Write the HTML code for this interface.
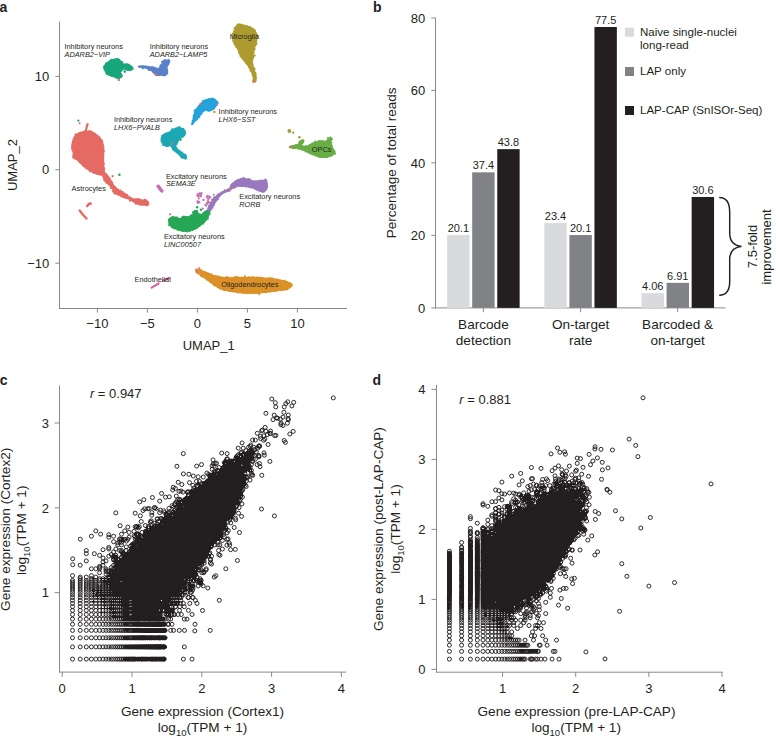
<!DOCTYPE html>
<html><head><meta charset="utf-8"><style>
html,body{margin:0;padding:0;background:#fff;}
svg{display:block;}
text{font-family:"Liberation Sans",sans-serif;fill:#231f20;}
.it{font-style:italic;}
</style></head><body>
<svg width="776" height="737" viewBox="0 0 776 737">
<text x="-0.6" y="11.5" font-size="14" font-weight="bold">a</text>
<text x="373" y="11.5" font-size="14" font-weight="bold">b</text>
<text x="-0.3" y="385.3" font-size="14" font-weight="bold">c</text>
<text x="372.6" y="385.2" font-size="14" font-weight="bold">d</text>
<line x1="59.5" y1="21.5" x2="59.5" y2="309.0" stroke="#8a8a8a" stroke-width="1"/>
<line x1="59.0" y1="308.5" x2="347" y2="308.5" stroke="#8a8a8a" stroke-width="1"/>
<line x1="55.3" y1="76.4" x2="59.5" y2="76.4" stroke="#8a8a8a" stroke-width="1"/>
<text x="49.30" y="81.05" font-size="13" text-anchor="end">10</text>
<line x1="55.3" y1="169.7" x2="59.5" y2="169.7" stroke="#8a8a8a" stroke-width="1"/>
<text x="49.30" y="174.35" font-size="13" text-anchor="end">0</text>
<line x1="55.3" y1="263.2" x2="59.5" y2="263.2" stroke="#8a8a8a" stroke-width="1"/>
<text x="49.30" y="267.85" font-size="13" text-anchor="end">−10</text>
<line x1="97.4" y1="308.5" x2="97.4" y2="312.6" stroke="#8a8a8a" stroke-width="1"/>
<text x="97.40" y="328.30" font-size="13" text-anchor="middle">−10</text>
<line x1="147.4" y1="308.5" x2="147.4" y2="312.6" stroke="#8a8a8a" stroke-width="1"/>
<text x="147.40" y="328.30" font-size="13" text-anchor="middle">−5</text>
<line x1="197.4" y1="308.5" x2="197.4" y2="312.6" stroke="#8a8a8a" stroke-width="1"/>
<text x="197.40" y="328.30" font-size="13" text-anchor="middle">0</text>
<line x1="247.4" y1="308.5" x2="247.4" y2="312.6" stroke="#8a8a8a" stroke-width="1"/>
<text x="247.40" y="328.30" font-size="13" text-anchor="middle">5</text>
<line x1="297.4" y1="308.5" x2="297.4" y2="312.6" stroke="#8a8a8a" stroke-width="1"/>
<text x="297.40" y="328.30" font-size="13" text-anchor="middle">10</text>
<text x="208.70" y="349.90" font-size="13" text-anchor="middle">UMAP_1</text>
<text transform="translate(17.4,165) rotate(-90)" font-size="13" text-anchor="middle">UMAP_2</text>
<line x1="435.5" y1="17.9" x2="435.5" y2="308.4" stroke="#8a8a8a" stroke-width="1"/>
<line x1="435.0" y1="307.9" x2="725.6" y2="307.9" stroke="#8a8a8a" stroke-width="1"/>
<line x1="431.3" y1="307.9" x2="435.5" y2="307.9" stroke="#8a8a8a" stroke-width="1"/>
<text x="425.20" y="312.55" font-size="13" text-anchor="end">0</text>
<line x1="431.3" y1="235.40999999999997" x2="435.5" y2="235.40999999999997" stroke="#8a8a8a" stroke-width="1"/>
<text x="425.20" y="240.06" font-size="13" text-anchor="end">20</text>
<line x1="431.3" y1="162.92" x2="435.5" y2="162.92" stroke="#8a8a8a" stroke-width="1"/>
<text x="425.20" y="167.57" font-size="13" text-anchor="end">40</text>
<line x1="431.3" y1="90.42999999999998" x2="435.5" y2="90.42999999999998" stroke="#8a8a8a" stroke-width="1"/>
<text x="425.20" y="95.08" font-size="13" text-anchor="end">60</text>
<line x1="431.3" y1="17.939999999999998" x2="435.5" y2="17.939999999999998" stroke="#8a8a8a" stroke-width="1"/>
<text x="425.20" y="22.59" font-size="13" text-anchor="end">80</text>
<line x1="483.4" y1="307.9" x2="483.4" y2="312.2" stroke="#8a8a8a" stroke-width="1"/>
<line x1="580.6" y1="307.9" x2="580.6" y2="312.2" stroke="#8a8a8a" stroke-width="1"/>
<line x1="677.6" y1="307.9" x2="677.6" y2="312.2" stroke="#8a8a8a" stroke-width="1"/>
<path d="M104.1,66.5 C104.4,65.0 105.7,63.6 107.2,62.4 C108.8,61.2 111.3,59.5 113.4,59.1 C115.5,58.7 118.0,59.1 119.6,59.8 C121.1,60.5 121.2,62.6 122.7,63.4 C124.2,64.2 127.2,63.5 128.9,64.4 C130.6,65.3 132.7,67.6 133.0,68.6 C133.3,69.6 131.6,70.1 130.5,70.4 C129.4,70.7 127.5,70.7 126.5,70.2 C125.5,69.7 125.2,67.7 124.6,67.6 C124.0,67.5 123.5,68.7 122.8,69.5 C122.1,70.3 120.7,71.5 120.6,72.6 C120.5,73.6 122.4,74.8 122.2,75.8 C122.0,76.8 120.7,78.2 119.6,78.4 C118.5,78.7 117.4,77.9 115.5,77.3 C113.6,76.7 109.9,75.7 108.2,74.7 C106.5,73.8 105.9,73.0 105.2,71.6 C104.5,70.2 103.8,68.0 104.1,66.5Z" fill="#18a67b" stroke="#18a67b" stroke-width="0.6"/>
<path d="M106.7 65.9a1.05 1.05 0 1 0-2.1 0a1.05 1.05 0 1 0 2.1 0M106.7 64.5a1.05 1.05 0 1 0-2.1 0a1.05 1.05 0 1 0 2.1 0M107.3 63.3a1.05 1.05 0 1 0-2.1 0a1.05 1.05 0 1 0 2.1 0M108.8 63.1a1.05 1.05 0 1 0-2.1 0a1.05 1.05 0 1 0 2.1 0M110.0 62.7a1.05 1.05 0 1 0-2.1 0a1.05 1.05 0 1 0 2.1 0M110.7 61.5a1.05 1.05 0 1 0-2.1 0a1.05 1.05 0 1 0 2.1 0M111.6 60.6a1.05 1.05 0 1 0-2.1 0a1.05 1.05 0 1 0 2.1 0M112.7 59.8a1.05 1.05 0 1 0-2.1 0a1.05 1.05 0 1 0 2.1 0M114.2 60.4a1.05 1.05 0 1 0-2.1 0a1.05 1.05 0 1 0 2.1 0M115.3 60.2a1.05 1.05 0 1 0-2.1 0a1.05 1.05 0 1 0 2.1 0M116.4 59.2a1.05 1.05 0 1 0-2.1 0a1.05 1.05 0 1 0 2.1 0M117.7 59.4a1.05 1.05 0 1 0-2.1 0a1.05 1.05 0 1 0 2.1 0M119.0 59.1a1.05 1.05 0 1 0-2.1 0a1.05 1.05 0 1 0 2.1 0M120.2 59.7a1.05 1.05 0 1 0-2.1 0a1.05 1.05 0 1 0 2.1 0M120.9 60.7a1.05 1.05 0 1 0-2.1 0a1.05 1.05 0 1 0 2.1 0M121.4 61.7a1.05 1.05 0 1 0-2.1 0a1.05 1.05 0 1 0 2.1 0M123.3 62.1a1.05 1.05 0 1 0-2.1 0a1.05 1.05 0 1 0 2.1 0M123.3 64.0a1.05 1.05 0 1 0-2.1 0a1.05 1.05 0 1 0 2.1 0M124.8 64.7a1.05 1.05 0 1 0-2.1 0a1.05 1.05 0 1 0 2.1 0M126.1 65.0a1.05 1.05 0 1 0-2.1 0a1.05 1.05 0 1 0 2.1 0M127.5 64.4a1.05 1.05 0 1 0-2.1 0a1.05 1.05 0 1 0 2.1 0M128.7 64.6a1.05 1.05 0 1 0-2.1 0a1.05 1.05 0 1 0 2.1 0M129.7 65.1a1.05 1.05 0 1 0-2.1 0a1.05 1.05 0 1 0 2.1 0M130.7 65.7a1.05 1.05 0 1 0-2.1 0a1.05 1.05 0 1 0 2.1 0M131.8 66.3a1.05 1.05 0 1 0-2.1 0a1.05 1.05 0 1 0 2.1 0M132.8 67.1a1.05 1.05 0 1 0-2.1 0a1.05 1.05 0 1 0 2.1 0M133.7 68.0a1.05 1.05 0 1 0-2.1 0a1.05 1.05 0 1 0 2.1 0M133.5 69.0a1.05 1.05 0 1 0-2.1 0a1.05 1.05 0 1 0 2.1 0M132.3 68.6a1.05 1.05 0 1 0-2.1 0a1.05 1.05 0 1 0 2.1 0M131.6 70.1a1.05 1.05 0 1 0-2.1 0a1.05 1.05 0 1 0 2.1 0M130.3 69.3a1.05 1.05 0 1 0-2.1 0a1.05 1.05 0 1 0 2.1 0M129.2 69.9a1.05 1.05 0 1 0-2.1 0a1.05 1.05 0 1 0 2.1 0M128.2 69.0a1.05 1.05 0 1 0-2.1 0a1.05 1.05 0 1 0 2.1 0M127.4 69.2a1.05 1.05 0 1 0-2.1 0a1.05 1.05 0 1 0 2.1 0M127.1 67.9a1.05 1.05 0 1 0-2.1 0a1.05 1.05 0 1 0 2.1 0M125.1 67.2a1.05 1.05 0 1 0-2.1 0a1.05 1.05 0 1 0 2.1 0M125.4 69.2a1.05 1.05 0 1 0-2.1 0a1.05 1.05 0 1 0 2.1 0M123.2 69.2a1.05 1.05 0 1 0-2.1 0a1.05 1.05 0 1 0 2.1 0M122.7 70.5a1.05 1.05 0 1 0-2.1 0a1.05 1.05 0 1 0 2.1 0M121.0 71.0a1.05 1.05 0 1 0-2.1 0a1.05 1.05 0 1 0 2.1 0M120.9 72.9a1.05 1.05 0 1 0-2.1 0a1.05 1.05 0 1 0 2.1 0M122.1 74.1a1.05 1.05 0 1 0-2.1 0a1.05 1.05 0 1 0 2.1 0M122.5 75.4a1.05 1.05 0 1 0-2.1 0a1.05 1.05 0 1 0 2.1 0M122.7 76.1a1.05 1.05 0 1 0-2.1 0a1.05 1.05 0 1 0 2.1 0M122.0 76.9a1.05 1.05 0 1 0-2.1 0a1.05 1.05 0 1 0 2.1 0M120.8 77.2a1.05 1.05 0 1 0-2.1 0a1.05 1.05 0 1 0 2.1 0M120.1 78.1a1.05 1.05 0 1 0-2.1 0a1.05 1.05 0 1 0 2.1 0M119.2 77.2a1.05 1.05 0 1 0-2.1 0a1.05 1.05 0 1 0 2.1 0M117.5 78.0a1.05 1.05 0 1 0-2.1 0a1.05 1.05 0 1 0 2.1 0M116.7 76.4a1.05 1.05 0 1 0-2.1 0a1.05 1.05 0 1 0 2.1 0M115.2 76.6a1.05 1.05 0 1 0-2.1 0a1.05 1.05 0 1 0 2.1 0M114.1 75.9a1.05 1.05 0 1 0-2.1 0a1.05 1.05 0 1 0 2.1 0M112.7 76.0a1.05 1.05 0 1 0-2.1 0a1.05 1.05 0 1 0 2.1 0M111.8 74.8a1.05 1.05 0 1 0-2.1 0a1.05 1.05 0 1 0 2.1 0M110.3 75.1a1.05 1.05 0 1 0-2.1 0a1.05 1.05 0 1 0 2.1 0M109.4 74.0a1.05 1.05 0 1 0-2.1 0a1.05 1.05 0 1 0 2.1 0M108.0 73.9a1.05 1.05 0 1 0-2.1 0a1.05 1.05 0 1 0 2.1 0M107.3 72.8a1.05 1.05 0 1 0-2.1 0a1.05 1.05 0 1 0 2.1 0M106.9 71.6a1.05 1.05 0 1 0-2.1 0a1.05 1.05 0 1 0 2.1 0M106.8 70.3a1.05 1.05 0 1 0-2.1 0a1.05 1.05 0 1 0 2.1 0M105.6 69.4a1.05 1.05 0 1 0-2.1 0a1.05 1.05 0 1 0 2.1 0M105.5 68.2a1.05 1.05 0 1 0-2.1 0a1.05 1.05 0 1 0 2.1 0M104.9 66.9a1.05 1.05 0 1 0-2.1 0a1.05 1.05 0 1 0 2.1 0" fill="#18a67b"/>
<path d="M139.2,66.0 C140.8,65.9 146.4,66.1 149.5,66.5 C152.6,66.9 155.8,68.8 157.7,68.6 C159.6,68.4 159.9,66.7 160.8,65.5 C161.7,64.3 162.0,62.2 162.9,61.3 C163.8,60.4 164.9,60.0 166.0,60.0 C167.1,60.0 168.9,60.6 169.3,61.3 C169.7,62.0 169.0,63.4 168.6,64.4 C168.2,65.4 167.2,66.1 167.0,67.5 C166.8,68.9 167.8,71.4 167.5,72.7 C167.2,74.0 166.6,74.9 165.0,75.3 C163.4,75.7 159.4,75.6 157.7,75.3 C156.0,75.0 156.1,74.7 154.6,73.7 C153.1,72.7 150.9,70.2 148.5,69.1 C146.1,68.0 141.8,67.5 140.2,67.0 C138.6,66.5 137.6,66.1 139.2,66.0Z" fill="#5a80c8" stroke="#5a80c8" stroke-width="0.6"/>
<path d="M141.5 66.8a1.05 1.05 0 1 0-2.1 0a1.05 1.05 0 1 0 2.1 0M142.8 66.3a1.05 1.05 0 1 0-2.1 0a1.05 1.05 0 1 0 2.1 0M144.1 66.4a1.05 1.05 0 1 0-2.1 0a1.05 1.05 0 1 0 2.1 0M145.4 66.5a1.05 1.05 0 1 0-2.1 0a1.05 1.05 0 1 0 2.1 0M146.7 66.6a1.05 1.05 0 1 0-2.1 0a1.05 1.05 0 1 0 2.1 0M148.0 66.7a1.05 1.05 0 1 0-2.1 0a1.05 1.05 0 1 0 2.1 0M149.2 67.3a1.05 1.05 0 1 0-2.1 0a1.05 1.05 0 1 0 2.1 0M150.4 67.6a1.05 1.05 0 1 0-2.1 0a1.05 1.05 0 1 0 2.1 0M151.7 67.5a1.05 1.05 0 1 0-2.1 0a1.05 1.05 0 1 0 2.1 0M153.1 67.4a1.05 1.05 0 1 0-2.1 0a1.05 1.05 0 1 0 2.1 0M154.4 67.4a1.05 1.05 0 1 0-2.1 0a1.05 1.05 0 1 0 2.1 0M155.6 68.1a1.05 1.05 0 1 0-2.1 0a1.05 1.05 0 1 0 2.1 0M156.8 68.4a1.05 1.05 0 1 0-2.1 0a1.05 1.05 0 1 0 2.1 0M158.1 68.8a1.05 1.05 0 1 0-2.1 0a1.05 1.05 0 1 0 2.1 0M159.5 68.7a1.05 1.05 0 1 0-2.1 0a1.05 1.05 0 1 0 2.1 0M160.9 68.0a1.05 1.05 0 1 0-2.1 0a1.05 1.05 0 1 0 2.1 0M161.4 66.7a1.05 1.05 0 1 0-2.1 0a1.05 1.05 0 1 0 2.1 0M161.6 65.4a1.05 1.05 0 1 0-2.1 0a1.05 1.05 0 1 0 2.1 0M163.2 64.7a1.05 1.05 0 1 0-2.1 0a1.05 1.05 0 1 0 2.1 0M163.8 63.5a1.05 1.05 0 1 0-2.1 0a1.05 1.05 0 1 0 2.1 0M163.1 61.8a1.05 1.05 0 1 0-2.1 0a1.05 1.05 0 1 0 2.1 0M164.6 61.3a1.05 1.05 0 1 0-2.1 0a1.05 1.05 0 1 0 2.1 0M165.4 60.4a1.05 1.05 0 1 0-2.1 0a1.05 1.05 0 1 0 2.1 0M166.7 60.2a1.05 1.05 0 1 0-2.1 0a1.05 1.05 0 1 0 2.1 0M167.7 61.2a1.05 1.05 0 1 0-2.1 0a1.05 1.05 0 1 0 2.1 0M169.4 59.9a1.05 1.05 0 1 0-2.1 0a1.05 1.05 0 1 0 2.1 0M170.5 61.0a1.05 1.05 0 1 0-2.1 0a1.05 1.05 0 1 0 2.1 0M169.9 62.3a1.05 1.05 0 1 0-2.1 0a1.05 1.05 0 1 0 2.1 0M169.7 63.6a1.05 1.05 0 1 0-2.1 0a1.05 1.05 0 1 0 2.1 0M169.0 64.6a1.05 1.05 0 1 0-2.1 0a1.05 1.05 0 1 0 2.1 0M167.8 65.3a1.05 1.05 0 1 0-2.1 0a1.05 1.05 0 1 0 2.1 0M167.5 66.9a1.05 1.05 0 1 0-2.1 0a1.05 1.05 0 1 0 2.1 0M167.6 68.4a1.05 1.05 0 1 0-2.1 0a1.05 1.05 0 1 0 2.1 0M168.2 69.7a1.05 1.05 0 1 0-2.1 0a1.05 1.05 0 1 0 2.1 0M168.3 71.0a1.05 1.05 0 1 0-2.1 0a1.05 1.05 0 1 0 2.1 0M168.0 72.2a1.05 1.05 0 1 0-2.1 0a1.05 1.05 0 1 0 2.1 0M168.4 73.5a1.05 1.05 0 1 0-2.1 0a1.05 1.05 0 1 0 2.1 0M167.0 73.8a1.05 1.05 0 1 0-2.1 0a1.05 1.05 0 1 0 2.1 0M166.4 75.0a1.05 1.05 0 1 0-2.1 0a1.05 1.05 0 1 0 2.1 0M165.2 75.4a1.05 1.05 0 1 0-2.1 0a1.05 1.05 0 1 0 2.1 0M163.8 74.8a1.05 1.05 0 1 0-2.1 0a1.05 1.05 0 1 0 2.1 0M162.6 74.1a1.05 1.05 0 1 0-2.1 0a1.05 1.05 0 1 0 2.1 0M161.3 74.5a1.05 1.05 0 1 0-2.1 0a1.05 1.05 0 1 0 2.1 0M160.0 75.0a1.05 1.05 0 1 0-2.1 0a1.05 1.05 0 1 0 2.1 0M158.7 75.0a1.05 1.05 0 1 0-2.1 0a1.05 1.05 0 1 0 2.1 0M157.4 75.1a1.05 1.05 0 1 0-2.1 0a1.05 1.05 0 1 0 2.1 0M157.0 73.3a1.05 1.05 0 1 0-2.1 0a1.05 1.05 0 1 0 2.1 0M155.7 73.0a1.05 1.05 0 1 0-2.1 0a1.05 1.05 0 1 0 2.1 0M154.5 72.4a1.05 1.05 0 1 0-2.1 0a1.05 1.05 0 1 0 2.1 0M153.8 71.3a1.05 1.05 0 1 0-2.1 0a1.05 1.05 0 1 0 2.1 0M153.5 69.5a1.05 1.05 0 1 0-2.1 0a1.05 1.05 0 1 0 2.1 0M151.4 70.0a1.05 1.05 0 1 0-2.1 0a1.05 1.05 0 1 0 2.1 0M149.9 69.9a1.05 1.05 0 1 0-2.1 0a1.05 1.05 0 1 0 2.1 0M149.1 68.8a1.05 1.05 0 1 0-2.1 0a1.05 1.05 0 1 0 2.1 0M148.1 67.5a1.05 1.05 0 1 0-2.1 0a1.05 1.05 0 1 0 2.1 0M146.7 67.4a1.05 1.05 0 1 0-2.1 0a1.05 1.05 0 1 0 2.1 0M145.4 67.4a1.05 1.05 0 1 0-2.1 0a1.05 1.05 0 1 0 2.1 0M143.9 68.2a1.05 1.05 0 1 0-2.1 0a1.05 1.05 0 1 0 2.1 0M142.8 67.1a1.05 1.05 0 1 0-2.1 0a1.05 1.05 0 1 0 2.1 0M141.6 66.5a1.05 1.05 0 1 0-2.1 0a1.05 1.05 0 1 0 2.1 0M140.2 66.8a1.05 1.05 0 1 0-2.1 0a1.05 1.05 0 1 0 2.1 0M139.9 66.7a1.05 1.05 0 1 0-2.1 0a1.05 1.05 0 1 0 2.1 0" fill="#5a80c8"/>
<path d="M234.3,29.3 C234.9,27.7 235.3,26.6 236.3,25.7 C237.3,24.8 238.7,24.2 240.4,24.2 C242.1,24.2 244.5,25.0 246.5,25.7 C248.5,26.4 251.0,27.1 252.6,28.2 C254.2,29.3 255.4,30.8 256.2,32.3 C257.0,33.8 257.2,35.5 257.2,37.4 C257.2,39.3 256.6,41.6 256.2,43.5 C255.8,45.4 255.0,46.6 254.6,48.6 C254.2,50.6 253.9,53.3 253.6,55.7 C253.3,58.1 252.4,60.5 252.6,62.9 C252.8,65.3 254.0,67.8 254.6,70.0 C255.2,72.2 255.9,74.3 256.2,76.1 C256.5,77.9 256.6,79.8 256.2,80.7 C255.8,81.6 254.7,82.0 254.1,81.2 C253.5,80.4 253.4,78.3 252.6,76.1 C251.8,73.9 250.9,70.4 249.5,68.0 C248.1,65.6 245.9,63.8 244.4,61.8 C242.9,59.8 241.6,57.9 240.4,55.7 C239.2,53.5 238.5,51.0 237.3,48.6 C236.1,46.2 234.0,43.7 233.2,41.5 C232.4,39.3 232.5,37.4 232.7,35.4 C232.9,33.4 233.7,30.9 234.3,29.3Z" fill="#ae9b30" stroke="#ae9b30" stroke-width="0.6"/>
<path d="M235.5 28.0a1.05 1.05 0 1 0-2.1 0a1.05 1.05 0 1 0 2.1 0M237.2 27.4a1.05 1.05 0 1 0-2.1 0a1.05 1.05 0 1 0 2.1 0M237.7 26.5a1.05 1.05 0 1 0-2.1 0a1.05 1.05 0 1 0 2.1 0M238.3 25.3a1.05 1.05 0 1 0-2.1 0a1.05 1.05 0 1 0 2.1 0M239.3 24.4a1.05 1.05 0 1 0-2.1 0a1.05 1.05 0 1 0 2.1 0M240.7 24.5a1.05 1.05 0 1 0-2.1 0a1.05 1.05 0 1 0 2.1 0M241.9 24.7a1.05 1.05 0 1 0-2.1 0a1.05 1.05 0 1 0 2.1 0M242.9 25.9a1.05 1.05 0 1 0-2.1 0a1.05 1.05 0 1 0 2.1 0M244.2 25.6a1.05 1.05 0 1 0-2.1 0a1.05 1.05 0 1 0 2.1 0M245.4 26.0a1.05 1.05 0 1 0-2.1 0a1.05 1.05 0 1 0 2.1 0M246.7 26.3a1.05 1.05 0 1 0-2.1 0a1.05 1.05 0 1 0 2.1 0M248.1 26.2a1.05 1.05 0 1 0-2.1 0a1.05 1.05 0 1 0 2.1 0M249.2 27.0a1.05 1.05 0 1 0-2.1 0a1.05 1.05 0 1 0 2.1 0M250.6 26.9a1.05 1.05 0 1 0-2.1 0a1.05 1.05 0 1 0 2.1 0M251.6 27.7a1.05 1.05 0 1 0-2.1 0a1.05 1.05 0 1 0 2.1 0M252.6 28.5a1.05 1.05 0 1 0-2.1 0a1.05 1.05 0 1 0 2.1 0M253.8 29.0a1.05 1.05 0 1 0-2.1 0a1.05 1.05 0 1 0 2.1 0M254.8 29.7a1.05 1.05 0 1 0-2.1 0a1.05 1.05 0 1 0 2.1 0M255.8 30.4a1.05 1.05 0 1 0-2.1 0a1.05 1.05 0 1 0 2.1 0M256.0 31.8a1.05 1.05 0 1 0-2.1 0a1.05 1.05 0 1 0 2.1 0M256.7 32.8a1.05 1.05 0 1 0-2.1 0a1.05 1.05 0 1 0 2.1 0M256.6 34.1a1.05 1.05 0 1 0-2.1 0a1.05 1.05 0 1 0 2.1 0M258.3 35.0a1.05 1.05 0 1 0-2.1 0a1.05 1.05 0 1 0 2.1 0M258.3 36.3a1.05 1.05 0 1 0-2.1 0a1.05 1.05 0 1 0 2.1 0M257.6 37.6a1.05 1.05 0 1 0-2.1 0a1.05 1.05 0 1 0 2.1 0M257.3 38.8a1.05 1.05 0 1 0-2.1 0a1.05 1.05 0 1 0 2.1 0M256.8 40.0a1.05 1.05 0 1 0-2.1 0a1.05 1.05 0 1 0 2.1 0M257.2 41.3a1.05 1.05 0 1 0-2.1 0a1.05 1.05 0 1 0 2.1 0M256.9 42.6a1.05 1.05 0 1 0-2.1 0a1.05 1.05 0 1 0 2.1 0M257.6 44.1a1.05 1.05 0 1 0-2.1 0a1.05 1.05 0 1 0 2.1 0M256.3 45.1a1.05 1.05 0 1 0-2.1 0a1.05 1.05 0 1 0 2.1 0M255.4 46.1a1.05 1.05 0 1 0-2.1 0a1.05 1.05 0 1 0 2.1 0M254.1 47.2a1.05 1.05 0 1 0-2.1 0a1.05 1.05 0 1 0 2.1 0M255.7 49.0a1.05 1.05 0 1 0-2.1 0a1.05 1.05 0 1 0 2.1 0M254.9 50.1a1.05 1.05 0 1 0-2.1 0a1.05 1.05 0 1 0 2.1 0M253.8 51.3a1.05 1.05 0 1 0-2.1 0a1.05 1.05 0 1 0 2.1 0M254.5 52.7a1.05 1.05 0 1 0-2.1 0a1.05 1.05 0 1 0 2.1 0M253.5 53.9a1.05 1.05 0 1 0-2.1 0a1.05 1.05 0 1 0 2.1 0M255.8 55.5a1.05 1.05 0 1 0-2.1 0a1.05 1.05 0 1 0 2.1 0M254.5 56.7a1.05 1.05 0 1 0-2.1 0a1.05 1.05 0 1 0 2.1 0M253.9 57.9a1.05 1.05 0 1 0-2.1 0a1.05 1.05 0 1 0 2.1 0M253.3 59.1a1.05 1.05 0 1 0-2.1 0a1.05 1.05 0 1 0 2.1 0M252.1 60.2a1.05 1.05 0 1 0-2.1 0a1.05 1.05 0 1 0 2.1 0M253.0 61.8a1.05 1.05 0 1 0-2.1 0a1.05 1.05 0 1 0 2.1 0M252.3 63.2a1.05 1.05 0 1 0-2.1 0a1.05 1.05 0 1 0 2.1 0M253.6 64.4a1.05 1.05 0 1 0-2.1 0a1.05 1.05 0 1 0 2.1 0M252.6 66.1a1.05 1.05 0 1 0-2.1 0a1.05 1.05 0 1 0 2.1 0M253.6 67.2a1.05 1.05 0 1 0-2.1 0a1.05 1.05 0 1 0 2.1 0M255.0 68.1a1.05 1.05 0 1 0-2.1 0a1.05 1.05 0 1 0 2.1 0M255.7 69.3a1.05 1.05 0 1 0-2.1 0a1.05 1.05 0 1 0 2.1 0M254.7 70.9a1.05 1.05 0 1 0-2.1 0a1.05 1.05 0 1 0 2.1 0M254.9 72.2a1.05 1.05 0 1 0-2.1 0a1.05 1.05 0 1 0 2.1 0M256.4 73.1a1.05 1.05 0 1 0-2.1 0a1.05 1.05 0 1 0 2.1 0M256.7 74.4a1.05 1.05 0 1 0-2.1 0a1.05 1.05 0 1 0 2.1 0M256.1 75.8a1.05 1.05 0 1 0-2.1 0a1.05 1.05 0 1 0 2.1 0M256.4 77.0a1.05 1.05 0 1 0-2.1 0a1.05 1.05 0 1 0 2.1 0M256.5 78.2a1.05 1.05 0 1 0-2.1 0a1.05 1.05 0 1 0 2.1 0M256.3 79.4a1.05 1.05 0 1 0-2.1 0a1.05 1.05 0 1 0 2.1 0M256.4 80.3a1.05 1.05 0 1 0-2.1 0a1.05 1.05 0 1 0 2.1 0M256.3 81.6a1.05 1.05 0 1 0-2.1 0a1.05 1.05 0 1 0 2.1 0M255.3 81.0a1.05 1.05 0 1 0-2.1 0a1.05 1.05 0 1 0 2.1 0M254.2 80.1a1.05 1.05 0 1 0-2.1 0a1.05 1.05 0 1 0 2.1 0M255.0 78.5a1.05 1.05 0 1 0-2.1 0a1.05 1.05 0 1 0 2.1 0M254.7 77.3a1.05 1.05 0 1 0-2.1 0a1.05 1.05 0 1 0 2.1 0M254.7 75.8a1.05 1.05 0 1 0-2.1 0a1.05 1.05 0 1 0 2.1 0M253.9 74.7a1.05 1.05 0 1 0-2.1 0a1.05 1.05 0 1 0 2.1 0M254.1 73.3a1.05 1.05 0 1 0-2.1 0a1.05 1.05 0 1 0 2.1 0M253.9 72.0a1.05 1.05 0 1 0-2.1 0a1.05 1.05 0 1 0 2.1 0M252.2 71.2a1.05 1.05 0 1 0-2.1 0a1.05 1.05 0 1 0 2.1 0M251.4 70.1a1.05 1.05 0 1 0-2.1 0a1.05 1.05 0 1 0 2.1 0M251.2 68.8a1.05 1.05 0 1 0-2.1 0a1.05 1.05 0 1 0 2.1 0M250.3 67.8a1.05 1.05 0 1 0-2.1 0a1.05 1.05 0 1 0 2.1 0M250.0 66.4a1.05 1.05 0 1 0-2.1 0a1.05 1.05 0 1 0 2.1 0M249.5 65.0a1.05 1.05 0 1 0-2.1 0a1.05 1.05 0 1 0 2.1 0M248.4 64.3a1.05 1.05 0 1 0-2.1 0a1.05 1.05 0 1 0 2.1 0M247.7 63.2a1.05 1.05 0 1 0-2.1 0a1.05 1.05 0 1 0 2.1 0M247.1 62.0a1.05 1.05 0 1 0-2.1 0a1.05 1.05 0 1 0 2.1 0M246.6 60.9a1.05 1.05 0 1 0-2.1 0a1.05 1.05 0 1 0 2.1 0M245.7 59.9a1.05 1.05 0 1 0-2.1 0a1.05 1.05 0 1 0 2.1 0M244.4 59.3a1.05 1.05 0 1 0-2.1 0a1.05 1.05 0 1 0 2.1 0M243.6 58.3a1.05 1.05 0 1 0-2.1 0a1.05 1.05 0 1 0 2.1 0M243.2 57.0a1.05 1.05 0 1 0-2.1 0a1.05 1.05 0 1 0 2.1 0M241.7 56.4a1.05 1.05 0 1 0-2.1 0a1.05 1.05 0 1 0 2.1 0M241.6 54.9a1.05 1.05 0 1 0-2.1 0a1.05 1.05 0 1 0 2.1 0M240.9 53.9a1.05 1.05 0 1 0-2.1 0a1.05 1.05 0 1 0 2.1 0M240.1 52.8a1.05 1.05 0 1 0-2.1 0a1.05 1.05 0 1 0 2.1 0M240.6 51.2a1.05 1.05 0 1 0-2.1 0a1.05 1.05 0 1 0 2.1 0M240.6 49.8a1.05 1.05 0 1 0-2.1 0a1.05 1.05 0 1 0 2.1 0M238.8 49.1a1.05 1.05 0 1 0-2.1 0a1.05 1.05 0 1 0 2.1 0M238.9 47.6a1.05 1.05 0 1 0-2.1 0a1.05 1.05 0 1 0 2.1 0M237.3 47.0a1.05 1.05 0 1 0-2.1 0a1.05 1.05 0 1 0 2.1 0M237.0 45.6a1.05 1.05 0 1 0-2.1 0a1.05 1.05 0 1 0 2.1 0M236.1 44.7a1.05 1.05 0 1 0-2.1 0a1.05 1.05 0 1 0 2.1 0M235.5 43.5a1.05 1.05 0 1 0-2.1 0a1.05 1.05 0 1 0 2.1 0M236.2 41.8a1.05 1.05 0 1 0-2.1 0a1.05 1.05 0 1 0 2.1 0M234.4 41.2a1.05 1.05 0 1 0-2.1 0a1.05 1.05 0 1 0 2.1 0M234.8 39.8a1.05 1.05 0 1 0-2.1 0a1.05 1.05 0 1 0 2.1 0M234.6 38.7a1.05 1.05 0 1 0-2.1 0a1.05 1.05 0 1 0 2.1 0M234.4 37.4a1.05 1.05 0 1 0-2.1 0a1.05 1.05 0 1 0 2.1 0M233.9 36.2a1.05 1.05 0 1 0-2.1 0a1.05 1.05 0 1 0 2.1 0M234.0 34.9a1.05 1.05 0 1 0-2.1 0a1.05 1.05 0 1 0 2.1 0M234.1 33.6a1.05 1.05 0 1 0-2.1 0a1.05 1.05 0 1 0 2.1 0M235.7 32.7a1.05 1.05 0 1 0-2.1 0a1.05 1.05 0 1 0 2.1 0M235.6 31.3a1.05 1.05 0 1 0-2.1 0a1.05 1.05 0 1 0 2.1 0M236.8 30.4a1.05 1.05 0 1 0-2.1 0a1.05 1.05 0 1 0 2.1 0" fill="#ae9b30"/>
<path d="M191.8,123.5 C191.8,122.5 192.9,119.7 193.3,117.8 C193.7,115.9 193.6,113.9 194.3,112.2 C195.0,110.5 196.2,109.1 197.4,107.5 C198.6,105.9 200.1,103.7 201.5,102.4 C202.9,101.1 204.0,100.5 205.7,99.8 C207.4,99.1 210.2,98.2 211.9,98.2 C213.6,98.2 215.0,98.9 216.0,99.8 C217.0,100.7 218.0,102.3 218.0,103.4 C218.0,104.5 216.8,105.5 216.0,106.5 C215.2,107.5 213.9,108.8 212.9,109.6 C211.9,110.4 211.0,110.9 209.8,111.1 C208.6,111.3 207.1,110.2 205.7,110.6 C204.3,111.0 202.7,112.5 201.5,113.7 C200.3,114.9 199.9,116.2 198.5,117.8 C197.1,119.4 194.4,122.5 193.3,123.5 C192.2,124.5 191.8,124.5 191.8,123.5Z" fill="#24a2da" stroke="#24a2da" stroke-width="0.6"/>
<path d="M193.7 122.4a1.05 1.05 0 1 0-2.1 0a1.05 1.05 0 1 0 2.1 0M193.7 121.1a1.05 1.05 0 1 0-2.1 0a1.05 1.05 0 1 0 2.1 0M194.8 120.0a1.05 1.05 0 1 0-2.1 0a1.05 1.05 0 1 0 2.1 0M194.6 118.6a1.05 1.05 0 1 0-2.1 0a1.05 1.05 0 1 0 2.1 0M194.9 117.3a1.05 1.05 0 1 0-2.1 0a1.05 1.05 0 1 0 2.1 0M194.7 115.9a1.05 1.05 0 1 0-2.1 0a1.05 1.05 0 1 0 2.1 0M195.8 114.8a1.05 1.05 0 1 0-2.1 0a1.05 1.05 0 1 0 2.1 0M196.0 113.6a1.05 1.05 0 1 0-2.1 0a1.05 1.05 0 1 0 2.1 0M196.3 112.5a1.05 1.05 0 1 0-2.1 0a1.05 1.05 0 1 0 2.1 0M195.7 110.8a1.05 1.05 0 1 0-2.1 0a1.05 1.05 0 1 0 2.1 0M196.7 109.9a1.05 1.05 0 1 0-2.1 0a1.05 1.05 0 1 0 2.1 0M198.0 109.2a1.05 1.05 0 1 0-2.1 0a1.05 1.05 0 1 0 2.1 0M198.6 108.1a1.05 1.05 0 1 0-2.1 0a1.05 1.05 0 1 0 2.1 0M199.4 107.1a1.05 1.05 0 1 0-2.1 0a1.05 1.05 0 1 0 2.1 0M200.2 106.0a1.05 1.05 0 1 0-2.1 0a1.05 1.05 0 1 0 2.1 0M201.1 105.1a1.05 1.05 0 1 0-2.1 0a1.05 1.05 0 1 0 2.1 0M202.0 104.1a1.05 1.05 0 1 0-2.1 0a1.05 1.05 0 1 0 2.1 0M203.1 103.6a1.05 1.05 0 1 0-2.1 0a1.05 1.05 0 1 0 2.1 0M203.8 102.5a1.05 1.05 0 1 0-2.1 0a1.05 1.05 0 1 0 2.1 0M204.1 100.8a1.05 1.05 0 1 0-2.1 0a1.05 1.05 0 1 0 2.1 0M205.5 100.7a1.05 1.05 0 1 0-2.1 0a1.05 1.05 0 1 0 2.1 0M206.8 100.4a1.05 1.05 0 1 0-2.1 0a1.05 1.05 0 1 0 2.1 0M208.0 100.1a1.05 1.05 0 1 0-2.1 0a1.05 1.05 0 1 0 2.1 0M209.2 99.5a1.05 1.05 0 1 0-2.1 0a1.05 1.05 0 1 0 2.1 0M210.4 99.0a1.05 1.05 0 1 0-2.1 0a1.05 1.05 0 1 0 2.1 0M211.7 99.3a1.05 1.05 0 1 0-2.1 0a1.05 1.05 0 1 0 2.1 0M212.9 98.7a1.05 1.05 0 1 0-2.1 0a1.05 1.05 0 1 0 2.1 0M214.0 98.8a1.05 1.05 0 1 0-2.1 0a1.05 1.05 0 1 0 2.1 0M215.0 99.6a1.05 1.05 0 1 0-2.1 0a1.05 1.05 0 1 0 2.1 0M215.9 100.2a1.05 1.05 0 1 0-2.1 0a1.05 1.05 0 1 0 2.1 0M216.7 101.0a1.05 1.05 0 1 0-2.1 0a1.05 1.05 0 1 0 2.1 0M217.3 101.8a1.05 1.05 0 1 0-2.1 0a1.05 1.05 0 1 0 2.1 0M218.7 102.5a1.05 1.05 0 1 0-2.1 0a1.05 1.05 0 1 0 2.1 0M217.3 103.5a1.05 1.05 0 1 0-2.1 0a1.05 1.05 0 1 0 2.1 0M217.9 104.4a1.05 1.05 0 1 0-2.1 0a1.05 1.05 0 1 0 2.1 0M217.0 105.2a1.05 1.05 0 1 0-2.1 0a1.05 1.05 0 1 0 2.1 0M216.1 106.2a1.05 1.05 0 1 0-2.1 0a1.05 1.05 0 1 0 2.1 0M215.5 107.4a1.05 1.05 0 1 0-2.1 0a1.05 1.05 0 1 0 2.1 0M215.0 108.7a1.05 1.05 0 1 0-2.1 0a1.05 1.05 0 1 0 2.1 0M213.7 109.1a1.05 1.05 0 1 0-2.1 0a1.05 1.05 0 1 0 2.1 0M212.6 109.7a1.05 1.05 0 1 0-2.1 0a1.05 1.05 0 1 0 2.1 0M211.5 110.0a1.05 1.05 0 1 0-2.1 0a1.05 1.05 0 1 0 2.1 0M210.6 110.5a1.05 1.05 0 1 0-2.1 0a1.05 1.05 0 1 0 2.1 0M209.3 110.7a1.05 1.05 0 1 0-2.1 0a1.05 1.05 0 1 0 2.1 0M208.1 109.8a1.05 1.05 0 1 0-2.1 0a1.05 1.05 0 1 0 2.1 0M206.3 109.5a1.05 1.05 0 1 0-2.1 0a1.05 1.05 0 1 0 2.1 0M204.9 110.1a1.05 1.05 0 1 0-2.1 0a1.05 1.05 0 1 0 2.1 0M203.8 111.0a1.05 1.05 0 1 0-2.1 0a1.05 1.05 0 1 0 2.1 0M202.6 111.8a1.05 1.05 0 1 0-2.1 0a1.05 1.05 0 1 0 2.1 0M202.5 113.7a1.05 1.05 0 1 0-2.1 0a1.05 1.05 0 1 0 2.1 0M201.4 114.4a1.05 1.05 0 1 0-2.1 0a1.05 1.05 0 1 0 2.1 0M200.4 115.4a1.05 1.05 0 1 0-2.1 0a1.05 1.05 0 1 0 2.1 0M200.4 116.9a1.05 1.05 0 1 0-2.1 0a1.05 1.05 0 1 0 2.1 0M198.8 117.3a1.05 1.05 0 1 0-2.1 0a1.05 1.05 0 1 0 2.1 0M198.5 118.7a1.05 1.05 0 1 0-2.1 0a1.05 1.05 0 1 0 2.1 0M197.6 119.7a1.05 1.05 0 1 0-2.1 0a1.05 1.05 0 1 0 2.1 0M195.9 119.9a1.05 1.05 0 1 0-2.1 0a1.05 1.05 0 1 0 2.1 0M195.0 120.9a1.05 1.05 0 1 0-2.1 0a1.05 1.05 0 1 0 2.1 0M194.4 122.0a1.05 1.05 0 1 0-2.1 0a1.05 1.05 0 1 0 2.1 0M194.1 123.5a1.05 1.05 0 1 0-2.1 0a1.05 1.05 0 1 0 2.1 0M193.1 124.2a1.05 1.05 0 1 0-2.1 0a1.05 1.05 0 1 0 2.1 0" fill="#24a2da"/>
<path d="M161.3,138.5 C161.5,136.9 161.9,135.5 163.4,134.3 C164.9,133.1 168.4,132.3 170.6,131.2 C172.8,130.1 174.7,128.0 176.8,127.6 C178.9,127.2 181.5,127.9 183.0,128.7 C184.5,129.5 185.4,131.0 185.6,132.3 C185.8,133.6 185.0,135.4 184.0,136.4 C183.0,137.4 180.4,137.5 179.4,138.5 C178.4,139.5 178.4,141.2 177.8,142.6 C177.2,144.0 175.3,145.1 175.8,146.7 C176.3,148.2 179.2,150.5 180.9,151.9 C182.6,153.3 185.2,153.9 186.1,155.0 C187.0,156.1 186.6,158.1 186.1,158.6 C185.6,159.1 184.4,158.8 183.0,158.0 C181.6,157.2 179.5,155.3 177.8,153.9 C176.1,152.5 173.9,150.7 172.7,149.3 C171.5,147.9 171.6,146.1 170.6,145.7 C169.6,145.3 167.9,147.0 166.5,146.7 C165.1,146.3 163.3,145.0 162.4,143.6 C161.5,142.2 161.1,140.1 161.3,138.5Z" fill="#1aa9b4" stroke="#1aa9b4" stroke-width="0.6"/>
<path d="M163.7 137.5a1.05 1.05 0 1 0-2.1 0a1.05 1.05 0 1 0 2.1 0M163.1 136.0a1.05 1.05 0 1 0-2.1 0a1.05 1.05 0 1 0 2.1 0M164.4 135.5a1.05 1.05 0 1 0-2.1 0a1.05 1.05 0 1 0 2.1 0M165.2 134.8a1.05 1.05 0 1 0-2.1 0a1.05 1.05 0 1 0 2.1 0M166.3 134.3a1.05 1.05 0 1 0-2.1 0a1.05 1.05 0 1 0 2.1 0M167.4 133.7a1.05 1.05 0 1 0-2.1 0a1.05 1.05 0 1 0 2.1 0M168.8 133.9a1.05 1.05 0 1 0-2.1 0a1.05 1.05 0 1 0 2.1 0M169.9 133.1a1.05 1.05 0 1 0-2.1 0a1.05 1.05 0 1 0 2.1 0M171.2 132.7a1.05 1.05 0 1 0-2.1 0a1.05 1.05 0 1 0 2.1 0M172.1 131.4a1.05 1.05 0 1 0-2.1 0a1.05 1.05 0 1 0 2.1 0M172.8 130.0a1.05 1.05 0 1 0-2.1 0a1.05 1.05 0 1 0 2.1 0M173.6 129.0a1.05 1.05 0 1 0-2.1 0a1.05 1.05 0 1 0 2.1 0M175.6 129.5a1.05 1.05 0 1 0-2.1 0a1.05 1.05 0 1 0 2.1 0M177.0 129.5a1.05 1.05 0 1 0-2.1 0a1.05 1.05 0 1 0 2.1 0M177.7 128.5a1.05 1.05 0 1 0-2.1 0a1.05 1.05 0 1 0 2.1 0M178.8 128.6a1.05 1.05 0 1 0-2.1 0a1.05 1.05 0 1 0 2.1 0M180.1 127.1a1.05 1.05 0 1 0-2.1 0a1.05 1.05 0 1 0 2.1 0M181.2 128.0a1.05 1.05 0 1 0-2.1 0a1.05 1.05 0 1 0 2.1 0M182.3 129.0a1.05 1.05 0 1 0-2.1 0a1.05 1.05 0 1 0 2.1 0M183.7 128.7a1.05 1.05 0 1 0-2.1 0a1.05 1.05 0 1 0 2.1 0M184.7 129.5a1.05 1.05 0 1 0-2.1 0a1.05 1.05 0 1 0 2.1 0M184.6 131.0a1.05 1.05 0 1 0-2.1 0a1.05 1.05 0 1 0 2.1 0M185.6 131.6a1.05 1.05 0 1 0-2.1 0a1.05 1.05 0 1 0 2.1 0M186.0 132.6a1.05 1.05 0 1 0-2.1 0a1.05 1.05 0 1 0 2.1 0M185.9 133.7a1.05 1.05 0 1 0-2.1 0a1.05 1.05 0 1 0 2.1 0M185.5 134.8a1.05 1.05 0 1 0-2.1 0a1.05 1.05 0 1 0 2.1 0M184.7 135.6a1.05 1.05 0 1 0-2.1 0a1.05 1.05 0 1 0 2.1 0M184.0 136.5a1.05 1.05 0 1 0-2.1 0a1.05 1.05 0 1 0 2.1 0M182.8 136.5a1.05 1.05 0 1 0-2.1 0a1.05 1.05 0 1 0 2.1 0M181.4 136.8a1.05 1.05 0 1 0-2.1 0a1.05 1.05 0 1 0 2.1 0M180.7 138.5a1.05 1.05 0 1 0-2.1 0a1.05 1.05 0 1 0 2.1 0M179.5 139.2a1.05 1.05 0 1 0-2.1 0a1.05 1.05 0 1 0 2.1 0M179.1 140.5a1.05 1.05 0 1 0-2.1 0a1.05 1.05 0 1 0 2.1 0M177.8 141.5a1.05 1.05 0 1 0-2.1 0a1.05 1.05 0 1 0 2.1 0M178.0 142.7a1.05 1.05 0 1 0-2.1 0a1.05 1.05 0 1 0 2.1 0M177.7 144.0a1.05 1.05 0 1 0-2.1 0a1.05 1.05 0 1 0 2.1 0M176.0 144.5a1.05 1.05 0 1 0-2.1 0a1.05 1.05 0 1 0 2.1 0M176.7 146.4a1.05 1.05 0 1 0-2.1 0a1.05 1.05 0 1 0 2.1 0M176.7 148.0a1.05 1.05 0 1 0-2.1 0a1.05 1.05 0 1 0 2.1 0M177.9 148.8a1.05 1.05 0 1 0-2.1 0a1.05 1.05 0 1 0 2.1 0M178.6 150.0a1.05 1.05 0 1 0-2.1 0a1.05 1.05 0 1 0 2.1 0M179.7 150.7a1.05 1.05 0 1 0-2.1 0a1.05 1.05 0 1 0 2.1 0M181.0 151.2a1.05 1.05 0 1 0-2.1 0a1.05 1.05 0 1 0 2.1 0M181.6 152.6a1.05 1.05 0 1 0-2.1 0a1.05 1.05 0 1 0 2.1 0M183.2 152.5a1.05 1.05 0 1 0-2.1 0a1.05 1.05 0 1 0 2.1 0M183.9 154.2a1.05 1.05 0 1 0-2.1 0a1.05 1.05 0 1 0 2.1 0M185.0 154.8a1.05 1.05 0 1 0-2.1 0a1.05 1.05 0 1 0 2.1 0M186.4 154.7a1.05 1.05 0 1 0-2.1 0a1.05 1.05 0 1 0 2.1 0M186.4 155.9a1.05 1.05 0 1 0-2.1 0a1.05 1.05 0 1 0 2.1 0M186.9 156.7a1.05 1.05 0 1 0-2.1 0a1.05 1.05 0 1 0 2.1 0M187.3 158.0a1.05 1.05 0 1 0-2.1 0a1.05 1.05 0 1 0 2.1 0M186.6 158.8a1.05 1.05 0 1 0-2.1 0a1.05 1.05 0 1 0 2.1 0M185.9 157.2a1.05 1.05 0 1 0-2.1 0a1.05 1.05 0 1 0 2.1 0M184.3 157.7a1.05 1.05 0 1 0-2.1 0a1.05 1.05 0 1 0 2.1 0M182.8 157.6a1.05 1.05 0 1 0-2.1 0a1.05 1.05 0 1 0 2.1 0M182.0 156.6a1.05 1.05 0 1 0-2.1 0a1.05 1.05 0 1 0 2.1 0M181.5 155.2a1.05 1.05 0 1 0-2.1 0a1.05 1.05 0 1 0 2.1 0M180.6 154.2a1.05 1.05 0 1 0-2.1 0a1.05 1.05 0 1 0 2.1 0M179.5 153.5a1.05 1.05 0 1 0-2.1 0a1.05 1.05 0 1 0 2.1 0M178.8 152.3a1.05 1.05 0 1 0-2.1 0a1.05 1.05 0 1 0 2.1 0M177.5 151.8a1.05 1.05 0 1 0-2.1 0a1.05 1.05 0 1 0 2.1 0M176.5 151.0a1.05 1.05 0 1 0-2.1 0a1.05 1.05 0 1 0 2.1 0M175.5 150.2a1.05 1.05 0 1 0-2.1 0a1.05 1.05 0 1 0 2.1 0M174.2 149.7a1.05 1.05 0 1 0-2.1 0a1.05 1.05 0 1 0 2.1 0M173.9 148.4a1.05 1.05 0 1 0-2.1 0a1.05 1.05 0 1 0 2.1 0M174.0 147.1a1.05 1.05 0 1 0-2.1 0a1.05 1.05 0 1 0 2.1 0M172.4 146.3a1.05 1.05 0 1 0-2.1 0a1.05 1.05 0 1 0 2.1 0M171.3 144.5a1.05 1.05 0 1 0-2.1 0a1.05 1.05 0 1 0 2.1 0M169.7 145.3a1.05 1.05 0 1 0-2.1 0a1.05 1.05 0 1 0 2.1 0M168.7 145.9a1.05 1.05 0 1 0-2.1 0a1.05 1.05 0 1 0 2.1 0M167.7 145.9a1.05 1.05 0 1 0-2.1 0a1.05 1.05 0 1 0 2.1 0M166.9 145.3a1.05 1.05 0 1 0-2.1 0a1.05 1.05 0 1 0 2.1 0M165.7 144.9a1.05 1.05 0 1 0-2.1 0a1.05 1.05 0 1 0 2.1 0M164.0 145.0a1.05 1.05 0 1 0-2.1 0a1.05 1.05 0 1 0 2.1 0M164.2 143.2a1.05 1.05 0 1 0-2.1 0a1.05 1.05 0 1 0 2.1 0M163.5 142.3a1.05 1.05 0 1 0-2.1 0a1.05 1.05 0 1 0 2.1 0M162.6 141.3a1.05 1.05 0 1 0-2.1 0a1.05 1.05 0 1 0 2.1 0M162.6 140.0a1.05 1.05 0 1 0-2.1 0a1.05 1.05 0 1 0 2.1 0M162.6 138.7a1.05 1.05 0 1 0-2.1 0a1.05 1.05 0 1 0 2.1 0" fill="#1aa9b4"/>
<path d="M78.2,133.0 C76.5,134.0 74.8,135.9 73.8,137.4 C72.8,138.9 72.9,140.2 72.5,141.8 C72.1,143.4 71.5,145.3 71.6,147.1 C71.7,148.9 72.7,150.6 72.9,152.4 C73.1,154.2 72.3,156.5 72.9,157.7 C73.5,158.9 75.2,158.4 76.5,159.4 C77.8,160.4 79.3,162.4 80.9,163.9 C82.5,165.4 84.4,167.0 86.2,168.3 C88.0,169.6 89.8,170.8 91.5,171.8 C93.2,172.8 95.0,173.8 96.7,174.4 C98.5,175.0 100.7,174.5 102.0,175.5 C103.3,176.5 103.1,178.9 104.3,180.5 C105.5,182.1 107.5,183.6 108.9,185.1 C110.3,186.6 112.0,188.4 112.8,189.7 C113.6,191.0 112.9,191.8 113.9,192.8 C114.9,193.8 117.0,194.6 119.0,195.5 C121.0,196.4 123.9,197.5 125.9,198.3 C128.0,199.2 129.5,199.6 131.3,200.6 C133.1,201.6 134.5,203.3 136.8,204.1 C139.1,204.9 143.2,205.2 145.3,205.2 C147.4,205.2 149.0,205.1 149.1,204.1 C149.2,203.1 146.8,200.1 145.7,199.4 C144.5,198.8 143.6,200.3 142.2,200.2 C140.8,200.1 138.9,199.2 137.5,199.0 C136.1,198.8 135.2,199.5 133.7,199.0 C132.2,198.5 130.1,197.1 128.3,195.9 C126.5,194.8 124.6,193.2 122.8,192.1 C121.0,190.9 119.1,190.4 117.4,189.0 C115.7,187.6 114.1,185.4 112.8,183.6 C111.5,181.8 111.0,179.9 109.7,178.1 C108.4,176.3 106.1,174.8 105.1,172.7 C104.1,170.6 104.0,167.8 103.8,165.6 C103.6,163.4 103.8,161.4 103.8,159.4 C103.8,157.4 103.8,155.4 103.8,153.3 C103.8,151.2 104.1,149.2 103.8,147.1 C103.5,145.0 102.7,142.7 102.0,140.9 C101.3,139.1 100.6,137.8 99.4,136.5 C98.2,135.2 96.5,134.3 95.0,133.4 C93.5,132.5 91.9,131.6 90.6,131.2 C89.3,130.8 88.1,131.1 87.0,131.2 C85.9,131.2 85.5,131.2 84.0,131.5 C82.5,131.8 79.9,132.0 78.2,133.0Z" fill="#e66a64" stroke="#e66a64" stroke-width="0.6"/>
<path d="M78.8 134.5a1.05 1.05 0 1 0-2.1 0a1.05 1.05 0 1 0 2.1 0M76.9 134.3a1.05 1.05 0 1 0-2.1 0a1.05 1.05 0 1 0 2.1 0M76.4 135.6a1.05 1.05 0 1 0-2.1 0a1.05 1.05 0 1 0 2.1 0M76.0 136.9a1.05 1.05 0 1 0-2.1 0a1.05 1.05 0 1 0 2.1 0M75.5 138.0a1.05 1.05 0 1 0-2.1 0a1.05 1.05 0 1 0 2.1 0M75.4 139.2a1.05 1.05 0 1 0-2.1 0a1.05 1.05 0 1 0 2.1 0M74.7 140.2a1.05 1.05 0 1 0-2.1 0a1.05 1.05 0 1 0 2.1 0M74.1 141.4a1.05 1.05 0 1 0-2.1 0a1.05 1.05 0 1 0 2.1 0M74.0 142.7a1.05 1.05 0 1 0-2.1 0a1.05 1.05 0 1 0 2.1 0M73.5 144.0a1.05 1.05 0 1 0-2.1 0a1.05 1.05 0 1 0 2.1 0M73.5 145.2a1.05 1.05 0 1 0-2.1 0a1.05 1.05 0 1 0 2.1 0M73.6 146.5a1.05 1.05 0 1 0-2.1 0a1.05 1.05 0 1 0 2.1 0M73.1 147.6a1.05 1.05 0 1 0-2.1 0a1.05 1.05 0 1 0 2.1 0M73.2 148.9a1.05 1.05 0 1 0-2.1 0a1.05 1.05 0 1 0 2.1 0M73.6 150.2a1.05 1.05 0 1 0-2.1 0a1.05 1.05 0 1 0 2.1 0M74.9 151.2a1.05 1.05 0 1 0-2.1 0a1.05 1.05 0 1 0 2.1 0M75.2 152.6a1.05 1.05 0 1 0-2.1 0a1.05 1.05 0 1 0 2.1 0M75.0 154.1a1.05 1.05 0 1 0-2.1 0a1.05 1.05 0 1 0 2.1 0M74.8 155.4a1.05 1.05 0 1 0-2.1 0a1.05 1.05 0 1 0 2.1 0M74.7 156.6a1.05 1.05 0 1 0-2.1 0a1.05 1.05 0 1 0 2.1 0M74.6 157.5a1.05 1.05 0 1 0-2.1 0a1.05 1.05 0 1 0 2.1 0M75.4 157.6a1.05 1.05 0 1 0-2.1 0a1.05 1.05 0 1 0 2.1 0M76.4 158.8a1.05 1.05 0 1 0-2.1 0a1.05 1.05 0 1 0 2.1 0M77.9 159.0a1.05 1.05 0 1 0-2.1 0a1.05 1.05 0 1 0 2.1 0M78.7 160.1a1.05 1.05 0 1 0-2.1 0a1.05 1.05 0 1 0 2.1 0M80.1 160.6a1.05 1.05 0 1 0-2.1 0a1.05 1.05 0 1 0 2.1 0M80.5 162.0a1.05 1.05 0 1 0-2.1 0a1.05 1.05 0 1 0 2.1 0M81.6 162.8a1.05 1.05 0 1 0-2.1 0a1.05 1.05 0 1 0 2.1 0M82.7 163.5a1.05 1.05 0 1 0-2.1 0a1.05 1.05 0 1 0 2.1 0M83.9 164.0a1.05 1.05 0 1 0-2.1 0a1.05 1.05 0 1 0 2.1 0M84.2 165.6a1.05 1.05 0 1 0-2.1 0a1.05 1.05 0 1 0 2.1 0M85.1 166.5a1.05 1.05 0 1 0-2.1 0a1.05 1.05 0 1 0 2.1 0M86.7 166.6a1.05 1.05 0 1 0-2.1 0a1.05 1.05 0 1 0 2.1 0M87.1 168.2a1.05 1.05 0 1 0-2.1 0a1.05 1.05 0 1 0 2.1 0M88.6 168.3a1.05 1.05 0 1 0-2.1 0a1.05 1.05 0 1 0 2.1 0M89.4 169.4a1.05 1.05 0 1 0-2.1 0a1.05 1.05 0 1 0 2.1 0M90.6 170.0a1.05 1.05 0 1 0-2.1 0a1.05 1.05 0 1 0 2.1 0M91.2 171.4a1.05 1.05 0 1 0-2.1 0a1.05 1.05 0 1 0 2.1 0M93.0 171.0a1.05 1.05 0 1 0-2.1 0a1.05 1.05 0 1 0 2.1 0M93.8 172.1a1.05 1.05 0 1 0-2.1 0a1.05 1.05 0 1 0 2.1 0M94.9 172.9a1.05 1.05 0 1 0-2.1 0a1.05 1.05 0 1 0 2.1 0M96.7 172.2a1.05 1.05 0 1 0-2.1 0a1.05 1.05 0 1 0 2.1 0M97.5 173.3a1.05 1.05 0 1 0-2.1 0a1.05 1.05 0 1 0 2.1 0M98.8 172.3a1.05 1.05 0 1 0-2.1 0a1.05 1.05 0 1 0 2.1 0M99.7 173.9a1.05 1.05 0 1 0-2.1 0a1.05 1.05 0 1 0 2.1 0M101.0 174.4a1.05 1.05 0 1 0-2.1 0a1.05 1.05 0 1 0 2.1 0M102.4 174.5a1.05 1.05 0 1 0-2.1 0a1.05 1.05 0 1 0 2.1 0M104.3 174.8a1.05 1.05 0 1 0-2.1 0a1.05 1.05 0 1 0 2.1 0M104.5 176.7a1.05 1.05 0 1 0-2.1 0a1.05 1.05 0 1 0 2.1 0M105.1 177.9a1.05 1.05 0 1 0-2.1 0a1.05 1.05 0 1 0 2.1 0M105.6 179.0a1.05 1.05 0 1 0-2.1 0a1.05 1.05 0 1 0 2.1 0M105.5 180.4a1.05 1.05 0 1 0-2.1 0a1.05 1.05 0 1 0 2.1 0M106.7 181.1a1.05 1.05 0 1 0-2.1 0a1.05 1.05 0 1 0 2.1 0M107.4 182.2a1.05 1.05 0 1 0-2.1 0a1.05 1.05 0 1 0 2.1 0M108.1 183.3a1.05 1.05 0 1 0-2.1 0a1.05 1.05 0 1 0 2.1 0M109.7 183.4a1.05 1.05 0 1 0-2.1 0a1.05 1.05 0 1 0 2.1 0M110.6 184.5a1.05 1.05 0 1 0-2.1 0a1.05 1.05 0 1 0 2.1 0M111.3 185.6a1.05 1.05 0 1 0-2.1 0a1.05 1.05 0 1 0 2.1 0M111.8 186.9a1.05 1.05 0 1 0-2.1 0a1.05 1.05 0 1 0 2.1 0M112.2 188.3a1.05 1.05 0 1 0-2.1 0a1.05 1.05 0 1 0 2.1 0M114.0 188.5a1.05 1.05 0 1 0-2.1 0a1.05 1.05 0 1 0 2.1 0M114.6 189.9a1.05 1.05 0 1 0-2.1 0a1.05 1.05 0 1 0 2.1 0M114.1 191.4a1.05 1.05 0 1 0-2.1 0a1.05 1.05 0 1 0 2.1 0M115.2 192.2a1.05 1.05 0 1 0-2.1 0a1.05 1.05 0 1 0 2.1 0M115.7 193.5a1.05 1.05 0 1 0-2.1 0a1.05 1.05 0 1 0 2.1 0M117.1 193.5a1.05 1.05 0 1 0-2.1 0a1.05 1.05 0 1 0 2.1 0M118.3 194.0a1.05 1.05 0 1 0-2.1 0a1.05 1.05 0 1 0 2.1 0M119.6 194.4a1.05 1.05 0 1 0-2.1 0a1.05 1.05 0 1 0 2.1 0M120.7 195.0a1.05 1.05 0 1 0-2.1 0a1.05 1.05 0 1 0 2.1 0M121.9 195.5a1.05 1.05 0 1 0-2.1 0a1.05 1.05 0 1 0 2.1 0M122.8 196.6a1.05 1.05 0 1 0-2.1 0a1.05 1.05 0 1 0 2.1 0M124.2 196.8a1.05 1.05 0 1 0-2.1 0a1.05 1.05 0 1 0 2.1 0M125.4 197.3a1.05 1.05 0 1 0-2.1 0a1.05 1.05 0 1 0 2.1 0M126.6 197.7a1.05 1.05 0 1 0-2.1 0a1.05 1.05 0 1 0 2.1 0M127.9 197.9a1.05 1.05 0 1 0-2.1 0a1.05 1.05 0 1 0 2.1 0M129.2 198.2a1.05 1.05 0 1 0-2.1 0a1.05 1.05 0 1 0 2.1 0M130.6 198.2a1.05 1.05 0 1 0-2.1 0a1.05 1.05 0 1 0 2.1 0M131.0 200.7a1.05 1.05 0 1 0-2.1 0a1.05 1.05 0 1 0 2.1 0M132.8 200.0a1.05 1.05 0 1 0-2.1 0a1.05 1.05 0 1 0 2.1 0M133.8 200.9a1.05 1.05 0 1 0-2.1 0a1.05 1.05 0 1 0 2.1 0M135.6 200.8a1.05 1.05 0 1 0-2.1 0a1.05 1.05 0 1 0 2.1 0M136.2 202.1a1.05 1.05 0 1 0-2.1 0a1.05 1.05 0 1 0 2.1 0M136.6 203.8a1.05 1.05 0 1 0-2.1 0a1.05 1.05 0 1 0 2.1 0M138.1 203.3a1.05 1.05 0 1 0-2.1 0a1.05 1.05 0 1 0 2.1 0M139.2 204.1a1.05 1.05 0 1 0-2.1 0a1.05 1.05 0 1 0 2.1 0M140.6 203.6a1.05 1.05 0 1 0-2.1 0a1.05 1.05 0 1 0 2.1 0M141.7 204.8a1.05 1.05 0 1 0-2.1 0a1.05 1.05 0 1 0 2.1 0M143.0 204.5a1.05 1.05 0 1 0-2.1 0a1.05 1.05 0 1 0 2.1 0M144.3 204.6a1.05 1.05 0 1 0-2.1 0a1.05 1.05 0 1 0 2.1 0M145.6 204.6a1.05 1.05 0 1 0-2.1 0a1.05 1.05 0 1 0 2.1 0M146.9 204.9a1.05 1.05 0 1 0-2.1 0a1.05 1.05 0 1 0 2.1 0M148.2 205.5a1.05 1.05 0 1 0-2.1 0a1.05 1.05 0 1 0 2.1 0M149.2 204.1a1.05 1.05 0 1 0-2.1 0a1.05 1.05 0 1 0 2.1 0M149.0 204.0a1.05 1.05 0 1 0-2.1 0a1.05 1.05 0 1 0 2.1 0M149.1 203.0a1.05 1.05 0 1 0-2.1 0a1.05 1.05 0 1 0 2.1 0M148.8 201.7a1.05 1.05 0 1 0-2.1 0a1.05 1.05 0 1 0 2.1 0M147.6 201.1a1.05 1.05 0 1 0-2.1 0a1.05 1.05 0 1 0 2.1 0M146.6 200.4a1.05 1.05 0 1 0-2.1 0a1.05 1.05 0 1 0 2.1 0M146.0 199.8a1.05 1.05 0 1 0-2.1 0a1.05 1.05 0 1 0 2.1 0M145.1 200.3a1.05 1.05 0 1 0-2.1 0a1.05 1.05 0 1 0 2.1 0M143.6 201.5a1.05 1.05 0 1 0-2.1 0a1.05 1.05 0 1 0 2.1 0M142.3 200.1a1.05 1.05 0 1 0-2.1 0a1.05 1.05 0 1 0 2.1 0M140.9 200.0a1.05 1.05 0 1 0-2.1 0a1.05 1.05 0 1 0 2.1 0M139.9 199.0a1.05 1.05 0 1 0-2.1 0a1.05 1.05 0 1 0 2.1 0M138.5 199.2a1.05 1.05 0 1 0-2.1 0a1.05 1.05 0 1 0 2.1 0M137.3 199.3a1.05 1.05 0 1 0-2.1 0a1.05 1.05 0 1 0 2.1 0M136.0 199.3a1.05 1.05 0 1 0-2.1 0a1.05 1.05 0 1 0 2.1 0M134.6 199.2a1.05 1.05 0 1 0-2.1 0a1.05 1.05 0 1 0 2.1 0M132.8 199.8a1.05 1.05 0 1 0-2.1 0a1.05 1.05 0 1 0 2.1 0M132.1 198.2a1.05 1.05 0 1 0-2.1 0a1.05 1.05 0 1 0 2.1 0M131.0 197.6a1.05 1.05 0 1 0-2.1 0a1.05 1.05 0 1 0 2.1 0M129.2 197.8a1.05 1.05 0 1 0-2.1 0a1.05 1.05 0 1 0 2.1 0M128.8 196.2a1.05 1.05 0 1 0-2.1 0a1.05 1.05 0 1 0 2.1 0M128.1 194.8a1.05 1.05 0 1 0-2.1 0a1.05 1.05 0 1 0 2.1 0M126.5 194.9a1.05 1.05 0 1 0-2.1 0a1.05 1.05 0 1 0 2.1 0M125.8 193.6a1.05 1.05 0 1 0-2.1 0a1.05 1.05 0 1 0 2.1 0M124.0 193.9a1.05 1.05 0 1 0-2.1 0a1.05 1.05 0 1 0 2.1 0M123.7 192.0a1.05 1.05 0 1 0-2.1 0a1.05 1.05 0 1 0 2.1 0M122.4 191.7a1.05 1.05 0 1 0-2.1 0a1.05 1.05 0 1 0 2.1 0M121.5 190.6a1.05 1.05 0 1 0-2.1 0a1.05 1.05 0 1 0 2.1 0M120.0 190.8a1.05 1.05 0 1 0-2.1 0a1.05 1.05 0 1 0 2.1 0M119.1 189.6a1.05 1.05 0 1 0-2.1 0a1.05 1.05 0 1 0 2.1 0M117.8 189.2a1.05 1.05 0 1 0-2.1 0a1.05 1.05 0 1 0 2.1 0M116.9 188.1a1.05 1.05 0 1 0-2.1 0a1.05 1.05 0 1 0 2.1 0M116.1 187.0a1.05 1.05 0 1 0-2.1 0a1.05 1.05 0 1 0 2.1 0M114.7 186.5a1.05 1.05 0 1 0-2.1 0a1.05 1.05 0 1 0 2.1 0M113.9 185.5a1.05 1.05 0 1 0-2.1 0a1.05 1.05 0 1 0 2.1 0M113.5 184.1a1.05 1.05 0 1 0-2.1 0a1.05 1.05 0 1 0 2.1 0M113.1 182.7a1.05 1.05 0 1 0-2.1 0a1.05 1.05 0 1 0 2.1 0M112.6 181.6a1.05 1.05 0 1 0-2.1 0a1.05 1.05 0 1 0 2.1 0M111.4 180.7a1.05 1.05 0 1 0-2.1 0a1.05 1.05 0 1 0 2.1 0M109.9 180.1a1.05 1.05 0 1 0-2.1 0a1.05 1.05 0 1 0 2.1 0M110.5 178.3a1.05 1.05 0 1 0-2.1 0a1.05 1.05 0 1 0 2.1 0M109.8 177.3a1.05 1.05 0 1 0-2.1 0a1.05 1.05 0 1 0 2.1 0M108.9 176.4a1.05 1.05 0 1 0-2.1 0a1.05 1.05 0 1 0 2.1 0M108.1 175.3a1.05 1.05 0 1 0-2.1 0a1.05 1.05 0 1 0 2.1 0M107.1 174.4a1.05 1.05 0 1 0-2.1 0a1.05 1.05 0 1 0 2.1 0M106.0 173.5a1.05 1.05 0 1 0-2.1 0a1.05 1.05 0 1 0 2.1 0M104.7 172.5a1.05 1.05 0 1 0-2.1 0a1.05 1.05 0 1 0 2.1 0M104.9 171.0a1.05 1.05 0 1 0-2.1 0a1.05 1.05 0 1 0 2.1 0M104.9 169.6a1.05 1.05 0 1 0-2.1 0a1.05 1.05 0 1 0 2.1 0M105.3 168.3a1.05 1.05 0 1 0-2.1 0a1.05 1.05 0 1 0 2.1 0M104.3 167.1a1.05 1.05 0 1 0-2.1 0a1.05 1.05 0 1 0 2.1 0M104.3 165.8a1.05 1.05 0 1 0-2.1 0a1.05 1.05 0 1 0 2.1 0M104.8 164.4a1.05 1.05 0 1 0-2.1 0a1.05 1.05 0 1 0 2.1 0M104.7 163.1a1.05 1.05 0 1 0-2.1 0a1.05 1.05 0 1 0 2.1 0M104.2 161.8a1.05 1.05 0 1 0-2.1 0a1.05 1.05 0 1 0 2.1 0M103.7 160.5a1.05 1.05 0 1 0-2.1 0a1.05 1.05 0 1 0 2.1 0M103.9 159.2a1.05 1.05 0 1 0-2.1 0a1.05 1.05 0 1 0 2.1 0M104.1 157.9a1.05 1.05 0 1 0-2.1 0a1.05 1.05 0 1 0 2.1 0M104.4 156.6a1.05 1.05 0 1 0-2.1 0a1.05 1.05 0 1 0 2.1 0M104.1 155.3a1.05 1.05 0 1 0-2.1 0a1.05 1.05 0 1 0 2.1 0M104.3 154.0a1.05 1.05 0 1 0-2.1 0a1.05 1.05 0 1 0 2.1 0M103.2 152.7a1.05 1.05 0 1 0-2.1 0a1.05 1.05 0 1 0 2.1 0M104.9 151.4a1.05 1.05 0 1 0-2.1 0a1.05 1.05 0 1 0 2.1 0M104.5 150.1a1.05 1.05 0 1 0-2.1 0a1.05 1.05 0 1 0 2.1 0M103.7 148.8a1.05 1.05 0 1 0-2.1 0a1.05 1.05 0 1 0 2.1 0M104.4 147.6a1.05 1.05 0 1 0-2.1 0a1.05 1.05 0 1 0 2.1 0M103.4 146.5a1.05 1.05 0 1 0-2.1 0a1.05 1.05 0 1 0 2.1 0M103.9 145.1a1.05 1.05 0 1 0-2.1 0a1.05 1.05 0 1 0 2.1 0M103.4 143.9a1.05 1.05 0 1 0-2.1 0a1.05 1.05 0 1 0 2.1 0M103.3 142.6a1.05 1.05 0 1 0-2.1 0a1.05 1.05 0 1 0 2.1 0M103.3 141.2a1.05 1.05 0 1 0-2.1 0a1.05 1.05 0 1 0 2.1 0M102.6 140.1a1.05 1.05 0 1 0-2.1 0a1.05 1.05 0 1 0 2.1 0M100.6 139.7a1.05 1.05 0 1 0-2.1 0a1.05 1.05 0 1 0 2.1 0M100.7 138.3a1.05 1.05 0 1 0-2.1 0a1.05 1.05 0 1 0 2.1 0M100.0 137.3a1.05 1.05 0 1 0-2.1 0a1.05 1.05 0 1 0 2.1 0M99.1 136.7a1.05 1.05 0 1 0-2.1 0a1.05 1.05 0 1 0 2.1 0M98.2 135.8a1.05 1.05 0 1 0-2.1 0a1.05 1.05 0 1 0 2.1 0M97.0 135.3a1.05 1.05 0 1 0-2.1 0a1.05 1.05 0 1 0 2.1 0M96.3 134.1a1.05 1.05 0 1 0-2.1 0a1.05 1.05 0 1 0 2.1 0M95.1 133.4a1.05 1.05 0 1 0-2.1 0a1.05 1.05 0 1 0 2.1 0M93.7 133.3a1.05 1.05 0 1 0-2.1 0a1.05 1.05 0 1 0 2.1 0M92.9 132.1a1.05 1.05 0 1 0-2.1 0a1.05 1.05 0 1 0 2.1 0M91.9 131.2a1.05 1.05 0 1 0-2.1 0a1.05 1.05 0 1 0 2.1 0M90.6 131.5a1.05 1.05 0 1 0-2.1 0a1.05 1.05 0 1 0 2.1 0M89.4 131.4a1.05 1.05 0 1 0-2.1 0a1.05 1.05 0 1 0 2.1 0M88.1 132.1a1.05 1.05 0 1 0-2.1 0a1.05 1.05 0 1 0 2.1 0M86.7 131.5a1.05 1.05 0 1 0-2.1 0a1.05 1.05 0 1 0 2.1 0M85.5 131.5a1.05 1.05 0 1 0-2.1 0a1.05 1.05 0 1 0 2.1 0M84.2 132.1a1.05 1.05 0 1 0-2.1 0a1.05 1.05 0 1 0 2.1 0M83.1 133.2a1.05 1.05 0 1 0-2.1 0a1.05 1.05 0 1 0 2.1 0M81.7 132.7a1.05 1.05 0 1 0-2.1 0a1.05 1.05 0 1 0 2.1 0M80.6 133.1a1.05 1.05 0 1 0-2.1 0a1.05 1.05 0 1 0 2.1 0" fill="#e66a64"/>
<path d="M207.0,210.2 C207.8,209.0 208.9,205.9 210.0,204.0 C211.1,202.1 212.0,200.4 213.7,198.5 C215.4,196.6 217.9,194.3 220.4,192.6 C222.9,190.9 226.8,190.0 228.7,188.5 C230.6,187.0 230.4,185.0 232.1,183.4 C233.8,181.8 236.6,180.0 238.8,179.2 C241.0,178.4 243.0,178.1 245.5,178.4 C248.0,178.7 251.4,180.6 253.9,180.9 C256.4,181.2 258.5,180.1 260.6,180.1 C262.7,180.1 265.3,179.8 266.4,180.9 C267.5,182.0 267.4,185.1 267.3,186.8 C267.2,188.5 266.7,190.2 265.6,191.0 C264.5,191.8 262.6,192.2 260.6,191.8 C258.7,191.4 256.4,189.3 253.9,188.5 C251.4,187.7 248.3,187.1 245.5,186.8 C242.7,186.5 239.6,186.2 237.1,186.8 C234.6,187.4 232.9,188.8 230.4,190.1 C227.9,191.3 224.2,192.6 222.0,194.3 C219.8,196.0 218.7,197.8 217.0,200.2 C215.3,202.6 213.4,206.5 212.0,208.6 C210.6,210.7 209.7,212.3 208.6,212.7 C207.5,213.1 205.6,211.5 205.3,211.1 C205.0,210.7 206.2,211.4 207.0,210.2Z" fill="#9a78bd" stroke="#9a78bd" stroke-width="0.6"/>
<path d="M209.2 209.3a1.05 1.05 0 1 0-2.1 0a1.05 1.05 0 1 0 2.1 0M209.6 208.1a1.05 1.05 0 1 0-2.1 0a1.05 1.05 0 1 0 2.1 0M209.9 206.7a1.05 1.05 0 1 0-2.1 0a1.05 1.05 0 1 0 2.1 0M210.2 205.5a1.05 1.05 0 1 0-2.1 0a1.05 1.05 0 1 0 2.1 0M212.1 205.0a1.05 1.05 0 1 0-2.1 0a1.05 1.05 0 1 0 2.1 0M211.4 203.2a1.05 1.05 0 1 0-2.1 0a1.05 1.05 0 1 0 2.1 0M212.7 202.4a1.05 1.05 0 1 0-2.1 0a1.05 1.05 0 1 0 2.1 0M213.5 201.4a1.05 1.05 0 1 0-2.1 0a1.05 1.05 0 1 0 2.1 0M213.1 199.6a1.05 1.05 0 1 0-2.1 0a1.05 1.05 0 1 0 2.1 0M214.9 199.4a1.05 1.05 0 1 0-2.1 0a1.05 1.05 0 1 0 2.1 0M215.0 197.7a1.05 1.05 0 1 0-2.1 0a1.05 1.05 0 1 0 2.1 0M216.3 197.1a1.05 1.05 0 1 0-2.1 0a1.05 1.05 0 1 0 2.1 0M217.9 196.9a1.05 1.05 0 1 0-2.1 0a1.05 1.05 0 1 0 2.1 0M218.3 195.5a1.05 1.05 0 1 0-2.1 0a1.05 1.05 0 1 0 2.1 0M219.2 194.6a1.05 1.05 0 1 0-2.1 0a1.05 1.05 0 1 0 2.1 0M220.5 194.1a1.05 1.05 0 1 0-2.1 0a1.05 1.05 0 1 0 2.1 0M222.1 194.3a1.05 1.05 0 1 0-2.1 0a1.05 1.05 0 1 0 2.1 0M222.6 192.8a1.05 1.05 0 1 0-2.1 0a1.05 1.05 0 1 0 2.1 0M223.7 192.2a1.05 1.05 0 1 0-2.1 0a1.05 1.05 0 1 0 2.1 0M225.0 192.1a1.05 1.05 0 1 0-2.1 0a1.05 1.05 0 1 0 2.1 0M225.7 190.2a1.05 1.05 0 1 0-2.1 0a1.05 1.05 0 1 0 2.1 0M227.3 190.7a1.05 1.05 0 1 0-2.1 0a1.05 1.05 0 1 0 2.1 0M228.5 190.2a1.05 1.05 0 1 0-2.1 0a1.05 1.05 0 1 0 2.1 0M229.7 189.4a1.05 1.05 0 1 0-2.1 0a1.05 1.05 0 1 0 2.1 0M231.0 188.7a1.05 1.05 0 1 0-2.1 0a1.05 1.05 0 1 0 2.1 0M231.9 187.5a1.05 1.05 0 1 0-2.1 0a1.05 1.05 0 1 0 2.1 0M232.1 186.0a1.05 1.05 0 1 0-2.1 0a1.05 1.05 0 1 0 2.1 0M232.6 184.9a1.05 1.05 0 1 0-2.1 0a1.05 1.05 0 1 0 2.1 0M233.6 184.2a1.05 1.05 0 1 0-2.1 0a1.05 1.05 0 1 0 2.1 0M234.4 183.2a1.05 1.05 0 1 0-2.1 0a1.05 1.05 0 1 0 2.1 0M235.7 183.0a1.05 1.05 0 1 0-2.1 0a1.05 1.05 0 1 0 2.1 0M236.2 181.5a1.05 1.05 0 1 0-2.1 0a1.05 1.05 0 1 0 2.1 0M237.6 181.4a1.05 1.05 0 1 0-2.1 0a1.05 1.05 0 1 0 2.1 0M238.5 180.3a1.05 1.05 0 1 0-2.1 0a1.05 1.05 0 1 0 2.1 0M239.9 180.3a1.05 1.05 0 1 0-2.1 0a1.05 1.05 0 1 0 2.1 0M241.0 179.7a1.05 1.05 0 1 0-2.1 0a1.05 1.05 0 1 0 2.1 0M242.1 179.1a1.05 1.05 0 1 0-2.1 0a1.05 1.05 0 1 0 2.1 0M243.4 179.6a1.05 1.05 0 1 0-2.1 0a1.05 1.05 0 1 0 2.1 0M244.5 177.7a1.05 1.05 0 1 0-2.1 0a1.05 1.05 0 1 0 2.1 0M245.8 179.0a1.05 1.05 0 1 0-2.1 0a1.05 1.05 0 1 0 2.1 0M247.0 179.1a1.05 1.05 0 1 0-2.1 0a1.05 1.05 0 1 0 2.1 0M248.1 179.7a1.05 1.05 0 1 0-2.1 0a1.05 1.05 0 1 0 2.1 0M249.7 179.0a1.05 1.05 0 1 0-2.1 0a1.05 1.05 0 1 0 2.1 0M250.9 179.6a1.05 1.05 0 1 0-2.1 0a1.05 1.05 0 1 0 2.1 0M251.9 180.6a1.05 1.05 0 1 0-2.1 0a1.05 1.05 0 1 0 2.1 0M252.9 181.8a1.05 1.05 0 1 0-2.1 0a1.05 1.05 0 1 0 2.1 0M254.4 181.7a1.05 1.05 0 1 0-2.1 0a1.05 1.05 0 1 0 2.1 0M255.8 181.2a1.05 1.05 0 1 0-2.1 0a1.05 1.05 0 1 0 2.1 0M257.3 181.7a1.05 1.05 0 1 0-2.1 0a1.05 1.05 0 1 0 2.1 0M258.7 181.8a1.05 1.05 0 1 0-2.1 0a1.05 1.05 0 1 0 2.1 0M259.9 181.5a1.05 1.05 0 1 0-2.1 0a1.05 1.05 0 1 0 2.1 0M261.1 181.1a1.05 1.05 0 1 0-2.1 0a1.05 1.05 0 1 0 2.1 0M262.3 180.7a1.05 1.05 0 1 0-2.1 0a1.05 1.05 0 1 0 2.1 0M263.6 181.0a1.05 1.05 0 1 0-2.1 0a1.05 1.05 0 1 0 2.1 0M264.8 180.7a1.05 1.05 0 1 0-2.1 0a1.05 1.05 0 1 0 2.1 0M266.3 179.5a1.05 1.05 0 1 0-2.1 0a1.05 1.05 0 1 0 2.1 0M267.5 180.6a1.05 1.05 0 1 0-2.1 0a1.05 1.05 0 1 0 2.1 0M267.0 182.3a1.05 1.05 0 1 0-2.1 0a1.05 1.05 0 1 0 2.1 0M267.9 183.2a1.05 1.05 0 1 0-2.1 0a1.05 1.05 0 1 0 2.1 0M267.9 184.5a1.05 1.05 0 1 0-2.1 0a1.05 1.05 0 1 0 2.1 0M267.7 185.7a1.05 1.05 0 1 0-2.1 0a1.05 1.05 0 1 0 2.1 0M268.2 187.0a1.05 1.05 0 1 0-2.1 0a1.05 1.05 0 1 0 2.1 0M267.4 188.2a1.05 1.05 0 1 0-2.1 0a1.05 1.05 0 1 0 2.1 0M267.0 189.3a1.05 1.05 0 1 0-2.1 0a1.05 1.05 0 1 0 2.1 0M266.5 190.1a1.05 1.05 0 1 0-2.1 0a1.05 1.05 0 1 0 2.1 0M265.7 190.8a1.05 1.05 0 1 0-2.1 0a1.05 1.05 0 1 0 2.1 0M264.8 191.8a1.05 1.05 0 1 0-2.1 0a1.05 1.05 0 1 0 2.1 0M263.5 191.8a1.05 1.05 0 1 0-2.1 0a1.05 1.05 0 1 0 2.1 0M262.3 190.6a1.05 1.05 0 1 0-2.1 0a1.05 1.05 0 1 0 2.1 0M261.2 190.8a1.05 1.05 0 1 0-2.1 0a1.05 1.05 0 1 0 2.1 0M260.2 190.1a1.05 1.05 0 1 0-2.1 0a1.05 1.05 0 1 0 2.1 0M258.7 190.2a1.05 1.05 0 1 0-2.1 0a1.05 1.05 0 1 0 2.1 0M257.7 189.3a1.05 1.05 0 1 0-2.1 0a1.05 1.05 0 1 0 2.1 0M256.4 189.0a1.05 1.05 0 1 0-2.1 0a1.05 1.05 0 1 0 2.1 0M255.4 188.0a1.05 1.05 0 1 0-2.1 0a1.05 1.05 0 1 0 2.1 0M254.4 186.7a1.05 1.05 0 1 0-2.1 0a1.05 1.05 0 1 0 2.1 0M252.8 187.5a1.05 1.05 0 1 0-2.1 0a1.05 1.05 0 1 0 2.1 0M251.5 187.1a1.05 1.05 0 1 0-2.1 0a1.05 1.05 0 1 0 2.1 0M250.2 187.0a1.05 1.05 0 1 0-2.1 0a1.05 1.05 0 1 0 2.1 0M249.0 185.9a1.05 1.05 0 1 0-2.1 0a1.05 1.05 0 1 0 2.1 0M247.6 186.4a1.05 1.05 0 1 0-2.1 0a1.05 1.05 0 1 0 2.1 0M246.4 185.8a1.05 1.05 0 1 0-2.1 0a1.05 1.05 0 1 0 2.1 0M245.0 185.7a1.05 1.05 0 1 0-2.1 0a1.05 1.05 0 1 0 2.1 0M243.7 186.1a1.05 1.05 0 1 0-2.1 0a1.05 1.05 0 1 0 2.1 0M242.4 186.1a1.05 1.05 0 1 0-2.1 0a1.05 1.05 0 1 0 2.1 0M241.1 185.4a1.05 1.05 0 1 0-2.1 0a1.05 1.05 0 1 0 2.1 0M239.6 185.1a1.05 1.05 0 1 0-2.1 0a1.05 1.05 0 1 0 2.1 0M238.1 184.9a1.05 1.05 0 1 0-2.1 0a1.05 1.05 0 1 0 2.1 0M237.0 186.2a1.05 1.05 0 1 0-2.1 0a1.05 1.05 0 1 0 2.1 0M236.0 187.5a1.05 1.05 0 1 0-2.1 0a1.05 1.05 0 1 0 2.1 0M234.6 187.6a1.05 1.05 0 1 0-2.1 0a1.05 1.05 0 1 0 2.1 0M232.9 187.3a1.05 1.05 0 1 0-2.1 0a1.05 1.05 0 1 0 2.1 0M232.1 188.6a1.05 1.05 0 1 0-2.1 0a1.05 1.05 0 1 0 2.1 0M231.3 189.7a1.05 1.05 0 1 0-2.1 0a1.05 1.05 0 1 0 2.1 0M230.4 190.8a1.05 1.05 0 1 0-2.1 0a1.05 1.05 0 1 0 2.1 0M229.1 191.1a1.05 1.05 0 1 0-2.1 0a1.05 1.05 0 1 0 2.1 0M227.8 191.3a1.05 1.05 0 1 0-2.1 0a1.05 1.05 0 1 0 2.1 0M226.5 191.8a1.05 1.05 0 1 0-2.1 0a1.05 1.05 0 1 0 2.1 0M225.1 191.8a1.05 1.05 0 1 0-2.1 0a1.05 1.05 0 1 0 2.1 0M224.0 192.7a1.05 1.05 0 1 0-2.1 0a1.05 1.05 0 1 0 2.1 0M222.9 193.5a1.05 1.05 0 1 0-2.1 0a1.05 1.05 0 1 0 2.1 0M221.7 194.2a1.05 1.05 0 1 0-2.1 0a1.05 1.05 0 1 0 2.1 0M221.0 195.4a1.05 1.05 0 1 0-2.1 0a1.05 1.05 0 1 0 2.1 0M219.9 196.3a1.05 1.05 0 1 0-2.1 0a1.05 1.05 0 1 0 2.1 0M219.4 197.5a1.05 1.05 0 1 0-2.1 0a1.05 1.05 0 1 0 2.1 0M219.1 198.9a1.05 1.05 0 1 0-2.1 0a1.05 1.05 0 1 0 2.1 0M218.0 199.8a1.05 1.05 0 1 0-2.1 0a1.05 1.05 0 1 0 2.1 0M217.2 200.8a1.05 1.05 0 1 0-2.1 0a1.05 1.05 0 1 0 2.1 0M216.2 201.7a1.05 1.05 0 1 0-2.1 0a1.05 1.05 0 1 0 2.1 0M215.0 202.6a1.05 1.05 0 1 0-2.1 0a1.05 1.05 0 1 0 2.1 0M215.0 204.0a1.05 1.05 0 1 0-2.1 0a1.05 1.05 0 1 0 2.1 0M214.6 205.3a1.05 1.05 0 1 0-2.1 0a1.05 1.05 0 1 0 2.1 0M213.3 206.1a1.05 1.05 0 1 0-2.1 0a1.05 1.05 0 1 0 2.1 0M213.6 207.8a1.05 1.05 0 1 0-2.1 0a1.05 1.05 0 1 0 2.1 0M212.2 208.4a1.05 1.05 0 1 0-2.1 0a1.05 1.05 0 1 0 2.1 0M211.8 209.7a1.05 1.05 0 1 0-2.1 0a1.05 1.05 0 1 0 2.1 0M210.8 210.6a1.05 1.05 0 1 0-2.1 0a1.05 1.05 0 1 0 2.1 0M209.8 211.1a1.05 1.05 0 1 0-2.1 0a1.05 1.05 0 1 0 2.1 0M209.6 213.1a1.05 1.05 0 1 0-2.1 0a1.05 1.05 0 1 0 2.1 0M208.8 211.5a1.05 1.05 0 1 0-2.1 0a1.05 1.05 0 1 0 2.1 0M207.3 211.8a1.05 1.05 0 1 0-2.1 0a1.05 1.05 0 1 0 2.1 0M206.6 211.8a1.05 1.05 0 1 0-2.1 0a1.05 1.05 0 1 0 2.1 0M207.8 211.1a1.05 1.05 0 1 0-2.1 0a1.05 1.05 0 1 0 2.1 0" fill="#9a78bd"/>
<path d="M168.9,219.3 C169.1,218.5 169.0,218.2 170.1,217.8 C171.2,217.4 173.8,216.9 175.5,217.0 C177.2,217.1 178.8,218.7 180.1,218.6 C181.4,218.5 181.8,216.9 183.2,216.6 C184.6,216.3 187.0,216.9 188.6,216.6 C190.2,216.3 191.7,215.5 192.5,214.7 C193.3,213.9 192.7,212.3 193.3,211.6 C193.9,210.9 195.4,210.1 196.3,210.4 C197.2,210.7 197.8,212.9 198.7,213.5 C199.6,214.1 200.8,214.2 201.8,213.9 C202.8,213.6 203.8,212.1 204.9,211.6 C206.1,211.1 207.9,210.8 208.7,211.2 C209.5,211.6 209.8,212.6 209.5,213.9 C209.2,215.2 208.2,217.8 207.2,219.3 C206.2,220.9 204.7,221.9 203.3,223.2 C201.9,224.5 200.5,225.9 198.7,227.1 C196.9,228.3 194.7,229.4 192.5,230.2 C190.3,231.0 187.7,231.6 185.5,231.7 C183.3,231.8 181.2,231.0 179.3,230.5 C177.4,230.0 175.4,229.4 173.9,228.6 C172.4,227.8 170.9,226.5 170.1,225.5 C169.3,224.5 169.1,223.4 168.9,222.4 C168.7,221.4 168.7,220.1 168.9,219.3Z" fill="#26a756" stroke="#26a756" stroke-width="0.6"/>
<path d="M171.1 218.9a1.05 1.05 0 1 0-2.1 0a1.05 1.05 0 1 0 2.1 0M171.9 218.4a1.05 1.05 0 1 0-2.1 0a1.05 1.05 0 1 0 2.1 0M172.9 217.5a1.05 1.05 0 1 0-2.1 0a1.05 1.05 0 1 0 2.1 0M174.2 216.8a1.05 1.05 0 1 0-2.1 0a1.05 1.05 0 1 0 2.1 0M175.6 218.0a1.05 1.05 0 1 0-2.1 0a1.05 1.05 0 1 0 2.1 0M176.7 217.6a1.05 1.05 0 1 0-2.1 0a1.05 1.05 0 1 0 2.1 0M178.0 217.5a1.05 1.05 0 1 0-2.1 0a1.05 1.05 0 1 0 2.1 0M178.8 218.8a1.05 1.05 0 1 0-2.1 0a1.05 1.05 0 1 0 2.1 0M180.3 218.7a1.05 1.05 0 1 0-2.1 0a1.05 1.05 0 1 0 2.1 0M182.0 219.4a1.05 1.05 0 1 0-2.1 0a1.05 1.05 0 1 0 2.1 0M182.9 217.9a1.05 1.05 0 1 0-2.1 0a1.05 1.05 0 1 0 2.1 0M183.8 217.2a1.05 1.05 0 1 0-2.1 0a1.05 1.05 0 1 0 2.1 0M184.9 216.5a1.05 1.05 0 1 0-2.1 0a1.05 1.05 0 1 0 2.1 0M186.2 217.0a1.05 1.05 0 1 0-2.1 0a1.05 1.05 0 1 0 2.1 0M187.4 217.8a1.05 1.05 0 1 0-2.1 0a1.05 1.05 0 1 0 2.1 0M188.8 217.0a1.05 1.05 0 1 0-2.1 0a1.05 1.05 0 1 0 2.1 0M190.4 217.6a1.05 1.05 0 1 0-2.1 0a1.05 1.05 0 1 0 2.1 0M191.4 216.3a1.05 1.05 0 1 0-2.1 0a1.05 1.05 0 1 0 2.1 0M192.4 215.4a1.05 1.05 0 1 0-2.1 0a1.05 1.05 0 1 0 2.1 0M193.7 215.0a1.05 1.05 0 1 0-2.1 0a1.05 1.05 0 1 0 2.1 0M194.9 213.6a1.05 1.05 0 1 0-2.1 0a1.05 1.05 0 1 0 2.1 0M194.1 212.3a1.05 1.05 0 1 0-2.1 0a1.05 1.05 0 1 0 2.1 0M195.1 211.6a1.05 1.05 0 1 0-2.1 0a1.05 1.05 0 1 0 2.1 0M196.4 211.7a1.05 1.05 0 1 0-2.1 0a1.05 1.05 0 1 0 2.1 0M197.0 211.1a1.05 1.05 0 1 0-2.1 0a1.05 1.05 0 1 0 2.1 0M198.2 211.1a1.05 1.05 0 1 0-2.1 0a1.05 1.05 0 1 0 2.1 0M198.1 212.7a1.05 1.05 0 1 0-2.1 0a1.05 1.05 0 1 0 2.1 0M199.2 213.8a1.05 1.05 0 1 0-2.1 0a1.05 1.05 0 1 0 2.1 0M200.5 214.7a1.05 1.05 0 1 0-2.1 0a1.05 1.05 0 1 0 2.1 0M202.1 215.5a1.05 1.05 0 1 0-2.1 0a1.05 1.05 0 1 0 2.1 0M203.7 214.5a1.05 1.05 0 1 0-2.1 0a1.05 1.05 0 1 0 2.1 0M204.5 213.2a1.05 1.05 0 1 0-2.1 0a1.05 1.05 0 1 0 2.1 0M205.5 212.4a1.05 1.05 0 1 0-2.1 0a1.05 1.05 0 1 0 2.1 0M206.6 212.1a1.05 1.05 0 1 0-2.1 0a1.05 1.05 0 1 0 2.1 0M207.9 212.8a1.05 1.05 0 1 0-2.1 0a1.05 1.05 0 1 0 2.1 0M208.9 211.0a1.05 1.05 0 1 0-2.1 0a1.05 1.05 0 1 0 2.1 0M209.9 211.6a1.05 1.05 0 1 0-2.1 0a1.05 1.05 0 1 0 2.1 0M210.5 212.6a1.05 1.05 0 1 0-2.1 0a1.05 1.05 0 1 0 2.1 0M210.6 213.9a1.05 1.05 0 1 0-2.1 0a1.05 1.05 0 1 0 2.1 0M209.4 214.9a1.05 1.05 0 1 0-2.1 0a1.05 1.05 0 1 0 2.1 0M208.9 216.0a1.05 1.05 0 1 0-2.1 0a1.05 1.05 0 1 0 2.1 0M208.8 217.4a1.05 1.05 0 1 0-2.1 0a1.05 1.05 0 1 0 2.1 0M208.8 218.8a1.05 1.05 0 1 0-2.1 0a1.05 1.05 0 1 0 2.1 0M206.8 218.9a1.05 1.05 0 1 0-2.1 0a1.05 1.05 0 1 0 2.1 0M206.5 220.3a1.05 1.05 0 1 0-2.1 0a1.05 1.05 0 1 0 2.1 0M205.5 220.9a1.05 1.05 0 1 0-2.1 0a1.05 1.05 0 1 0 2.1 0M204.9 222.3a1.05 1.05 0 1 0-2.1 0a1.05 1.05 0 1 0 2.1 0M204.2 223.5a1.05 1.05 0 1 0-2.1 0a1.05 1.05 0 1 0 2.1 0M202.7 223.7a1.05 1.05 0 1 0-2.1 0a1.05 1.05 0 1 0 2.1 0M201.4 224.3a1.05 1.05 0 1 0-2.1 0a1.05 1.05 0 1 0 2.1 0M200.9 225.6a1.05 1.05 0 1 0-2.1 0a1.05 1.05 0 1 0 2.1 0M199.8 226.2a1.05 1.05 0 1 0-2.1 0a1.05 1.05 0 1 0 2.1 0M198.4 226.3a1.05 1.05 0 1 0-2.1 0a1.05 1.05 0 1 0 2.1 0M197.9 228.0a1.05 1.05 0 1 0-2.1 0a1.05 1.05 0 1 0 2.1 0M196.5 228.0a1.05 1.05 0 1 0-2.1 0a1.05 1.05 0 1 0 2.1 0M195.6 229.1a1.05 1.05 0 1 0-2.1 0a1.05 1.05 0 1 0 2.1 0M194.0 228.7a1.05 1.05 0 1 0-2.1 0a1.05 1.05 0 1 0 2.1 0M193.3 230.2a1.05 1.05 0 1 0-2.1 0a1.05 1.05 0 1 0 2.1 0M191.7 229.4a1.05 1.05 0 1 0-2.1 0a1.05 1.05 0 1 0 2.1 0M190.8 231.0a1.05 1.05 0 1 0-2.1 0a1.05 1.05 0 1 0 2.1 0M189.2 229.9a1.05 1.05 0 1 0-2.1 0a1.05 1.05 0 1 0 2.1 0M188.2 231.6a1.05 1.05 0 1 0-2.1 0a1.05 1.05 0 1 0 2.1 0M186.9 230.9a1.05 1.05 0 1 0-2.1 0a1.05 1.05 0 1 0 2.1 0M185.7 230.3a1.05 1.05 0 1 0-2.1 0a1.05 1.05 0 1 0 2.1 0M184.5 230.8a1.05 1.05 0 1 0-2.1 0a1.05 1.05 0 1 0 2.1 0M183.2 230.8a1.05 1.05 0 1 0-2.1 0a1.05 1.05 0 1 0 2.1 0M182.1 229.9a1.05 1.05 0 1 0-2.1 0a1.05 1.05 0 1 0 2.1 0M180.8 229.7a1.05 1.05 0 1 0-2.1 0a1.05 1.05 0 1 0 2.1 0M179.4 229.8a1.05 1.05 0 1 0-2.1 0a1.05 1.05 0 1 0 2.1 0M178.3 229.2a1.05 1.05 0 1 0-2.1 0a1.05 1.05 0 1 0 2.1 0M177.6 227.4a1.05 1.05 0 1 0-2.1 0a1.05 1.05 0 1 0 2.1 0M176.0 228.2a1.05 1.05 0 1 0-2.1 0a1.05 1.05 0 1 0 2.1 0M174.7 228.0a1.05 1.05 0 1 0-2.1 0a1.05 1.05 0 1 0 2.1 0M173.7 227.3a1.05 1.05 0 1 0-2.1 0a1.05 1.05 0 1 0 2.1 0M172.5 226.7a1.05 1.05 0 1 0-2.1 0a1.05 1.05 0 1 0 2.1 0M172.2 225.2a1.05 1.05 0 1 0-2.1 0a1.05 1.05 0 1 0 2.1 0M170.1 225.2a1.05 1.05 0 1 0-2.1 0a1.05 1.05 0 1 0 2.1 0M170.4 223.6a1.05 1.05 0 1 0-2.1 0a1.05 1.05 0 1 0 2.1 0M170.4 222.3a1.05 1.05 0 1 0-2.1 0a1.05 1.05 0 1 0 2.1 0M169.9 221.1a1.05 1.05 0 1 0-2.1 0a1.05 1.05 0 1 0 2.1 0M170.0 219.8a1.05 1.05 0 1 0-2.1 0a1.05 1.05 0 1 0 2.1 0" fill="#26a756"/>
<path d="M196.8,269.1 C197.8,268.9 199.4,269.4 201.5,270.2 C203.6,271.0 206.3,272.5 209.6,273.7 C212.9,274.9 216.6,276.6 221.2,277.2 C225.8,277.8 231.6,277.2 237.4,277.2 C243.2,277.2 250.6,277.0 256.0,277.2 C261.4,277.4 265.2,277.8 269.9,278.4 C274.5,279.0 280.2,279.7 283.9,280.7 C287.6,281.7 291.2,282.8 292.0,284.2 C292.8,285.6 291.4,287.6 288.5,288.8 C285.6,290.0 280.0,290.3 274.6,291.1 C269.2,291.9 261.8,293.1 256.0,293.4 C250.2,293.7 245.2,293.3 239.8,292.7 C234.4,292.1 227.8,291.2 223.5,290.0 C219.2,288.8 217.3,287.2 214.2,285.3 C211.1,283.4 207.7,280.3 205.0,278.4 C202.3,276.5 199.6,274.9 198.0,273.7 C196.4,272.5 195.9,272.2 195.7,271.4 C195.5,270.6 195.8,269.3 196.8,269.1Z" fill="#dc9128" stroke="#dc9128" stroke-width="0.6"/>
<path d="M199.0 269.7a1.05 1.05 0 1 0-2.1 0a1.05 1.05 0 1 0 2.1 0M200.1 270.3a1.05 1.05 0 1 0-2.1 0a1.05 1.05 0 1 0 2.1 0M201.6 270.0a1.05 1.05 0 1 0-2.1 0a1.05 1.05 0 1 0 2.1 0M202.7 270.7a1.05 1.05 0 1 0-2.1 0a1.05 1.05 0 1 0 2.1 0M203.4 272.2a1.05 1.05 0 1 0-2.1 0a1.05 1.05 0 1 0 2.1 0M204.7 272.4a1.05 1.05 0 1 0-2.1 0a1.05 1.05 0 1 0 2.1 0M206.3 272.2a1.05 1.05 0 1 0-2.1 0a1.05 1.05 0 1 0 2.1 0M207.4 273.0a1.05 1.05 0 1 0-2.1 0a1.05 1.05 0 1 0 2.1 0M208.6 273.4a1.05 1.05 0 1 0-2.1 0a1.05 1.05 0 1 0 2.1 0M209.9 273.7a1.05 1.05 0 1 0-2.1 0a1.05 1.05 0 1 0 2.1 0M211.0 274.4a1.05 1.05 0 1 0-2.1 0a1.05 1.05 0 1 0 2.1 0M212.5 274.2a1.05 1.05 0 1 0-2.1 0a1.05 1.05 0 1 0 2.1 0M213.3 275.7a1.05 1.05 0 1 0-2.1 0a1.05 1.05 0 1 0 2.1 0M214.6 276.0a1.05 1.05 0 1 0-2.1 0a1.05 1.05 0 1 0 2.1 0M216.0 276.1a1.05 1.05 0 1 0-2.1 0a1.05 1.05 0 1 0 2.1 0M217.3 276.3a1.05 1.05 0 1 0-2.1 0a1.05 1.05 0 1 0 2.1 0M218.5 276.7a1.05 1.05 0 1 0-2.1 0a1.05 1.05 0 1 0 2.1 0M219.9 276.6a1.05 1.05 0 1 0-2.1 0a1.05 1.05 0 1 0 2.1 0M221.0 277.9a1.05 1.05 0 1 0-2.1 0a1.05 1.05 0 1 0 2.1 0M222.4 277.2a1.05 1.05 0 1 0-2.1 0a1.05 1.05 0 1 0 2.1 0M223.7 277.7a1.05 1.05 0 1 0-2.1 0a1.05 1.05 0 1 0 2.1 0M225.0 278.5a1.05 1.05 0 1 0-2.1 0a1.05 1.05 0 1 0 2.1 0M226.3 278.1a1.05 1.05 0 1 0-2.1 0a1.05 1.05 0 1 0 2.1 0M227.6 277.0a1.05 1.05 0 1 0-2.1 0a1.05 1.05 0 1 0 2.1 0M228.9 277.6a1.05 1.05 0 1 0-2.1 0a1.05 1.05 0 1 0 2.1 0M230.2 278.2a1.05 1.05 0 1 0-2.1 0a1.05 1.05 0 1 0 2.1 0M231.6 279.2a1.05 1.05 0 1 0-2.1 0a1.05 1.05 0 1 0 2.1 0M232.8 278.3a1.05 1.05 0 1 0-2.1 0a1.05 1.05 0 1 0 2.1 0M234.1 278.2a1.05 1.05 0 1 0-2.1 0a1.05 1.05 0 1 0 2.1 0M235.4 277.8a1.05 1.05 0 1 0-2.1 0a1.05 1.05 0 1 0 2.1 0M236.7 276.7a1.05 1.05 0 1 0-2.1 0a1.05 1.05 0 1 0 2.1 0M238.0 277.4a1.05 1.05 0 1 0-2.1 0a1.05 1.05 0 1 0 2.1 0M239.3 277.6a1.05 1.05 0 1 0-2.1 0a1.05 1.05 0 1 0 2.1 0M240.6 278.3a1.05 1.05 0 1 0-2.1 0a1.05 1.05 0 1 0 2.1 0M241.9 278.4a1.05 1.05 0 1 0-2.1 0a1.05 1.05 0 1 0 2.1 0M243.2 277.9a1.05 1.05 0 1 0-2.1 0a1.05 1.05 0 1 0 2.1 0M244.5 278.0a1.05 1.05 0 1 0-2.1 0a1.05 1.05 0 1 0 2.1 0M245.8 276.2a1.05 1.05 0 1 0-2.1 0a1.05 1.05 0 1 0 2.1 0M247.1 277.9a1.05 1.05 0 1 0-2.1 0a1.05 1.05 0 1 0 2.1 0M248.4 278.0a1.05 1.05 0 1 0-2.1 0a1.05 1.05 0 1 0 2.1 0M249.7 277.2a1.05 1.05 0 1 0-2.1 0a1.05 1.05 0 1 0 2.1 0M251.0 277.7a1.05 1.05 0 1 0-2.1 0a1.05 1.05 0 1 0 2.1 0M252.3 278.3a1.05 1.05 0 1 0-2.1 0a1.05 1.05 0 1 0 2.1 0M253.6 277.1a1.05 1.05 0 1 0-2.1 0a1.05 1.05 0 1 0 2.1 0M254.9 277.9a1.05 1.05 0 1 0-2.1 0a1.05 1.05 0 1 0 2.1 0M256.2 278.4a1.05 1.05 0 1 0-2.1 0a1.05 1.05 0 1 0 2.1 0M257.5 277.7a1.05 1.05 0 1 0-2.1 0a1.05 1.05 0 1 0 2.1 0M258.8 277.6a1.05 1.05 0 1 0-2.1 0a1.05 1.05 0 1 0 2.1 0M260.0 278.1a1.05 1.05 0 1 0-2.1 0a1.05 1.05 0 1 0 2.1 0M261.4 277.7a1.05 1.05 0 1 0-2.1 0a1.05 1.05 0 1 0 2.1 0M262.7 277.7a1.05 1.05 0 1 0-2.1 0a1.05 1.05 0 1 0 2.1 0M263.9 278.7a1.05 1.05 0 1 0-2.1 0a1.05 1.05 0 1 0 2.1 0M265.1 279.4a1.05 1.05 0 1 0-2.1 0a1.05 1.05 0 1 0 2.1 0M266.4 279.7a1.05 1.05 0 1 0-2.1 0a1.05 1.05 0 1 0 2.1 0M267.8 278.7a1.05 1.05 0 1 0-2.1 0a1.05 1.05 0 1 0 2.1 0M269.1 278.2a1.05 1.05 0 1 0-2.1 0a1.05 1.05 0 1 0 2.1 0M270.4 278.4a1.05 1.05 0 1 0-2.1 0a1.05 1.05 0 1 0 2.1 0M271.7 278.4a1.05 1.05 0 1 0-2.1 0a1.05 1.05 0 1 0 2.1 0M273.1 278.3a1.05 1.05 0 1 0-2.1 0a1.05 1.05 0 1 0 2.1 0M274.2 279.4a1.05 1.05 0 1 0-2.1 0a1.05 1.05 0 1 0 2.1 0M275.6 279.1a1.05 1.05 0 1 0-2.1 0a1.05 1.05 0 1 0 2.1 0M276.7 280.5a1.05 1.05 0 1 0-2.1 0a1.05 1.05 0 1 0 2.1 0M278.1 279.6a1.05 1.05 0 1 0-2.1 0a1.05 1.05 0 1 0 2.1 0M279.4 280.0a1.05 1.05 0 1 0-2.1 0a1.05 1.05 0 1 0 2.1 0M280.6 280.4a1.05 1.05 0 1 0-2.1 0a1.05 1.05 0 1 0 2.1 0M281.8 280.8a1.05 1.05 0 1 0-2.1 0a1.05 1.05 0 1 0 2.1 0M283.0 281.4a1.05 1.05 0 1 0-2.1 0a1.05 1.05 0 1 0 2.1 0M284.4 281.1a1.05 1.05 0 1 0-2.1 0a1.05 1.05 0 1 0 2.1 0M285.8 280.9a1.05 1.05 0 1 0-2.1 0a1.05 1.05 0 1 0 2.1 0M286.8 282.0a1.05 1.05 0 1 0-2.1 0a1.05 1.05 0 1 0 2.1 0M288.2 282.0a1.05 1.05 0 1 0-2.1 0a1.05 1.05 0 1 0 2.1 0M289.2 283.0a1.05 1.05 0 1 0-2.1 0a1.05 1.05 0 1 0 2.1 0M290.5 283.0a1.05 1.05 0 1 0-2.1 0a1.05 1.05 0 1 0 2.1 0M291.3 284.1a1.05 1.05 0 1 0-2.1 0a1.05 1.05 0 1 0 2.1 0M292.6 284.2a1.05 1.05 0 1 0-2.1 0a1.05 1.05 0 1 0 2.1 0M292.5 285.2a1.05 1.05 0 1 0-2.1 0a1.05 1.05 0 1 0 2.1 0M292.4 286.2a1.05 1.05 0 1 0-2.1 0a1.05 1.05 0 1 0 2.1 0M291.3 286.7a1.05 1.05 0 1 0-2.1 0a1.05 1.05 0 1 0 2.1 0M290.2 287.1a1.05 1.05 0 1 0-2.1 0a1.05 1.05 0 1 0 2.1 0M289.4 288.0a1.05 1.05 0 1 0-2.1 0a1.05 1.05 0 1 0 2.1 0M288.5 289.1a1.05 1.05 0 1 0-2.1 0a1.05 1.05 0 1 0 2.1 0M287.3 289.6a1.05 1.05 0 1 0-2.1 0a1.05 1.05 0 1 0 2.1 0M285.8 289.0a1.05 1.05 0 1 0-2.1 0a1.05 1.05 0 1 0 2.1 0M284.7 289.7a1.05 1.05 0 1 0-2.1 0a1.05 1.05 0 1 0 2.1 0M283.4 289.9a1.05 1.05 0 1 0-2.1 0a1.05 1.05 0 1 0 2.1 0M282.1 289.9a1.05 1.05 0 1 0-2.1 0a1.05 1.05 0 1 0 2.1 0M280.6 289.1a1.05 1.05 0 1 0-2.1 0a1.05 1.05 0 1 0 2.1 0M279.5 290.2a1.05 1.05 0 1 0-2.1 0a1.05 1.05 0 1 0 2.1 0M278.1 289.7a1.05 1.05 0 1 0-2.1 0a1.05 1.05 0 1 0 2.1 0M276.9 290.9a1.05 1.05 0 1 0-2.1 0a1.05 1.05 0 1 0 2.1 0M275.6 290.9a1.05 1.05 0 1 0-2.1 0a1.05 1.05 0 1 0 2.1 0M274.3 291.0a1.05 1.05 0 1 0-2.1 0a1.05 1.05 0 1 0 2.1 0M272.8 289.6a1.05 1.05 0 1 0-2.1 0a1.05 1.05 0 1 0 2.1 0M271.8 291.4a1.05 1.05 0 1 0-2.1 0a1.05 1.05 0 1 0 2.1 0M270.5 291.6a1.05 1.05 0 1 0-2.1 0a1.05 1.05 0 1 0 2.1 0M269.0 290.8a1.05 1.05 0 1 0-2.1 0a1.05 1.05 0 1 0 2.1 0M267.9 292.1a1.05 1.05 0 1 0-2.1 0a1.05 1.05 0 1 0 2.1 0M266.6 291.9a1.05 1.05 0 1 0-2.1 0a1.05 1.05 0 1 0 2.1 0M265.3 291.9a1.05 1.05 0 1 0-2.1 0a1.05 1.05 0 1 0 2.1 0M264.0 291.8a1.05 1.05 0 1 0-2.1 0a1.05 1.05 0 1 0 2.1 0M262.7 291.8a1.05 1.05 0 1 0-2.1 0a1.05 1.05 0 1 0 2.1 0M261.4 292.2a1.05 1.05 0 1 0-2.1 0a1.05 1.05 0 1 0 2.1 0M260.3 294.1a1.05 1.05 0 1 0-2.1 0a1.05 1.05 0 1 0 2.1 0M258.9 292.8a1.05 1.05 0 1 0-2.1 0a1.05 1.05 0 1 0 2.1 0M257.6 292.9a1.05 1.05 0 1 0-2.1 0a1.05 1.05 0 1 0 2.1 0M256.3 292.5a1.05 1.05 0 1 0-2.1 0a1.05 1.05 0 1 0 2.1 0M255.0 292.6a1.05 1.05 0 1 0-2.1 0a1.05 1.05 0 1 0 2.1 0M253.7 292.6a1.05 1.05 0 1 0-2.1 0a1.05 1.05 0 1 0 2.1 0M252.4 292.4a1.05 1.05 0 1 0-2.1 0a1.05 1.05 0 1 0 2.1 0M251.1 293.3a1.05 1.05 0 1 0-2.1 0a1.05 1.05 0 1 0 2.1 0M249.8 292.7a1.05 1.05 0 1 0-2.1 0a1.05 1.05 0 1 0 2.1 0M248.5 293.2a1.05 1.05 0 1 0-2.1 0a1.05 1.05 0 1 0 2.1 0M247.3 292.1a1.05 1.05 0 1 0-2.1 0a1.05 1.05 0 1 0 2.1 0M245.9 293.0a1.05 1.05 0 1 0-2.1 0a1.05 1.05 0 1 0 2.1 0M244.7 292.5a1.05 1.05 0 1 0-2.1 0a1.05 1.05 0 1 0 2.1 0M243.4 292.7a1.05 1.05 0 1 0-2.1 0a1.05 1.05 0 1 0 2.1 0M242.1 292.2a1.05 1.05 0 1 0-2.1 0a1.05 1.05 0 1 0 2.1 0M240.9 291.7a1.05 1.05 0 1 0-2.1 0a1.05 1.05 0 1 0 2.1 0M239.4 292.6a1.05 1.05 0 1 0-2.1 0a1.05 1.05 0 1 0 2.1 0M238.2 291.6a1.05 1.05 0 1 0-2.1 0a1.05 1.05 0 1 0 2.1 0M236.9 291.6a1.05 1.05 0 1 0-2.1 0a1.05 1.05 0 1 0 2.1 0M235.7 291.0a1.05 1.05 0 1 0-2.1 0a1.05 1.05 0 1 0 2.1 0M234.4 291.4a1.05 1.05 0 1 0-2.1 0a1.05 1.05 0 1 0 2.1 0M233.1 290.9a1.05 1.05 0 1 0-2.1 0a1.05 1.05 0 1 0 2.1 0M231.8 291.1a1.05 1.05 0 1 0-2.1 0a1.05 1.05 0 1 0 2.1 0M230.5 290.9a1.05 1.05 0 1 0-2.1 0a1.05 1.05 0 1 0 2.1 0M229.3 290.1a1.05 1.05 0 1 0-2.1 0a1.05 1.05 0 1 0 2.1 0M228.2 289.5a1.05 1.05 0 1 0-2.1 0a1.05 1.05 0 1 0 2.1 0M226.7 290.2a1.05 1.05 0 1 0-2.1 0a1.05 1.05 0 1 0 2.1 0M225.4 290.1a1.05 1.05 0 1 0-2.1 0a1.05 1.05 0 1 0 2.1 0M224.2 289.6a1.05 1.05 0 1 0-2.1 0a1.05 1.05 0 1 0 2.1 0M223.3 288.3a1.05 1.05 0 1 0-2.1 0a1.05 1.05 0 1 0 2.1 0M221.8 288.7a1.05 1.05 0 1 0-2.1 0a1.05 1.05 0 1 0 2.1 0M220.7 288.1a1.05 1.05 0 1 0-2.1 0a1.05 1.05 0 1 0 2.1 0M219.5 287.4a1.05 1.05 0 1 0-2.1 0a1.05 1.05 0 1 0 2.1 0M218.4 286.8a1.05 1.05 0 1 0-2.1 0a1.05 1.05 0 1 0 2.1 0M217.5 285.8a1.05 1.05 0 1 0-2.1 0a1.05 1.05 0 1 0 2.1 0M216.3 285.4a1.05 1.05 0 1 0-2.1 0a1.05 1.05 0 1 0 2.1 0M215.0 285.0a1.05 1.05 0 1 0-2.1 0a1.05 1.05 0 1 0 2.1 0M214.3 283.7a1.05 1.05 0 1 0-2.1 0a1.05 1.05 0 1 0 2.1 0M213.6 282.5a1.05 1.05 0 1 0-2.1 0a1.05 1.05 0 1 0 2.1 0M212.1 282.3a1.05 1.05 0 1 0-2.1 0a1.05 1.05 0 1 0 2.1 0M211.0 281.6a1.05 1.05 0 1 0-2.1 0a1.05 1.05 0 1 0 2.1 0M210.6 280.0a1.05 1.05 0 1 0-2.1 0a1.05 1.05 0 1 0 2.1 0M209.3 279.7a1.05 1.05 0 1 0-2.1 0a1.05 1.05 0 1 0 2.1 0M207.8 279.4a1.05 1.05 0 1 0-2.1 0a1.05 1.05 0 1 0 2.1 0M207.0 278.3a1.05 1.05 0 1 0-2.1 0a1.05 1.05 0 1 0 2.1 0M205.9 277.6a1.05 1.05 0 1 0-2.1 0a1.05 1.05 0 1 0 2.1 0M205.2 276.3a1.05 1.05 0 1 0-2.1 0a1.05 1.05 0 1 0 2.1 0M203.5 276.5a1.05 1.05 0 1 0-2.1 0a1.05 1.05 0 1 0 2.1 0M202.2 276.1a1.05 1.05 0 1 0-2.1 0a1.05 1.05 0 1 0 2.1 0M201.6 274.6a1.05 1.05 0 1 0-2.1 0a1.05 1.05 0 1 0 2.1 0M200.7 273.7a1.05 1.05 0 1 0-2.1 0a1.05 1.05 0 1 0 2.1 0M199.8 272.8a1.05 1.05 0 1 0-2.1 0a1.05 1.05 0 1 0 2.1 0M198.1 272.8a1.05 1.05 0 1 0-2.1 0a1.05 1.05 0 1 0 2.1 0M197.5 271.7a1.05 1.05 0 1 0-2.1 0a1.05 1.05 0 1 0 2.1 0M197.7 270.9a1.05 1.05 0 1 0-2.1 0a1.05 1.05 0 1 0 2.1 0M197.1 269.6a1.05 1.05 0 1 0-2.1 0a1.05 1.05 0 1 0 2.1 0" fill="#dc9128"/>
<path d="M290.1,146.6 C290.8,146.1 293.2,145.5 294.7,145.1 C296.2,144.7 298.0,144.7 298.9,144.0 C299.8,143.3 299.2,141.6 299.9,140.9 C300.6,140.2 302.4,139.8 303.0,139.9 C303.6,140.0 303.7,140.6 303.5,141.4 C303.3,142.2 301.7,143.6 302.0,144.5 C302.3,145.4 303.9,146.5 305.1,146.6 C306.3,146.7 307.8,145.8 309.2,145.1 C310.6,144.4 311.6,143.1 313.3,142.5 C315.0,141.9 317.4,141.7 319.5,141.4 C321.6,141.1 324.0,141.6 325.7,140.9 C327.4,140.2 328.8,137.7 329.8,137.3 C330.8,136.9 331.7,137.6 331.9,138.4 C332.1,139.2 330.7,140.6 330.8,142.0 C330.9,143.4 331.7,145.4 332.4,147.1 C333.1,148.8 335.1,150.8 335.0,152.3 C334.9,153.8 333.4,155.1 331.9,155.9 C330.3,156.8 327.9,157.2 325.7,157.4 C323.5,157.6 320.9,157.4 318.5,156.9 C316.1,156.4 313.6,155.3 311.2,154.3 C308.8,153.3 306.4,151.6 304.0,150.7 C301.6,149.8 299.0,149.1 296.8,148.7 C294.6,148.3 291.7,148.4 290.6,148.1 C289.5,147.8 289.4,147.1 290.1,146.6Z" fill="#69ad46" stroke="#69ad46" stroke-width="0.6"/>
<path d="M292.4 146.3a1.05 1.05 0 1 0-2.1 0a1.05 1.05 0 1 0 2.1 0M293.7 146.0a1.05 1.05 0 1 0-2.1 0a1.05 1.05 0 1 0 2.1 0M295.2 146.8a1.05 1.05 0 1 0-2.1 0a1.05 1.05 0 1 0 2.1 0M296.3 145.6a1.05 1.05 0 1 0-2.1 0a1.05 1.05 0 1 0 2.1 0M297.4 145.1a1.05 1.05 0 1 0-2.1 0a1.05 1.05 0 1 0 2.1 0M298.9 145.7a1.05 1.05 0 1 0-2.1 0a1.05 1.05 0 1 0 2.1 0M299.9 144.2a1.05 1.05 0 1 0-2.1 0a1.05 1.05 0 1 0 2.1 0M300.3 142.9a1.05 1.05 0 1 0-2.1 0a1.05 1.05 0 1 0 2.1 0M300.7 141.7a1.05 1.05 0 1 0-2.1 0a1.05 1.05 0 1 0 2.1 0M301.8 141.4a1.05 1.05 0 1 0-2.1 0a1.05 1.05 0 1 0 2.1 0M302.8 141.0a1.05 1.05 0 1 0-2.1 0a1.05 1.05 0 1 0 2.1 0M303.8 140.0a1.05 1.05 0 1 0-2.1 0a1.05 1.05 0 1 0 2.1 0M304.5 140.6a1.05 1.05 0 1 0-2.1 0a1.05 1.05 0 1 0 2.1 0M304.4 141.9a1.05 1.05 0 1 0-2.1 0a1.05 1.05 0 1 0 2.1 0M303.6 143.0a1.05 1.05 0 1 0-2.1 0a1.05 1.05 0 1 0 2.1 0M302.4 144.0a1.05 1.05 0 1 0-2.1 0a1.05 1.05 0 1 0 2.1 0M303.0 145.8a1.05 1.05 0 1 0-2.1 0a1.05 1.05 0 1 0 2.1 0M303.8 147.4a1.05 1.05 0 1 0-2.1 0a1.05 1.05 0 1 0 2.1 0M305.7 146.7a1.05 1.05 0 1 0-2.1 0a1.05 1.05 0 1 0 2.1 0M307.0 146.0a1.05 1.05 0 1 0-2.1 0a1.05 1.05 0 1 0 2.1 0M308.6 146.8a1.05 1.05 0 1 0-2.1 0a1.05 1.05 0 1 0 2.1 0M309.8 146.3a1.05 1.05 0 1 0-2.1 0a1.05 1.05 0 1 0 2.1 0M310.7 145.1a1.05 1.05 0 1 0-2.1 0a1.05 1.05 0 1 0 2.1 0M311.9 144.5a1.05 1.05 0 1 0-2.1 0a1.05 1.05 0 1 0 2.1 0M313.4 144.4a1.05 1.05 0 1 0-2.1 0a1.05 1.05 0 1 0 2.1 0M314.2 143.6a1.05 1.05 0 1 0-2.1 0a1.05 1.05 0 1 0 2.1 0M315.4 143.4a1.05 1.05 0 1 0-2.1 0a1.05 1.05 0 1 0 2.1 0M316.2 141.6a1.05 1.05 0 1 0-2.1 0a1.05 1.05 0 1 0 2.1 0M317.7 142.7a1.05 1.05 0 1 0-2.1 0a1.05 1.05 0 1 0 2.1 0M318.9 141.8a1.05 1.05 0 1 0-2.1 0a1.05 1.05 0 1 0 2.1 0M320.1 141.1a1.05 1.05 0 1 0-2.1 0a1.05 1.05 0 1 0 2.1 0M321.4 141.0a1.05 1.05 0 1 0-2.1 0a1.05 1.05 0 1 0 2.1 0M322.8 141.2a1.05 1.05 0 1 0-2.1 0a1.05 1.05 0 1 0 2.1 0M324.1 141.1a1.05 1.05 0 1 0-2.1 0a1.05 1.05 0 1 0 2.1 0M325.5 142.4a1.05 1.05 0 1 0-2.1 0a1.05 1.05 0 1 0 2.1 0M326.9 141.7a1.05 1.05 0 1 0-2.1 0a1.05 1.05 0 1 0 2.1 0M328.4 141.0a1.05 1.05 0 1 0-2.1 0a1.05 1.05 0 1 0 2.1 0M329.2 139.9a1.05 1.05 0 1 0-2.1 0a1.05 1.05 0 1 0 2.1 0M329.0 138.0a1.05 1.05 0 1 0-2.1 0a1.05 1.05 0 1 0 2.1 0M331.4 138.7a1.05 1.05 0 1 0-2.1 0a1.05 1.05 0 1 0 2.1 0M331.6 137.5a1.05 1.05 0 1 0-2.1 0a1.05 1.05 0 1 0 2.1 0M331.7 138.6a1.05 1.05 0 1 0-2.1 0a1.05 1.05 0 1 0 2.1 0M332.9 139.2a1.05 1.05 0 1 0-2.1 0a1.05 1.05 0 1 0 2.1 0M332.3 140.3a1.05 1.05 0 1 0-2.1 0a1.05 1.05 0 1 0 2.1 0M331.0 141.4a1.05 1.05 0 1 0-2.1 0a1.05 1.05 0 1 0 2.1 0M332.4 142.8a1.05 1.05 0 1 0-2.1 0a1.05 1.05 0 1 0 2.1 0M331.8 144.3a1.05 1.05 0 1 0-2.1 0a1.05 1.05 0 1 0 2.1 0M332.8 145.3a1.05 1.05 0 1 0-2.1 0a1.05 1.05 0 1 0 2.1 0M332.8 146.7a1.05 1.05 0 1 0-2.1 0a1.05 1.05 0 1 0 2.1 0M333.0 148.1a1.05 1.05 0 1 0-2.1 0a1.05 1.05 0 1 0 2.1 0M333.8 149.3a1.05 1.05 0 1 0-2.1 0a1.05 1.05 0 1 0 2.1 0M334.6 150.3a1.05 1.05 0 1 0-2.1 0a1.05 1.05 0 1 0 2.1 0M335.5 151.2a1.05 1.05 0 1 0-2.1 0a1.05 1.05 0 1 0 2.1 0M335.5 152.2a1.05 1.05 0 1 0-2.1 0a1.05 1.05 0 1 0 2.1 0M336.1 153.8a1.05 1.05 0 1 0-2.1 0a1.05 1.05 0 1 0 2.1 0M334.3 154.1a1.05 1.05 0 1 0-2.1 0a1.05 1.05 0 1 0 2.1 0M333.3 154.7a1.05 1.05 0 1 0-2.1 0a1.05 1.05 0 1 0 2.1 0M332.3 155.2a1.05 1.05 0 1 0-2.1 0a1.05 1.05 0 1 0 2.1 0M331.2 155.6a1.05 1.05 0 1 0-2.1 0a1.05 1.05 0 1 0 2.1 0M329.9 155.6a1.05 1.05 0 1 0-2.1 0a1.05 1.05 0 1 0 2.1 0M328.8 156.1a1.05 1.05 0 1 0-2.1 0a1.05 1.05 0 1 0 2.1 0M327.7 157.2a1.05 1.05 0 1 0-2.1 0a1.05 1.05 0 1 0 2.1 0M326.4 156.9a1.05 1.05 0 1 0-2.1 0a1.05 1.05 0 1 0 2.1 0M325.1 156.8a1.05 1.05 0 1 0-2.1 0a1.05 1.05 0 1 0 2.1 0M323.8 157.0a1.05 1.05 0 1 0-2.1 0a1.05 1.05 0 1 0 2.1 0M322.5 157.3a1.05 1.05 0 1 0-2.1 0a1.05 1.05 0 1 0 2.1 0M321.2 156.9a1.05 1.05 0 1 0-2.1 0a1.05 1.05 0 1 0 2.1 0M320.0 156.8a1.05 1.05 0 1 0-2.1 0a1.05 1.05 0 1 0 2.1 0M318.9 155.8a1.05 1.05 0 1 0-2.1 0a1.05 1.05 0 1 0 2.1 0M317.6 155.6a1.05 1.05 0 1 0-2.1 0a1.05 1.05 0 1 0 2.1 0M316.5 155.0a1.05 1.05 0 1 0-2.1 0a1.05 1.05 0 1 0 2.1 0M315.2 154.8a1.05 1.05 0 1 0-2.1 0a1.05 1.05 0 1 0 2.1 0M314.2 154.0a1.05 1.05 0 1 0-2.1 0a1.05 1.05 0 1 0 2.1 0M312.9 153.7a1.05 1.05 0 1 0-2.1 0a1.05 1.05 0 1 0 2.1 0M311.7 153.3a1.05 1.05 0 1 0-2.1 0a1.05 1.05 0 1 0 2.1 0M310.6 152.7a1.05 1.05 0 1 0-2.1 0a1.05 1.05 0 1 0 2.1 0M309.4 152.1a1.05 1.05 0 1 0-2.1 0a1.05 1.05 0 1 0 2.1 0M308.3 151.3a1.05 1.05 0 1 0-2.1 0a1.05 1.05 0 1 0 2.1 0M306.8 151.5a1.05 1.05 0 1 0-2.1 0a1.05 1.05 0 1 0 2.1 0M305.9 150.2a1.05 1.05 0 1 0-2.1 0a1.05 1.05 0 1 0 2.1 0M304.8 149.4a1.05 1.05 0 1 0-2.1 0a1.05 1.05 0 1 0 2.1 0M303.3 149.6a1.05 1.05 0 1 0-2.1 0a1.05 1.05 0 1 0 2.1 0M302.2 148.6a1.05 1.05 0 1 0-2.1 0a1.05 1.05 0 1 0 2.1 0M300.9 148.2a1.05 1.05 0 1 0-2.1 0a1.05 1.05 0 1 0 2.1 0M299.5 148.5a1.05 1.05 0 1 0-2.1 0a1.05 1.05 0 1 0 2.1 0M298.4 147.3a1.05 1.05 0 1 0-2.1 0a1.05 1.05 0 1 0 2.1 0M297.1 146.4a1.05 1.05 0 1 0-2.1 0a1.05 1.05 0 1 0 2.1 0M295.6 148.0a1.05 1.05 0 1 0-2.1 0a1.05 1.05 0 1 0 2.1 0M294.3 148.3a1.05 1.05 0 1 0-2.1 0a1.05 1.05 0 1 0 2.1 0M293.1 146.9a1.05 1.05 0 1 0-2.1 0a1.05 1.05 0 1 0 2.1 0M291.9 147.1a1.05 1.05 0 1 0-2.1 0a1.05 1.05 0 1 0 2.1 0M291.0 147.3a1.05 1.05 0 1 0-2.1 0a1.05 1.05 0 1 0 2.1 0" fill="#69ad46"/>
<path d="M87.6,124.0 L86.6,127.5 L85.6,131.5" fill="none" stroke="#e66a64" stroke-width="2.2" stroke-linecap="round" stroke-linejoin="round"/>
<path d="M79.7,210.4 L83.0,214.7 L86.5,218.5" fill="none" stroke="#e66a64" stroke-width="2.4" stroke-linecap="round" stroke-linejoin="round"/>
<path d="M87.2,206.0 L89.0,203.8 L90.6,203.6" fill="none" stroke="#e66a64" stroke-width="2.6" stroke-linecap="round" stroke-linejoin="round"/>
<path d="M151.6,287.6 L155.0,285.6 L158.6,283.5" fill="none" stroke="#e05fa0" stroke-width="2.2" stroke-linecap="round" stroke-linejoin="round"/>
<path d="M163.2,280.7 L166.0,279.2 L169.0,277.9" fill="none" stroke="#e05fa0" stroke-width="2.2" stroke-linecap="round" stroke-linejoin="round"/>
<path d="M158.2,186.3 L160.0,188.8 L161.8,190.9" fill="none" stroke="#c66db6" stroke-width="3.6" stroke-linecap="round" stroke-linejoin="round"/>
<circle cx="124.7" cy="71.6" r="1.3" fill="#18a67b"/>
<circle cx="118.8" cy="79.9" r="1.2" fill="#e66a64"/>
<circle cx="155.4" cy="74.2" r="1.3" fill="#e66a64"/>
<circle cx="253.4" cy="81.7" r="1.2" fill="#e66a64"/>
<circle cx="214.4" cy="111.9" r="1.2" fill="#dc9128"/>
<circle cx="200.5" cy="103.9" r="1.2" fill="#e66a64"/>
<circle cx="216.9" cy="104.4" r="1.0" fill="#e05fa0"/>
<circle cx="180.4" cy="139.6" r="1.4" fill="#26a756"/>
<circle cx="172.2" cy="143.6" r="1.2" fill="#e66a64"/>
<circle cx="78.4" cy="120.7" r="1.1" fill="#26a756"/>
<circle cx="79.6" cy="123.3" r="1.0" fill="#e66a64"/>
<circle cx="119.4" cy="174.7" r="1.3" fill="#26a756"/>
<circle cx="112.6" cy="176.2" r="1.1" fill="#e66a64"/>
<circle cx="289.4" cy="131.1" r="2.0" fill="#ae9b30"/>
<circle cx="299.4" cy="137.3" r="1.3" fill="#ae9b30"/>
<circle cx="293.2" cy="132.7" r="1.1" fill="#69ad46"/>
<circle cx="290.1" cy="147.1" r="1.2" fill="#e66a64"/>
<circle cx="196.8" cy="271.8" r="1.0" fill="#e05fa0"/>
<circle cx="199.4" cy="268.2" r="1.0" fill="#e05fa0"/>
<circle cx="170.1" cy="214.3" r="1.1" fill="#e66a64"/>
<circle cx="197.1" cy="207.3" r="1.2" fill="#26a756"/>
<circle cx="201" cy="209.7" r="1.2" fill="#26a756"/>
<circle cx="203.5" cy="199.9" r="1.1" fill="#c66db6"/>
<circle cx="211.6" cy="201.8" r="1.1" fill="#c66db6"/>
<circle cx="205.2" cy="204.8" r="1.0" fill="#c66db6"/>
<circle cx="230.4" cy="189.3" r="1.1" fill="#dc9128"/>
<circle cx="213.8" cy="194.8" r="1.0" fill="#9a78bd"/>
<circle cx="202.9" cy="208.6" r="1.0" fill="#9a78bd"/>
<circle cx="206.2" cy="205.7" r="1.0" fill="#9a78bd"/>
<circle cx="197.72" cy="194.44" r="1.1" fill="#c66db6"/>
<circle cx="199.85" cy="193.58" r="1.1" fill="#c66db6"/>
<circle cx="199.05" cy="193.51" r="1.1" fill="#c66db6"/>
<circle cx="200.81" cy="196.32" r="1.1" fill="#c66db6"/>
<circle cx="201.01" cy="195.27" r="1.1" fill="#c66db6"/>
<circle cx="199.86" cy="195.49" r="1.1" fill="#c66db6"/>
<circle cx="198.03" cy="196.25" r="1.1" fill="#c66db6"/>
<circle cx="197.45" cy="195.47" r="1.1" fill="#c66db6"/>
<circle cx="200.31" cy="196.1" r="1.1" fill="#c66db6"/>
<circle cx="198.78" cy="198.45" r="1.1" fill="#c66db6"/>
<circle cx="197.86" cy="201.48" r="1.1" fill="#c66db6"/>
<circle cx="197.97" cy="201.56" r="1.1" fill="#c66db6"/>
<circle cx="197.38" cy="201.77" r="1.1" fill="#c66db6"/>
<circle cx="199.29" cy="202.22" r="1.1" fill="#c66db6"/>
<circle cx="197.99" cy="203.01" r="1.1" fill="#c66db6"/>
<circle cx="210.16" cy="197.04" r="1.1" fill="#c66db6"/>
<circle cx="207.82" cy="198.72" r="1.1" fill="#c66db6"/>
<circle cx="206.7" cy="196.88" r="1.1" fill="#c66db6"/>
<circle cx="208.84" cy="198.69" r="1.1" fill="#c66db6"/>
<circle cx="207.58" cy="195.74" r="1.1" fill="#c66db6"/>
<circle cx="209.16" cy="196.66" r="1.1" fill="#c66db6"/>
<circle cx="207.08" cy="203.02" r="1.1" fill="#c66db6"/>
<circle cx="207.75" cy="202.8" r="1.1" fill="#c66db6"/>
<circle cx="207.11" cy="203.87" r="1.1" fill="#c66db6"/>
<circle cx="208.82" cy="202.44" r="1.1" fill="#c66db6"/>
<circle cx="207.03" cy="203.35" r="1.1" fill="#c66db6"/>
<circle cx="207.96" cy="201.14" r="1.1" fill="#c66db6"/>
<circle cx="201.28" cy="193.81" r="1.1" fill="#c66db6"/>
<circle cx="201.45" cy="193.12" r="1.1" fill="#c66db6"/>
<text x="64.50" y="49.00" font-size="7.35">Inhibitory neurons</text>
<text x="64.50" y="56.60" font-size="7.35" class="it">ADARB2−VIP</text>
<text x="149.70" y="49.00" font-size="7.35">Inhibitory neurons</text>
<text x="149.70" y="56.60" font-size="7.35" class="it">ADARB2−LAMP5</text>
<text x="114.00" y="122.40" font-size="7.35">Inhibitory neurons</text>
<text x="114.00" y="130.00" font-size="7.35" class="it">LHX6−PVALB</text>
<text x="218.60" y="114.20" font-size="7.35">Inhibitory neurons</text>
<text x="218.60" y="121.80" font-size="7.35" class="it">LHX6−SST</text>
<text x="165.90" y="178.70" font-size="7.35">Excitatory neurons</text>
<text x="165.90" y="186.30" font-size="7.35" class="it">SEMA3E</text>
<text x="239.30" y="199.30" font-size="7.35">Excitatory neurons</text>
<text x="239.30" y="206.90" font-size="7.35" class="it">RORB</text>
<text x="163.90" y="239.40" font-size="7.35">Excitatory neurons</text>
<text x="163.90" y="247.00" font-size="7.35" class="it">LINC00507</text>
<text x="71.60" y="190.60" font-size="7.35">Astrocytes</text>
<text x="229.70" y="38.90" font-size="7.35">Microglia</text>
<text x="311.80" y="152.30" font-size="7.35">OPCs</text>
<text x="221.20" y="287.20" font-size="7.35">Oligodendrocytes</text>
<text x="134.50" y="281.80" font-size="7.35">Endothelial</text>
<rect x="447.15" y="235.05" width="22.4" height="72.85" fill="#d9dadc"/>
<text x="458.35" y="231.85" font-size="11" text-anchor="middle">20.1</text>
<rect x="472.20" y="172.34" width="22.4" height="135.56" fill="#818285"/>
<text x="483.40" y="169.14" font-size="11" text-anchor="middle">37.4</text>
<rect x="497.25" y="149.15" width="22.4" height="158.75" fill="#231f20"/>
<text x="508.45" y="145.95" font-size="11" text-anchor="middle">43.8</text>
<rect x="544.35" y="223.09" width="22.4" height="84.81" fill="#d9dadc"/>
<text x="555.55" y="219.89" font-size="11" text-anchor="middle">23.4</text>
<rect x="569.40" y="235.05" width="22.4" height="72.85" fill="#818285"/>
<text x="580.60" y="231.85" font-size="11" text-anchor="middle">20.1</text>
<rect x="594.45" y="27.00" width="22.4" height="280.90" fill="#231f20"/>
<text x="605.65" y="23.80" font-size="11" text-anchor="middle">77.5</text>
<rect x="641.55" y="293.18" width="22.4" height="14.72" fill="#d9dadc"/>
<text x="652.75" y="289.98" font-size="11" text-anchor="middle">4.06</text>
<rect x="666.60" y="282.85" width="22.4" height="25.05" fill="#818285"/>
<text x="677.80" y="279.65" font-size="11" text-anchor="middle">6.91</text>
<rect x="691.65" y="196.99" width="22.4" height="110.91" fill="#231f20"/>
<text x="702.85" y="193.79" font-size="11" text-anchor="middle">30.6</text>
<text x="483.40" y="329.10" font-size="13.6" text-anchor="middle">Barcode</text>
<text x="483.40" y="345.30" font-size="13.6" text-anchor="middle">detection</text>
<text x="580.60" y="329.10" font-size="13.6" text-anchor="middle">On-target</text>
<text x="580.60" y="345.30" font-size="13.6" text-anchor="middle">rate</text>
<text x="677.60" y="329.10" font-size="13.6" text-anchor="middle">Barcoded &amp;</text>
<text x="677.60" y="345.30" font-size="13.6" text-anchor="middle">on-target</text>
<rect x="625" y="27.7" width="9" height="9" fill="#d9dadc"/>
<rect x="625" y="67.0" width="9" height="9" fill="#818285"/>
<rect x="625" y="106.0" width="9" height="9" fill="#231f20"/>
<text x="640.00" y="35.90" font-size="11.55">Naive single-nuclei</text>
<text x="640.00" y="49.40" font-size="11.55">long-read</text>
<text x="640.00" y="74.80" font-size="11.55">LAP only</text>
<text x="640.00" y="113.90" font-size="11.55">LAP-CAP (SnISOr-Seq)</text>
<text transform="translate(395.7,162.9) rotate(-90)" font-size="13.5" text-anchor="middle">Percentage of total reads</text>
<path d="M719.2,197.4 C725.8,197.4 729.7,201.5 729.7,212 L729.7,233 C729.7,241 733.5,245.6 741.6,246.4 C733.5,247.2 729.7,251.8 729.7,259.5 L729.7,281.5 C729.7,292 725.8,295.3 719.2,295.3" fill="none" stroke="#231f20" stroke-width="1.45"/>
<text transform="translate(756.8,246.5) rotate(-90)" font-size="13" text-anchor="middle">7.5-fold</text>
<text transform="translate(771.3,247) rotate(-90)" font-size="13" text-anchor="middle">improvement</text>
<path d="M268 431h1v1h-1zM267 432h3v1h-3zM268 433h1v1h-1zM257 445h1v1h-1zM256 446h3v1h-3zM250 447h1v1h-1zM257 447h1v1h-1zM249 448h3v1h-3zM248 449h5v1h-5zM247 450h1v1h-1zM249 450h5v1h-5zM243 451h1v1h-1zM246 451h9v1h-9zM242 452h13v1h-13zM239 453h16v1h-16zM238 454h5v1h-5zM244 454h10v1h-10zM235 455h1v1h-1zM237 455h1v1h-1zM239 455h4v1h-4zM244 455h9v1h-9zM234 456h6v1h-6zM241 456h13v1h-13zM234 457h21v1h-21zM235 458h19v1h-19zM225 459h1v1h-1zM229 459h24v1h-24zM224 460h3v1h-3zM228 460h24v1h-24zM223 461h11v1h-11zM235 461h16v1h-16zM222 462h29v1h-29zM223 463h2v1h-2zM226 463h24v1h-24zM223 464h18v1h-18zM242 464h7v1h-7zM223 465h18v1h-18zM243 465h7v1h-7zM222 466h29v1h-29zM221 467h1v1h-1zM223 467h28v1h-28zM220 468h32v1h-32zM219 469h32v1h-32zM219 470h31v1h-31zM251 470h1v1h-1zM213 471h1v1h-1zM215 471h2v1h-2zM218 471h29v1h-29zM248 471h5v1h-5zM212 472h33v1h-33zM249 472h1v1h-1zM251 472h1v1h-1zM209 473h35v1h-35zM208 474h8v1h-8zM217 474h28v1h-28zM207 475h39v1h-39zM208 476h38v1h-38zM208 477h38v1h-38zM208 478h39v1h-39zM206 479h41v1h-41zM205 480h41v1h-41zM203 481h43v1h-43zM197 482h2v1h-2zM202 482h44v1h-44zM196 483h4v1h-4zM202 483h45v1h-45zM197 484h4v1h-4zM202 484h44v1h-44zM199 485h46v1h-46zM198 486h46v1h-46zM195 487h49v1h-49zM194 488h49v1h-49zM191 489h2v1h-2zM194 489h49v1h-49zM190 490h52v1h-52zM189 491h53v1h-53zM189 492h54v1h-54zM189 493h54v1h-54zM190 494h53v1h-53zM186 495h1v1h-1zM190 495h54v1h-54zM185 496h56v1h-56zM242 496h1v1h-1zM184 497h58v1h-58zM183 498h59v1h-59zM181 499h58v1h-58zM240 499h1v1h-1zM178 500h61v1h-61zM177 501h63v1h-63zM176 502h1v1h-1zM178 502h3v1h-3zM182 502h59v1h-59zM175 503h65v1h-65zM176 504h64v1h-64zM175 505h60v1h-60zM238 505h1v1h-1zM174 506h9v1h-9zM184 506h52v1h-52zM175 507h1v1h-1zM177 507h59v1h-59zM176 508h61v1h-61zM173 509h1v1h-1zM175 509h61v1h-61zM172 510h3v1h-3zM176 510h59v1h-59zM166 511h1v1h-1zM171 511h1v1h-1zM173 511h63v1h-63zM165 512h3v1h-3zM170 512h66v1h-66zM164 513h71v1h-71zM165 514h1v1h-1zM167 514h68v1h-68zM164 515h8v1h-8zM173 515h61v1h-61zM164 516h69v1h-69zM163 517h70v1h-70zM162 518h71v1h-71zM162 519h68v1h-68zM231 519h1v1h-1zM161 520h66v1h-66zM228 520h1v1h-1zM160 521h66v1h-66zM160 522h66v1h-66zM158 523h69v1h-69zM156 524h6v1h-6zM163 524h64v1h-64zM138 525h1v1h-1zM150 525h1v1h-1zM152 525h2v1h-2zM155 525h71v1h-71zM137 526h3v1h-3zM146 526h1v1h-1zM149 526h78v1h-78zM136 527h3v1h-3zM145 527h3v1h-3zM150 527h76v1h-76zM227 527h1v1h-1zM137 528h1v1h-1zM146 528h83v1h-83zM145 529h3v1h-3zM149 529h79v1h-79zM144 530h80v1h-80zM225 530h3v1h-3zM143 531h79v1h-79zM226 531h1v1h-1zM135 532h1v1h-1zM139 532h1v1h-1zM144 532h79v1h-79zM134 533h3v1h-3zM138 533h3v1h-3zM143 533h80v1h-80zM134 534h3v1h-3zM138 534h86v1h-86zM135 535h6v1h-6zM142 535h81v1h-81zM135 536h6v1h-6zM142 536h81v1h-81zM122 537h1v1h-1zM136 537h6v1h-6zM143 537h79v1h-79zM121 538h3v1h-3zM126 538h1v1h-1zM135 538h85v1h-85zM119 539h1v1h-1zM121 539h3v1h-3zM125 539h3v1h-3zM135 539h86v1h-86zM118 540h7v1h-7zM126 540h1v1h-1zM134 540h84v1h-84zM219 540h1v1h-1zM119 541h6v1h-6zM135 541h82v1h-82zM121 542h1v1h-1zM123 542h1v1h-1zM132 542h1v1h-1zM134 542h82v1h-82zM131 543h84v1h-84zM130 544h84v1h-84zM131 545h5v1h-5zM137 545h76v1h-76zM130 546h81v1h-81zM129 547h83v1h-83zM130 548h82v1h-82zM129 549h82v1h-82zM123 550h1v1h-1zM128 550h82v1h-82zM122 551h3v1h-3zM127 551h1v1h-1zM129 551h81v1h-81zM121 552h88v1h-88zM120 553h3v1h-3zM124 553h85v1h-85zM113 554h2v1h-2zM121 554h89v1h-89zM112 555h5v1h-5zM121 555h90v1h-90zM111 556h7v1h-7zM122 556h86v1h-86zM209 556h1v1h-1zM112 557h7v1h-7zM122 557h86v1h-86zM113 558h5v1h-5zM120 558h87v1h-87zM114 559h4v1h-4zM119 559h87v1h-87zM114 560h91v1h-91zM113 561h91v1h-91zM114 562h91v1h-91zM115 563h89v1h-89zM115 564h87v1h-87zM114 565h86v1h-86zM113 566h85v1h-85zM113 567h86v1h-86zM112 568h1v1h-1zM114 568h86v1h-86zM110 569h85v1h-85zM196 569h3v1h-3zM203 569h1v1h-1zM109 570h89v1h-89zM202 570h3v1h-3zM109 571h89v1h-89zM203 571h1v1h-1zM108 572h3v1h-3zM112 572h85v1h-85zM108 573h90v1h-90zM109 574h89v1h-89zM107 575h91v1h-91zM106 576h91v1h-91zM93 577h1v1h-1zM101 577h1v1h-1zM104 577h1v1h-1zM107 577h1v1h-1zM110 577h86v1h-86zM92 578h3v1h-3zM100 578h91v1h-91zM192 578h5v1h-5zM198 578h1v1h-1zM93 579h1v1h-1zM101 579h1v1h-1zM104 579h1v1h-1zM107 579h77v1h-77zM185 579h3v1h-3zM189 579h1v1h-1zM191 579h5v1h-5zM197 579h3v1h-3zM103 580h90v1h-90zM194 580h8v1h-8zM103 581h13v1h-13zM117 581h3v1h-3zM121 581h1v1h-1zM123 581h64v1h-64zM189 581h1v1h-1zM191 581h1v1h-1zM195 581h1v1h-1zM197 581h6v1h-6zM103 582h88v1h-88zM197 582h6v1h-6zM104 583h1v1h-1zM106 583h2v1h-2zM109 583h78v1h-78zM188 583h3v1h-3zM198 583h5v1h-5zM106 584h81v1h-81zM188 584h6v1h-6zM199 584h3v1h-3zM107 585h1v1h-1zM109 585h77v1h-77zM188 585h7v1h-7zM109 586h78v1h-78zM188 586h7v1h-7zM109 587h77v1h-77zM189 587h5v1h-5zM93 588h1v1h-1zM109 588h78v1h-78zM188 588h4v1h-4zM92 589h3v1h-3zM97 589h2v1h-2zM100 589h2v1h-2zM104 589h1v1h-1zM107 589h1v1h-1zM109 589h73v1h-73zM183 589h10v1h-10zM91 590h91v1h-91zM183 590h4v1h-4zM189 590h4v1h-4zM92 591h3v1h-3zM97 591h2v1h-2zM100 591h2v1h-2zM104 591h1v1h-1zM107 591h1v1h-1zM109 591h2v1h-2zM112 591h73v1h-73zM191 591h1v1h-1zM93 592h1v1h-1zM96 592h84v1h-84zM181 592h3v1h-3zM92 593h3v1h-3zM96 593h3v1h-3zM100 593h2v1h-2zM104 593h1v1h-1zM107 593h1v1h-1zM109 593h2v1h-2zM112 593h73v1h-73zM93 594h1v1h-1zM95 594h3v1h-3zM99 594h83v1h-83zM183 594h1v1h-1zM93 595h1v1h-1zM95 595h87v1h-87zM92 596h3v1h-3zM96 596h3v1h-3zM100 596h2v1h-2zM103 596h2v1h-2zM107 596h1v1h-1zM110 596h1v1h-1zM112 596h71v1h-71zM93 597h1v1h-1zM97 597h1v1h-1zM101 597h1v1h-1zM104 597h1v1h-1zM113 597h1v1h-1zM115 597h1v1h-1zM117 597h1v1h-1zM119 597h1v1h-1zM121 597h50v1h-50zM172 597h1v1h-1zM175 597h1v1h-1zM177 597h1v1h-1zM181 597h1v1h-1zM100 598h6v1h-6zM112 598h67v1h-67zM100 599h6v1h-6zM112 599h64v1h-64zM177 599h3v1h-3zM93 600h1v1h-1zM101 600h1v1h-1zM104 600h1v1h-1zM109 600h1v1h-1zM111 600h1v1h-1zM113 600h1v1h-1zM115 600h1v1h-1zM119 600h1v1h-1zM121 600h8v1h-8zM132 600h29v1h-29zM162 600h9v1h-9zM172 600h1v1h-1zM174 600h1v1h-1zM178 600h1v1h-1zM92 601h3v1h-3zM100 601h6v1h-6zM108 601h9v1h-9zM118 601h12v1h-12zM131 601h49v1h-49zM93 602h1v1h-1zM101 602h1v1h-1zM103 602h3v1h-3zM109 602h1v1h-1zM111 602h1v1h-1zM113 602h1v1h-1zM115 602h1v1h-1zM118 602h12v1h-12zM131 602h49v1h-49zM104 603h1v1h-1zM111 603h1v1h-1zM113 603h1v1h-1zM119 603h1v1h-1zM121 603h8v1h-8zM132 603h37v1h-37zM170 603h3v1h-3zM175 603h2v1h-2zM178 603h1v1h-1zM104 604h1v1h-1zM110 604h5v1h-5zM120 604h10v1h-10zM131 604h43v1h-43zM175 604h3v1h-3zM103 605h3v1h-3zM110 605h5v1h-5zM120 605h10v1h-10zM131 605h40v1h-40zM172 605h3v1h-3zM176 605h1v1h-1zM104 606h1v1h-1zM111 606h1v1h-1zM113 606h1v1h-1zM121 606h8v1h-8zM132 606h38v1h-38zM173 606h1v1h-1zM101 607h1v1h-1zM104 607h1v1h-1zM107 607h1v1h-1zM109 607h3v1h-3zM113 607h1v1h-1zM115 607h1v1h-1zM119 607h1v1h-1zM121 607h1v1h-1zM123 607h47v1h-47zM173 607h1v1h-1zM100 608h17v1h-17zM118 608h57v1h-57zM101 609h1v1h-1zM104 609h1v1h-1zM107 609h1v1h-1zM109 609h5v1h-5zM115 609h1v1h-1zM119 609h1v1h-1zM121 609h1v1h-1zM123 609h36v1h-36zM160 609h3v1h-3zM164 609h11v1h-11zM111 610h1v1h-1zM113 610h1v1h-1zM122 610h7v1h-7zM132 610h27v1h-27zM160 610h3v1h-3zM165 610h9v1h-9zM101 611h1v1h-1zM104 611h1v1h-1zM110 611h1v1h-1zM112 611h4v1h-4zM119 611h1v1h-1zM121 611h1v1h-1zM123 611h7v1h-7zM131 611h32v1h-32zM164 611h10v1h-10zM100 612h6v1h-6zM109 612h8v1h-8zM118 612h45v1h-45zM164 612h11v1h-11zM101 613h1v1h-1zM104 613h1v1h-1zM110 613h1v1h-1zM112 613h4v1h-4zM119 613h1v1h-1zM121 613h1v1h-1zM123 613h7v1h-7zM131 613h31v1h-31zM165 613h6v1h-6zM172 613h2v1h-2zM113 614h1v1h-1zM122 614h7v1h-7zM132 614h30v1h-30zM166 614h1v1h-1zM168 614h3v1h-3zM112 615h4v1h-4zM119 615h1v1h-1zM121 615h1v1h-1zM123 615h7v1h-7zM131 615h30v1h-30zM165 615h6v1h-6zM111 616h51v1h-51zM166 616h1v1h-1zM168 616h4v1h-4zM112 617h52v1h-52zM169 617h2v1h-2zM113 618h1v1h-1zM115 618h1v1h-1zM117 618h1v1h-1zM119 618h1v1h-1zM121 618h1v1h-1zM123 618h42v1h-42zM122 619h43v1h-43zM123 620h41v1h-41zM124 622h5v1h-5zM132 622h33v1h-33zM123 623h7v1h-7zM131 623h35v1h-35zM123 624h6v1h-6zM132 624h35v1h-35zM124 625h4v1h-4zM133 625h33v1h-33zM124 628h5v1h-5zM132 628h34v1h-34zM123 629h7v1h-7zM131 629h36v1h-36zM124 630h5v1h-5zM132 630h35v1h-35zM126 631h2v1h-2zM133 631h33v1h-33zM140 632h25v1h-25zM124 636h4v1h-4zM133 636h33v1h-33zM123 637h6v1h-6zM132 637h35v1h-35zM123 638h7v1h-7zM131 638h36v1h-36zM124 639h5v1h-5zM132 639h34v1h-34zM124 645h42v1h-42zM123 646h44v1h-44zM124 647h43v1h-43zM126 648h40v1h-40zM124 657h7v1h-7zM132 657h33v1h-33zM123 658h43v1h-43zM123 659h8v1h-8zM132 659h34v1h-34zM124 660h6v1h-6zM133 660h32v1h-32z" fill="#231f20"/>
<path d="M74.5 575.6a2.0 2.0 0 1 0-4.0 0a2.0 2.0 0 1 0 4.0 0M74.5 580.4a2.0 2.0 0 1 0-4.0 0a2.0 2.0 0 1 0 4.0 0M74.5 582.2a2.0 2.0 0 1 0-4.0 0a2.0 2.0 0 1 0 4.0 0M74.5 584.0a2.0 2.0 0 1 0-4.0 0a2.0 2.0 0 1 0 4.0 0M74.5 585.9a2.0 2.0 0 1 0-4.0 0a2.0 2.0 0 1 0 4.0 0M74.5 588.0a2.0 2.0 0 1 0-4.0 0a2.0 2.0 0 1 0 4.0 0M74.5 590.1a2.0 2.0 0 1 0-4.0 0a2.0 2.0 0 1 0 4.0 0M74.5 592.4a2.0 2.0 0 1 0-4.0 0a2.0 2.0 0 1 0 4.0 0M74.5 594.9a2.0 2.0 0 1 0-4.0 0a2.0 2.0 0 1 0 4.0 0M74.5 597.5a2.0 2.0 0 1 0-4.0 0a2.0 2.0 0 1 0 4.0 0M74.5 600.3a2.0 2.0 0 1 0-4.0 0a2.0 2.0 0 1 0 4.0 0M74.5 603.4a2.0 2.0 0 1 0-4.0 0a2.0 2.0 0 1 0 4.0 0M74.5 606.7a2.0 2.0 0 1 0-4.0 0a2.0 2.0 0 1 0 4.0 0M74.5 610.4a2.0 2.0 0 1 0-4.0 0a2.0 2.0 0 1 0 4.0 0M74.5 614.5a2.0 2.0 0 1 0-4.0 0a2.0 2.0 0 1 0 4.0 0M74.5 619.1a2.0 2.0 0 1 0-4.0 0a2.0 2.0 0 1 0 4.0 0M74.5 624.3a2.0 2.0 0 1 0-4.0 0a2.0 2.0 0 1 0 4.0 0M74.5 630.4a2.0 2.0 0 1 0-4.0 0a2.0 2.0 0 1 0 4.0 0M74.5 637.8a2.0 2.0 0 1 0-4.0 0a2.0 2.0 0 1 0 4.0 0M74.5 646.9a2.0 2.0 0 1 0-4.0 0a2.0 2.0 0 1 0 4.0 0M74.5 659.1a2.0 2.0 0 1 0-4.0 0a2.0 2.0 0 1 0 4.0 0M74.7 558.8a2.0 2.0 0 1 0-4.0 0a2.0 2.0 0 1 0 4.0 0M74.7 564.7a2.0 2.0 0 1 0-4.0 0a2.0 2.0 0 1 0 4.0 0M82.2 565.2a2.0 2.0 0 1 0-4.0 0a2.0 2.0 0 1 0 4.0 0M82.2 577.1a2.0 2.0 0 1 0-4.0 0a2.0 2.0 0 1 0 4.0 0M82.2 578.7a2.0 2.0 0 1 0-4.0 0a2.0 2.0 0 1 0 4.0 0M82.2 580.4a2.0 2.0 0 1 0-4.0 0a2.0 2.0 0 1 0 4.0 0M82.2 582.2a2.0 2.0 0 1 0-4.0 0a2.0 2.0 0 1 0 4.0 0M82.2 584.0a2.0 2.0 0 1 0-4.0 0a2.0 2.0 0 1 0 4.0 0M82.2 585.9a2.0 2.0 0 1 0-4.0 0a2.0 2.0 0 1 0 4.0 0M82.2 588.0a2.0 2.0 0 1 0-4.0 0a2.0 2.0 0 1 0 4.0 0M82.2 590.1a2.0 2.0 0 1 0-4.0 0a2.0 2.0 0 1 0 4.0 0M82.2 592.4a2.0 2.0 0 1 0-4.0 0a2.0 2.0 0 1 0 4.0 0M82.2 594.9a2.0 2.0 0 1 0-4.0 0a2.0 2.0 0 1 0 4.0 0M82.2 597.5a2.0 2.0 0 1 0-4.0 0a2.0 2.0 0 1 0 4.0 0M82.2 600.3a2.0 2.0 0 1 0-4.0 0a2.0 2.0 0 1 0 4.0 0M82.2 603.4a2.0 2.0 0 1 0-4.0 0a2.0 2.0 0 1 0 4.0 0M82.2 606.7a2.0 2.0 0 1 0-4.0 0a2.0 2.0 0 1 0 4.0 0M82.2 610.4a2.0 2.0 0 1 0-4.0 0a2.0 2.0 0 1 0 4.0 0M82.2 614.5a2.0 2.0 0 1 0-4.0 0a2.0 2.0 0 1 0 4.0 0M82.2 619.1a2.0 2.0 0 1 0-4.0 0a2.0 2.0 0 1 0 4.0 0M82.2 624.3a2.0 2.0 0 1 0-4.0 0a2.0 2.0 0 1 0 4.0 0M82.2 630.4a2.0 2.0 0 1 0-4.0 0a2.0 2.0 0 1 0 4.0 0M82.2 637.8a2.0 2.0 0 1 0-4.0 0a2.0 2.0 0 1 0 4.0 0M82.2 646.9a2.0 2.0 0 1 0-4.0 0a2.0 2.0 0 1 0 4.0 0M82.2 659.1a2.0 2.0 0 1 0-4.0 0a2.0 2.0 0 1 0 4.0 0M82.3 539.2a2.0 2.0 0 1 0-4.0 0a2.0 2.0 0 1 0 4.0 0M88.3 550.5a2.0 2.0 0 1 0-4.0 0a2.0 2.0 0 1 0 4.0 0M88.3 553.6a2.0 2.0 0 1 0-4.0 0a2.0 2.0 0 1 0 4.0 0M88.3 560.9a2.0 2.0 0 1 0-4.0 0a2.0 2.0 0 1 0 4.0 0M88.3 577.1a2.0 2.0 0 1 0-4.0 0a2.0 2.0 0 1 0 4.0 0M88.3 580.4a2.0 2.0 0 1 0-4.0 0a2.0 2.0 0 1 0 4.0 0M88.3 582.2a2.0 2.0 0 1 0-4.0 0a2.0 2.0 0 1 0 4.0 0M88.3 584.0a2.0 2.0 0 1 0-4.0 0a2.0 2.0 0 1 0 4.0 0M88.3 585.9a2.0 2.0 0 1 0-4.0 0a2.0 2.0 0 1 0 4.0 0M88.3 588.0a2.0 2.0 0 1 0-4.0 0a2.0 2.0 0 1 0 4.0 0M88.3 590.1a2.0 2.0 0 1 0-4.0 0a2.0 2.0 0 1 0 4.0 0M88.3 592.4a2.0 2.0 0 1 0-4.0 0a2.0 2.0 0 1 0 4.0 0M88.3 594.9a2.0 2.0 0 1 0-4.0 0a2.0 2.0 0 1 0 4.0 0M88.3 597.5a2.0 2.0 0 1 0-4.0 0a2.0 2.0 0 1 0 4.0 0M88.3 600.3a2.0 2.0 0 1 0-4.0 0a2.0 2.0 0 1 0 4.0 0M88.3 603.4a2.0 2.0 0 1 0-4.0 0a2.0 2.0 0 1 0 4.0 0M88.3 606.7a2.0 2.0 0 1 0-4.0 0a2.0 2.0 0 1 0 4.0 0M88.3 610.4a2.0 2.0 0 1 0-4.0 0a2.0 2.0 0 1 0 4.0 0M88.3 614.5a2.0 2.0 0 1 0-4.0 0a2.0 2.0 0 1 0 4.0 0M88.3 619.1a2.0 2.0 0 1 0-4.0 0a2.0 2.0 0 1 0 4.0 0M88.3 624.3a2.0 2.0 0 1 0-4.0 0a2.0 2.0 0 1 0 4.0 0M88.3 630.4a2.0 2.0 0 1 0-4.0 0a2.0 2.0 0 1 0 4.0 0M88.3 637.8a2.0 2.0 0 1 0-4.0 0a2.0 2.0 0 1 0 4.0 0M88.3 646.9a2.0 2.0 0 1 0-4.0 0a2.0 2.0 0 1 0 4.0 0M88.3 659.1a2.0 2.0 0 1 0-4.0 0a2.0 2.0 0 1 0 4.0 0M93.4 536.2a2.0 2.0 0 1 0-4.0 0a2.0 2.0 0 1 0 4.0 0M93.4 568.8a2.0 2.0 0 1 0-4.0 0a2.0 2.0 0 1 0 4.0 0M93.4 575.6a2.0 2.0 0 1 0-4.0 0a2.0 2.0 0 1 0 4.0 0M93.4 578.7a2.0 2.0 0 1 0-4.0 0a2.0 2.0 0 1 0 4.0 0M93.4 580.4a2.0 2.0 0 1 0-4.0 0a2.0 2.0 0 1 0 4.0 0M93.4 582.2a2.0 2.0 0 1 0-4.0 0a2.0 2.0 0 1 0 4.0 0M93.4 584.0a2.0 2.0 0 1 0-4.0 0a2.0 2.0 0 1 0 4.0 0M93.4 585.9a2.0 2.0 0 1 0-4.0 0a2.0 2.0 0 1 0 4.0 0M93.4 588.0a2.0 2.0 0 1 0-4.0 0a2.0 2.0 0 1 0 4.0 0M93.4 590.1a2.0 2.0 0 1 0-4.0 0a2.0 2.0 0 1 0 4.0 0M93.4 592.4a2.0 2.0 0 1 0-4.0 0a2.0 2.0 0 1 0 4.0 0M93.4 594.9a2.0 2.0 0 1 0-4.0 0a2.0 2.0 0 1 0 4.0 0M93.4 597.5a2.0 2.0 0 1 0-4.0 0a2.0 2.0 0 1 0 4.0 0M93.4 600.3a2.0 2.0 0 1 0-4.0 0a2.0 2.0 0 1 0 4.0 0M93.4 603.4a2.0 2.0 0 1 0-4.0 0a2.0 2.0 0 1 0 4.0 0M93.4 606.7a2.0 2.0 0 1 0-4.0 0a2.0 2.0 0 1 0 4.0 0M93.4 610.4a2.0 2.0 0 1 0-4.0 0a2.0 2.0 0 1 0 4.0 0M93.4 614.5a2.0 2.0 0 1 0-4.0 0a2.0 2.0 0 1 0 4.0 0M93.4 619.1a2.0 2.0 0 1 0-4.0 0a2.0 2.0 0 1 0 4.0 0M93.4 624.3a2.0 2.0 0 1 0-4.0 0a2.0 2.0 0 1 0 4.0 0M93.4 630.4a2.0 2.0 0 1 0-4.0 0a2.0 2.0 0 1 0 4.0 0M93.4 637.8a2.0 2.0 0 1 0-4.0 0a2.0 2.0 0 1 0 4.0 0M93.4 646.9a2.0 2.0 0 1 0-4.0 0a2.0 2.0 0 1 0 4.0 0M93.4 659.1a2.0 2.0 0 1 0-4.0 0a2.0 2.0 0 1 0 4.0 0M96.3 553.7a2.0 2.0 0 1 0-4.0 0a2.0 2.0 0 1 0 4.0 0M97.8 530.9a2.0 2.0 0 1 0-4.0 0a2.0 2.0 0 1 0 4.0 0M97.8 568.8a2.0 2.0 0 1 0-4.0 0a2.0 2.0 0 1 0 4.0 0M97.8 577.1a2.0 2.0 0 1 0-4.0 0a2.0 2.0 0 1 0 4.0 0M97.8 580.4a2.0 2.0 0 1 0-4.0 0a2.0 2.0 0 1 0 4.0 0M97.8 582.2a2.0 2.0 0 1 0-4.0 0a2.0 2.0 0 1 0 4.0 0M97.8 584.0a2.0 2.0 0 1 0-4.0 0a2.0 2.0 0 1 0 4.0 0M97.8 585.9a2.0 2.0 0 1 0-4.0 0a2.0 2.0 0 1 0 4.0 0M97.8 588.0a2.0 2.0 0 1 0-4.0 0a2.0 2.0 0 1 0 4.0 0M97.8 590.1a2.0 2.0 0 1 0-4.0 0a2.0 2.0 0 1 0 4.0 0M97.8 592.4a2.0 2.0 0 1 0-4.0 0a2.0 2.0 0 1 0 4.0 0M97.8 594.9a2.0 2.0 0 1 0-4.0 0a2.0 2.0 0 1 0 4.0 0M97.8 597.5a2.0 2.0 0 1 0-4.0 0a2.0 2.0 0 1 0 4.0 0M97.8 600.3a2.0 2.0 0 1 0-4.0 0a2.0 2.0 0 1 0 4.0 0M97.8 603.4a2.0 2.0 0 1 0-4.0 0a2.0 2.0 0 1 0 4.0 0M97.8 606.7a2.0 2.0 0 1 0-4.0 0a2.0 2.0 0 1 0 4.0 0M97.8 610.4a2.0 2.0 0 1 0-4.0 0a2.0 2.0 0 1 0 4.0 0M97.8 614.5a2.0 2.0 0 1 0-4.0 0a2.0 2.0 0 1 0 4.0 0M97.8 619.1a2.0 2.0 0 1 0-4.0 0a2.0 2.0 0 1 0 4.0 0M97.8 624.3a2.0 2.0 0 1 0-4.0 0a2.0 2.0 0 1 0 4.0 0M97.8 630.4a2.0 2.0 0 1 0-4.0 0a2.0 2.0 0 1 0 4.0 0M97.8 637.8a2.0 2.0 0 1 0-4.0 0a2.0 2.0 0 1 0 4.0 0M97.8 646.9a2.0 2.0 0 1 0-4.0 0a2.0 2.0 0 1 0 4.0 0M97.8 659.1a2.0 2.0 0 1 0-4.0 0a2.0 2.0 0 1 0 4.0 0M101.6 555.3a2.0 2.0 0 1 0-4.0 0a2.0 2.0 0 1 0 4.0 0M101.6 566.4a2.0 2.0 0 1 0-4.0 0a2.0 2.0 0 1 0 4.0 0M101.6 567.5a2.0 2.0 0 1 0-4.0 0a2.0 2.0 0 1 0 4.0 0M101.6 568.8a2.0 2.0 0 1 0-4.0 0a2.0 2.0 0 1 0 4.0 0M101.6 572.7a2.0 2.0 0 1 0-4.0 0a2.0 2.0 0 1 0 4.0 0M101.6 578.7a2.0 2.0 0 1 0-4.0 0a2.0 2.0 0 1 0 4.0 0M101.6 580.4a2.0 2.0 0 1 0-4.0 0a2.0 2.0 0 1 0 4.0 0M101.6 584.0a2.0 2.0 0 1 0-4.0 0a2.0 2.0 0 1 0 4.0 0M101.6 585.9a2.0 2.0 0 1 0-4.0 0a2.0 2.0 0 1 0 4.0 0M101.6 588.0a2.0 2.0 0 1 0-4.0 0a2.0 2.0 0 1 0 4.0 0M101.6 590.1a2.0 2.0 0 1 0-4.0 0a2.0 2.0 0 1 0 4.0 0M101.6 592.4a2.0 2.0 0 1 0-4.0 0a2.0 2.0 0 1 0 4.0 0M101.6 594.9a2.0 2.0 0 1 0-4.0 0a2.0 2.0 0 1 0 4.0 0M101.6 597.5a2.0 2.0 0 1 0-4.0 0a2.0 2.0 0 1 0 4.0 0M101.6 600.3a2.0 2.0 0 1 0-4.0 0a2.0 2.0 0 1 0 4.0 0M101.6 603.4a2.0 2.0 0 1 0-4.0 0a2.0 2.0 0 1 0 4.0 0M101.6 606.7a2.0 2.0 0 1 0-4.0 0a2.0 2.0 0 1 0 4.0 0M101.6 610.4a2.0 2.0 0 1 0-4.0 0a2.0 2.0 0 1 0 4.0 0M101.6 614.5a2.0 2.0 0 1 0-4.0 0a2.0 2.0 0 1 0 4.0 0M101.6 619.1a2.0 2.0 0 1 0-4.0 0a2.0 2.0 0 1 0 4.0 0M101.6 624.3a2.0 2.0 0 1 0-4.0 0a2.0 2.0 0 1 0 4.0 0M101.6 630.4a2.0 2.0 0 1 0-4.0 0a2.0 2.0 0 1 0 4.0 0M101.6 637.8a2.0 2.0 0 1 0-4.0 0a2.0 2.0 0 1 0 4.0 0M101.6 646.9a2.0 2.0 0 1 0-4.0 0a2.0 2.0 0 1 0 4.0 0M101.6 659.1a2.0 2.0 0 1 0-4.0 0a2.0 2.0 0 1 0 4.0 0M102.6 534.1a2.0 2.0 0 1 0-4.0 0a2.0 2.0 0 1 0 4.0 0M105.0 549.7a2.0 2.0 0 1 0-4.0 0a2.0 2.0 0 1 0 4.0 0M105.0 558.0a2.0 2.0 0 1 0-4.0 0a2.0 2.0 0 1 0 4.0 0M105.0 562.0a2.0 2.0 0 1 0-4.0 0a2.0 2.0 0 1 0 4.0 0M105.0 565.2a2.0 2.0 0 1 0-4.0 0a2.0 2.0 0 1 0 4.0 0M105.0 578.7a2.0 2.0 0 1 0-4.0 0a2.0 2.0 0 1 0 4.0 0M105.0 580.4a2.0 2.0 0 1 0-4.0 0a2.0 2.0 0 1 0 4.0 0M105.0 582.2a2.0 2.0 0 1 0-4.0 0a2.0 2.0 0 1 0 4.0 0M105.0 584.0a2.0 2.0 0 1 0-4.0 0a2.0 2.0 0 1 0 4.0 0M105.0 585.9a2.0 2.0 0 1 0-4.0 0a2.0 2.0 0 1 0 4.0 0M105.0 588.0a2.0 2.0 0 1 0-4.0 0a2.0 2.0 0 1 0 4.0 0M105.0 590.1a2.0 2.0 0 1 0-4.0 0a2.0 2.0 0 1 0 4.0 0M105.0 592.4a2.0 2.0 0 1 0-4.0 0a2.0 2.0 0 1 0 4.0 0M105.0 594.9a2.0 2.0 0 1 0-4.0 0a2.0 2.0 0 1 0 4.0 0M105.0 597.5a2.0 2.0 0 1 0-4.0 0a2.0 2.0 0 1 0 4.0 0M105.0 600.3a2.0 2.0 0 1 0-4.0 0a2.0 2.0 0 1 0 4.0 0M105.0 603.4a2.0 2.0 0 1 0-4.0 0a2.0 2.0 0 1 0 4.0 0M105.0 606.7a2.0 2.0 0 1 0-4.0 0a2.0 2.0 0 1 0 4.0 0M105.0 610.4a2.0 2.0 0 1 0-4.0 0a2.0 2.0 0 1 0 4.0 0M105.0 614.5a2.0 2.0 0 1 0-4.0 0a2.0 2.0 0 1 0 4.0 0M105.0 619.1a2.0 2.0 0 1 0-4.0 0a2.0 2.0 0 1 0 4.0 0M105.0 624.3a2.0 2.0 0 1 0-4.0 0a2.0 2.0 0 1 0 4.0 0M105.0 630.4a2.0 2.0 0 1 0-4.0 0a2.0 2.0 0 1 0 4.0 0M105.0 637.8a2.0 2.0 0 1 0-4.0 0a2.0 2.0 0 1 0 4.0 0M105.0 646.9a2.0 2.0 0 1 0-4.0 0a2.0 2.0 0 1 0 4.0 0M105.0 659.1a2.0 2.0 0 1 0-4.0 0a2.0 2.0 0 1 0 4.0 0M108.0 560.9a2.0 2.0 0 1 0-4.0 0a2.0 2.0 0 1 0 4.0 0M108.0 568.8a2.0 2.0 0 1 0-4.0 0a2.0 2.0 0 1 0 4.0 0M108.0 570.0a2.0 2.0 0 1 0-4.0 0a2.0 2.0 0 1 0 4.0 0M108.0 571.4a2.0 2.0 0 1 0-4.0 0a2.0 2.0 0 1 0 4.0 0M108.0 574.1a2.0 2.0 0 1 0-4.0 0a2.0 2.0 0 1 0 4.0 0M108.0 578.7a2.0 2.0 0 1 0-4.0 0a2.0 2.0 0 1 0 4.0 0M108.0 582.2a2.0 2.0 0 1 0-4.0 0a2.0 2.0 0 1 0 4.0 0M108.0 584.0a2.0 2.0 0 1 0-4.0 0a2.0 2.0 0 1 0 4.0 0M108.0 585.9a2.0 2.0 0 1 0-4.0 0a2.0 2.0 0 1 0 4.0 0M108.0 588.0a2.0 2.0 0 1 0-4.0 0a2.0 2.0 0 1 0 4.0 0M108.0 590.1a2.0 2.0 0 1 0-4.0 0a2.0 2.0 0 1 0 4.0 0M108.0 592.4a2.0 2.0 0 1 0-4.0 0a2.0 2.0 0 1 0 4.0 0M108.0 594.9a2.0 2.0 0 1 0-4.0 0a2.0 2.0 0 1 0 4.0 0M108.0 597.5a2.0 2.0 0 1 0-4.0 0a2.0 2.0 0 1 0 4.0 0M108.0 600.3a2.0 2.0 0 1 0-4.0 0a2.0 2.0 0 1 0 4.0 0M108.0 603.4a2.0 2.0 0 1 0-4.0 0a2.0 2.0 0 1 0 4.0 0M108.0 606.7a2.0 2.0 0 1 0-4.0 0a2.0 2.0 0 1 0 4.0 0M108.0 610.4a2.0 2.0 0 1 0-4.0 0a2.0 2.0 0 1 0 4.0 0M108.0 614.5a2.0 2.0 0 1 0-4.0 0a2.0 2.0 0 1 0 4.0 0M108.0 619.1a2.0 2.0 0 1 0-4.0 0a2.0 2.0 0 1 0 4.0 0M108.0 624.3a2.0 2.0 0 1 0-4.0 0a2.0 2.0 0 1 0 4.0 0M108.0 630.4a2.0 2.0 0 1 0-4.0 0a2.0 2.0 0 1 0 4.0 0M108.0 637.8a2.0 2.0 0 1 0-4.0 0a2.0 2.0 0 1 0 4.0 0M108.0 646.9a2.0 2.0 0 1 0-4.0 0a2.0 2.0 0 1 0 4.0 0M108.0 659.1a2.0 2.0 0 1 0-4.0 0a2.0 2.0 0 1 0 4.0 0M110.8 534.7a2.0 2.0 0 1 0-4.0 0a2.0 2.0 0 1 0 4.0 0M110.8 537.2a2.0 2.0 0 1 0-4.0 0a2.0 2.0 0 1 0 4.0 0M110.8 547.5a2.0 2.0 0 1 0-4.0 0a2.0 2.0 0 1 0 4.0 0M110.8 549.0a2.0 2.0 0 1 0-4.0 0a2.0 2.0 0 1 0 4.0 0M110.8 556.2a2.0 2.0 0 1 0-4.0 0a2.0 2.0 0 1 0 4.0 0M110.8 571.4a2.0 2.0 0 1 0-4.0 0a2.0 2.0 0 1 0 4.0 0M110.8 574.1a2.0 2.0 0 1 0-4.0 0a2.0 2.0 0 1 0 4.0 0M110.8 577.1a2.0 2.0 0 1 0-4.0 0a2.0 2.0 0 1 0 4.0 0M110.8 578.7a2.0 2.0 0 1 0-4.0 0a2.0 2.0 0 1 0 4.0 0M110.8 585.9a2.0 2.0 0 1 0-4.0 0a2.0 2.0 0 1 0 4.0 0M110.8 588.0a2.0 2.0 0 1 0-4.0 0a2.0 2.0 0 1 0 4.0 0M110.8 590.1a2.0 2.0 0 1 0-4.0 0a2.0 2.0 0 1 0 4.0 0M110.8 592.4a2.0 2.0 0 1 0-4.0 0a2.0 2.0 0 1 0 4.0 0M110.8 594.9a2.0 2.0 0 1 0-4.0 0a2.0 2.0 0 1 0 4.0 0M110.8 597.5a2.0 2.0 0 1 0-4.0 0a2.0 2.0 0 1 0 4.0 0M110.8 600.3a2.0 2.0 0 1 0-4.0 0a2.0 2.0 0 1 0 4.0 0M110.8 603.4a2.0 2.0 0 1 0-4.0 0a2.0 2.0 0 1 0 4.0 0M110.8 606.7a2.0 2.0 0 1 0-4.0 0a2.0 2.0 0 1 0 4.0 0M110.8 610.4a2.0 2.0 0 1 0-4.0 0a2.0 2.0 0 1 0 4.0 0M110.8 614.5a2.0 2.0 0 1 0-4.0 0a2.0 2.0 0 1 0 4.0 0M110.8 619.1a2.0 2.0 0 1 0-4.0 0a2.0 2.0 0 1 0 4.0 0M110.8 624.3a2.0 2.0 0 1 0-4.0 0a2.0 2.0 0 1 0 4.0 0M110.8 630.4a2.0 2.0 0 1 0-4.0 0a2.0 2.0 0 1 0 4.0 0M110.8 637.8a2.0 2.0 0 1 0-4.0 0a2.0 2.0 0 1 0 4.0 0M110.8 646.9a2.0 2.0 0 1 0-4.0 0a2.0 2.0 0 1 0 4.0 0M110.8 659.1a2.0 2.0 0 1 0-4.0 0a2.0 2.0 0 1 0 4.0 0M113.3 554.5a2.0 2.0 0 1 0-4.0 0a2.0 2.0 0 1 0 4.0 0M113.3 567.5a2.0 2.0 0 1 0-4.0 0a2.0 2.0 0 1 0 4.0 0M113.3 570.0a2.0 2.0 0 1 0-4.0 0a2.0 2.0 0 1 0 4.0 0M113.3 574.1a2.0 2.0 0 1 0-4.0 0a2.0 2.0 0 1 0 4.0 0M113.3 594.9a2.0 2.0 0 1 0-4.0 0a2.0 2.0 0 1 0 4.0 0M113.3 597.5a2.0 2.0 0 1 0-4.0 0a2.0 2.0 0 1 0 4.0 0M113.3 600.3a2.0 2.0 0 1 0-4.0 0a2.0 2.0 0 1 0 4.0 0M113.3 603.4a2.0 2.0 0 1 0-4.0 0a2.0 2.0 0 1 0 4.0 0M113.3 606.7a2.0 2.0 0 1 0-4.0 0a2.0 2.0 0 1 0 4.0 0M113.3 610.4a2.0 2.0 0 1 0-4.0 0a2.0 2.0 0 1 0 4.0 0M113.3 614.5a2.0 2.0 0 1 0-4.0 0a2.0 2.0 0 1 0 4.0 0M113.3 619.1a2.0 2.0 0 1 0-4.0 0a2.0 2.0 0 1 0 4.0 0M113.3 624.3a2.0 2.0 0 1 0-4.0 0a2.0 2.0 0 1 0 4.0 0M113.3 630.4a2.0 2.0 0 1 0-4.0 0a2.0 2.0 0 1 0 4.0 0M113.3 637.8a2.0 2.0 0 1 0-4.0 0a2.0 2.0 0 1 0 4.0 0M113.3 646.9a2.0 2.0 0 1 0-4.0 0a2.0 2.0 0 1 0 4.0 0M113.3 659.1a2.0 2.0 0 1 0-4.0 0a2.0 2.0 0 1 0 4.0 0M115.6 536.2a2.0 2.0 0 1 0-4.0 0a2.0 2.0 0 1 0 4.0 0M115.6 541.7a2.0 2.0 0 1 0-4.0 0a2.0 2.0 0 1 0 4.0 0M115.6 552.0a2.0 2.0 0 1 0-4.0 0a2.0 2.0 0 1 0 4.0 0M115.6 556.2a2.0 2.0 0 1 0-4.0 0a2.0 2.0 0 1 0 4.0 0M115.6 557.1a2.0 2.0 0 1 0-4.0 0a2.0 2.0 0 1 0 4.0 0M115.6 559.0a2.0 2.0 0 1 0-4.0 0a2.0 2.0 0 1 0 4.0 0M115.6 559.9a2.0 2.0 0 1 0-4.0 0a2.0 2.0 0 1 0 4.0 0M115.6 565.2a2.0 2.0 0 1 0-4.0 0a2.0 2.0 0 1 0 4.0 0M115.6 568.8a2.0 2.0 0 1 0-4.0 0a2.0 2.0 0 1 0 4.0 0M115.6 574.1a2.0 2.0 0 1 0-4.0 0a2.0 2.0 0 1 0 4.0 0M115.6 590.1a2.0 2.0 0 1 0-4.0 0a2.0 2.0 0 1 0 4.0 0M115.6 592.4a2.0 2.0 0 1 0-4.0 0a2.0 2.0 0 1 0 4.0 0M115.6 594.9a2.0 2.0 0 1 0-4.0 0a2.0 2.0 0 1 0 4.0 0M115.6 597.5a2.0 2.0 0 1 0-4.0 0a2.0 2.0 0 1 0 4.0 0M115.6 600.3a2.0 2.0 0 1 0-4.0 0a2.0 2.0 0 1 0 4.0 0M115.6 603.4a2.0 2.0 0 1 0-4.0 0a2.0 2.0 0 1 0 4.0 0M115.6 606.7a2.0 2.0 0 1 0-4.0 0a2.0 2.0 0 1 0 4.0 0M115.6 610.4a2.0 2.0 0 1 0-4.0 0a2.0 2.0 0 1 0 4.0 0M115.6 614.5a2.0 2.0 0 1 0-4.0 0a2.0 2.0 0 1 0 4.0 0M115.6 619.1a2.0 2.0 0 1 0-4.0 0a2.0 2.0 0 1 0 4.0 0M115.6 624.3a2.0 2.0 0 1 0-4.0 0a2.0 2.0 0 1 0 4.0 0M115.6 630.4a2.0 2.0 0 1 0-4.0 0a2.0 2.0 0 1 0 4.0 0M115.6 637.8a2.0 2.0 0 1 0-4.0 0a2.0 2.0 0 1 0 4.0 0M115.6 646.9a2.0 2.0 0 1 0-4.0 0a2.0 2.0 0 1 0 4.0 0M115.6 659.1a2.0 2.0 0 1 0-4.0 0a2.0 2.0 0 1 0 4.0 0M117.8 512.9a2.0 2.0 0 1 0-4.0 0a2.0 2.0 0 1 0 4.0 0M117.8 549.0a2.0 2.0 0 1 0-4.0 0a2.0 2.0 0 1 0 4.0 0M117.8 555.3a2.0 2.0 0 1 0-4.0 0a2.0 2.0 0 1 0 4.0 0M117.8 557.1a2.0 2.0 0 1 0-4.0 0a2.0 2.0 0 1 0 4.0 0M117.8 558.0a2.0 2.0 0 1 0-4.0 0a2.0 2.0 0 1 0 4.0 0M117.8 560.9a2.0 2.0 0 1 0-4.0 0a2.0 2.0 0 1 0 4.0 0M117.8 564.1a2.0 2.0 0 1 0-4.0 0a2.0 2.0 0 1 0 4.0 0M117.8 566.4a2.0 2.0 0 1 0-4.0 0a2.0 2.0 0 1 0 4.0 0M117.8 570.0a2.0 2.0 0 1 0-4.0 0a2.0 2.0 0 1 0 4.0 0M117.8 594.9a2.0 2.0 0 1 0-4.0 0a2.0 2.0 0 1 0 4.0 0M117.8 597.5a2.0 2.0 0 1 0-4.0 0a2.0 2.0 0 1 0 4.0 0M117.8 600.3a2.0 2.0 0 1 0-4.0 0a2.0 2.0 0 1 0 4.0 0M117.8 603.4a2.0 2.0 0 1 0-4.0 0a2.0 2.0 0 1 0 4.0 0M117.8 606.7a2.0 2.0 0 1 0-4.0 0a2.0 2.0 0 1 0 4.0 0M117.8 610.4a2.0 2.0 0 1 0-4.0 0a2.0 2.0 0 1 0 4.0 0M117.8 614.5a2.0 2.0 0 1 0-4.0 0a2.0 2.0 0 1 0 4.0 0M117.8 619.1a2.0 2.0 0 1 0-4.0 0a2.0 2.0 0 1 0 4.0 0M117.8 624.3a2.0 2.0 0 1 0-4.0 0a2.0 2.0 0 1 0 4.0 0M117.8 630.4a2.0 2.0 0 1 0-4.0 0a2.0 2.0 0 1 0 4.0 0M117.8 637.8a2.0 2.0 0 1 0-4.0 0a2.0 2.0 0 1 0 4.0 0M117.8 646.9a2.0 2.0 0 1 0-4.0 0a2.0 2.0 0 1 0 4.0 0M117.8 659.1a2.0 2.0 0 1 0-4.0 0a2.0 2.0 0 1 0 4.0 0M119.8 542.9a2.0 2.0 0 1 0-4.0 0a2.0 2.0 0 1 0 4.0 0M119.8 544.9a2.0 2.0 0 1 0-4.0 0a2.0 2.0 0 1 0 4.0 0M119.8 559.0a2.0 2.0 0 1 0-4.0 0a2.0 2.0 0 1 0 4.0 0M119.8 559.9a2.0 2.0 0 1 0-4.0 0a2.0 2.0 0 1 0 4.0 0M119.8 562.0a2.0 2.0 0 1 0-4.0 0a2.0 2.0 0 1 0 4.0 0M119.8 580.4a2.0 2.0 0 1 0-4.0 0a2.0 2.0 0 1 0 4.0 0M119.8 582.2a2.0 2.0 0 1 0-4.0 0a2.0 2.0 0 1 0 4.0 0M119.8 594.9a2.0 2.0 0 1 0-4.0 0a2.0 2.0 0 1 0 4.0 0M119.8 597.5a2.0 2.0 0 1 0-4.0 0a2.0 2.0 0 1 0 4.0 0M119.8 600.3a2.0 2.0 0 1 0-4.0 0a2.0 2.0 0 1 0 4.0 0M119.8 603.4a2.0 2.0 0 1 0-4.0 0a2.0 2.0 0 1 0 4.0 0M119.8 606.7a2.0 2.0 0 1 0-4.0 0a2.0 2.0 0 1 0 4.0 0M119.8 610.4a2.0 2.0 0 1 0-4.0 0a2.0 2.0 0 1 0 4.0 0M119.8 614.5a2.0 2.0 0 1 0-4.0 0a2.0 2.0 0 1 0 4.0 0M119.8 619.1a2.0 2.0 0 1 0-4.0 0a2.0 2.0 0 1 0 4.0 0M119.8 624.3a2.0 2.0 0 1 0-4.0 0a2.0 2.0 0 1 0 4.0 0M119.8 630.4a2.0 2.0 0 1 0-4.0 0a2.0 2.0 0 1 0 4.0 0M119.8 637.8a2.0 2.0 0 1 0-4.0 0a2.0 2.0 0 1 0 4.0 0M119.8 646.9a2.0 2.0 0 1 0-4.0 0a2.0 2.0 0 1 0 4.0 0M119.8 659.1a2.0 2.0 0 1 0-4.0 0a2.0 2.0 0 1 0 4.0 0M121.7 538.9a2.0 2.0 0 1 0-4.0 0a2.0 2.0 0 1 0 4.0 0M121.7 539.4a2.0 2.0 0 1 0-4.0 0a2.0 2.0 0 1 0 4.0 0M121.7 541.7a2.0 2.0 0 1 0-4.0 0a2.0 2.0 0 1 0 4.0 0M121.7 550.5a2.0 2.0 0 1 0-4.0 0a2.0 2.0 0 1 0 4.0 0M121.7 584.0a2.0 2.0 0 1 0-4.0 0a2.0 2.0 0 1 0 4.0 0M121.7 594.9a2.0 2.0 0 1 0-4.0 0a2.0 2.0 0 1 0 4.0 0M121.7 603.4a2.0 2.0 0 1 0-4.0 0a2.0 2.0 0 1 0 4.0 0M121.7 606.7a2.0 2.0 0 1 0-4.0 0a2.0 2.0 0 1 0 4.0 0M121.7 610.4a2.0 2.0 0 1 0-4.0 0a2.0 2.0 0 1 0 4.0 0M121.7 614.5a2.0 2.0 0 1 0-4.0 0a2.0 2.0 0 1 0 4.0 0M121.7 619.1a2.0 2.0 0 1 0-4.0 0a2.0 2.0 0 1 0 4.0 0M121.7 624.3a2.0 2.0 0 1 0-4.0 0a2.0 2.0 0 1 0 4.0 0M121.7 630.4a2.0 2.0 0 1 0-4.0 0a2.0 2.0 0 1 0 4.0 0M121.7 637.8a2.0 2.0 0 1 0-4.0 0a2.0 2.0 0 1 0 4.0 0M121.7 646.9a2.0 2.0 0 1 0-4.0 0a2.0 2.0 0 1 0 4.0 0M121.7 659.1a2.0 2.0 0 1 0-4.0 0a2.0 2.0 0 1 0 4.0 0M122.1 525.7a2.0 2.0 0 1 0-4.0 0a2.0 2.0 0 1 0 4.0 0M123.5 534.2a2.0 2.0 0 1 0-4.0 0a2.0 2.0 0 1 0 4.0 0M123.5 539.4a2.0 2.0 0 1 0-4.0 0a2.0 2.0 0 1 0 4.0 0M123.5 542.3a2.0 2.0 0 1 0-4.0 0a2.0 2.0 0 1 0 4.0 0M123.5 544.9a2.0 2.0 0 1 0-4.0 0a2.0 2.0 0 1 0 4.0 0M123.5 550.5a2.0 2.0 0 1 0-4.0 0a2.0 2.0 0 1 0 4.0 0M123.5 552.0a2.0 2.0 0 1 0-4.0 0a2.0 2.0 0 1 0 4.0 0M123.5 557.1a2.0 2.0 0 1 0-4.0 0a2.0 2.0 0 1 0 4.0 0M123.5 558.0a2.0 2.0 0 1 0-4.0 0a2.0 2.0 0 1 0 4.0 0M123.5 578.7a2.0 2.0 0 1 0-4.0 0a2.0 2.0 0 1 0 4.0 0M123.5 582.2a2.0 2.0 0 1 0-4.0 0a2.0 2.0 0 1 0 4.0 0M123.5 606.7a2.0 2.0 0 1 0-4.0 0a2.0 2.0 0 1 0 4.0 0M123.5 610.4a2.0 2.0 0 1 0-4.0 0a2.0 2.0 0 1 0 4.0 0M123.5 614.5a2.0 2.0 0 1 0-4.0 0a2.0 2.0 0 1 0 4.0 0M123.5 619.1a2.0 2.0 0 1 0-4.0 0a2.0 2.0 0 1 0 4.0 0M123.5 624.3a2.0 2.0 0 1 0-4.0 0a2.0 2.0 0 1 0 4.0 0M123.5 630.4a2.0 2.0 0 1 0-4.0 0a2.0 2.0 0 1 0 4.0 0M123.5 637.8a2.0 2.0 0 1 0-4.0 0a2.0 2.0 0 1 0 4.0 0M123.5 646.9a2.0 2.0 0 1 0-4.0 0a2.0 2.0 0 1 0 4.0 0M123.5 659.1a2.0 2.0 0 1 0-4.0 0a2.0 2.0 0 1 0 4.0 0M125.2 539.4a2.0 2.0 0 1 0-4.0 0a2.0 2.0 0 1 0 4.0 0M125.2 553.6a2.0 2.0 0 1 0-4.0 0a2.0 2.0 0 1 0 4.0 0M125.2 554.5a2.0 2.0 0 1 0-4.0 0a2.0 2.0 0 1 0 4.0 0M125.2 559.0a2.0 2.0 0 1 0-4.0 0a2.0 2.0 0 1 0 4.0 0M125.2 580.4a2.0 2.0 0 1 0-4.0 0a2.0 2.0 0 1 0 4.0 0M125.2 582.2a2.0 2.0 0 1 0-4.0 0a2.0 2.0 0 1 0 4.0 0M125.2 597.5a2.0 2.0 0 1 0-4.0 0a2.0 2.0 0 1 0 4.0 0M125.2 600.3a2.0 2.0 0 1 0-4.0 0a2.0 2.0 0 1 0 4.0 0M125.2 603.4a2.0 2.0 0 1 0-4.0 0a2.0 2.0 0 1 0 4.0 0M125.2 606.7a2.0 2.0 0 1 0-4.0 0a2.0 2.0 0 1 0 4.0 0M125.2 610.4a2.0 2.0 0 1 0-4.0 0a2.0 2.0 0 1 0 4.0 0M125.2 614.5a2.0 2.0 0 1 0-4.0 0a2.0 2.0 0 1 0 4.0 0M125.2 619.1a2.0 2.0 0 1 0-4.0 0a2.0 2.0 0 1 0 4.0 0M125.2 624.3a2.0 2.0 0 1 0-4.0 0a2.0 2.0 0 1 0 4.0 0M125.2 630.4a2.0 2.0 0 1 0-4.0 0a2.0 2.0 0 1 0 4.0 0M125.2 637.8a2.0 2.0 0 1 0-4.0 0a2.0 2.0 0 1 0 4.0 0M125.2 646.9a2.0 2.0 0 1 0-4.0 0a2.0 2.0 0 1 0 4.0 0M125.2 659.1a2.0 2.0 0 1 0-4.0 0a2.0 2.0 0 1 0 4.0 0M126.8 530.9a2.0 2.0 0 1 0-4.0 0a2.0 2.0 0 1 0 4.0 0M126.8 539.4a2.0 2.0 0 1 0-4.0 0a2.0 2.0 0 1 0 4.0 0M126.8 554.5a2.0 2.0 0 1 0-4.0 0a2.0 2.0 0 1 0 4.0 0M126.8 582.2a2.0 2.0 0 1 0-4.0 0a2.0 2.0 0 1 0 4.0 0M126.8 606.7a2.0 2.0 0 1 0-4.0 0a2.0 2.0 0 1 0 4.0 0M126.8 610.4a2.0 2.0 0 1 0-4.0 0a2.0 2.0 0 1 0 4.0 0M126.8 614.5a2.0 2.0 0 1 0-4.0 0a2.0 2.0 0 1 0 4.0 0M126.8 619.1a2.0 2.0 0 1 0-4.0 0a2.0 2.0 0 1 0 4.0 0M126.8 624.3a2.0 2.0 0 1 0-4.0 0a2.0 2.0 0 1 0 4.0 0M126.8 630.4a2.0 2.0 0 1 0-4.0 0a2.0 2.0 0 1 0 4.0 0M126.8 637.8a2.0 2.0 0 1 0-4.0 0a2.0 2.0 0 1 0 4.0 0M126.8 646.9a2.0 2.0 0 1 0-4.0 0a2.0 2.0 0 1 0 4.0 0M126.8 659.1a2.0 2.0 0 1 0-4.0 0a2.0 2.0 0 1 0 4.0 0M128.3 541.1a2.0 2.0 0 1 0-4.0 0a2.0 2.0 0 1 0 4.0 0M128.3 546.9a2.0 2.0 0 1 0-4.0 0a2.0 2.0 0 1 0 4.0 0M128.3 550.5a2.0 2.0 0 1 0-4.0 0a2.0 2.0 0 1 0 4.0 0M128.3 619.1a2.0 2.0 0 1 0-4.0 0a2.0 2.0 0 1 0 4.0 0M128.3 624.3a2.0 2.0 0 1 0-4.0 0a2.0 2.0 0 1 0 4.0 0M128.3 630.4a2.0 2.0 0 1 0-4.0 0a2.0 2.0 0 1 0 4.0 0M128.3 637.8a2.0 2.0 0 1 0-4.0 0a2.0 2.0 0 1 0 4.0 0M128.3 646.9a2.0 2.0 0 1 0-4.0 0a2.0 2.0 0 1 0 4.0 0M128.3 659.1a2.0 2.0 0 1 0-4.0 0a2.0 2.0 0 1 0 4.0 0M129.8 527.1a2.0 2.0 0 1 0-4.0 0a2.0 2.0 0 1 0 4.0 0M129.8 539.4a2.0 2.0 0 1 0-4.0 0a2.0 2.0 0 1 0 4.0 0M129.8 600.3a2.0 2.0 0 1 0-4.0 0a2.0 2.0 0 1 0 4.0 0M129.8 619.1a2.0 2.0 0 1 0-4.0 0a2.0 2.0 0 1 0 4.0 0M129.8 624.3a2.0 2.0 0 1 0-4.0 0a2.0 2.0 0 1 0 4.0 0M129.8 630.4a2.0 2.0 0 1 0-4.0 0a2.0 2.0 0 1 0 4.0 0M129.8 637.8a2.0 2.0 0 1 0-4.0 0a2.0 2.0 0 1 0 4.0 0M129.8 646.9a2.0 2.0 0 1 0-4.0 0a2.0 2.0 0 1 0 4.0 0M129.8 659.1a2.0 2.0 0 1 0-4.0 0a2.0 2.0 0 1 0 4.0 0M131.1 532.3a2.0 2.0 0 1 0-4.0 0a2.0 2.0 0 1 0 4.0 0M131.1 537.2a2.0 2.0 0 1 0-4.0 0a2.0 2.0 0 1 0 4.0 0M131.1 552.0a2.0 2.0 0 1 0-4.0 0a2.0 2.0 0 1 0 4.0 0M131.1 552.8a2.0 2.0 0 1 0-4.0 0a2.0 2.0 0 1 0 4.0 0M131.1 603.4a2.0 2.0 0 1 0-4.0 0a2.0 2.0 0 1 0 4.0 0M131.1 610.4a2.0 2.0 0 1 0-4.0 0a2.0 2.0 0 1 0 4.0 0M131.1 619.1a2.0 2.0 0 1 0-4.0 0a2.0 2.0 0 1 0 4.0 0M131.1 624.3a2.0 2.0 0 1 0-4.0 0a2.0 2.0 0 1 0 4.0 0M131.1 630.4a2.0 2.0 0 1 0-4.0 0a2.0 2.0 0 1 0 4.0 0M131.1 637.8a2.0 2.0 0 1 0-4.0 0a2.0 2.0 0 1 0 4.0 0M131.1 646.9a2.0 2.0 0 1 0-4.0 0a2.0 2.0 0 1 0 4.0 0M131.1 659.1a2.0 2.0 0 1 0-4.0 0a2.0 2.0 0 1 0 4.0 0M132.5 546.2a2.0 2.0 0 1 0-4.0 0a2.0 2.0 0 1 0 4.0 0M132.5 553.6a2.0 2.0 0 1 0-4.0 0a2.0 2.0 0 1 0 4.0 0M132.5 603.4a2.0 2.0 0 1 0-4.0 0a2.0 2.0 0 1 0 4.0 0M132.5 619.1a2.0 2.0 0 1 0-4.0 0a2.0 2.0 0 1 0 4.0 0M132.5 624.3a2.0 2.0 0 1 0-4.0 0a2.0 2.0 0 1 0 4.0 0M132.5 630.4a2.0 2.0 0 1 0-4.0 0a2.0 2.0 0 1 0 4.0 0M132.5 637.8a2.0 2.0 0 1 0-4.0 0a2.0 2.0 0 1 0 4.0 0M132.5 646.9a2.0 2.0 0 1 0-4.0 0a2.0 2.0 0 1 0 4.0 0M132.5 659.1a2.0 2.0 0 1 0-4.0 0a2.0 2.0 0 1 0 4.0 0M133.7 544.9a2.0 2.0 0 1 0-4.0 0a2.0 2.0 0 1 0 4.0 0M133.7 548.3a2.0 2.0 0 1 0-4.0 0a2.0 2.0 0 1 0 4.0 0M133.7 603.4a2.0 2.0 0 1 0-4.0 0a2.0 2.0 0 1 0 4.0 0M133.7 606.7a2.0 2.0 0 1 0-4.0 0a2.0 2.0 0 1 0 4.0 0M133.7 610.4a2.0 2.0 0 1 0-4.0 0a2.0 2.0 0 1 0 4.0 0M133.7 614.5a2.0 2.0 0 1 0-4.0 0a2.0 2.0 0 1 0 4.0 0M133.7 619.1a2.0 2.0 0 1 0-4.0 0a2.0 2.0 0 1 0 4.0 0M133.7 624.3a2.0 2.0 0 1 0-4.0 0a2.0 2.0 0 1 0 4.0 0M133.7 630.4a2.0 2.0 0 1 0-4.0 0a2.0 2.0 0 1 0 4.0 0M133.7 637.8a2.0 2.0 0 1 0-4.0 0a2.0 2.0 0 1 0 4.0 0M133.7 646.9a2.0 2.0 0 1 0-4.0 0a2.0 2.0 0 1 0 4.0 0M133.7 659.1a2.0 2.0 0 1 0-4.0 0a2.0 2.0 0 1 0 4.0 0M134.9 544.2a2.0 2.0 0 1 0-4.0 0a2.0 2.0 0 1 0 4.0 0M134.9 600.3a2.0 2.0 0 1 0-4.0 0a2.0 2.0 0 1 0 4.0 0M134.9 603.4a2.0 2.0 0 1 0-4.0 0a2.0 2.0 0 1 0 4.0 0M134.9 606.7a2.0 2.0 0 1 0-4.0 0a2.0 2.0 0 1 0 4.0 0M134.9 610.4a2.0 2.0 0 1 0-4.0 0a2.0 2.0 0 1 0 4.0 0M134.9 614.5a2.0 2.0 0 1 0-4.0 0a2.0 2.0 0 1 0 4.0 0M134.9 619.1a2.0 2.0 0 1 0-4.0 0a2.0 2.0 0 1 0 4.0 0M134.9 624.3a2.0 2.0 0 1 0-4.0 0a2.0 2.0 0 1 0 4.0 0M134.9 630.4a2.0 2.0 0 1 0-4.0 0a2.0 2.0 0 1 0 4.0 0M134.9 637.8a2.0 2.0 0 1 0-4.0 0a2.0 2.0 0 1 0 4.0 0M134.9 646.9a2.0 2.0 0 1 0-4.0 0a2.0 2.0 0 1 0 4.0 0M134.9 659.1a2.0 2.0 0 1 0-4.0 0a2.0 2.0 0 1 0 4.0 0M136.1 531.4a2.0 2.0 0 1 0-4.0 0a2.0 2.0 0 1 0 4.0 0M136.1 535.7a2.0 2.0 0 1 0-4.0 0a2.0 2.0 0 1 0 4.0 0M136.1 542.9a2.0 2.0 0 1 0-4.0 0a2.0 2.0 0 1 0 4.0 0M136.1 546.2a2.0 2.0 0 1 0-4.0 0a2.0 2.0 0 1 0 4.0 0M136.1 600.3a2.0 2.0 0 1 0-4.0 0a2.0 2.0 0 1 0 4.0 0M136.1 603.4a2.0 2.0 0 1 0-4.0 0a2.0 2.0 0 1 0 4.0 0M136.1 606.7a2.0 2.0 0 1 0-4.0 0a2.0 2.0 0 1 0 4.0 0M136.1 610.4a2.0 2.0 0 1 0-4.0 0a2.0 2.0 0 1 0 4.0 0M136.1 614.5a2.0 2.0 0 1 0-4.0 0a2.0 2.0 0 1 0 4.0 0M136.1 619.1a2.0 2.0 0 1 0-4.0 0a2.0 2.0 0 1 0 4.0 0M136.1 624.3a2.0 2.0 0 1 0-4.0 0a2.0 2.0 0 1 0 4.0 0M136.1 630.4a2.0 2.0 0 1 0-4.0 0a2.0 2.0 0 1 0 4.0 0M136.1 637.8a2.0 2.0 0 1 0-4.0 0a2.0 2.0 0 1 0 4.0 0M136.1 646.9a2.0 2.0 0 1 0-4.0 0a2.0 2.0 0 1 0 4.0 0M136.1 659.1a2.0 2.0 0 1 0-4.0 0a2.0 2.0 0 1 0 4.0 0M137.2 513.2a2.0 2.0 0 1 0-4.0 0a2.0 2.0 0 1 0 4.0 0M137.2 526.7a2.0 2.0 0 1 0-4.0 0a2.0 2.0 0 1 0 4.0 0M137.2 536.7a2.0 2.0 0 1 0-4.0 0a2.0 2.0 0 1 0 4.0 0M137.2 538.9a2.0 2.0 0 1 0-4.0 0a2.0 2.0 0 1 0 4.0 0M137.2 619.1a2.0 2.0 0 1 0-4.0 0a2.0 2.0 0 1 0 4.0 0M137.2 624.3a2.0 2.0 0 1 0-4.0 0a2.0 2.0 0 1 0 4.0 0M137.2 630.4a2.0 2.0 0 1 0-4.0 0a2.0 2.0 0 1 0 4.0 0M137.2 637.8a2.0 2.0 0 1 0-4.0 0a2.0 2.0 0 1 0 4.0 0M137.2 646.9a2.0 2.0 0 1 0-4.0 0a2.0 2.0 0 1 0 4.0 0M137.2 659.1a2.0 2.0 0 1 0-4.0 0a2.0 2.0 0 1 0 4.0 0M138.3 527.1a2.0 2.0 0 1 0-4.0 0a2.0 2.0 0 1 0 4.0 0M138.3 534.2a2.0 2.0 0 1 0-4.0 0a2.0 2.0 0 1 0 4.0 0M138.3 541.1a2.0 2.0 0 1 0-4.0 0a2.0 2.0 0 1 0 4.0 0M138.3 541.7a2.0 2.0 0 1 0-4.0 0a2.0 2.0 0 1 0 4.0 0M138.3 619.1a2.0 2.0 0 1 0-4.0 0a2.0 2.0 0 1 0 4.0 0M138.3 624.3a2.0 2.0 0 1 0-4.0 0a2.0 2.0 0 1 0 4.0 0M138.3 630.4a2.0 2.0 0 1 0-4.0 0a2.0 2.0 0 1 0 4.0 0M138.3 637.8a2.0 2.0 0 1 0-4.0 0a2.0 2.0 0 1 0 4.0 0M138.3 646.9a2.0 2.0 0 1 0-4.0 0a2.0 2.0 0 1 0 4.0 0M139.4 526.3a2.0 2.0 0 1 0-4.0 0a2.0 2.0 0 1 0 4.0 0M139.4 533.7a2.0 2.0 0 1 0-4.0 0a2.0 2.0 0 1 0 4.0 0M139.4 546.9a2.0 2.0 0 1 0-4.0 0a2.0 2.0 0 1 0 4.0 0M139.4 619.1a2.0 2.0 0 1 0-4.0 0a2.0 2.0 0 1 0 4.0 0M139.4 624.3a2.0 2.0 0 1 0-4.0 0a2.0 2.0 0 1 0 4.0 0M139.4 630.4a2.0 2.0 0 1 0-4.0 0a2.0 2.0 0 1 0 4.0 0M139.4 637.8a2.0 2.0 0 1 0-4.0 0a2.0 2.0 0 1 0 4.0 0M139.4 646.9a2.0 2.0 0 1 0-4.0 0a2.0 2.0 0 1 0 4.0 0M139.4 659.1a2.0 2.0 0 1 0-4.0 0a2.0 2.0 0 1 0 4.0 0M140.4 527.9a2.0 2.0 0 1 0-4.0 0a2.0 2.0 0 1 0 4.0 0M140.4 534.2a2.0 2.0 0 1 0-4.0 0a2.0 2.0 0 1 0 4.0 0M140.4 534.7a2.0 2.0 0 1 0-4.0 0a2.0 2.0 0 1 0 4.0 0M140.4 619.1a2.0 2.0 0 1 0-4.0 0a2.0 2.0 0 1 0 4.0 0M140.4 624.3a2.0 2.0 0 1 0-4.0 0a2.0 2.0 0 1 0 4.0 0M140.4 630.4a2.0 2.0 0 1 0-4.0 0a2.0 2.0 0 1 0 4.0 0M140.4 637.8a2.0 2.0 0 1 0-4.0 0a2.0 2.0 0 1 0 4.0 0M140.4 646.9a2.0 2.0 0 1 0-4.0 0a2.0 2.0 0 1 0 4.0 0M141.3 526.7a2.0 2.0 0 1 0-4.0 0a2.0 2.0 0 1 0 4.0 0M141.3 619.1a2.0 2.0 0 1 0-4.0 0a2.0 2.0 0 1 0 4.0 0M141.3 624.3a2.0 2.0 0 1 0-4.0 0a2.0 2.0 0 1 0 4.0 0M141.3 630.4a2.0 2.0 0 1 0-4.0 0a2.0 2.0 0 1 0 4.0 0M141.3 637.8a2.0 2.0 0 1 0-4.0 0a2.0 2.0 0 1 0 4.0 0M141.3 646.9a2.0 2.0 0 1 0-4.0 0a2.0 2.0 0 1 0 4.0 0M141.3 659.1a2.0 2.0 0 1 0-4.0 0a2.0 2.0 0 1 0 4.0 0M141.7 501.9a2.0 2.0 0 1 0-4.0 0a2.0 2.0 0 1 0 4.0 0M142.3 515.8a2.0 2.0 0 1 0-4.0 0a2.0 2.0 0 1 0 4.0 0M142.3 536.2a2.0 2.0 0 1 0-4.0 0a2.0 2.0 0 1 0 4.0 0M142.3 619.1a2.0 2.0 0 1 0-4.0 0a2.0 2.0 0 1 0 4.0 0M142.3 624.3a2.0 2.0 0 1 0-4.0 0a2.0 2.0 0 1 0 4.0 0M142.3 637.8a2.0 2.0 0 1 0-4.0 0a2.0 2.0 0 1 0 4.0 0M142.3 646.9a2.0 2.0 0 1 0-4.0 0a2.0 2.0 0 1 0 4.0 0M143.2 521.5a2.0 2.0 0 1 0-4.0 0a2.0 2.0 0 1 0 4.0 0M143.2 624.3a2.0 2.0 0 1 0-4.0 0a2.0 2.0 0 1 0 4.0 0M143.2 637.8a2.0 2.0 0 1 0-4.0 0a2.0 2.0 0 1 0 4.0 0M143.2 646.9a2.0 2.0 0 1 0-4.0 0a2.0 2.0 0 1 0 4.0 0M143.2 659.1a2.0 2.0 0 1 0-4.0 0a2.0 2.0 0 1 0 4.0 0M144.1 532.3a2.0 2.0 0 1 0-4.0 0a2.0 2.0 0 1 0 4.0 0M144.1 537.8a2.0 2.0 0 1 0-4.0 0a2.0 2.0 0 1 0 4.0 0M144.1 619.1a2.0 2.0 0 1 0-4.0 0a2.0 2.0 0 1 0 4.0 0M144.1 624.3a2.0 2.0 0 1 0-4.0 0a2.0 2.0 0 1 0 4.0 0M144.1 637.8a2.0 2.0 0 1 0-4.0 0a2.0 2.0 0 1 0 4.0 0M144.1 646.9a2.0 2.0 0 1 0-4.0 0a2.0 2.0 0 1 0 4.0 0M144.1 659.1a2.0 2.0 0 1 0-4.0 0a2.0 2.0 0 1 0 4.0 0M145.0 510.5a2.0 2.0 0 1 0-4.0 0a2.0 2.0 0 1 0 4.0 0M145.0 624.3a2.0 2.0 0 1 0-4.0 0a2.0 2.0 0 1 0 4.0 0M145.0 637.8a2.0 2.0 0 1 0-4.0 0a2.0 2.0 0 1 0 4.0 0M145.0 646.9a2.0 2.0 0 1 0-4.0 0a2.0 2.0 0 1 0 4.0 0M145.8 499.7a2.0 2.0 0 1 0-4.0 0a2.0 2.0 0 1 0 4.0 0M145.8 619.1a2.0 2.0 0 1 0-4.0 0a2.0 2.0 0 1 0 4.0 0M145.8 624.3a2.0 2.0 0 1 0-4.0 0a2.0 2.0 0 1 0 4.0 0M145.8 637.8a2.0 2.0 0 1 0-4.0 0a2.0 2.0 0 1 0 4.0 0M145.8 646.9a2.0 2.0 0 1 0-4.0 0a2.0 2.0 0 1 0 4.0 0M145.8 659.1a2.0 2.0 0 1 0-4.0 0a2.0 2.0 0 1 0 4.0 0M146.6 508.8a2.0 2.0 0 1 0-4.0 0a2.0 2.0 0 1 0 4.0 0M146.6 538.9a2.0 2.0 0 1 0-4.0 0a2.0 2.0 0 1 0 4.0 0M146.6 619.1a2.0 2.0 0 1 0-4.0 0a2.0 2.0 0 1 0 4.0 0M146.6 624.3a2.0 2.0 0 1 0-4.0 0a2.0 2.0 0 1 0 4.0 0M146.6 637.8a2.0 2.0 0 1 0-4.0 0a2.0 2.0 0 1 0 4.0 0M146.6 646.9a2.0 2.0 0 1 0-4.0 0a2.0 2.0 0 1 0 4.0 0M147.4 525.5a2.0 2.0 0 1 0-4.0 0a2.0 2.0 0 1 0 4.0 0M147.4 531.4a2.0 2.0 0 1 0-4.0 0a2.0 2.0 0 1 0 4.0 0M147.4 533.7a2.0 2.0 0 1 0-4.0 0a2.0 2.0 0 1 0 4.0 0M147.4 624.3a2.0 2.0 0 1 0-4.0 0a2.0 2.0 0 1 0 4.0 0M147.4 637.8a2.0 2.0 0 1 0-4.0 0a2.0 2.0 0 1 0 4.0 0M147.4 646.9a2.0 2.0 0 1 0-4.0 0a2.0 2.0 0 1 0 4.0 0M147.4 659.1a2.0 2.0 0 1 0-4.0 0a2.0 2.0 0 1 0 4.0 0M148.2 619.1a2.0 2.0 0 1 0-4.0 0a2.0 2.0 0 1 0 4.0 0M148.2 624.3a2.0 2.0 0 1 0-4.0 0a2.0 2.0 0 1 0 4.0 0M148.2 646.9a2.0 2.0 0 1 0-4.0 0a2.0 2.0 0 1 0 4.0 0M149.0 624.3a2.0 2.0 0 1 0-4.0 0a2.0 2.0 0 1 0 4.0 0M149.0 637.8a2.0 2.0 0 1 0-4.0 0a2.0 2.0 0 1 0 4.0 0M149.0 646.9a2.0 2.0 0 1 0-4.0 0a2.0 2.0 0 1 0 4.0 0M149.0 659.1a2.0 2.0 0 1 0-4.0 0a2.0 2.0 0 1 0 4.0 0M149.7 508.8a2.0 2.0 0 1 0-4.0 0a2.0 2.0 0 1 0 4.0 0M149.7 619.1a2.0 2.0 0 1 0-4.0 0a2.0 2.0 0 1 0 4.0 0M149.7 624.3a2.0 2.0 0 1 0-4.0 0a2.0 2.0 0 1 0 4.0 0M149.7 637.8a2.0 2.0 0 1 0-4.0 0a2.0 2.0 0 1 0 4.0 0M149.7 646.9a2.0 2.0 0 1 0-4.0 0a2.0 2.0 0 1 0 4.0 0M150.4 526.7a2.0 2.0 0 1 0-4.0 0a2.0 2.0 0 1 0 4.0 0M150.4 528.3a2.0 2.0 0 1 0-4.0 0a2.0 2.0 0 1 0 4.0 0M150.4 624.3a2.0 2.0 0 1 0-4.0 0a2.0 2.0 0 1 0 4.0 0M150.4 646.9a2.0 2.0 0 1 0-4.0 0a2.0 2.0 0 1 0 4.0 0M151.2 508.5a2.0 2.0 0 1 0-4.0 0a2.0 2.0 0 1 0 4.0 0M151.2 526.7a2.0 2.0 0 1 0-4.0 0a2.0 2.0 0 1 0 4.0 0M151.2 619.1a2.0 2.0 0 1 0-4.0 0a2.0 2.0 0 1 0 4.0 0M151.2 624.3a2.0 2.0 0 1 0-4.0 0a2.0 2.0 0 1 0 4.0 0M151.2 637.8a2.0 2.0 0 1 0-4.0 0a2.0 2.0 0 1 0 4.0 0M151.2 646.9a2.0 2.0 0 1 0-4.0 0a2.0 2.0 0 1 0 4.0 0M151.2 659.1a2.0 2.0 0 1 0-4.0 0a2.0 2.0 0 1 0 4.0 0M151.8 619.1a2.0 2.0 0 1 0-4.0 0a2.0 2.0 0 1 0 4.0 0M151.8 624.3a2.0 2.0 0 1 0-4.0 0a2.0 2.0 0 1 0 4.0 0M151.8 637.8a2.0 2.0 0 1 0-4.0 0a2.0 2.0 0 1 0 4.0 0M151.8 646.9a2.0 2.0 0 1 0-4.0 0a2.0 2.0 0 1 0 4.0 0M152.5 521.9a2.0 2.0 0 1 0-4.0 0a2.0 2.0 0 1 0 4.0 0M152.5 522.2a2.0 2.0 0 1 0-4.0 0a2.0 2.0 0 1 0 4.0 0M152.5 624.3a2.0 2.0 0 1 0-4.0 0a2.0 2.0 0 1 0 4.0 0M152.5 646.9a2.0 2.0 0 1 0-4.0 0a2.0 2.0 0 1 0 4.0 0M153.2 520.8a2.0 2.0 0 1 0-4.0 0a2.0 2.0 0 1 0 4.0 0M153.2 529.2a2.0 2.0 0 1 0-4.0 0a2.0 2.0 0 1 0 4.0 0M153.2 619.1a2.0 2.0 0 1 0-4.0 0a2.0 2.0 0 1 0 4.0 0M153.2 624.3a2.0 2.0 0 1 0-4.0 0a2.0 2.0 0 1 0 4.0 0M153.2 637.8a2.0 2.0 0 1 0-4.0 0a2.0 2.0 0 1 0 4.0 0M153.2 646.9a2.0 2.0 0 1 0-4.0 0a2.0 2.0 0 1 0 4.0 0M153.2 659.1a2.0 2.0 0 1 0-4.0 0a2.0 2.0 0 1 0 4.0 0M153.8 512.6a2.0 2.0 0 1 0-4.0 0a2.0 2.0 0 1 0 4.0 0M153.8 515.2a2.0 2.0 0 1 0-4.0 0a2.0 2.0 0 1 0 4.0 0M153.8 624.3a2.0 2.0 0 1 0-4.0 0a2.0 2.0 0 1 0 4.0 0M153.8 637.8a2.0 2.0 0 1 0-4.0 0a2.0 2.0 0 1 0 4.0 0M153.8 646.9a2.0 2.0 0 1 0-4.0 0a2.0 2.0 0 1 0 4.0 0M154.4 497.5a2.0 2.0 0 1 0-4.0 0a2.0 2.0 0 1 0 4.0 0M154.4 619.1a2.0 2.0 0 1 0-4.0 0a2.0 2.0 0 1 0 4.0 0M154.4 624.3a2.0 2.0 0 1 0-4.0 0a2.0 2.0 0 1 0 4.0 0M154.4 646.9a2.0 2.0 0 1 0-4.0 0a2.0 2.0 0 1 0 4.0 0M154.4 659.1a2.0 2.0 0 1 0-4.0 0a2.0 2.0 0 1 0 4.0 0M155.1 624.3a2.0 2.0 0 1 0-4.0 0a2.0 2.0 0 1 0 4.0 0M155.1 637.8a2.0 2.0 0 1 0-4.0 0a2.0 2.0 0 1 0 4.0 0M155.1 646.9a2.0 2.0 0 1 0-4.0 0a2.0 2.0 0 1 0 4.0 0M155.7 619.1a2.0 2.0 0 1 0-4.0 0a2.0 2.0 0 1 0 4.0 0M155.7 624.3a2.0 2.0 0 1 0-4.0 0a2.0 2.0 0 1 0 4.0 0M155.7 646.9a2.0 2.0 0 1 0-4.0 0a2.0 2.0 0 1 0 4.0 0M155.7 659.1a2.0 2.0 0 1 0-4.0 0a2.0 2.0 0 1 0 4.0 0M156.3 507.8a2.0 2.0 0 1 0-4.0 0a2.0 2.0 0 1 0 4.0 0M156.3 525.9a2.0 2.0 0 1 0-4.0 0a2.0 2.0 0 1 0 4.0 0M156.3 624.3a2.0 2.0 0 1 0-4.0 0a2.0 2.0 0 1 0 4.0 0M156.3 637.8a2.0 2.0 0 1 0-4.0 0a2.0 2.0 0 1 0 4.0 0M156.3 646.9a2.0 2.0 0 1 0-4.0 0a2.0 2.0 0 1 0 4.0 0M156.8 507.6a2.0 2.0 0 1 0-4.0 0a2.0 2.0 0 1 0 4.0 0M156.8 523.3a2.0 2.0 0 1 0-4.0 0a2.0 2.0 0 1 0 4.0 0M156.8 619.1a2.0 2.0 0 1 0-4.0 0a2.0 2.0 0 1 0 4.0 0M156.8 624.3a2.0 2.0 0 1 0-4.0 0a2.0 2.0 0 1 0 4.0 0M156.8 646.9a2.0 2.0 0 1 0-4.0 0a2.0 2.0 0 1 0 4.0 0M157.4 525.9a2.0 2.0 0 1 0-4.0 0a2.0 2.0 0 1 0 4.0 0M157.4 624.3a2.0 2.0 0 1 0-4.0 0a2.0 2.0 0 1 0 4.0 0M157.4 637.8a2.0 2.0 0 1 0-4.0 0a2.0 2.0 0 1 0 4.0 0M157.4 646.9a2.0 2.0 0 1 0-4.0 0a2.0 2.0 0 1 0 4.0 0M157.4 659.1a2.0 2.0 0 1 0-4.0 0a2.0 2.0 0 1 0 4.0 0M158.0 508.5a2.0 2.0 0 1 0-4.0 0a2.0 2.0 0 1 0 4.0 0M158.0 527.9a2.0 2.0 0 1 0-4.0 0a2.0 2.0 0 1 0 4.0 0M158.0 624.3a2.0 2.0 0 1 0-4.0 0a2.0 2.0 0 1 0 4.0 0M158.0 646.9a2.0 2.0 0 1 0-4.0 0a2.0 2.0 0 1 0 4.0 0M158.5 619.1a2.0 2.0 0 1 0-4.0 0a2.0 2.0 0 1 0 4.0 0M158.5 624.3a2.0 2.0 0 1 0-4.0 0a2.0 2.0 0 1 0 4.0 0M158.5 646.9a2.0 2.0 0 1 0-4.0 0a2.0 2.0 0 1 0 4.0 0M158.5 659.1a2.0 2.0 0 1 0-4.0 0a2.0 2.0 0 1 0 4.0 0M159.1 519.2a2.0 2.0 0 1 0-4.0 0a2.0 2.0 0 1 0 4.0 0M159.1 524.0a2.0 2.0 0 1 0-4.0 0a2.0 2.0 0 1 0 4.0 0M159.1 619.1a2.0 2.0 0 1 0-4.0 0a2.0 2.0 0 1 0 4.0 0M159.1 624.3a2.0 2.0 0 1 0-4.0 0a2.0 2.0 0 1 0 4.0 0M159.1 637.8a2.0 2.0 0 1 0-4.0 0a2.0 2.0 0 1 0 4.0 0M159.1 646.9a2.0 2.0 0 1 0-4.0 0a2.0 2.0 0 1 0 4.0 0M159.6 518.8a2.0 2.0 0 1 0-4.0 0a2.0 2.0 0 1 0 4.0 0M159.6 624.3a2.0 2.0 0 1 0-4.0 0a2.0 2.0 0 1 0 4.0 0M159.6 646.9a2.0 2.0 0 1 0-4.0 0a2.0 2.0 0 1 0 4.0 0M160.1 610.4a2.0 2.0 0 1 0-4.0 0a2.0 2.0 0 1 0 4.0 0M160.1 624.3a2.0 2.0 0 1 0-4.0 0a2.0 2.0 0 1 0 4.0 0M160.1 637.8a2.0 2.0 0 1 0-4.0 0a2.0 2.0 0 1 0 4.0 0M160.1 646.9a2.0 2.0 0 1 0-4.0 0a2.0 2.0 0 1 0 4.0 0M160.1 659.1a2.0 2.0 0 1 0-4.0 0a2.0 2.0 0 1 0 4.0 0M160.7 521.2a2.0 2.0 0 1 0-4.0 0a2.0 2.0 0 1 0 4.0 0M160.7 619.1a2.0 2.0 0 1 0-4.0 0a2.0 2.0 0 1 0 4.0 0M160.7 624.3a2.0 2.0 0 1 0-4.0 0a2.0 2.0 0 1 0 4.0 0M160.7 646.9a2.0 2.0 0 1 0-4.0 0a2.0 2.0 0 1 0 4.0 0M161.2 619.1a2.0 2.0 0 1 0-4.0 0a2.0 2.0 0 1 0 4.0 0M161.2 624.3a2.0 2.0 0 1 0-4.0 0a2.0 2.0 0 1 0 4.0 0M161.2 637.8a2.0 2.0 0 1 0-4.0 0a2.0 2.0 0 1 0 4.0 0M161.2 646.9a2.0 2.0 0 1 0-4.0 0a2.0 2.0 0 1 0 4.0 0M161.7 501.1a2.0 2.0 0 1 0-4.0 0a2.0 2.0 0 1 0 4.0 0M161.7 512.6a2.0 2.0 0 1 0-4.0 0a2.0 2.0 0 1 0 4.0 0M161.7 525.5a2.0 2.0 0 1 0-4.0 0a2.0 2.0 0 1 0 4.0 0M161.7 614.5a2.0 2.0 0 1 0-4.0 0a2.0 2.0 0 1 0 4.0 0M161.7 624.3a2.0 2.0 0 1 0-4.0 0a2.0 2.0 0 1 0 4.0 0M161.7 637.8a2.0 2.0 0 1 0-4.0 0a2.0 2.0 0 1 0 4.0 0M161.7 646.9a2.0 2.0 0 1 0-4.0 0a2.0 2.0 0 1 0 4.0 0M161.7 659.1a2.0 2.0 0 1 0-4.0 0a2.0 2.0 0 1 0 4.0 0M162.1 624.3a2.0 2.0 0 1 0-4.0 0a2.0 2.0 0 1 0 4.0 0M162.1 646.9a2.0 2.0 0 1 0-4.0 0a2.0 2.0 0 1 0 4.0 0M162.6 510.3a2.0 2.0 0 1 0-4.0 0a2.0 2.0 0 1 0 4.0 0M162.6 518.5a2.0 2.0 0 1 0-4.0 0a2.0 2.0 0 1 0 4.0 0M162.6 619.1a2.0 2.0 0 1 0-4.0 0a2.0 2.0 0 1 0 4.0 0M162.6 624.3a2.0 2.0 0 1 0-4.0 0a2.0 2.0 0 1 0 4.0 0M162.6 637.8a2.0 2.0 0 1 0-4.0 0a2.0 2.0 0 1 0 4.0 0M162.6 646.9a2.0 2.0 0 1 0-4.0 0a2.0 2.0 0 1 0 4.0 0M163.1 614.5a2.0 2.0 0 1 0-4.0 0a2.0 2.0 0 1 0 4.0 0M163.1 624.3a2.0 2.0 0 1 0-4.0 0a2.0 2.0 0 1 0 4.0 0M163.1 646.9a2.0 2.0 0 1 0-4.0 0a2.0 2.0 0 1 0 4.0 0M163.1 659.1a2.0 2.0 0 1 0-4.0 0a2.0 2.0 0 1 0 4.0 0M163.6 493.4a2.0 2.0 0 1 0-4.0 0a2.0 2.0 0 1 0 4.0 0M163.6 518.5a2.0 2.0 0 1 0-4.0 0a2.0 2.0 0 1 0 4.0 0M163.6 525.1a2.0 2.0 0 1 0-4.0 0a2.0 2.0 0 1 0 4.0 0M164.0 624.3a2.0 2.0 0 1 0-4.0 0a2.0 2.0 0 1 0 4.0 0M164.0 637.8a2.0 2.0 0 1 0-4.0 0a2.0 2.0 0 1 0 4.0 0M164.0 646.9a2.0 2.0 0 1 0-4.0 0a2.0 2.0 0 1 0 4.0 0M164.5 519.5a2.0 2.0 0 1 0-4.0 0a2.0 2.0 0 1 0 4.0 0M164.5 521.5a2.0 2.0 0 1 0-4.0 0a2.0 2.0 0 1 0 4.0 0M164.5 619.1a2.0 2.0 0 1 0-4.0 0a2.0 2.0 0 1 0 4.0 0M164.5 659.1a2.0 2.0 0 1 0-4.0 0a2.0 2.0 0 1 0 4.0 0M164.9 610.4a2.0 2.0 0 1 0-4.0 0a2.0 2.0 0 1 0 4.0 0M164.9 624.3a2.0 2.0 0 1 0-4.0 0a2.0 2.0 0 1 0 4.0 0M164.9 637.8a2.0 2.0 0 1 0-4.0 0a2.0 2.0 0 1 0 4.0 0M164.9 646.9a2.0 2.0 0 1 0-4.0 0a2.0 2.0 0 1 0 4.0 0M165.4 619.1a2.0 2.0 0 1 0-4.0 0a2.0 2.0 0 1 0 4.0 0M165.4 624.3a2.0 2.0 0 1 0-4.0 0a2.0 2.0 0 1 0 4.0 0M165.4 646.9a2.0 2.0 0 1 0-4.0 0a2.0 2.0 0 1 0 4.0 0M165.8 510.8a2.0 2.0 0 1 0-4.0 0a2.0 2.0 0 1 0 4.0 0M165.8 523.6a2.0 2.0 0 1 0-4.0 0a2.0 2.0 0 1 0 4.0 0M165.8 610.4a2.0 2.0 0 1 0-4.0 0a2.0 2.0 0 1 0 4.0 0M165.8 646.9a2.0 2.0 0 1 0-4.0 0a2.0 2.0 0 1 0 4.0 0M165.8 659.1a2.0 2.0 0 1 0-4.0 0a2.0 2.0 0 1 0 4.0 0M166.2 519.2a2.0 2.0 0 1 0-4.0 0a2.0 2.0 0 1 0 4.0 0M166.2 637.8a2.0 2.0 0 1 0-4.0 0a2.0 2.0 0 1 0 4.0 0M166.2 659.1a2.0 2.0 0 1 0-4.0 0a2.0 2.0 0 1 0 4.0 0M166.6 512.6a2.0 2.0 0 1 0-4.0 0a2.0 2.0 0 1 0 4.0 0M166.6 610.4a2.0 2.0 0 1 0-4.0 0a2.0 2.0 0 1 0 4.0 0M166.6 624.3a2.0 2.0 0 1 0-4.0 0a2.0 2.0 0 1 0 4.0 0M166.6 630.4a2.0 2.0 0 1 0-4.0 0a2.0 2.0 0 1 0 4.0 0M166.6 646.9a2.0 2.0 0 1 0-4.0 0a2.0 2.0 0 1 0 4.0 0M167.1 619.1a2.0 2.0 0 1 0-4.0 0a2.0 2.0 0 1 0 4.0 0M167.1 630.4a2.0 2.0 0 1 0-4.0 0a2.0 2.0 0 1 0 4.0 0M167.1 637.8a2.0 2.0 0 1 0-4.0 0a2.0 2.0 0 1 0 4.0 0M167.5 497.1a2.0 2.0 0 1 0-4.0 0a2.0 2.0 0 1 0 4.0 0M168.3 514.3a2.0 2.0 0 1 0-4.0 0a2.0 2.0 0 1 0 4.0 0M168.3 515.2a2.0 2.0 0 1 0-4.0 0a2.0 2.0 0 1 0 4.0 0M168.3 614.5a2.0 2.0 0 1 0-4.0 0a2.0 2.0 0 1 0 4.0 0M168.7 610.4a2.0 2.0 0 1 0-4.0 0a2.0 2.0 0 1 0 4.0 0M169.1 603.4a2.0 2.0 0 1 0-4.0 0a2.0 2.0 0 1 0 4.0 0M169.1 614.5a2.0 2.0 0 1 0-4.0 0a2.0 2.0 0 1 0 4.0 0M169.4 515.5a2.0 2.0 0 1 0-4.0 0a2.0 2.0 0 1 0 4.0 0M169.8 624.3a2.0 2.0 0 1 0-4.0 0a2.0 2.0 0 1 0 4.0 0M170.2 614.5a2.0 2.0 0 1 0-4.0 0a2.0 2.0 0 1 0 4.0 0M170.6 512.6a2.0 2.0 0 1 0-4.0 0a2.0 2.0 0 1 0 4.0 0M170.6 619.1a2.0 2.0 0 1 0-4.0 0a2.0 2.0 0 1 0 4.0 0M170.6 624.3a2.0 2.0 0 1 0-4.0 0a2.0 2.0 0 1 0 4.0 0M170.9 508.5a2.0 2.0 0 1 0-4.0 0a2.0 2.0 0 1 0 4.0 0M170.9 513.5a2.0 2.0 0 1 0-4.0 0a2.0 2.0 0 1 0 4.0 0M170.9 597.5a2.0 2.0 0 1 0-4.0 0a2.0 2.0 0 1 0 4.0 0M170.9 600.3a2.0 2.0 0 1 0-4.0 0a2.0 2.0 0 1 0 4.0 0M171.3 496.8a2.0 2.0 0 1 0-4.0 0a2.0 2.0 0 1 0 4.0 0M171.6 511.6a2.0 2.0 0 1 0-4.0 0a2.0 2.0 0 1 0 4.0 0M172.0 514.9a2.0 2.0 0 1 0-4.0 0a2.0 2.0 0 1 0 4.0 0M172.0 606.7a2.0 2.0 0 1 0-4.0 0a2.0 2.0 0 1 0 4.0 0M172.7 517.6a2.0 2.0 0 1 0-4.0 0a2.0 2.0 0 1 0 4.0 0M172.7 600.3a2.0 2.0 0 1 0-4.0 0a2.0 2.0 0 1 0 4.0 0M172.7 619.1a2.0 2.0 0 1 0-4.0 0a2.0 2.0 0 1 0 4.0 0M172.7 630.4a2.0 2.0 0 1 0-4.0 0a2.0 2.0 0 1 0 4.0 0M173.0 597.5a2.0 2.0 0 1 0-4.0 0a2.0 2.0 0 1 0 4.0 0M173.4 614.5a2.0 2.0 0 1 0-4.0 0a2.0 2.0 0 1 0 4.0 0M173.7 606.7a2.0 2.0 0 1 0-4.0 0a2.0 2.0 0 1 0 4.0 0M173.7 610.4a2.0 2.0 0 1 0-4.0 0a2.0 2.0 0 1 0 4.0 0M174.0 505.7a2.0 2.0 0 1 0-4.0 0a2.0 2.0 0 1 0 4.0 0M174.0 614.5a2.0 2.0 0 1 0-4.0 0a2.0 2.0 0 1 0 4.0 0M174.0 624.3a2.0 2.0 0 1 0-4.0 0a2.0 2.0 0 1 0 4.0 0M174.3 603.4a2.0 2.0 0 1 0-4.0 0a2.0 2.0 0 1 0 4.0 0M174.7 490.0a2.0 2.0 0 1 0-4.0 0a2.0 2.0 0 1 0 4.0 0M174.7 600.3a2.0 2.0 0 1 0-4.0 0a2.0 2.0 0 1 0 4.0 0M174.7 610.4a2.0 2.0 0 1 0-4.0 0a2.0 2.0 0 1 0 4.0 0M175.0 507.3a2.0 2.0 0 1 0-4.0 0a2.0 2.0 0 1 0 4.0 0M175.0 512.4a2.0 2.0 0 1 0-4.0 0a2.0 2.0 0 1 0 4.0 0M175.3 487.3a2.0 2.0 0 1 0-4.0 0a2.0 2.0 0 1 0 4.0 0M175.3 512.6a2.0 2.0 0 1 0-4.0 0a2.0 2.0 0 1 0 4.0 0M175.6 594.9a2.0 2.0 0 1 0-4.0 0a2.0 2.0 0 1 0 4.0 0M175.6 630.4a2.0 2.0 0 1 0-4.0 0a2.0 2.0 0 1 0 4.0 0M175.9 614.5a2.0 2.0 0 1 0-4.0 0a2.0 2.0 0 1 0 4.0 0M176.2 597.5a2.0 2.0 0 1 0-4.0 0a2.0 2.0 0 1 0 4.0 0M176.2 600.3a2.0 2.0 0 1 0-4.0 0a2.0 2.0 0 1 0 4.0 0M176.5 513.5a2.0 2.0 0 1 0-4.0 0a2.0 2.0 0 1 0 4.0 0M176.5 614.5a2.0 2.0 0 1 0-4.0 0a2.0 2.0 0 1 0 4.0 0M176.8 504.6a2.0 2.0 0 1 0-4.0 0a2.0 2.0 0 1 0 4.0 0M176.8 603.4a2.0 2.0 0 1 0-4.0 0a2.0 2.0 0 1 0 4.0 0M177.1 503.3a2.0 2.0 0 1 0-4.0 0a2.0 2.0 0 1 0 4.0 0M177.1 509.8a2.0 2.0 0 1 0-4.0 0a2.0 2.0 0 1 0 4.0 0M177.1 516.4a2.0 2.0 0 1 0-4.0 0a2.0 2.0 0 1 0 4.0 0M177.4 488.4a2.0 2.0 0 1 0-4.0 0a2.0 2.0 0 1 0 4.0 0M177.4 606.7a2.0 2.0 0 1 0-4.0 0a2.0 2.0 0 1 0 4.0 0M177.7 606.7a2.0 2.0 0 1 0-4.0 0a2.0 2.0 0 1 0 4.0 0M178.0 603.4a2.0 2.0 0 1 0-4.0 0a2.0 2.0 0 1 0 4.0 0M178.3 496.1a2.0 2.0 0 1 0-4.0 0a2.0 2.0 0 1 0 4.0 0M178.3 501.9a2.0 2.0 0 1 0-4.0 0a2.0 2.0 0 1 0 4.0 0M178.3 512.9a2.0 2.0 0 1 0-4.0 0a2.0 2.0 0 1 0 4.0 0M178.3 600.3a2.0 2.0 0 1 0-4.0 0a2.0 2.0 0 1 0 4.0 0M178.6 507.8a2.0 2.0 0 1 0-4.0 0a2.0 2.0 0 1 0 4.0 0M178.6 511.3a2.0 2.0 0 1 0-4.0 0a2.0 2.0 0 1 0 4.0 0M178.9 466.3a2.0 2.0 0 1 0-4.0 0a2.0 2.0 0 1 0 4.0 0M178.9 597.5a2.0 2.0 0 1 0-4.0 0a2.0 2.0 0 1 0 4.0 0M179.4 506.4a2.0 2.0 0 1 0-4.0 0a2.0 2.0 0 1 0 4.0 0M179.4 603.4a2.0 2.0 0 1 0-4.0 0a2.0 2.0 0 1 0 4.0 0M179.7 499.5a2.0 2.0 0 1 0-4.0 0a2.0 2.0 0 1 0 4.0 0M180.0 614.5a2.0 2.0 0 1 0-4.0 0a2.0 2.0 0 1 0 4.0 0M180.2 482.3a2.0 2.0 0 1 0-4.0 0a2.0 2.0 0 1 0 4.0 0M180.8 502.5a2.0 2.0 0 1 0-4.0 0a2.0 2.0 0 1 0 4.0 0M180.8 506.2a2.0 2.0 0 1 0-4.0 0a2.0 2.0 0 1 0 4.0 0M180.8 590.1a2.0 2.0 0 1 0-4.0 0a2.0 2.0 0 1 0 4.0 0M180.8 594.9a2.0 2.0 0 1 0-4.0 0a2.0 2.0 0 1 0 4.0 0M181.0 491.3a2.0 2.0 0 1 0-4.0 0a2.0 2.0 0 1 0 4.0 0M181.0 592.4a2.0 2.0 0 1 0-4.0 0a2.0 2.0 0 1 0 4.0 0M181.3 630.4a2.0 2.0 0 1 0-4.0 0a2.0 2.0 0 1 0 4.0 0M181.5 500.3a2.0 2.0 0 1 0-4.0 0a2.0 2.0 0 1 0 4.0 0M181.5 597.5a2.0 2.0 0 1 0-4.0 0a2.0 2.0 0 1 0 4.0 0M181.5 610.4a2.0 2.0 0 1 0-4.0 0a2.0 2.0 0 1 0 4.0 0M181.8 499.3a2.0 2.0 0 1 0-4.0 0a2.0 2.0 0 1 0 4.0 0M181.8 606.7a2.0 2.0 0 1 0-4.0 0a2.0 2.0 0 1 0 4.0 0M182.5 603.4a2.0 2.0 0 1 0-4.0 0a2.0 2.0 0 1 0 4.0 0M182.8 592.4a2.0 2.0 0 1 0-4.0 0a2.0 2.0 0 1 0 4.0 0M182.8 600.3a2.0 2.0 0 1 0-4.0 0a2.0 2.0 0 1 0 4.0 0M183.0 491.0a2.0 2.0 0 1 0-4.0 0a2.0 2.0 0 1 0 4.0 0M183.0 597.5a2.0 2.0 0 1 0-4.0 0a2.0 2.0 0 1 0 4.0 0M183.3 505.7a2.0 2.0 0 1 0-4.0 0a2.0 2.0 0 1 0 4.0 0M183.3 614.5a2.0 2.0 0 1 0-4.0 0a2.0 2.0 0 1 0 4.0 0M183.5 502.1a2.0 2.0 0 1 0-4.0 0a2.0 2.0 0 1 0 4.0 0M183.5 594.9a2.0 2.0 0 1 0-4.0 0a2.0 2.0 0 1 0 4.0 0M183.8 484.5a2.0 2.0 0 1 0-4.0 0a2.0 2.0 0 1 0 4.0 0M183.8 590.1a2.0 2.0 0 1 0-4.0 0a2.0 2.0 0 1 0 4.0 0M184.0 588.0a2.0 2.0 0 1 0-4.0 0a2.0 2.0 0 1 0 4.0 0M184.0 594.9a2.0 2.0 0 1 0-4.0 0a2.0 2.0 0 1 0 4.0 0M184.7 507.6a2.0 2.0 0 1 0-4.0 0a2.0 2.0 0 1 0 4.0 0M184.9 492.1a2.0 2.0 0 1 0-4.0 0a2.0 2.0 0 1 0 4.0 0M184.9 590.1a2.0 2.0 0 1 0-4.0 0a2.0 2.0 0 1 0 4.0 0M185.2 594.9a2.0 2.0 0 1 0-4.0 0a2.0 2.0 0 1 0 4.0 0M185.3 453.6a2.0 2.0 0 1 0-4.0 0a2.0 2.0 0 1 0 4.0 0M185.4 473.9a2.0 2.0 0 1 0-4.0 0a2.0 2.0 0 1 0 4.0 0M185.4 582.2a2.0 2.0 0 1 0-4.0 0a2.0 2.0 0 1 0 4.0 0M185.4 603.4a2.0 2.0 0 1 0-4.0 0a2.0 2.0 0 1 0 4.0 0M185.4 659.1a2.0 2.0 0 1 0-4.0 0a2.0 2.0 0 1 0 4.0 0M186.3 606.7a2.0 2.0 0 1 0-4.0 0a2.0 2.0 0 1 0 4.0 0M186.3 619.1a2.0 2.0 0 1 0-4.0 0a2.0 2.0 0 1 0 4.0 0M186.3 646.9a2.0 2.0 0 1 0-4.0 0a2.0 2.0 0 1 0 4.0 0M186.5 630.4a2.0 2.0 0 1 0-4.0 0a2.0 2.0 0 1 0 4.0 0M186.7 499.5a2.0 2.0 0 1 0-4.0 0a2.0 2.0 0 1 0 4.0 0M186.7 588.0a2.0 2.0 0 1 0-4.0 0a2.0 2.0 0 1 0 4.0 0M186.9 577.1a2.0 2.0 0 1 0-4.0 0a2.0 2.0 0 1 0 4.0 0M186.9 588.0a2.0 2.0 0 1 0-4.0 0a2.0 2.0 0 1 0 4.0 0M186.9 592.4a2.0 2.0 0 1 0-4.0 0a2.0 2.0 0 1 0 4.0 0M187.1 582.2a2.0 2.0 0 1 0-4.0 0a2.0 2.0 0 1 0 4.0 0M188.2 498.6a2.0 2.0 0 1 0-4.0 0a2.0 2.0 0 1 0 4.0 0M188.8 584.0a2.0 2.0 0 1 0-4.0 0a2.0 2.0 0 1 0 4.0 0M189.0 592.4a2.0 2.0 0 1 0-4.0 0a2.0 2.0 0 1 0 4.0 0M189.0 619.1a2.0 2.0 0 1 0-4.0 0a2.0 2.0 0 1 0 4.0 0M189.2 577.1a2.0 2.0 0 1 0-4.0 0a2.0 2.0 0 1 0 4.0 0M189.4 492.1a2.0 2.0 0 1 0-4.0 0a2.0 2.0 0 1 0 4.0 0M189.6 492.3a2.0 2.0 0 1 0-4.0 0a2.0 2.0 0 1 0 4.0 0M189.6 588.0a2.0 2.0 0 1 0-4.0 0a2.0 2.0 0 1 0 4.0 0M189.8 585.9a2.0 2.0 0 1 0-4.0 0a2.0 2.0 0 1 0 4.0 0M190.0 580.4a2.0 2.0 0 1 0-4.0 0a2.0 2.0 0 1 0 4.0 0M190.0 582.2a2.0 2.0 0 1 0-4.0 0a2.0 2.0 0 1 0 4.0 0M190.0 597.5a2.0 2.0 0 1 0-4.0 0a2.0 2.0 0 1 0 4.0 0M190.2 578.7a2.0 2.0 0 1 0-4.0 0a2.0 2.0 0 1 0 4.0 0M190.4 495.5a2.0 2.0 0 1 0-4.0 0a2.0 2.0 0 1 0 4.0 0M190.4 610.4a2.0 2.0 0 1 0-4.0 0a2.0 2.0 0 1 0 4.0 0M190.6 491.8a2.0 2.0 0 1 0-4.0 0a2.0 2.0 0 1 0 4.0 0M190.6 494.4a2.0 2.0 0 1 0-4.0 0a2.0 2.0 0 1 0 4.0 0M190.6 597.5a2.0 2.0 0 1 0-4.0 0a2.0 2.0 0 1 0 4.0 0M190.9 474.3a2.0 2.0 0 1 0-4.0 0a2.0 2.0 0 1 0 4.0 0M191.3 577.1a2.0 2.0 0 1 0-4.0 0a2.0 2.0 0 1 0 4.0 0M191.5 482.6a2.0 2.0 0 1 0-4.0 0a2.0 2.0 0 1 0 4.0 0M191.7 590.1a2.0 2.0 0 1 0-4.0 0a2.0 2.0 0 1 0 4.0 0M191.8 603.4a2.0 2.0 0 1 0-4.0 0a2.0 2.0 0 1 0 4.0 0M192.0 497.8a2.0 2.0 0 1 0-4.0 0a2.0 2.0 0 1 0 4.0 0M192.4 592.4a2.0 2.0 0 1 0-4.0 0a2.0 2.0 0 1 0 4.0 0M193.3 585.9a2.0 2.0 0 1 0-4.0 0a2.0 2.0 0 1 0 4.0 0M193.3 592.4a2.0 2.0 0 1 0-4.0 0a2.0 2.0 0 1 0 4.0 0M193.4 578.7a2.0 2.0 0 1 0-4.0 0a2.0 2.0 0 1 0 4.0 0M193.4 588.0a2.0 2.0 0 1 0-4.0 0a2.0 2.0 0 1 0 4.0 0M193.6 491.5a2.0 2.0 0 1 0-4.0 0a2.0 2.0 0 1 0 4.0 0M194.0 494.9a2.0 2.0 0 1 0-4.0 0a2.0 2.0 0 1 0 4.0 0M194.0 659.1a2.0 2.0 0 1 0-4.0 0a2.0 2.0 0 1 0 4.0 0M194.1 614.5a2.0 2.0 0 1 0-4.0 0a2.0 2.0 0 1 0 4.0 0M194.3 584.0a2.0 2.0 0 1 0-4.0 0a2.0 2.0 0 1 0 4.0 0M194.6 590.1a2.0 2.0 0 1 0-4.0 0a2.0 2.0 0 1 0 4.0 0M194.6 597.5a2.0 2.0 0 1 0-4.0 0a2.0 2.0 0 1 0 4.0 0M194.8 485.4a2.0 2.0 0 1 0-4.0 0a2.0 2.0 0 1 0 4.0 0M195.0 585.9a2.0 2.0 0 1 0-4.0 0a2.0 2.0 0 1 0 4.0 0M195.0 597.5a2.0 2.0 0 1 0-4.0 0a2.0 2.0 0 1 0 4.0 0M195.1 580.4a2.0 2.0 0 1 0-4.0 0a2.0 2.0 0 1 0 4.0 0M195.1 588.0a2.0 2.0 0 1 0-4.0 0a2.0 2.0 0 1 0 4.0 0M195.3 476.0a2.0 2.0 0 1 0-4.0 0a2.0 2.0 0 1 0 4.0 0M195.9 488.1a2.0 2.0 0 1 0-4.0 0a2.0 2.0 0 1 0 4.0 0M196.1 490.4a2.0 2.0 0 1 0-4.0 0a2.0 2.0 0 1 0 4.0 0M196.1 580.4a2.0 2.0 0 1 0-4.0 0a2.0 2.0 0 1 0 4.0 0M196.2 568.8a2.0 2.0 0 1 0-4.0 0a2.0 2.0 0 1 0 4.0 0M196.6 490.3a2.0 2.0 0 1 0-4.0 0a2.0 2.0 0 1 0 4.0 0M196.8 630.9a2.0 2.0 0 1 0-4.0 0a2.0 2.0 0 1 0 4.0 0M196.9 491.6a2.0 2.0 0 1 0-4.0 0a2.0 2.0 0 1 0 4.0 0M197.0 624.3a2.0 2.0 0 1 0-4.0 0a2.0 2.0 0 1 0 4.0 0M197.3 575.6a2.0 2.0 0 1 0-4.0 0a2.0 2.0 0 1 0 4.0 0M197.3 600.3a2.0 2.0 0 1 0-4.0 0a2.0 2.0 0 1 0 4.0 0M197.8 570.0a2.0 2.0 0 1 0-4.0 0a2.0 2.0 0 1 0 4.0 0M197.8 574.1a2.0 2.0 0 1 0-4.0 0a2.0 2.0 0 1 0 4.0 0M198.2 568.8a2.0 2.0 0 1 0-4.0 0a2.0 2.0 0 1 0 4.0 0M198.4 481.3a2.0 2.0 0 1 0-4.0 0a2.0 2.0 0 1 0 4.0 0M198.5 580.4a2.0 2.0 0 1 0-4.0 0a2.0 2.0 0 1 0 4.0 0M198.7 466.1a2.0 2.0 0 1 0-4.0 0a2.0 2.0 0 1 0 4.0 0M198.8 485.7a2.0 2.0 0 1 0-4.0 0a2.0 2.0 0 1 0 4.0 0M199.0 577.1a2.0 2.0 0 1 0-4.0 0a2.0 2.0 0 1 0 4.0 0M199.0 603.4a2.0 2.0 0 1 0-4.0 0a2.0 2.0 0 1 0 4.0 0M199.4 486.1a2.0 2.0 0 1 0-4.0 0a2.0 2.0 0 1 0 4.0 0M199.8 582.2a2.0 2.0 0 1 0-4.0 0a2.0 2.0 0 1 0 4.0 0M199.9 564.1a2.0 2.0 0 1 0-4.0 0a2.0 2.0 0 1 0 4.0 0M200.1 566.4a2.0 2.0 0 1 0-4.0 0a2.0 2.0 0 1 0 4.0 0M200.2 476.8a2.0 2.0 0 1 0-4.0 0a2.0 2.0 0 1 0 4.0 0M200.2 585.9a2.0 2.0 0 1 0-4.0 0a2.0 2.0 0 1 0 4.0 0M200.6 486.5a2.0 2.0 0 1 0-4.0 0a2.0 2.0 0 1 0 4.0 0M200.8 570.0a2.0 2.0 0 1 0-4.0 0a2.0 2.0 0 1 0 4.0 0M201.2 570.0a2.0 2.0 0 1 0-4.0 0a2.0 2.0 0 1 0 4.0 0M201.3 582.2a2.0 2.0 0 1 0-4.0 0a2.0 2.0 0 1 0 4.0 0M201.4 580.4a2.0 2.0 0 1 0-4.0 0a2.0 2.0 0 1 0 4.0 0M201.6 481.5a2.0 2.0 0 1 0-4.0 0a2.0 2.0 0 1 0 4.0 0M201.8 566.4a2.0 2.0 0 1 0-4.0 0a2.0 2.0 0 1 0 4.0 0M202.0 578.7a2.0 2.0 0 1 0-4.0 0a2.0 2.0 0 1 0 4.0 0M202.4 582.2a2.0 2.0 0 1 0-4.0 0a2.0 2.0 0 1 0 4.0 0M202.8 483.8a2.0 2.0 0 1 0-4.0 0a2.0 2.0 0 1 0 4.0 0M202.8 580.4a2.0 2.0 0 1 0-4.0 0a2.0 2.0 0 1 0 4.0 0M203.1 580.4a2.0 2.0 0 1 0-4.0 0a2.0 2.0 0 1 0 4.0 0M203.1 584.0a2.0 2.0 0 1 0-4.0 0a2.0 2.0 0 1 0 4.0 0M203.2 570.0a2.0 2.0 0 1 0-4.0 0a2.0 2.0 0 1 0 4.0 0M203.5 464.6a2.0 2.0 0 1 0-4.0 0a2.0 2.0 0 1 0 4.0 0M203.5 565.2a2.0 2.0 0 1 0-4.0 0a2.0 2.0 0 1 0 4.0 0M203.6 564.1a2.0 2.0 0 1 0-4.0 0a2.0 2.0 0 1 0 4.0 0M203.9 572.7a2.0 2.0 0 1 0-4.0 0a2.0 2.0 0 1 0 4.0 0M204.5 610.5a2.0 2.0 0 1 0-4.0 0a2.0 2.0 0 1 0 4.0 0M204.6 483.9a2.0 2.0 0 1 0-4.0 0a2.0 2.0 0 1 0 4.0 0M204.7 486.8a2.0 2.0 0 1 0-4.0 0a2.0 2.0 0 1 0 4.0 0M205.2 560.9a2.0 2.0 0 1 0-4.0 0a2.0 2.0 0 1 0 4.0 0M205.2 585.9a2.0 2.0 0 1 0-4.0 0a2.0 2.0 0 1 0 4.0 0M205.3 477.1a2.0 2.0 0 1 0-4.0 0a2.0 2.0 0 1 0 4.0 0M205.8 572.7a2.0 2.0 0 1 0-4.0 0a2.0 2.0 0 1 0 4.0 0M206.0 484.8a2.0 2.0 0 1 0-4.0 0a2.0 2.0 0 1 0 4.0 0M206.0 560.9a2.0 2.0 0 1 0-4.0 0a2.0 2.0 0 1 0 4.0 0M206.0 571.4a2.0 2.0 0 1 0-4.0 0a2.0 2.0 0 1 0 4.0 0M206.2 483.3a2.0 2.0 0 1 0-4.0 0a2.0 2.0 0 1 0 4.0 0M206.2 563.0a2.0 2.0 0 1 0-4.0 0a2.0 2.0 0 1 0 4.0 0M206.9 557.1a2.0 2.0 0 1 0-4.0 0a2.0 2.0 0 1 0 4.0 0M208.1 570.0a2.0 2.0 0 1 0-4.0 0a2.0 2.0 0 1 0 4.0 0M208.2 568.8a2.0 2.0 0 1 0-4.0 0a2.0 2.0 0 1 0 4.0 0M208.4 555.3a2.0 2.0 0 1 0-4.0 0a2.0 2.0 0 1 0 4.0 0M208.9 473.0a2.0 2.0 0 1 0-4.0 0a2.0 2.0 0 1 0 4.0 0M209.2 552.0a2.0 2.0 0 1 0-4.0 0a2.0 2.0 0 1 0 4.0 0M209.6 480.9a2.0 2.0 0 1 0-4.0 0a2.0 2.0 0 1 0 4.0 0M209.8 588.0a2.0 2.0 0 1 0-4.0 0a2.0 2.0 0 1 0 4.0 0M210.3 549.0a2.0 2.0 0 1 0-4.0 0a2.0 2.0 0 1 0 4.0 0M210.6 474.4a2.0 2.0 0 1 0-4.0 0a2.0 2.0 0 1 0 4.0 0M210.7 556.2a2.0 2.0 0 1 0-4.0 0a2.0 2.0 0 1 0 4.0 0M210.9 546.9a2.0 2.0 0 1 0-4.0 0a2.0 2.0 0 1 0 4.0 0M211.1 553.6a2.0 2.0 0 1 0-4.0 0a2.0 2.0 0 1 0 4.0 0M211.8 552.8a2.0 2.0 0 1 0-4.0 0a2.0 2.0 0 1 0 4.0 0M211.9 476.3a2.0 2.0 0 1 0-4.0 0a2.0 2.0 0 1 0 4.0 0M212.0 478.7a2.0 2.0 0 1 0-4.0 0a2.0 2.0 0 1 0 4.0 0M212.2 559.0a2.0 2.0 0 1 0-4.0 0a2.0 2.0 0 1 0 4.0 0M212.2 630.4a2.0 2.0 0 1 0-4.0 0a2.0 2.0 0 1 0 4.0 0M212.4 563.0a2.0 2.0 0 1 0-4.0 0a2.0 2.0 0 1 0 4.0 0M212.7 559.9a2.0 2.0 0 1 0-4.0 0a2.0 2.0 0 1 0 4.0 0M212.9 475.2a2.0 2.0 0 1 0-4.0 0a2.0 2.0 0 1 0 4.0 0M213.0 546.9a2.0 2.0 0 1 0-4.0 0a2.0 2.0 0 1 0 4.0 0M213.4 545.5a2.0 2.0 0 1 0-4.0 0a2.0 2.0 0 1 0 4.0 0M213.4 546.2a2.0 2.0 0 1 0-4.0 0a2.0 2.0 0 1 0 4.0 0M213.5 556.2a2.0 2.0 0 1 0-4.0 0a2.0 2.0 0 1 0 4.0 0M213.5 564.1a2.0 2.0 0 1 0-4.0 0a2.0 2.0 0 1 0 4.0 0M214.0 465.8a2.0 2.0 0 1 0-4.0 0a2.0 2.0 0 1 0 4.0 0M214.2 469.3a2.0 2.0 0 1 0-4.0 0a2.0 2.0 0 1 0 4.0 0M215.0 459.9a2.0 2.0 0 1 0-4.0 0a2.0 2.0 0 1 0 4.0 0M215.4 463.8a2.0 2.0 0 1 0-4.0 0a2.0 2.0 0 1 0 4.0 0M215.7 474.1a2.0 2.0 0 1 0-4.0 0a2.0 2.0 0 1 0 4.0 0M216.0 466.2a2.0 2.0 0 1 0-4.0 0a2.0 2.0 0 1 0 4.0 0M216.3 471.5a2.0 2.0 0 1 0-4.0 0a2.0 2.0 0 1 0 4.0 0M216.3 541.7a2.0 2.0 0 1 0-4.0 0a2.0 2.0 0 1 0 4.0 0M216.3 577.1a2.0 2.0 0 1 0-4.0 0a2.0 2.0 0 1 0 4.0 0M216.9 544.9a2.0 2.0 0 1 0-4.0 0a2.0 2.0 0 1 0 4.0 0M217.1 463.4a2.0 2.0 0 1 0-4.0 0a2.0 2.0 0 1 0 4.0 0M217.3 540.0a2.0 2.0 0 1 0-4.0 0a2.0 2.0 0 1 0 4.0 0M217.6 474.0a2.0 2.0 0 1 0-4.0 0a2.0 2.0 0 1 0 4.0 0M217.8 575.7a2.0 2.0 0 1 0-4.0 0a2.0 2.0 0 1 0 4.0 0M218.0 471.8a2.0 2.0 0 1 0-4.0 0a2.0 2.0 0 1 0 4.0 0M218.5 463.3a2.0 2.0 0 1 0-4.0 0a2.0 2.0 0 1 0 4.0 0M219.3 470.3a2.0 2.0 0 1 0-4.0 0a2.0 2.0 0 1 0 4.0 0M219.3 477.1a2.0 2.0 0 1 0-4.0 0a2.0 2.0 0 1 0 4.0 0M219.7 475.4a2.0 2.0 0 1 0-4.0 0a2.0 2.0 0 1 0 4.0 0M219.9 471.0a2.0 2.0 0 1 0-4.0 0a2.0 2.0 0 1 0 4.0 0M219.9 542.3a2.0 2.0 0 1 0-4.0 0a2.0 2.0 0 1 0 4.0 0M219.9 544.9a2.0 2.0 0 1 0-4.0 0a2.0 2.0 0 1 0 4.0 0M220.3 470.7a2.0 2.0 0 1 0-4.0 0a2.0 2.0 0 1 0 4.0 0M220.6 536.7a2.0 2.0 0 1 0-4.0 0a2.0 2.0 0 1 0 4.0 0M220.6 550.5a2.0 2.0 0 1 0-4.0 0a2.0 2.0 0 1 0 4.0 0M220.8 554.5a2.0 2.0 0 1 0-4.0 0a2.0 2.0 0 1 0 4.0 0M221.1 467.5a2.0 2.0 0 1 0-4.0 0a2.0 2.0 0 1 0 4.0 0M221.3 538.3a2.0 2.0 0 1 0-4.0 0a2.0 2.0 0 1 0 4.0 0M221.3 600.3a2.0 2.0 0 1 0-4.0 0a2.0 2.0 0 1 0 4.0 0M221.8 544.9a2.0 2.0 0 1 0-4.0 0a2.0 2.0 0 1 0 4.0 0M222.0 555.3a2.0 2.0 0 1 0-4.0 0a2.0 2.0 0 1 0 4.0 0M222.2 530.9a2.0 2.0 0 1 0-4.0 0a2.0 2.0 0 1 0 4.0 0M222.7 537.8a2.0 2.0 0 1 0-4.0 0a2.0 2.0 0 1 0 4.0 0M223.0 533.7a2.0 2.0 0 1 0-4.0 0a2.0 2.0 0 1 0 4.0 0M223.7 453.1a2.0 2.0 0 1 0-4.0 0a2.0 2.0 0 1 0 4.0 0M224.2 530.5a2.0 2.0 0 1 0-4.0 0a2.0 2.0 0 1 0 4.0 0M224.4 540.5a2.0 2.0 0 1 0-4.0 0a2.0 2.0 0 1 0 4.0 0M224.4 549.0a2.0 2.0 0 1 0-4.0 0a2.0 2.0 0 1 0 4.0 0M224.6 468.2a2.0 2.0 0 1 0-4.0 0a2.0 2.0 0 1 0 4.0 0M225.3 534.7a2.0 2.0 0 1 0-4.0 0a2.0 2.0 0 1 0 4.0 0M225.4 467.4a2.0 2.0 0 1 0-4.0 0a2.0 2.0 0 1 0 4.0 0M225.6 468.4a2.0 2.0 0 1 0-4.0 0a2.0 2.0 0 1 0 4.0 0M225.8 470.0a2.0 2.0 0 1 0-4.0 0a2.0 2.0 0 1 0 4.0 0M225.9 530.9a2.0 2.0 0 1 0-4.0 0a2.0 2.0 0 1 0 4.0 0M226.1 467.2a2.0 2.0 0 1 0-4.0 0a2.0 2.0 0 1 0 4.0 0M226.3 462.8a2.0 2.0 0 1 0-4.0 0a2.0 2.0 0 1 0 4.0 0M226.3 536.7a2.0 2.0 0 1 0-4.0 0a2.0 2.0 0 1 0 4.0 0M226.4 520.8a2.0 2.0 0 1 0-4.0 0a2.0 2.0 0 1 0 4.0 0M227.1 523.6a2.0 2.0 0 1 0-4.0 0a2.0 2.0 0 1 0 4.0 0M227.4 527.1a2.0 2.0 0 1 0-4.0 0a2.0 2.0 0 1 0 4.0 0M227.8 568.8a2.0 2.0 0 1 0-4.0 0a2.0 2.0 0 1 0 4.0 0M227.8 460.9a2.0 2.0 0 1 0-4.0 0a2.0 2.0 0 1 0 4.0 0M228.1 528.7a2.0 2.0 0 1 0-4.0 0a2.0 2.0 0 1 0 4.0 0M228.8 459.2a2.0 2.0 0 1 0-4.0 0a2.0 2.0 0 1 0 4.0 0M228.9 545.2a2.0 2.0 0 1 0-4.0 0a2.0 2.0 0 1 0 4.0 0M229.0 539.4a2.0 2.0 0 1 0-4.0 0a2.0 2.0 0 1 0 4.0 0M229.1 453.6a2.0 2.0 0 1 0-4.0 0a2.0 2.0 0 1 0 4.0 0M229.1 532.7a2.0 2.0 0 1 0-4.0 0a2.0 2.0 0 1 0 4.0 0M229.4 458.8a2.0 2.0 0 1 0-4.0 0a2.0 2.0 0 1 0 4.0 0M229.6 522.2a2.0 2.0 0 1 0-4.0 0a2.0 2.0 0 1 0 4.0 0M230.1 538.9a2.0 2.0 0 1 0-4.0 0a2.0 2.0 0 1 0 4.0 0M230.3 530.5a2.0 2.0 0 1 0-4.0 0a2.0 2.0 0 1 0 4.0 0M230.3 517.6a2.0 2.0 0 1 0-4.0 0a2.0 2.0 0 1 0 4.0 0M231.2 542.9a2.0 2.0 0 1 0-4.0 0a2.0 2.0 0 1 0 4.0 0M231.6 520.1a2.0 2.0 0 1 0-4.0 0a2.0 2.0 0 1 0 4.0 0M231.7 544.9a2.0 2.0 0 1 0-4.0 0a2.0 2.0 0 1 0 4.0 0M232.6 549.7a2.0 2.0 0 1 0-4.0 0a2.0 2.0 0 1 0 4.0 0M232.7 461.2a2.0 2.0 0 1 0-4.0 0a2.0 2.0 0 1 0 4.0 0M232.7 518.2a2.0 2.0 0 1 0-4.0 0a2.0 2.0 0 1 0 4.0 0M232.8 522.9a2.0 2.0 0 1 0-4.0 0a2.0 2.0 0 1 0 4.0 0M233.3 515.5a2.0 2.0 0 1 0-4.0 0a2.0 2.0 0 1 0 4.0 0M233.7 461.1a2.0 2.0 0 1 0-4.0 0a2.0 2.0 0 1 0 4.0 0M235.1 505.3a2.0 2.0 0 1 0-4.0 0a2.0 2.0 0 1 0 4.0 0M235.2 513.5a2.0 2.0 0 1 0-4.0 0a2.0 2.0 0 1 0 4.0 0M235.4 512.1a2.0 2.0 0 1 0-4.0 0a2.0 2.0 0 1 0 4.0 0M236.1 511.0a2.0 2.0 0 1 0-4.0 0a2.0 2.0 0 1 0 4.0 0M236.2 509.3a2.0 2.0 0 1 0-4.0 0a2.0 2.0 0 1 0 4.0 0M236.2 527.5a2.0 2.0 0 1 0-4.0 0a2.0 2.0 0 1 0 4.0 0M236.3 461.3a2.0 2.0 0 1 0-4.0 0a2.0 2.0 0 1 0 4.0 0M236.3 464.3a2.0 2.0 0 1 0-4.0 0a2.0 2.0 0 1 0 4.0 0M236.3 505.0a2.0 2.0 0 1 0-4.0 0a2.0 2.0 0 1 0 4.0 0M237.3 549.4a2.0 2.0 0 1 0-4.0 0a2.0 2.0 0 1 0 4.0 0M237.3 518.2a2.0 2.0 0 1 0-4.0 0a2.0 2.0 0 1 0 4.0 0M237.7 459.1a2.0 2.0 0 1 0-4.0 0a2.0 2.0 0 1 0 4.0 0M237.7 519.8a2.0 2.0 0 1 0-4.0 0a2.0 2.0 0 1 0 4.0 0M237.8 458.5a2.0 2.0 0 1 0-4.0 0a2.0 2.0 0 1 0 4.0 0M238.2 505.9a2.0 2.0 0 1 0-4.0 0a2.0 2.0 0 1 0 4.0 0M238.4 456.9a2.0 2.0 0 1 0-4.0 0a2.0 2.0 0 1 0 4.0 0M238.5 506.4a2.0 2.0 0 1 0-4.0 0a2.0 2.0 0 1 0 4.0 0M239.4 455.8a2.0 2.0 0 1 0-4.0 0a2.0 2.0 0 1 0 4.0 0M239.4 560.5a2.0 2.0 0 1 0-4.0 0a2.0 2.0 0 1 0 4.0 0M239.9 502.7a2.0 2.0 0 1 0-4.0 0a2.0 2.0 0 1 0 4.0 0M240.2 448.1a2.0 2.0 0 1 0-4.0 0a2.0 2.0 0 1 0 4.0 0M240.5 513.2a2.0 2.0 0 1 0-4.0 0a2.0 2.0 0 1 0 4.0 0M240.7 454.5a2.0 2.0 0 1 0-4.0 0a2.0 2.0 0 1 0 4.0 0M241.0 497.3a2.0 2.0 0 1 0-4.0 0a2.0 2.0 0 1 0 4.0 0M241.0 507.6a2.0 2.0 0 1 0-4.0 0a2.0 2.0 0 1 0 4.0 0M241.5 532.5a2.0 2.0 0 1 0-4.0 0a2.0 2.0 0 1 0 4.0 0M241.6 501.3a2.0 2.0 0 1 0-4.0 0a2.0 2.0 0 1 0 4.0 0M242.1 496.4a2.0 2.0 0 1 0-4.0 0a2.0 2.0 0 1 0 4.0 0M242.3 499.3a2.0 2.0 0 1 0-4.0 0a2.0 2.0 0 1 0 4.0 0M242.6 488.7a2.0 2.0 0 1 0-4.0 0a2.0 2.0 0 1 0 4.0 0M242.7 496.1a2.0 2.0 0 1 0-4.0 0a2.0 2.0 0 1 0 4.0 0M242.8 452.9a2.0 2.0 0 1 0-4.0 0a2.0 2.0 0 1 0 4.0 0M242.8 493.5a2.0 2.0 0 1 0-4.0 0a2.0 2.0 0 1 0 4.0 0M243.2 467.8a2.0 2.0 0 1 0-4.0 0a2.0 2.0 0 1 0 4.0 0M243.3 491.3a2.0 2.0 0 1 0-4.0 0a2.0 2.0 0 1 0 4.0 0M243.5 490.4a2.0 2.0 0 1 0-4.0 0a2.0 2.0 0 1 0 4.0 0M243.6 516.4a2.0 2.0 0 1 0-4.0 0a2.0 2.0 0 1 0 4.0 0M243.7 452.3a2.0 2.0 0 1 0-4.0 0a2.0 2.0 0 1 0 4.0 0M243.8 486.8a2.0 2.0 0 1 0-4.0 0a2.0 2.0 0 1 0 4.0 0M243.9 473.1a2.0 2.0 0 1 0-4.0 0a2.0 2.0 0 1 0 4.0 0M243.9 503.9a2.0 2.0 0 1 0-4.0 0a2.0 2.0 0 1 0 4.0 0M244.1 442.9a2.0 2.0 0 1 0-4.0 0a2.0 2.0 0 1 0 4.0 0M244.3 468.0a2.0 2.0 0 1 0-4.0 0a2.0 2.0 0 1 0 4.0 0M244.4 497.1a2.0 2.0 0 1 0-4.0 0a2.0 2.0 0 1 0 4.0 0M244.5 465.6a2.0 2.0 0 1 0-4.0 0a2.0 2.0 0 1 0 4.0 0M244.8 462.4a2.0 2.0 0 1 0-4.0 0a2.0 2.0 0 1 0 4.0 0M244.8 489.9a2.0 2.0 0 1 0-4.0 0a2.0 2.0 0 1 0 4.0 0M244.9 454.8a2.0 2.0 0 1 0-4.0 0a2.0 2.0 0 1 0 4.0 0M245.3 448.2a2.0 2.0 0 1 0-4.0 0a2.0 2.0 0 1 0 4.0 0M245.5 458.3a2.0 2.0 0 1 0-4.0 0a2.0 2.0 0 1 0 4.0 0M245.8 480.8a2.0 2.0 0 1 0-4.0 0a2.0 2.0 0 1 0 4.0 0M245.9 484.2a2.0 2.0 0 1 0-4.0 0a2.0 2.0 0 1 0 4.0 0M246.1 456.8a2.0 2.0 0 1 0-4.0 0a2.0 2.0 0 1 0 4.0 0M246.2 476.2a2.0 2.0 0 1 0-4.0 0a2.0 2.0 0 1 0 4.0 0M246.2 484.0a2.0 2.0 0 1 0-4.0 0a2.0 2.0 0 1 0 4.0 0M246.6 479.1a2.0 2.0 0 1 0-4.0 0a2.0 2.0 0 1 0 4.0 0M246.8 473.1a2.0 2.0 0 1 0-4.0 0a2.0 2.0 0 1 0 4.0 0M247.1 465.8a2.0 2.0 0 1 0-4.0 0a2.0 2.0 0 1 0 4.0 0M247.2 469.7a2.0 2.0 0 1 0-4.0 0a2.0 2.0 0 1 0 4.0 0M247.2 470.7a2.0 2.0 0 1 0-4.0 0a2.0 2.0 0 1 0 4.0 0M247.3 485.3a2.0 2.0 0 1 0-4.0 0a2.0 2.0 0 1 0 4.0 0M248.0 477.2a2.0 2.0 0 1 0-4.0 0a2.0 2.0 0 1 0 4.0 0M248.0 450.7a2.0 2.0 0 1 0-4.0 0a2.0 2.0 0 1 0 4.0 0M248.2 486.5a2.0 2.0 0 1 0-4.0 0a2.0 2.0 0 1 0 4.0 0M248.3 481.0a2.0 2.0 0 1 0-4.0 0a2.0 2.0 0 1 0 4.0 0M248.6 453.8a2.0 2.0 0 1 0-4.0 0a2.0 2.0 0 1 0 4.0 0M248.7 477.3a2.0 2.0 0 1 0-4.0 0a2.0 2.0 0 1 0 4.0 0M249.7 465.8a2.0 2.0 0 1 0-4.0 0a2.0 2.0 0 1 0 4.0 0M249.8 476.6a2.0 2.0 0 1 0-4.0 0a2.0 2.0 0 1 0 4.0 0M250.1 452.9a2.0 2.0 0 1 0-4.0 0a2.0 2.0 0 1 0 4.0 0M250.6 447.2a2.0 2.0 0 1 0-4.0 0a2.0 2.0 0 1 0 4.0 0M250.8 465.6a2.0 2.0 0 1 0-4.0 0a2.0 2.0 0 1 0 4.0 0M251.0 465.7a2.0 2.0 0 1 0-4.0 0a2.0 2.0 0 1 0 4.0 0M251.2 451.5a2.0 2.0 0 1 0-4.0 0a2.0 2.0 0 1 0 4.0 0M251.3 460.6a2.0 2.0 0 1 0-4.0 0a2.0 2.0 0 1 0 4.0 0M251.8 470.0a2.0 2.0 0 1 0-4.0 0a2.0 2.0 0 1 0 4.0 0M252.0 480.1a2.0 2.0 0 1 0-4.0 0a2.0 2.0 0 1 0 4.0 0M252.1 467.8a2.0 2.0 0 1 0-4.0 0a2.0 2.0 0 1 0 4.0 0M252.3 446.5a2.0 2.0 0 1 0-4.0 0a2.0 2.0 0 1 0 4.0 0M252.8 445.1a2.0 2.0 0 1 0-4.0 0a2.0 2.0 0 1 0 4.0 0M252.9 455.9a2.0 2.0 0 1 0-4.0 0a2.0 2.0 0 1 0 4.0 0M253.2 458.5a2.0 2.0 0 1 0-4.0 0a2.0 2.0 0 1 0 4.0 0M253.4 473.3a2.0 2.0 0 1 0-4.0 0a2.0 2.0 0 1 0 4.0 0M253.4 464.6a2.0 2.0 0 1 0-4.0 0a2.0 2.0 0 1 0 4.0 0M253.4 470.4a2.0 2.0 0 1 0-4.0 0a2.0 2.0 0 1 0 4.0 0M253.4 451.2a2.0 2.0 0 1 0-4.0 0a2.0 2.0 0 1 0 4.0 0M253.7 475.3a2.0 2.0 0 1 0-4.0 0a2.0 2.0 0 1 0 4.0 0M254.5 453.3a2.0 2.0 0 1 0-4.0 0a2.0 2.0 0 1 0 4.0 0M254.6 440.0a2.0 2.0 0 1 0-4.0 0a2.0 2.0 0 1 0 4.0 0M254.6 461.4a2.0 2.0 0 1 0-4.0 0a2.0 2.0 0 1 0 4.0 0M254.6 461.1a2.0 2.0 0 1 0-4.0 0a2.0 2.0 0 1 0 4.0 0M254.8 475.2a2.0 2.0 0 1 0-4.0 0a2.0 2.0 0 1 0 4.0 0M255.1 454.2a2.0 2.0 0 1 0-4.0 0a2.0 2.0 0 1 0 4.0 0M255.2 459.0a2.0 2.0 0 1 0-4.0 0a2.0 2.0 0 1 0 4.0 0M255.8 447.3a2.0 2.0 0 1 0-4.0 0a2.0 2.0 0 1 0 4.0 0M256.1 449.7a2.0 2.0 0 1 0-4.0 0a2.0 2.0 0 1 0 4.0 0M256.4 455.3a2.0 2.0 0 1 0-4.0 0a2.0 2.0 0 1 0 4.0 0M256.8 449.8a2.0 2.0 0 1 0-4.0 0a2.0 2.0 0 1 0 4.0 0M257.4 459.2a2.0 2.0 0 1 0-4.0 0a2.0 2.0 0 1 0 4.0 0M257.4 440.1a2.0 2.0 0 1 0-4.0 0a2.0 2.0 0 1 0 4.0 0M258.2 451.9a2.0 2.0 0 1 0-4.0 0a2.0 2.0 0 1 0 4.0 0M259.2 464.6a2.0 2.0 0 1 0-4.0 0a2.0 2.0 0 1 0 4.0 0M259.3 433.3a2.0 2.0 0 1 0-4.0 0a2.0 2.0 0 1 0 4.0 0M259.8 448.1a2.0 2.0 0 1 0-4.0 0a2.0 2.0 0 1 0 4.0 0M260.6 446.2a2.0 2.0 0 1 0-4.0 0a2.0 2.0 0 1 0 4.0 0M260.6 455.9a2.0 2.0 0 1 0-4.0 0a2.0 2.0 0 1 0 4.0 0M260.9 455.6a2.0 2.0 0 1 0-4.0 0a2.0 2.0 0 1 0 4.0 0M261.0 456.8a2.0 2.0 0 1 0-4.0 0a2.0 2.0 0 1 0 4.0 0M261.5 463.6a2.0 2.0 0 1 0-4.0 0a2.0 2.0 0 1 0 4.0 0M261.5 445.9a2.0 2.0 0 1 0-4.0 0a2.0 2.0 0 1 0 4.0 0M261.6 446.3a2.0 2.0 0 1 0-4.0 0a2.0 2.0 0 1 0 4.0 0M262.0 466.7a2.0 2.0 0 1 0-4.0 0a2.0 2.0 0 1 0 4.0 0M262.4 436.2a2.0 2.0 0 1 0-4.0 0a2.0 2.0 0 1 0 4.0 0M262.6 438.5a2.0 2.0 0 1 0-4.0 0a2.0 2.0 0 1 0 4.0 0M263.5 509.0a2.0 2.0 0 1 0-4.0 0a2.0 2.0 0 1 0 4.0 0M263.6 430.7a2.0 2.0 0 1 0-4.0 0a2.0 2.0 0 1 0 4.0 0M263.8 475.3a2.0 2.0 0 1 0-4.0 0a2.0 2.0 0 1 0 4.0 0M264.4 430.1a2.0 2.0 0 1 0-4.0 0a2.0 2.0 0 1 0 4.0 0M265.6 440.3a2.0 2.0 0 1 0-4.0 0a2.0 2.0 0 1 0 4.0 0M265.8 435.8a2.0 2.0 0 1 0-4.0 0a2.0 2.0 0 1 0 4.0 0M266.0 452.9a2.0 2.0 0 1 0-4.0 0a2.0 2.0 0 1 0 4.0 0M266.3 455.2a2.0 2.0 0 1 0-4.0 0a2.0 2.0 0 1 0 4.0 0M266.9 439.0a2.0 2.0 0 1 0-4.0 0a2.0 2.0 0 1 0 4.0 0M267.2 427.4a2.0 2.0 0 1 0-4.0 0a2.0 2.0 0 1 0 4.0 0M267.8 431.2a2.0 2.0 0 1 0-4.0 0a2.0 2.0 0 1 0 4.0 0M267.9 413.3a2.0 2.0 0 1 0-4.0 0a2.0 2.0 0 1 0 4.0 0M269.3 434.6a2.0 2.0 0 1 0-4.0 0a2.0 2.0 0 1 0 4.0 0M270.1 444.5a2.0 2.0 0 1 0-4.0 0a2.0 2.0 0 1 0 4.0 0M271.9 461.4a2.0 2.0 0 1 0-4.0 0a2.0 2.0 0 1 0 4.0 0M272.0 433.3a2.0 2.0 0 1 0-4.0 0a2.0 2.0 0 1 0 4.0 0M272.3 433.6a2.0 2.0 0 1 0-4.0 0a2.0 2.0 0 1 0 4.0 0M272.5 431.1a2.0 2.0 0 1 0-4.0 0a2.0 2.0 0 1 0 4.0 0M273.8 399.0a2.0 2.0 0 1 0-4.0 0a2.0 2.0 0 1 0 4.0 0M275.0 419.6a2.0 2.0 0 1 0-4.0 0a2.0 2.0 0 1 0 4.0 0M276.2 415.1a2.0 2.0 0 1 0-4.0 0a2.0 2.0 0 1 0 4.0 0M276.4 515.9a2.0 2.0 0 1 0-4.0 0a2.0 2.0 0 1 0 4.0 0M276.6 435.6a2.0 2.0 0 1 0-4.0 0a2.0 2.0 0 1 0 4.0 0M277.3 402.7a2.0 2.0 0 1 0-4.0 0a2.0 2.0 0 1 0 4.0 0M277.8 406.9a2.0 2.0 0 1 0-4.0 0a2.0 2.0 0 1 0 4.0 0M277.9 435.4a2.0 2.0 0 1 0-4.0 0a2.0 2.0 0 1 0 4.0 0M278.5 417.9a2.0 2.0 0 1 0-4.0 0a2.0 2.0 0 1 0 4.0 0M279.6 418.2a2.0 2.0 0 1 0-4.0 0a2.0 2.0 0 1 0 4.0 0M282.3 419.1a2.0 2.0 0 1 0-4.0 0a2.0 2.0 0 1 0 4.0 0M282.9 424.7a2.0 2.0 0 1 0-4.0 0a2.0 2.0 0 1 0 4.0 0M283.0 423.0a2.0 2.0 0 1 0-4.0 0a2.0 2.0 0 1 0 4.0 0M285.0 425.5a2.0 2.0 0 1 0-4.0 0a2.0 2.0 0 1 0 4.0 0M285.0 417.1a2.0 2.0 0 1 0-4.0 0a2.0 2.0 0 1 0 4.0 0M285.9 412.3a2.0 2.0 0 1 0-4.0 0a2.0 2.0 0 1 0 4.0 0M286.2 406.9a2.0 2.0 0 1 0-4.0 0a2.0 2.0 0 1 0 4.0 0M286.2 440.5a2.0 2.0 0 1 0-4.0 0a2.0 2.0 0 1 0 4.0 0M287.4 442.4a2.0 2.0 0 1 0-4.0 0a2.0 2.0 0 1 0 4.0 0M287.9 403.6a2.0 2.0 0 1 0-4.0 0a2.0 2.0 0 1 0 4.0 0M289.4 423.2a2.0 2.0 0 1 0-4.0 0a2.0 2.0 0 1 0 4.0 0M289.7 401.8a2.0 2.0 0 1 0-4.0 0a2.0 2.0 0 1 0 4.0 0M290.0 418.6a2.0 2.0 0 1 0-4.0 0a2.0 2.0 0 1 0 4.0 0M290.3 415.1a2.0 2.0 0 1 0-4.0 0a2.0 2.0 0 1 0 4.0 0M290.4 419.7a2.0 2.0 0 1 0-4.0 0a2.0 2.0 0 1 0 4.0 0M291.8 434.0a2.0 2.0 0 1 0-4.0 0a2.0 2.0 0 1 0 4.0 0M293.9 405.9a2.0 2.0 0 1 0-4.0 0a2.0 2.0 0 1 0 4.0 0M295.2 431.4a2.0 2.0 0 1 0-4.0 0a2.0 2.0 0 1 0 4.0 0M295.7 402.4a2.0 2.0 0 1 0-4.0 0a2.0 2.0 0 1 0 4.0 0M335.3 397.9a2.0 2.0 0 1 0-4.0 0a2.0 2.0 0 1 0 4.0 0" fill="none" stroke="#231f20" stroke-width="0.95"/>
<path d="M556 480h1v1h-1zM562 480h1v1h-1zM555 481h3v1h-3zM561 481h3v1h-3zM580 481h1v1h-1zM554 482h5v1h-5zM562 482h1v1h-1zM567 482h1v1h-1zM571 482h1v1h-1zM573 482h1v1h-1zM579 482h3v1h-3zM554 483h5v1h-5zM561 483h3v1h-3zM566 483h3v1h-3zM570 483h5v1h-5zM580 483h3v1h-3zM555 484h8v1h-8zM564 484h2v1h-2zM567 484h7v1h-7zM580 484h3v1h-3zM543 485h2v1h-2zM554 485h8v1h-8zM563 485h9v1h-9zM581 485h1v1h-1zM540 486h6v1h-6zM551 486h1v1h-1zM553 486h4v1h-4zM558 486h16v1h-16zM539 487h6v1h-6zM550 487h3v1h-3zM554 487h16v1h-16zM571 487h4v1h-4zM580 487h1v1h-1zM540 488h3v1h-3zM550 488h3v1h-3zM555 488h2v1h-2zM558 488h7v1h-7zM568 488h1v1h-1zM571 488h1v1h-1zM573 488h1v1h-1zM577 488h1v1h-1zM579 488h4v1h-4zM584 488h1v1h-1zM536 489h1v1h-1zM551 489h4v1h-4zM559 489h6v1h-6zM570 489h5v1h-5zM576 489h10v1h-10zM535 490h3v1h-3zM539 490h1v1h-1zM550 490h6v1h-6zM558 490h8v1h-8zM569 490h18v1h-18zM534 491h3v1h-3zM538 491h3v1h-3zM543 491h1v1h-1zM545 491h1v1h-1zM549 491h6v1h-6zM556 491h28v1h-28zM585 491h1v1h-1zM535 492h1v1h-1zM539 492h1v1h-1zM542 492h5v1h-5zM548 492h16v1h-16zM565 492h18v1h-18zM521 493h1v1h-1zM527 493h2v1h-2zM534 493h5v1h-5zM542 493h42v1h-42zM520 494h3v1h-3zM525 494h5v1h-5zM535 494h5v1h-5zM541 494h6v1h-6zM548 494h37v1h-37zM519 495h4v1h-4zM524 495h7v1h-7zM534 495h51v1h-51zM519 496h11v1h-11zM535 496h50v1h-50zM520 497h1v1h-1zM522 497h9v1h-9zM536 497h1v1h-1zM538 497h1v1h-1zM540 497h39v1h-39zM580 497h6v1h-6zM522 498h10v1h-10zM534 498h1v1h-1zM538 498h38v1h-38zM577 498h10v1h-10zM523 499h9v1h-9zM533 499h3v1h-3zM537 499h38v1h-38zM578 499h2v1h-2zM581 499h6v1h-6zM515 500h1v1h-1zM522 500h9v1h-9zM534 500h1v1h-1zM536 500h40v1h-40zM577 500h4v1h-4zM583 500h3v1h-3zM514 501h3v1h-3zM522 501h4v1h-4zM527 501h6v1h-6zM536 501h46v1h-46zM583 501h2v1h-2zM515 502h1v1h-1zM523 502h1v1h-1zM526 502h8v1h-8zM536 502h49v1h-49zM514 503h3v1h-3zM526 503h8v1h-8zM536 503h49v1h-49zM506 504h3v1h-3zM515 504h1v1h-1zM527 504h7v1h-7zM535 504h49v1h-49zM505 505h6v1h-6zM528 505h57v1h-57zM506 506h6v1h-6zM519 506h2v1h-2zM527 506h5v1h-5zM533 506h51v1h-51zM505 507h7v1h-7zM518 507h4v1h-4zM523 507h1v1h-1zM525 507h58v1h-58zM506 508h6v1h-6zM517 508h65v1h-65zM507 509h6v1h-6zM516 509h6v1h-6zM523 509h59v1h-59zM507 510h5v1h-5zM515 510h68v1h-68zM506 511h6v1h-6zM514 511h66v1h-66zM581 511h4v1h-4zM586 511h1v1h-1zM506 512h82v1h-82zM507 513h5v1h-5zM513 513h74v1h-74zM503 514h1v1h-1zM505 514h1v1h-1zM507 514h80v1h-80zM502 515h85v1h-85zM503 516h1v1h-1zM505 516h81v1h-81zM496 517h1v1h-1zM506 517h79v1h-79zM495 518h3v1h-3zM503 518h1v1h-1zM505 518h80v1h-80zM496 519h2v1h-2zM502 519h84v1h-84zM496 520h5v1h-5zM502 520h80v1h-80zM584 520h1v1h-1zM497 521h84v1h-84zM496 522h5v1h-5zM502 522h80v1h-80zM495 523h88v1h-88zM494 524h88v1h-88zM494 525h88v1h-88zM484 526h1v1h-1zM494 526h89v1h-89zM483 527h3v1h-3zM494 527h91v1h-91zM484 528h3v1h-3zM491 528h1v1h-1zM493 528h93v1h-93zM482 529h4v1h-4zM489 529h97v1h-97zM481 530h104v1h-104zM481 531h10v1h-10zM493 531h85v1h-85zM580 531h1v1h-1zM583 531h3v1h-3zM481 532h14v1h-14zM496 532h83v1h-83zM584 532h1v1h-1zM481 533h6v1h-6zM489 533h90v1h-90zM481 534h97v1h-97zM481 535h10v1h-10zM493 535h84v1h-84zM481 536h95v1h-95zM481 537h94v1h-94zM469 538h1v1h-1zM481 538h93v1h-93zM468 539h3v1h-3zM476 539h1v1h-1zM481 539h93v1h-93zM468 540h4v1h-4zM475 540h3v1h-3zM481 540h93v1h-93zM468 541h3v1h-3zM476 541h1v1h-1zM481 541h92v1h-92zM469 542h1v1h-1zM475 542h3v1h-3zM481 542h91v1h-91zM468 543h3v1h-3zM475 543h4v1h-4zM481 543h91v1h-91zM468 544h4v1h-4zM475 544h4v1h-4zM481 544h90v1h-90zM468 545h5v1h-5zM475 545h4v1h-4zM481 545h89v1h-89zM468 546h5v1h-5zM475 546h4v1h-4zM481 546h88v1h-88zM468 547h5v1h-5zM475 547h4v1h-4zM481 547h88v1h-88zM468 548h4v1h-4zM475 548h4v1h-4zM481 548h87v1h-87zM468 549h5v1h-5zM475 549h4v1h-4zM481 549h87v1h-87zM468 550h5v1h-5zM475 550h4v1h-4zM481 550h86v1h-86zM449 551h1v1h-1zM461 551h2v1h-2zM468 551h5v1h-5zM475 551h4v1h-4zM481 551h85v1h-85zM448 552h3v1h-3zM460 552h4v1h-4zM468 552h5v1h-5zM475 552h4v1h-4zM481 552h86v1h-86zM447 553h5v1h-5zM460 553h4v1h-4zM468 553h5v1h-5zM475 553h4v1h-4zM481 553h86v1h-86zM447 554h4v1h-4zM460 554h4v1h-4zM468 554h5v1h-5zM475 554h4v1h-4zM481 554h85v1h-85zM447 555h5v1h-5zM460 555h4v1h-4zM468 555h5v1h-5zM475 555h4v1h-4zM481 555h84v1h-84zM447 556h5v1h-5zM460 556h4v1h-4zM468 556h5v1h-5zM475 556h4v1h-4zM481 556h85v1h-85zM447 557h5v1h-5zM460 557h4v1h-4zM468 557h5v1h-5zM475 557h4v1h-4zM481 557h84v1h-84zM447 558h5v1h-5zM460 558h4v1h-4zM468 558h5v1h-5zM475 558h4v1h-4zM481 558h81v1h-81zM447 559h5v1h-5zM460 559h4v1h-4zM468 559h5v1h-5zM475 559h4v1h-4zM481 559h81v1h-81zM447 560h5v1h-5zM460 560h4v1h-4zM468 560h5v1h-5zM475 560h4v1h-4zM481 560h81v1h-81zM447 561h5v1h-5zM460 561h4v1h-4zM468 561h5v1h-5zM475 561h4v1h-4zM481 561h80v1h-80zM447 562h5v1h-5zM460 562h4v1h-4zM468 562h5v1h-5zM475 562h4v1h-4zM481 562h79v1h-79zM447 563h5v1h-5zM460 563h4v1h-4zM468 563h5v1h-5zM475 563h4v1h-4zM481 563h80v1h-80zM447 564h5v1h-5zM460 564h4v1h-4zM468 564h5v1h-5zM475 564h4v1h-4zM481 564h81v1h-81zM447 565h5v1h-5zM460 565h4v1h-4zM468 565h5v1h-5zM475 565h4v1h-4zM481 565h80v1h-80zM447 566h5v1h-5zM460 566h4v1h-4zM468 566h5v1h-5zM475 566h4v1h-4zM481 566h78v1h-78zM561 566h1v1h-1zM447 567h5v1h-5zM460 567h4v1h-4zM468 567h5v1h-5zM475 567h4v1h-4zM481 567h77v1h-77zM560 567h3v1h-3zM447 568h5v1h-5zM460 568h4v1h-4zM468 568h5v1h-5zM475 568h4v1h-4zM481 568h76v1h-76zM561 568h1v1h-1zM447 569h5v1h-5zM460 569h4v1h-4zM468 569h5v1h-5zM475 569h4v1h-4zM481 569h75v1h-75zM447 570h5v1h-5zM460 570h4v1h-4zM468 570h5v1h-5zM475 570h4v1h-4zM481 570h76v1h-76zM447 571h5v1h-5zM460 571h4v1h-4zM468 571h5v1h-5zM475 571h4v1h-4zM481 571h75v1h-75zM447 572h5v1h-5zM460 572h4v1h-4zM468 572h5v1h-5zM475 572h4v1h-4zM481 572h74v1h-74zM447 573h5v1h-5zM460 573h4v1h-4zM468 573h5v1h-5zM475 573h4v1h-4zM481 573h73v1h-73zM447 574h5v1h-5zM460 574h4v1h-4zM468 574h5v1h-5zM475 574h4v1h-4zM481 574h73v1h-73zM447 575h5v1h-5zM460 575h4v1h-4zM468 575h5v1h-5zM475 575h4v1h-4zM481 575h73v1h-73zM447 576h5v1h-5zM460 576h4v1h-4zM468 576h5v1h-5zM475 576h4v1h-4zM481 576h73v1h-73zM447 577h5v1h-5zM460 577h4v1h-4zM468 577h5v1h-5zM475 577h4v1h-4zM481 577h72v1h-72zM447 578h5v1h-5zM460 578h4v1h-4zM468 578h5v1h-5zM475 578h4v1h-4zM481 578h71v1h-71zM447 579h5v1h-5zM460 579h4v1h-4zM468 579h5v1h-5zM475 579h4v1h-4zM481 579h71v1h-71zM447 580h5v1h-5zM460 580h4v1h-4zM468 580h5v1h-5zM475 580h4v1h-4zM481 580h70v1h-70zM447 581h5v1h-5zM460 581h4v1h-4zM468 581h5v1h-5zM475 581h4v1h-4zM481 581h69v1h-69zM447 582h5v1h-5zM460 582h4v1h-4zM468 582h5v1h-5zM475 582h4v1h-4zM481 582h65v1h-65zM447 583h5v1h-5zM460 583h4v1h-4zM468 583h5v1h-5zM475 583h4v1h-4zM481 583h65v1h-65zM447 584h5v1h-5zM460 584h4v1h-4zM468 584h5v1h-5zM475 584h4v1h-4zM481 584h66v1h-66zM447 585h5v1h-5zM460 585h4v1h-4zM468 585h5v1h-5zM475 585h4v1h-4zM481 585h66v1h-66zM447 586h5v1h-5zM460 586h4v1h-4zM468 586h5v1h-5zM475 586h4v1h-4zM481 586h65v1h-65zM447 587h5v1h-5zM460 587h4v1h-4zM468 587h5v1h-5zM475 587h4v1h-4zM481 587h66v1h-66zM447 588h5v1h-5zM460 588h4v1h-4zM468 588h5v1h-5zM475 588h4v1h-4zM481 588h66v1h-66zM548 588h1v1h-1zM447 589h5v1h-5zM460 589h4v1h-4zM468 589h5v1h-5zM475 589h4v1h-4zM481 589h59v1h-59zM541 589h5v1h-5zM547 589h3v1h-3zM447 590h4v1h-4zM460 590h4v1h-4zM468 590h4v1h-4zM475 590h4v1h-4zM481 590h58v1h-58zM540 590h4v1h-4zM548 590h1v1h-1zM447 591h5v1h-5zM460 591h4v1h-4zM468 591h5v1h-5zM475 591h4v1h-4zM481 591h58v1h-58zM540 591h2v1h-2zM447 592h5v1h-5zM460 592h4v1h-4zM468 592h5v1h-5zM475 592h4v1h-4zM481 592h61v1h-61zM447 593h5v1h-5zM460 593h4v1h-4zM468 593h5v1h-5zM475 593h4v1h-4zM481 593h55v1h-55zM537 593h6v1h-6zM447 594h4v1h-4zM460 594h4v1h-4zM468 594h4v1h-4zM475 594h4v1h-4zM481 594h59v1h-59zM541 594h1v1h-1zM447 595h4v1h-4zM460 595h4v1h-4zM468 595h4v1h-4zM475 595h4v1h-4zM481 595h59v1h-59zM447 596h4v1h-4zM460 596h4v1h-4zM468 596h4v1h-4zM475 596h4v1h-4zM481 596h50v1h-50zM533 596h3v1h-3zM537 596h3v1h-3zM447 597h3v1h-3zM460 597h4v1h-4zM468 597h3v1h-3zM475 597h4v1h-4zM481 597h50v1h-50zM533 597h6v1h-6zM447 598h4v1h-4zM460 598h4v1h-4zM468 598h4v1h-4zM475 598h4v1h-4zM481 598h51v1h-51zM534 598h4v1h-4zM447 599h4v1h-4zM460 599h4v1h-4zM468 599h4v1h-4zM475 599h4v1h-4zM481 599h43v1h-43zM526 599h6v1h-6zM535 599h1v1h-1zM447 600h3v1h-3zM461 600h3v1h-3zM468 600h3v1h-3zM475 600h4v1h-4zM481 600h42v1h-42zM527 600h4v1h-4zM448 601h1v1h-1zM462 601h1v1h-1zM469 601h1v1h-1zM475 601h4v1h-4zM481 601h14v1h-14zM496 601h27v1h-27zM526 601h4v1h-4zM448 602h1v1h-1zM462 602h1v1h-1zM469 602h1v1h-1zM475 602h4v1h-4zM481 602h14v1h-14zM496 602h24v1h-24zM521 602h3v1h-3zM525 602h6v1h-6zM447 603h3v1h-3zM461 603h3v1h-3zM468 603h3v1h-3zM475 603h4v1h-4zM481 603h44v1h-44zM526 603h6v1h-6zM447 604h4v1h-4zM460 604h4v1h-4zM468 604h4v1h-4zM475 604h3v1h-3zM481 604h44v1h-44zM528 604h3v1h-3zM447 605h3v1h-3zM461 605h3v1h-3zM468 605h3v1h-3zM475 605h3v1h-3zM482 605h42v1h-42zM529 605h3v1h-3zM447 606h4v1h-4zM460 606h4v1h-4zM468 606h4v1h-4zM475 606h4v1h-4zM481 606h33v1h-33zM515 606h9v1h-9zM530 606h3v1h-3zM447 607h3v1h-3zM461 607h3v1h-3zM468 607h3v1h-3zM475 607h3v1h-3zM482 607h32v1h-32zM515 607h5v1h-5zM521 607h2v1h-2zM531 607h3v1h-3zM447 608h3v1h-3zM462 608h1v1h-1zM468 608h3v1h-3zM476 608h1v1h-1zM483 608h36v1h-36zM532 608h1v1h-1zM448 609h1v1h-1zM469 609h1v1h-1zM484 609h2v1h-2zM489 609h2v1h-2zM493 609h1v1h-1zM496 609h2v1h-2zM499 609h15v1h-15zM515 609h3v1h-3zM499 610h15v1h-15zM499 611h16v1h-16zM485 612h1v1h-1zM489 612h1v1h-1zM493 612h1v1h-1zM497 612h1v1h-1zM500 612h1v1h-1zM502 612h2v1h-2zM505 612h9v1h-9zM484 613h3v1h-3zM488 613h3v1h-3zM492 613h3v1h-3zM496 613h11v1h-11zM508 613h3v1h-3zM512 613h3v1h-3zM485 614h1v1h-1zM489 614h1v1h-1zM493 614h1v1h-1zM497 614h1v1h-1zM500 614h1v1h-1zM503 614h1v1h-1zM505 614h1v1h-1zM509 614h1v1h-1zM513 614h1v1h-1zM484 615h3v1h-3zM488 615h3v1h-3zM492 615h3v1h-3zM496 615h11v1h-11zM508 615h3v1h-3zM485 616h1v1h-1zM489 616h1v1h-1zM493 616h1v1h-1zM497 616h1v1h-1zM500 616h1v1h-1zM503 616h1v1h-1zM505 616h1v1h-1zM508 616h3v1h-3zM496 617h5v1h-5zM509 617h1v1h-1zM511 617h1v1h-1zM493 618h1v1h-1zM497 618h5v1h-5zM509 618h4v1h-4zM492 619h3v1h-3zM496 619h7v1h-7zM508 619h4v1h-4zM492 620h10v1h-10zM509 620h1v1h-1zM493 621h1v1h-1zM496 621h2v1h-2zM500 621h1v1h-1zM497 622h1v1h-1zM499 622h4v1h-4zM496 623h8v1h-8zM496 624h8v1h-8zM497 625h1v1h-1zM500 625h1v1h-1zM502 625h1v1h-1zM507 625h1v1h-1zM496 626h8v1h-8zM506 626h3v1h-3zM537 626h1v1h-1zM496 627h7v1h-7zM507 627h1v1h-1zM536 627h3v1h-3zM497 628h1v1h-1zM500 628h1v1h-1zM537 628h1v1h-1zM500 629h1v1h-1zM503 629h1v1h-1zM499 630h6v1h-6zM500 631h1v1h-1zM503 631h1v1h-1zM509 636h1v1h-1zM508 637h4v1h-4zM508 638h5v1h-5zM509 639h1v1h-1zM511 639h1v1h-1zM520 643h5v1h-5zM519 644h7v1h-7zM519 645h6v1h-6zM520 646h1v1h-1zM522 646h2v1h-2zM520 649h5v1h-5zM528 649h9v1h-9zM519 650h7v1h-7zM527 650h11v1h-11zM519 651h6v1h-6zM528 651h10v1h-10zM520 652h4v1h-4zM529 652h8v1h-8zM520 657h1v1h-1zM519 658h3v1h-3zM519 659h3v1h-3zM520 660h1v1h-1z" fill="#231f20"/>
<path d="M451.4 551.2a2.0 2.0 0 1 0-4.0 0a2.0 2.0 0 1 0 4.0 0M451.4 553.3a2.0 2.0 0 1 0-4.0 0a2.0 2.0 0 1 0 4.0 0M451.4 554.1a2.0 2.0 0 1 0-4.0 0a2.0 2.0 0 1 0 4.0 0M451.4 555.3a2.0 2.0 0 1 0-4.0 0a2.0 2.0 0 1 0 4.0 0M451.4 590.1a2.0 2.0 0 1 0-4.0 0a2.0 2.0 0 1 0 4.0 0M451.4 591.1a2.0 2.0 0 1 0-4.0 0a2.0 2.0 0 1 0 4.0 0M451.4 594.0a2.0 2.0 0 1 0-4.0 0a2.0 2.0 0 1 0 4.0 0M451.4 595.1a2.0 2.0 0 1 0-4.0 0a2.0 2.0 0 1 0 4.0 0M451.4 596.2a2.0 2.0 0 1 0-4.0 0a2.0 2.0 0 1 0 4.0 0M451.4 597.3a2.0 2.0 0 1 0-4.0 0a2.0 2.0 0 1 0 4.0 0M451.4 598.5a2.0 2.0 0 1 0-4.0 0a2.0 2.0 0 1 0 4.0 0M451.4 599.7a2.0 2.0 0 1 0-4.0 0a2.0 2.0 0 1 0 4.0 0M451.4 600.9a2.0 2.0 0 1 0-4.0 0a2.0 2.0 0 1 0 4.0 0M451.4 602.3a2.0 2.0 0 1 0-4.0 0a2.0 2.0 0 1 0 4.0 0M451.4 603.6a2.0 2.0 0 1 0-4.0 0a2.0 2.0 0 1 0 4.0 0M451.4 605.1a2.0 2.0 0 1 0-4.0 0a2.0 2.0 0 1 0 4.0 0M451.4 606.6a2.0 2.0 0 1 0-4.0 0a2.0 2.0 0 1 0 4.0 0M451.4 608.2a2.0 2.0 0 1 0-4.0 0a2.0 2.0 0 1 0 4.0 0M451.4 609.9a2.0 2.0 0 1 0-4.0 0a2.0 2.0 0 1 0 4.0 0M451.4 611.7a2.0 2.0 0 1 0-4.0 0a2.0 2.0 0 1 0 4.0 0M451.4 613.6a2.0 2.0 0 1 0-4.0 0a2.0 2.0 0 1 0 4.0 0M451.4 615.6a2.0 2.0 0 1 0-4.0 0a2.0 2.0 0 1 0 4.0 0M451.4 617.8a2.0 2.0 0 1 0-4.0 0a2.0 2.0 0 1 0 4.0 0M451.4 620.2a2.0 2.0 0 1 0-4.0 0a2.0 2.0 0 1 0 4.0 0M451.4 622.7a2.0 2.0 0 1 0-4.0 0a2.0 2.0 0 1 0 4.0 0M451.4 625.5a2.0 2.0 0 1 0-4.0 0a2.0 2.0 0 1 0 4.0 0M451.4 628.5a2.0 2.0 0 1 0-4.0 0a2.0 2.0 0 1 0 4.0 0M451.4 631.9a2.0 2.0 0 1 0-4.0 0a2.0 2.0 0 1 0 4.0 0M451.4 635.8a2.0 2.0 0 1 0-4.0 0a2.0 2.0 0 1 0 4.0 0M451.4 640.1a2.0 2.0 0 1 0-4.0 0a2.0 2.0 0 1 0 4.0 0M451.4 645.2a2.0 2.0 0 1 0-4.0 0a2.0 2.0 0 1 0 4.0 0M451.4 651.4a2.0 2.0 0 1 0-4.0 0a2.0 2.0 0 1 0 4.0 0M451.4 659.1a2.0 2.0 0 1 0-4.0 0a2.0 2.0 0 1 0 4.0 0M463.6 542.5a2.0 2.0 0 1 0-4.0 0a2.0 2.0 0 1 0 4.0 0M463.6 547.2a2.0 2.0 0 1 0-4.0 0a2.0 2.0 0 1 0 4.0 0M463.6 547.6a2.0 2.0 0 1 0-4.0 0a2.0 2.0 0 1 0 4.0 0M463.6 550.0a2.0 2.0 0 1 0-4.0 0a2.0 2.0 0 1 0 4.0 0M463.6 550.5a2.0 2.0 0 1 0-4.0 0a2.0 2.0 0 1 0 4.0 0M463.6 552.8a2.0 2.0 0 1 0-4.0 0a2.0 2.0 0 1 0 4.0 0M463.6 553.6a2.0 2.0 0 1 0-4.0 0a2.0 2.0 0 1 0 4.0 0M463.6 555.0a2.0 2.0 0 1 0-4.0 0a2.0 2.0 0 1 0 4.0 0M463.6 557.0a2.0 2.0 0 1 0-4.0 0a2.0 2.0 0 1 0 4.0 0M463.6 558.0a2.0 2.0 0 1 0-4.0 0a2.0 2.0 0 1 0 4.0 0M463.6 559.6a2.0 2.0 0 1 0-4.0 0a2.0 2.0 0 1 0 4.0 0M463.6 561.0a2.0 2.0 0 1 0-4.0 0a2.0 2.0 0 1 0 4.0 0M463.6 562.4a2.0 2.0 0 1 0-4.0 0a2.0 2.0 0 1 0 4.0 0M463.6 563.5a2.0 2.0 0 1 0-4.0 0a2.0 2.0 0 1 0 4.0 0M463.6 565.0a2.0 2.0 0 1 0-4.0 0a2.0 2.0 0 1 0 4.0 0M463.6 566.7a2.0 2.0 0 1 0-4.0 0a2.0 2.0 0 1 0 4.0 0M463.6 568.8a2.0 2.0 0 1 0-4.0 0a2.0 2.0 0 1 0 4.0 0M463.6 570.7a2.0 2.0 0 1 0-4.0 0a2.0 2.0 0 1 0 4.0 0M463.6 571.7a2.0 2.0 0 1 0-4.0 0a2.0 2.0 0 1 0 4.0 0M463.6 573.7a2.0 2.0 0 1 0-4.0 0a2.0 2.0 0 1 0 4.0 0M463.6 574.8a2.0 2.0 0 1 0-4.0 0a2.0 2.0 0 1 0 4.0 0M463.6 576.5a2.0 2.0 0 1 0-4.0 0a2.0 2.0 0 1 0 4.0 0M463.6 577.7a2.0 2.0 0 1 0-4.0 0a2.0 2.0 0 1 0 4.0 0M463.6 579.5a2.0 2.0 0 1 0-4.0 0a2.0 2.0 0 1 0 4.0 0M463.6 580.2a2.0 2.0 0 1 0-4.0 0a2.0 2.0 0 1 0 4.0 0M463.6 582.2a2.0 2.0 0 1 0-4.0 0a2.0 2.0 0 1 0 4.0 0M463.6 584.4a2.0 2.0 0 1 0-4.0 0a2.0 2.0 0 1 0 4.0 0M463.6 585.9a2.0 2.0 0 1 0-4.0 0a2.0 2.0 0 1 0 4.0 0M463.6 586.7a2.0 2.0 0 1 0-4.0 0a2.0 2.0 0 1 0 4.0 0M463.6 588.4a2.0 2.0 0 1 0-4.0 0a2.0 2.0 0 1 0 4.0 0M463.6 590.1a2.0 2.0 0 1 0-4.0 0a2.0 2.0 0 1 0 4.0 0M463.6 592.0a2.0 2.0 0 1 0-4.0 0a2.0 2.0 0 1 0 4.0 0M463.6 593.0a2.0 2.0 0 1 0-4.0 0a2.0 2.0 0 1 0 4.0 0M463.6 595.1a2.0 2.0 0 1 0-4.0 0a2.0 2.0 0 1 0 4.0 0M463.6 596.2a2.0 2.0 0 1 0-4.0 0a2.0 2.0 0 1 0 4.0 0M463.6 597.3a2.0 2.0 0 1 0-4.0 0a2.0 2.0 0 1 0 4.0 0M463.6 598.5a2.0 2.0 0 1 0-4.0 0a2.0 2.0 0 1 0 4.0 0M463.6 599.7a2.0 2.0 0 1 0-4.0 0a2.0 2.0 0 1 0 4.0 0M463.6 600.9a2.0 2.0 0 1 0-4.0 0a2.0 2.0 0 1 0 4.0 0M463.6 602.3a2.0 2.0 0 1 0-4.0 0a2.0 2.0 0 1 0 4.0 0M463.6 603.6a2.0 2.0 0 1 0-4.0 0a2.0 2.0 0 1 0 4.0 0M463.6 605.1a2.0 2.0 0 1 0-4.0 0a2.0 2.0 0 1 0 4.0 0M463.6 606.6a2.0 2.0 0 1 0-4.0 0a2.0 2.0 0 1 0 4.0 0M463.6 608.2a2.0 2.0 0 1 0-4.0 0a2.0 2.0 0 1 0 4.0 0M463.6 609.9a2.0 2.0 0 1 0-4.0 0a2.0 2.0 0 1 0 4.0 0M463.6 611.7a2.0 2.0 0 1 0-4.0 0a2.0 2.0 0 1 0 4.0 0M463.6 613.6a2.0 2.0 0 1 0-4.0 0a2.0 2.0 0 1 0 4.0 0M463.6 615.6a2.0 2.0 0 1 0-4.0 0a2.0 2.0 0 1 0 4.0 0M463.6 617.8a2.0 2.0 0 1 0-4.0 0a2.0 2.0 0 1 0 4.0 0M463.6 620.2a2.0 2.0 0 1 0-4.0 0a2.0 2.0 0 1 0 4.0 0M463.6 622.7a2.0 2.0 0 1 0-4.0 0a2.0 2.0 0 1 0 4.0 0M463.6 625.5a2.0 2.0 0 1 0-4.0 0a2.0 2.0 0 1 0 4.0 0M463.6 628.5a2.0 2.0 0 1 0-4.0 0a2.0 2.0 0 1 0 4.0 0M463.6 631.9a2.0 2.0 0 1 0-4.0 0a2.0 2.0 0 1 0 4.0 0M463.6 635.8a2.0 2.0 0 1 0-4.0 0a2.0 2.0 0 1 0 4.0 0M463.6 640.1a2.0 2.0 0 1 0-4.0 0a2.0 2.0 0 1 0 4.0 0M463.6 645.2a2.0 2.0 0 1 0-4.0 0a2.0 2.0 0 1 0 4.0 0M463.6 651.4a2.0 2.0 0 1 0-4.0 0a2.0 2.0 0 1 0 4.0 0M463.6 659.1a2.0 2.0 0 1 0-4.0 0a2.0 2.0 0 1 0 4.0 0M472.4 516.7a2.0 2.0 0 1 0-4.0 0a2.0 2.0 0 1 0 4.0 0M472.4 518.7a2.0 2.0 0 1 0-4.0 0a2.0 2.0 0 1 0 4.0 0M472.4 528.4a2.0 2.0 0 1 0-4.0 0a2.0 2.0 0 1 0 4.0 0M472.4 531.2a2.0 2.0 0 1 0-4.0 0a2.0 2.0 0 1 0 4.0 0M472.4 532.7a2.0 2.0 0 1 0-4.0 0a2.0 2.0 0 1 0 4.0 0M472.4 533.3a2.0 2.0 0 1 0-4.0 0a2.0 2.0 0 1 0 4.0 0M472.4 536.0a2.0 2.0 0 1 0-4.0 0a2.0 2.0 0 1 0 4.0 0M472.4 537.3a2.0 2.0 0 1 0-4.0 0a2.0 2.0 0 1 0 4.0 0M472.4 540.0a2.0 2.0 0 1 0-4.0 0a2.0 2.0 0 1 0 4.0 0M472.4 541.6a2.0 2.0 0 1 0-4.0 0a2.0 2.0 0 1 0 4.0 0M472.4 541.9a2.0 2.0 0 1 0-4.0 0a2.0 2.0 0 1 0 4.0 0M472.4 542.7a2.0 2.0 0 1 0-4.0 0a2.0 2.0 0 1 0 4.0 0M472.4 542.9a2.0 2.0 0 1 0-4.0 0a2.0 2.0 0 1 0 4.0 0M472.4 543.9a2.0 2.0 0 1 0-4.0 0a2.0 2.0 0 1 0 4.0 0M472.4 545.3a2.0 2.0 0 1 0-4.0 0a2.0 2.0 0 1 0 4.0 0M472.4 548.6a2.0 2.0 0 1 0-4.0 0a2.0 2.0 0 1 0 4.0 0M472.4 590.1a2.0 2.0 0 1 0-4.0 0a2.0 2.0 0 1 0 4.0 0M472.4 591.1a2.0 2.0 0 1 0-4.0 0a2.0 2.0 0 1 0 4.0 0M472.4 594.0a2.0 2.0 0 1 0-4.0 0a2.0 2.0 0 1 0 4.0 0M472.4 595.1a2.0 2.0 0 1 0-4.0 0a2.0 2.0 0 1 0 4.0 0M472.4 596.2a2.0 2.0 0 1 0-4.0 0a2.0 2.0 0 1 0 4.0 0M472.4 597.3a2.0 2.0 0 1 0-4.0 0a2.0 2.0 0 1 0 4.0 0M472.4 598.5a2.0 2.0 0 1 0-4.0 0a2.0 2.0 0 1 0 4.0 0M472.4 599.7a2.0 2.0 0 1 0-4.0 0a2.0 2.0 0 1 0 4.0 0M472.4 600.9a2.0 2.0 0 1 0-4.0 0a2.0 2.0 0 1 0 4.0 0M472.4 602.3a2.0 2.0 0 1 0-4.0 0a2.0 2.0 0 1 0 4.0 0M472.4 603.6a2.0 2.0 0 1 0-4.0 0a2.0 2.0 0 1 0 4.0 0M472.4 605.1a2.0 2.0 0 1 0-4.0 0a2.0 2.0 0 1 0 4.0 0M472.4 606.6a2.0 2.0 0 1 0-4.0 0a2.0 2.0 0 1 0 4.0 0M472.4 608.2a2.0 2.0 0 1 0-4.0 0a2.0 2.0 0 1 0 4.0 0M472.4 609.9a2.0 2.0 0 1 0-4.0 0a2.0 2.0 0 1 0 4.0 0M472.4 611.7a2.0 2.0 0 1 0-4.0 0a2.0 2.0 0 1 0 4.0 0M472.4 613.6a2.0 2.0 0 1 0-4.0 0a2.0 2.0 0 1 0 4.0 0M472.4 615.6a2.0 2.0 0 1 0-4.0 0a2.0 2.0 0 1 0 4.0 0M472.4 617.8a2.0 2.0 0 1 0-4.0 0a2.0 2.0 0 1 0 4.0 0M472.4 620.2a2.0 2.0 0 1 0-4.0 0a2.0 2.0 0 1 0 4.0 0M472.4 622.7a2.0 2.0 0 1 0-4.0 0a2.0 2.0 0 1 0 4.0 0M472.4 625.5a2.0 2.0 0 1 0-4.0 0a2.0 2.0 0 1 0 4.0 0M472.4 628.5a2.0 2.0 0 1 0-4.0 0a2.0 2.0 0 1 0 4.0 0M472.4 631.9a2.0 2.0 0 1 0-4.0 0a2.0 2.0 0 1 0 4.0 0M472.4 635.8a2.0 2.0 0 1 0-4.0 0a2.0 2.0 0 1 0 4.0 0M472.4 640.1a2.0 2.0 0 1 0-4.0 0a2.0 2.0 0 1 0 4.0 0M472.4 645.2a2.0 2.0 0 1 0-4.0 0a2.0 2.0 0 1 0 4.0 0M472.4 651.4a2.0 2.0 0 1 0-4.0 0a2.0 2.0 0 1 0 4.0 0M472.4 659.1a2.0 2.0 0 1 0-4.0 0a2.0 2.0 0 1 0 4.0 0M479.3 523.2a2.0 2.0 0 1 0-4.0 0a2.0 2.0 0 1 0 4.0 0M479.3 532.4a2.0 2.0 0 1 0-4.0 0a2.0 2.0 0 1 0 4.0 0M479.3 533.4a2.0 2.0 0 1 0-4.0 0a2.0 2.0 0 1 0 4.0 0M479.3 533.7a2.0 2.0 0 1 0-4.0 0a2.0 2.0 0 1 0 4.0 0M479.3 537.5a2.0 2.0 0 1 0-4.0 0a2.0 2.0 0 1 0 4.0 0M479.3 539.8a2.0 2.0 0 1 0-4.0 0a2.0 2.0 0 1 0 4.0 0M479.3 540.0a2.0 2.0 0 1 0-4.0 0a2.0 2.0 0 1 0 4.0 0M479.3 541.6a2.0 2.0 0 1 0-4.0 0a2.0 2.0 0 1 0 4.0 0M479.3 542.5a2.0 2.0 0 1 0-4.0 0a2.0 2.0 0 1 0 4.0 0M479.3 543.9a2.0 2.0 0 1 0-4.0 0a2.0 2.0 0 1 0 4.0 0M479.3 544.5a2.0 2.0 0 1 0-4.0 0a2.0 2.0 0 1 0 4.0 0M479.3 545.3a2.0 2.0 0 1 0-4.0 0a2.0 2.0 0 1 0 4.0 0M479.3 546.1a2.0 2.0 0 1 0-4.0 0a2.0 2.0 0 1 0 4.0 0M479.3 546.5a2.0 2.0 0 1 0-4.0 0a2.0 2.0 0 1 0 4.0 0M479.3 547.4a2.0 2.0 0 1 0-4.0 0a2.0 2.0 0 1 0 4.0 0M479.3 548.1a2.0 2.0 0 1 0-4.0 0a2.0 2.0 0 1 0 4.0 0M479.3 548.8a2.0 2.0 0 1 0-4.0 0a2.0 2.0 0 1 0 4.0 0M479.3 549.5a2.0 2.0 0 1 0-4.0 0a2.0 2.0 0 1 0 4.0 0M479.3 550.0a2.0 2.0 0 1 0-4.0 0a2.0 2.0 0 1 0 4.0 0M479.3 550.7a2.0 2.0 0 1 0-4.0 0a2.0 2.0 0 1 0 4.0 0M479.3 551.7a2.0 2.0 0 1 0-4.0 0a2.0 2.0 0 1 0 4.0 0M479.3 552.2a2.0 2.0 0 1 0-4.0 0a2.0 2.0 0 1 0 4.0 0M479.3 553.0a2.0 2.0 0 1 0-4.0 0a2.0 2.0 0 1 0 4.0 0M479.3 553.9a2.0 2.0 0 1 0-4.0 0a2.0 2.0 0 1 0 4.0 0M479.3 554.7a2.0 2.0 0 1 0-4.0 0a2.0 2.0 0 1 0 4.0 0M479.3 555.3a2.0 2.0 0 1 0-4.0 0a2.0 2.0 0 1 0 4.0 0M479.3 555.8a2.0 2.0 0 1 0-4.0 0a2.0 2.0 0 1 0 4.0 0M479.3 556.7a2.0 2.0 0 1 0-4.0 0a2.0 2.0 0 1 0 4.0 0M479.3 557.7a2.0 2.0 0 1 0-4.0 0a2.0 2.0 0 1 0 4.0 0M479.3 558.0a2.0 2.0 0 1 0-4.0 0a2.0 2.0 0 1 0 4.0 0M479.3 558.6a2.0 2.0 0 1 0-4.0 0a2.0 2.0 0 1 0 4.0 0M479.3 559.3a2.0 2.0 0 1 0-4.0 0a2.0 2.0 0 1 0 4.0 0M479.3 559.9a2.0 2.0 0 1 0-4.0 0a2.0 2.0 0 1 0 4.0 0M479.3 560.6a2.0 2.0 0 1 0-4.0 0a2.0 2.0 0 1 0 4.0 0M479.3 561.0a2.0 2.0 0 1 0-4.0 0a2.0 2.0 0 1 0 4.0 0M479.3 561.6a2.0 2.0 0 1 0-4.0 0a2.0 2.0 0 1 0 4.0 0M479.3 562.4a2.0 2.0 0 1 0-4.0 0a2.0 2.0 0 1 0 4.0 0M479.3 563.1a2.0 2.0 0 1 0-4.0 0a2.0 2.0 0 1 0 4.0 0M479.3 563.9a2.0 2.0 0 1 0-4.0 0a2.0 2.0 0 1 0 4.0 0M479.3 564.6a2.0 2.0 0 1 0-4.0 0a2.0 2.0 0 1 0 4.0 0M479.3 565.4a2.0 2.0 0 1 0-4.0 0a2.0 2.0 0 1 0 4.0 0M479.3 566.2a2.0 2.0 0 1 0-4.0 0a2.0 2.0 0 1 0 4.0 0M479.3 567.1a2.0 2.0 0 1 0-4.0 0a2.0 2.0 0 1 0 4.0 0M479.3 567.5a2.0 2.0 0 1 0-4.0 0a2.0 2.0 0 1 0 4.0 0M479.3 568.4a2.0 2.0 0 1 0-4.0 0a2.0 2.0 0 1 0 4.0 0M479.3 568.8a2.0 2.0 0 1 0-4.0 0a2.0 2.0 0 1 0 4.0 0M479.3 569.8a2.0 2.0 0 1 0-4.0 0a2.0 2.0 0 1 0 4.0 0M479.3 570.2a2.0 2.0 0 1 0-4.0 0a2.0 2.0 0 1 0 4.0 0M479.3 571.2a2.0 2.0 0 1 0-4.0 0a2.0 2.0 0 1 0 4.0 0M479.3 571.7a2.0 2.0 0 1 0-4.0 0a2.0 2.0 0 1 0 4.0 0M479.3 572.2a2.0 2.0 0 1 0-4.0 0a2.0 2.0 0 1 0 4.0 0M479.3 572.7a2.0 2.0 0 1 0-4.0 0a2.0 2.0 0 1 0 4.0 0M479.3 573.2a2.0 2.0 0 1 0-4.0 0a2.0 2.0 0 1 0 4.0 0M479.3 573.7a2.0 2.0 0 1 0-4.0 0a2.0 2.0 0 1 0 4.0 0M479.3 574.2a2.0 2.0 0 1 0-4.0 0a2.0 2.0 0 1 0 4.0 0M479.3 574.8a2.0 2.0 0 1 0-4.0 0a2.0 2.0 0 1 0 4.0 0M479.3 575.4a2.0 2.0 0 1 0-4.0 0a2.0 2.0 0 1 0 4.0 0M479.3 575.9a2.0 2.0 0 1 0-4.0 0a2.0 2.0 0 1 0 4.0 0M479.3 576.5a2.0 2.0 0 1 0-4.0 0a2.0 2.0 0 1 0 4.0 0M479.3 577.1a2.0 2.0 0 1 0-4.0 0a2.0 2.0 0 1 0 4.0 0M479.3 577.7a2.0 2.0 0 1 0-4.0 0a2.0 2.0 0 1 0 4.0 0M479.3 578.3a2.0 2.0 0 1 0-4.0 0a2.0 2.0 0 1 0 4.0 0M479.3 578.9a2.0 2.0 0 1 0-4.0 0a2.0 2.0 0 1 0 4.0 0M479.3 579.5a2.0 2.0 0 1 0-4.0 0a2.0 2.0 0 1 0 4.0 0M479.3 580.2a2.0 2.0 0 1 0-4.0 0a2.0 2.0 0 1 0 4.0 0M479.3 580.8a2.0 2.0 0 1 0-4.0 0a2.0 2.0 0 1 0 4.0 0M479.3 581.5a2.0 2.0 0 1 0-4.0 0a2.0 2.0 0 1 0 4.0 0M479.3 582.2a2.0 2.0 0 1 0-4.0 0a2.0 2.0 0 1 0 4.0 0M479.3 582.9a2.0 2.0 0 1 0-4.0 0a2.0 2.0 0 1 0 4.0 0M479.3 583.6a2.0 2.0 0 1 0-4.0 0a2.0 2.0 0 1 0 4.0 0M479.3 584.4a2.0 2.0 0 1 0-4.0 0a2.0 2.0 0 1 0 4.0 0M479.3 585.1a2.0 2.0 0 1 0-4.0 0a2.0 2.0 0 1 0 4.0 0M479.3 585.9a2.0 2.0 0 1 0-4.0 0a2.0 2.0 0 1 0 4.0 0M479.3 586.7a2.0 2.0 0 1 0-4.0 0a2.0 2.0 0 1 0 4.0 0M479.3 587.5a2.0 2.0 0 1 0-4.0 0a2.0 2.0 0 1 0 4.0 0M479.3 588.4a2.0 2.0 0 1 0-4.0 0a2.0 2.0 0 1 0 4.0 0M479.3 589.3a2.0 2.0 0 1 0-4.0 0a2.0 2.0 0 1 0 4.0 0M479.3 590.1a2.0 2.0 0 1 0-4.0 0a2.0 2.0 0 1 0 4.0 0M479.3 591.1a2.0 2.0 0 1 0-4.0 0a2.0 2.0 0 1 0 4.0 0M479.3 592.0a2.0 2.0 0 1 0-4.0 0a2.0 2.0 0 1 0 4.0 0M479.3 593.0a2.0 2.0 0 1 0-4.0 0a2.0 2.0 0 1 0 4.0 0M479.3 594.0a2.0 2.0 0 1 0-4.0 0a2.0 2.0 0 1 0 4.0 0M479.3 595.1a2.0 2.0 0 1 0-4.0 0a2.0 2.0 0 1 0 4.0 0M479.3 596.2a2.0 2.0 0 1 0-4.0 0a2.0 2.0 0 1 0 4.0 0M479.3 597.3a2.0 2.0 0 1 0-4.0 0a2.0 2.0 0 1 0 4.0 0M479.3 598.5a2.0 2.0 0 1 0-4.0 0a2.0 2.0 0 1 0 4.0 0M479.3 599.7a2.0 2.0 0 1 0-4.0 0a2.0 2.0 0 1 0 4.0 0M479.3 600.9a2.0 2.0 0 1 0-4.0 0a2.0 2.0 0 1 0 4.0 0M479.3 602.3a2.0 2.0 0 1 0-4.0 0a2.0 2.0 0 1 0 4.0 0M479.3 603.6a2.0 2.0 0 1 0-4.0 0a2.0 2.0 0 1 0 4.0 0M479.3 605.1a2.0 2.0 0 1 0-4.0 0a2.0 2.0 0 1 0 4.0 0M479.3 606.6a2.0 2.0 0 1 0-4.0 0a2.0 2.0 0 1 0 4.0 0M479.3 608.2a2.0 2.0 0 1 0-4.0 0a2.0 2.0 0 1 0 4.0 0M479.3 609.9a2.0 2.0 0 1 0-4.0 0a2.0 2.0 0 1 0 4.0 0M479.3 611.7a2.0 2.0 0 1 0-4.0 0a2.0 2.0 0 1 0 4.0 0M479.3 613.6a2.0 2.0 0 1 0-4.0 0a2.0 2.0 0 1 0 4.0 0M479.3 615.6a2.0 2.0 0 1 0-4.0 0a2.0 2.0 0 1 0 4.0 0M479.3 617.8a2.0 2.0 0 1 0-4.0 0a2.0 2.0 0 1 0 4.0 0M479.3 620.2a2.0 2.0 0 1 0-4.0 0a2.0 2.0 0 1 0 4.0 0M479.3 622.7a2.0 2.0 0 1 0-4.0 0a2.0 2.0 0 1 0 4.0 0M479.3 625.5a2.0 2.0 0 1 0-4.0 0a2.0 2.0 0 1 0 4.0 0M479.3 628.5a2.0 2.0 0 1 0-4.0 0a2.0 2.0 0 1 0 4.0 0M479.3 631.9a2.0 2.0 0 1 0-4.0 0a2.0 2.0 0 1 0 4.0 0M479.3 635.8a2.0 2.0 0 1 0-4.0 0a2.0 2.0 0 1 0 4.0 0M479.3 640.1a2.0 2.0 0 1 0-4.0 0a2.0 2.0 0 1 0 4.0 0M479.3 645.2a2.0 2.0 0 1 0-4.0 0a2.0 2.0 0 1 0 4.0 0M479.3 651.4a2.0 2.0 0 1 0-4.0 0a2.0 2.0 0 1 0 4.0 0M479.3 659.1a2.0 2.0 0 1 0-4.0 0a2.0 2.0 0 1 0 4.0 0M485.0 503.7a2.0 2.0 0 1 0-4.0 0a2.0 2.0 0 1 0 4.0 0M485.0 505.1a2.0 2.0 0 1 0-4.0 0a2.0 2.0 0 1 0 4.0 0M485.0 527.7a2.0 2.0 0 1 0-4.0 0a2.0 2.0 0 1 0 4.0 0M485.0 528.1a2.0 2.0 0 1 0-4.0 0a2.0 2.0 0 1 0 4.0 0M485.0 529.1a2.0 2.0 0 1 0-4.0 0a2.0 2.0 0 1 0 4.0 0M485.0 529.5a2.0 2.0 0 1 0-4.0 0a2.0 2.0 0 1 0 4.0 0M485.0 531.4a2.0 2.0 0 1 0-4.0 0a2.0 2.0 0 1 0 4.0 0M485.0 532.0a2.0 2.0 0 1 0-4.0 0a2.0 2.0 0 1 0 4.0 0M485.0 533.4a2.0 2.0 0 1 0-4.0 0a2.0 2.0 0 1 0 4.0 0M485.0 534.5a2.0 2.0 0 1 0-4.0 0a2.0 2.0 0 1 0 4.0 0M485.0 535.4a2.0 2.0 0 1 0-4.0 0a2.0 2.0 0 1 0 4.0 0M485.0 536.5a2.0 2.0 0 1 0-4.0 0a2.0 2.0 0 1 0 4.0 0M485.0 537.8a2.0 2.0 0 1 0-4.0 0a2.0 2.0 0 1 0 4.0 0M485.0 539.1a2.0 2.0 0 1 0-4.0 0a2.0 2.0 0 1 0 4.0 0M485.0 540.1a2.0 2.0 0 1 0-4.0 0a2.0 2.0 0 1 0 4.0 0M485.0 542.5a2.0 2.0 0 1 0-4.0 0a2.0 2.0 0 1 0 4.0 0M485.0 544.1a2.0 2.0 0 1 0-4.0 0a2.0 2.0 0 1 0 4.0 0M485.0 545.5a2.0 2.0 0 1 0-4.0 0a2.0 2.0 0 1 0 4.0 0M485.0 547.0a2.0 2.0 0 1 0-4.0 0a2.0 2.0 0 1 0 4.0 0M485.0 548.6a2.0 2.0 0 1 0-4.0 0a2.0 2.0 0 1 0 4.0 0M485.0 550.0a2.0 2.0 0 1 0-4.0 0a2.0 2.0 0 1 0 4.0 0M485.0 551.5a2.0 2.0 0 1 0-4.0 0a2.0 2.0 0 1 0 4.0 0M485.0 552.2a2.0 2.0 0 1 0-4.0 0a2.0 2.0 0 1 0 4.0 0M485.0 553.3a2.0 2.0 0 1 0-4.0 0a2.0 2.0 0 1 0 4.0 0M485.0 554.7a2.0 2.0 0 1 0-4.0 0a2.0 2.0 0 1 0 4.0 0M485.0 555.8a2.0 2.0 0 1 0-4.0 0a2.0 2.0 0 1 0 4.0 0M485.0 557.0a2.0 2.0 0 1 0-4.0 0a2.0 2.0 0 1 0 4.0 0M485.0 558.3a2.0 2.0 0 1 0-4.0 0a2.0 2.0 0 1 0 4.0 0M485.0 559.6a2.0 2.0 0 1 0-4.0 0a2.0 2.0 0 1 0 4.0 0M485.0 560.6a2.0 2.0 0 1 0-4.0 0a2.0 2.0 0 1 0 4.0 0M485.0 561.3a2.0 2.0 0 1 0-4.0 0a2.0 2.0 0 1 0 4.0 0M485.0 562.7a2.0 2.0 0 1 0-4.0 0a2.0 2.0 0 1 0 4.0 0M485.0 564.2a2.0 2.0 0 1 0-4.0 0a2.0 2.0 0 1 0 4.0 0M485.0 565.4a2.0 2.0 0 1 0-4.0 0a2.0 2.0 0 1 0 4.0 0M485.0 567.1a2.0 2.0 0 1 0-4.0 0a2.0 2.0 0 1 0 4.0 0M485.0 568.4a2.0 2.0 0 1 0-4.0 0a2.0 2.0 0 1 0 4.0 0M485.0 568.8a2.0 2.0 0 1 0-4.0 0a2.0 2.0 0 1 0 4.0 0M485.0 570.2a2.0 2.0 0 1 0-4.0 0a2.0 2.0 0 1 0 4.0 0M485.0 571.7a2.0 2.0 0 1 0-4.0 0a2.0 2.0 0 1 0 4.0 0M485.0 572.2a2.0 2.0 0 1 0-4.0 0a2.0 2.0 0 1 0 4.0 0M485.0 573.7a2.0 2.0 0 1 0-4.0 0a2.0 2.0 0 1 0 4.0 0M485.0 574.2a2.0 2.0 0 1 0-4.0 0a2.0 2.0 0 1 0 4.0 0M485.0 575.4a2.0 2.0 0 1 0-4.0 0a2.0 2.0 0 1 0 4.0 0M485.0 575.9a2.0 2.0 0 1 0-4.0 0a2.0 2.0 0 1 0 4.0 0M485.0 577.1a2.0 2.0 0 1 0-4.0 0a2.0 2.0 0 1 0 4.0 0M485.0 577.7a2.0 2.0 0 1 0-4.0 0a2.0 2.0 0 1 0 4.0 0M485.0 578.9a2.0 2.0 0 1 0-4.0 0a2.0 2.0 0 1 0 4.0 0M485.0 580.2a2.0 2.0 0 1 0-4.0 0a2.0 2.0 0 1 0 4.0 0M485.0 581.5a2.0 2.0 0 1 0-4.0 0a2.0 2.0 0 1 0 4.0 0M485.0 582.9a2.0 2.0 0 1 0-4.0 0a2.0 2.0 0 1 0 4.0 0M485.0 584.4a2.0 2.0 0 1 0-4.0 0a2.0 2.0 0 1 0 4.0 0M485.0 585.1a2.0 2.0 0 1 0-4.0 0a2.0 2.0 0 1 0 4.0 0M485.0 585.9a2.0 2.0 0 1 0-4.0 0a2.0 2.0 0 1 0 4.0 0M485.0 587.5a2.0 2.0 0 1 0-4.0 0a2.0 2.0 0 1 0 4.0 0M485.0 588.4a2.0 2.0 0 1 0-4.0 0a2.0 2.0 0 1 0 4.0 0M485.0 589.3a2.0 2.0 0 1 0-4.0 0a2.0 2.0 0 1 0 4.0 0M485.0 590.1a2.0 2.0 0 1 0-4.0 0a2.0 2.0 0 1 0 4.0 0M485.0 591.1a2.0 2.0 0 1 0-4.0 0a2.0 2.0 0 1 0 4.0 0M485.0 592.0a2.0 2.0 0 1 0-4.0 0a2.0 2.0 0 1 0 4.0 0M485.0 593.0a2.0 2.0 0 1 0-4.0 0a2.0 2.0 0 1 0 4.0 0M485.0 594.0a2.0 2.0 0 1 0-4.0 0a2.0 2.0 0 1 0 4.0 0M485.0 595.1a2.0 2.0 0 1 0-4.0 0a2.0 2.0 0 1 0 4.0 0M485.0 596.2a2.0 2.0 0 1 0-4.0 0a2.0 2.0 0 1 0 4.0 0M485.0 597.3a2.0 2.0 0 1 0-4.0 0a2.0 2.0 0 1 0 4.0 0M485.0 598.5a2.0 2.0 0 1 0-4.0 0a2.0 2.0 0 1 0 4.0 0M485.0 599.7a2.0 2.0 0 1 0-4.0 0a2.0 2.0 0 1 0 4.0 0M485.0 600.9a2.0 2.0 0 1 0-4.0 0a2.0 2.0 0 1 0 4.0 0M485.0 602.3a2.0 2.0 0 1 0-4.0 0a2.0 2.0 0 1 0 4.0 0M485.0 603.6a2.0 2.0 0 1 0-4.0 0a2.0 2.0 0 1 0 4.0 0M485.0 605.1a2.0 2.0 0 1 0-4.0 0a2.0 2.0 0 1 0 4.0 0M485.0 606.6a2.0 2.0 0 1 0-4.0 0a2.0 2.0 0 1 0 4.0 0M485.0 608.2a2.0 2.0 0 1 0-4.0 0a2.0 2.0 0 1 0 4.0 0M485.0 609.9a2.0 2.0 0 1 0-4.0 0a2.0 2.0 0 1 0 4.0 0M485.0 611.7a2.0 2.0 0 1 0-4.0 0a2.0 2.0 0 1 0 4.0 0M485.0 613.6a2.0 2.0 0 1 0-4.0 0a2.0 2.0 0 1 0 4.0 0M485.0 615.6a2.0 2.0 0 1 0-4.0 0a2.0 2.0 0 1 0 4.0 0M485.0 617.8a2.0 2.0 0 1 0-4.0 0a2.0 2.0 0 1 0 4.0 0M485.0 620.2a2.0 2.0 0 1 0-4.0 0a2.0 2.0 0 1 0 4.0 0M485.0 622.7a2.0 2.0 0 1 0-4.0 0a2.0 2.0 0 1 0 4.0 0M485.0 625.5a2.0 2.0 0 1 0-4.0 0a2.0 2.0 0 1 0 4.0 0M485.0 628.5a2.0 2.0 0 1 0-4.0 0a2.0 2.0 0 1 0 4.0 0M485.0 631.9a2.0 2.0 0 1 0-4.0 0a2.0 2.0 0 1 0 4.0 0M485.0 635.8a2.0 2.0 0 1 0-4.0 0a2.0 2.0 0 1 0 4.0 0M485.0 640.1a2.0 2.0 0 1 0-4.0 0a2.0 2.0 0 1 0 4.0 0M485.0 645.2a2.0 2.0 0 1 0-4.0 0a2.0 2.0 0 1 0 4.0 0M485.0 651.4a2.0 2.0 0 1 0-4.0 0a2.0 2.0 0 1 0 4.0 0M485.0 659.1a2.0 2.0 0 1 0-4.0 0a2.0 2.0 0 1 0 4.0 0M489.8 506.3a2.0 2.0 0 1 0-4.0 0a2.0 2.0 0 1 0 4.0 0M489.8 520.1a2.0 2.0 0 1 0-4.0 0a2.0 2.0 0 1 0 4.0 0M489.8 524.4a2.0 2.0 0 1 0-4.0 0a2.0 2.0 0 1 0 4.0 0M489.8 528.7a2.0 2.0 0 1 0-4.0 0a2.0 2.0 0 1 0 4.0 0M489.8 529.7a2.0 2.0 0 1 0-4.0 0a2.0 2.0 0 1 0 4.0 0M489.8 532.0a2.0 2.0 0 1 0-4.0 0a2.0 2.0 0 1 0 4.0 0M489.8 534.4a2.0 2.0 0 1 0-4.0 0a2.0 2.0 0 1 0 4.0 0M489.8 608.2a2.0 2.0 0 1 0-4.0 0a2.0 2.0 0 1 0 4.0 0M489.8 609.9a2.0 2.0 0 1 0-4.0 0a2.0 2.0 0 1 0 4.0 0M489.8 611.7a2.0 2.0 0 1 0-4.0 0a2.0 2.0 0 1 0 4.0 0M489.8 613.6a2.0 2.0 0 1 0-4.0 0a2.0 2.0 0 1 0 4.0 0M489.8 615.6a2.0 2.0 0 1 0-4.0 0a2.0 2.0 0 1 0 4.0 0M489.8 617.8a2.0 2.0 0 1 0-4.0 0a2.0 2.0 0 1 0 4.0 0M489.8 620.2a2.0 2.0 0 1 0-4.0 0a2.0 2.0 0 1 0 4.0 0M489.8 622.7a2.0 2.0 0 1 0-4.0 0a2.0 2.0 0 1 0 4.0 0M489.8 625.5a2.0 2.0 0 1 0-4.0 0a2.0 2.0 0 1 0 4.0 0M489.8 628.5a2.0 2.0 0 1 0-4.0 0a2.0 2.0 0 1 0 4.0 0M489.8 631.9a2.0 2.0 0 1 0-4.0 0a2.0 2.0 0 1 0 4.0 0M489.8 635.8a2.0 2.0 0 1 0-4.0 0a2.0 2.0 0 1 0 4.0 0M489.8 640.1a2.0 2.0 0 1 0-4.0 0a2.0 2.0 0 1 0 4.0 0M489.8 645.2a2.0 2.0 0 1 0-4.0 0a2.0 2.0 0 1 0 4.0 0M489.8 651.4a2.0 2.0 0 1 0-4.0 0a2.0 2.0 0 1 0 4.0 0M489.8 659.1a2.0 2.0 0 1 0-4.0 0a2.0 2.0 0 1 0 4.0 0M493.9 501.7a2.0 2.0 0 1 0-4.0 0a2.0 2.0 0 1 0 4.0 0M493.9 514.9a2.0 2.0 0 1 0-4.0 0a2.0 2.0 0 1 0 4.0 0M493.9 516.3a2.0 2.0 0 1 0-4.0 0a2.0 2.0 0 1 0 4.0 0M493.9 525.6a2.0 2.0 0 1 0-4.0 0a2.0 2.0 0 1 0 4.0 0M493.9 528.6a2.0 2.0 0 1 0-4.0 0a2.0 2.0 0 1 0 4.0 0M493.9 530.5a2.0 2.0 0 1 0-4.0 0a2.0 2.0 0 1 0 4.0 0M493.9 534.0a2.0 2.0 0 1 0-4.0 0a2.0 2.0 0 1 0 4.0 0M493.9 536.5a2.0 2.0 0 1 0-4.0 0a2.0 2.0 0 1 0 4.0 0M493.9 608.2a2.0 2.0 0 1 0-4.0 0a2.0 2.0 0 1 0 4.0 0M493.9 609.9a2.0 2.0 0 1 0-4.0 0a2.0 2.0 0 1 0 4.0 0M493.9 611.7a2.0 2.0 0 1 0-4.0 0a2.0 2.0 0 1 0 4.0 0M493.9 613.6a2.0 2.0 0 1 0-4.0 0a2.0 2.0 0 1 0 4.0 0M493.9 615.6a2.0 2.0 0 1 0-4.0 0a2.0 2.0 0 1 0 4.0 0M493.9 617.8a2.0 2.0 0 1 0-4.0 0a2.0 2.0 0 1 0 4.0 0M493.9 620.2a2.0 2.0 0 1 0-4.0 0a2.0 2.0 0 1 0 4.0 0M493.9 622.7a2.0 2.0 0 1 0-4.0 0a2.0 2.0 0 1 0 4.0 0M493.9 625.5a2.0 2.0 0 1 0-4.0 0a2.0 2.0 0 1 0 4.0 0M493.9 628.5a2.0 2.0 0 1 0-4.0 0a2.0 2.0 0 1 0 4.0 0M493.9 631.9a2.0 2.0 0 1 0-4.0 0a2.0 2.0 0 1 0 4.0 0M493.9 635.8a2.0 2.0 0 1 0-4.0 0a2.0 2.0 0 1 0 4.0 0M493.9 640.1a2.0 2.0 0 1 0-4.0 0a2.0 2.0 0 1 0 4.0 0M493.9 645.2a2.0 2.0 0 1 0-4.0 0a2.0 2.0 0 1 0 4.0 0M493.9 651.4a2.0 2.0 0 1 0-4.0 0a2.0 2.0 0 1 0 4.0 0M493.9 659.1a2.0 2.0 0 1 0-4.0 0a2.0 2.0 0 1 0 4.0 0M497.6 490.0a2.0 2.0 0 1 0-4.0 0a2.0 2.0 0 1 0 4.0 0M497.6 501.6a2.0 2.0 0 1 0-4.0 0a2.0 2.0 0 1 0 4.0 0M497.6 508.7a2.0 2.0 0 1 0-4.0 0a2.0 2.0 0 1 0 4.0 0M497.6 508.7a2.0 2.0 0 1 0-4.0 0a2.0 2.0 0 1 0 4.0 0M497.6 512.7a2.0 2.0 0 1 0-4.0 0a2.0 2.0 0 1 0 4.0 0M497.6 512.9a2.0 2.0 0 1 0-4.0 0a2.0 2.0 0 1 0 4.0 0M497.6 515.8a2.0 2.0 0 1 0-4.0 0a2.0 2.0 0 1 0 4.0 0M497.6 517.2a2.0 2.0 0 1 0-4.0 0a2.0 2.0 0 1 0 4.0 0M497.6 518.8a2.0 2.0 0 1 0-4.0 0a2.0 2.0 0 1 0 4.0 0M497.6 520.4a2.0 2.0 0 1 0-4.0 0a2.0 2.0 0 1 0 4.0 0M497.6 521.1a2.0 2.0 0 1 0-4.0 0a2.0 2.0 0 1 0 4.0 0M497.6 524.1a2.0 2.0 0 1 0-4.0 0a2.0 2.0 0 1 0 4.0 0M497.6 525.7a2.0 2.0 0 1 0-4.0 0a2.0 2.0 0 1 0 4.0 0M497.6 531.0a2.0 2.0 0 1 0-4.0 0a2.0 2.0 0 1 0 4.0 0M497.6 533.8a2.0 2.0 0 1 0-4.0 0a2.0 2.0 0 1 0 4.0 0M497.6 599.7a2.0 2.0 0 1 0-4.0 0a2.0 2.0 0 1 0 4.0 0M497.6 600.9a2.0 2.0 0 1 0-4.0 0a2.0 2.0 0 1 0 4.0 0M497.6 603.6a2.0 2.0 0 1 0-4.0 0a2.0 2.0 0 1 0 4.0 0M497.6 608.2a2.0 2.0 0 1 0-4.0 0a2.0 2.0 0 1 0 4.0 0M497.6 609.9a2.0 2.0 0 1 0-4.0 0a2.0 2.0 0 1 0 4.0 0M497.6 611.7a2.0 2.0 0 1 0-4.0 0a2.0 2.0 0 1 0 4.0 0M497.6 613.6a2.0 2.0 0 1 0-4.0 0a2.0 2.0 0 1 0 4.0 0M497.6 615.6a2.0 2.0 0 1 0-4.0 0a2.0 2.0 0 1 0 4.0 0M497.6 617.8a2.0 2.0 0 1 0-4.0 0a2.0 2.0 0 1 0 4.0 0M497.6 620.2a2.0 2.0 0 1 0-4.0 0a2.0 2.0 0 1 0 4.0 0M497.6 622.7a2.0 2.0 0 1 0-4.0 0a2.0 2.0 0 1 0 4.0 0M497.6 625.5a2.0 2.0 0 1 0-4.0 0a2.0 2.0 0 1 0 4.0 0M497.6 628.5a2.0 2.0 0 1 0-4.0 0a2.0 2.0 0 1 0 4.0 0M497.6 631.9a2.0 2.0 0 1 0-4.0 0a2.0 2.0 0 1 0 4.0 0M497.6 635.8a2.0 2.0 0 1 0-4.0 0a2.0 2.0 0 1 0 4.0 0M497.6 640.1a2.0 2.0 0 1 0-4.0 0a2.0 2.0 0 1 0 4.0 0M497.6 645.2a2.0 2.0 0 1 0-4.0 0a2.0 2.0 0 1 0 4.0 0M497.6 651.4a2.0 2.0 0 1 0-4.0 0a2.0 2.0 0 1 0 4.0 0M497.6 659.1a2.0 2.0 0 1 0-4.0 0a2.0 2.0 0 1 0 4.0 0M500.9 490.7a2.0 2.0 0 1 0-4.0 0a2.0 2.0 0 1 0 4.0 0M500.9 498.1a2.0 2.0 0 1 0-4.0 0a2.0 2.0 0 1 0 4.0 0M500.9 507.4a2.0 2.0 0 1 0-4.0 0a2.0 2.0 0 1 0 4.0 0M500.9 510.6a2.0 2.0 0 1 0-4.0 0a2.0 2.0 0 1 0 4.0 0M500.9 513.9a2.0 2.0 0 1 0-4.0 0a2.0 2.0 0 1 0 4.0 0M500.9 514.5a2.0 2.0 0 1 0-4.0 0a2.0 2.0 0 1 0 4.0 0M500.9 520.1a2.0 2.0 0 1 0-4.0 0a2.0 2.0 0 1 0 4.0 0M500.9 521.7a2.0 2.0 0 1 0-4.0 0a2.0 2.0 0 1 0 4.0 0M500.9 522.2a2.0 2.0 0 1 0-4.0 0a2.0 2.0 0 1 0 4.0 0M500.9 608.2a2.0 2.0 0 1 0-4.0 0a2.0 2.0 0 1 0 4.0 0M500.9 609.9a2.0 2.0 0 1 0-4.0 0a2.0 2.0 0 1 0 4.0 0M500.9 611.7a2.0 2.0 0 1 0-4.0 0a2.0 2.0 0 1 0 4.0 0M500.9 613.6a2.0 2.0 0 1 0-4.0 0a2.0 2.0 0 1 0 4.0 0M500.9 615.6a2.0 2.0 0 1 0-4.0 0a2.0 2.0 0 1 0 4.0 0M500.9 617.8a2.0 2.0 0 1 0-4.0 0a2.0 2.0 0 1 0 4.0 0M500.9 620.2a2.0 2.0 0 1 0-4.0 0a2.0 2.0 0 1 0 4.0 0M500.9 622.7a2.0 2.0 0 1 0-4.0 0a2.0 2.0 0 1 0 4.0 0M500.9 625.5a2.0 2.0 0 1 0-4.0 0a2.0 2.0 0 1 0 4.0 0M500.9 628.5a2.0 2.0 0 1 0-4.0 0a2.0 2.0 0 1 0 4.0 0M500.9 631.9a2.0 2.0 0 1 0-4.0 0a2.0 2.0 0 1 0 4.0 0M500.9 635.8a2.0 2.0 0 1 0-4.0 0a2.0 2.0 0 1 0 4.0 0M500.9 640.1a2.0 2.0 0 1 0-4.0 0a2.0 2.0 0 1 0 4.0 0M500.9 645.2a2.0 2.0 0 1 0-4.0 0a2.0 2.0 0 1 0 4.0 0M500.9 651.4a2.0 2.0 0 1 0-4.0 0a2.0 2.0 0 1 0 4.0 0M500.9 659.1a2.0 2.0 0 1 0-4.0 0a2.0 2.0 0 1 0 4.0 0M503.9 482.1a2.0 2.0 0 1 0-4.0 0a2.0 2.0 0 1 0 4.0 0M503.9 493.7a2.0 2.0 0 1 0-4.0 0a2.0 2.0 0 1 0 4.0 0M503.9 499.9a2.0 2.0 0 1 0-4.0 0a2.0 2.0 0 1 0 4.0 0M503.9 510.1a2.0 2.0 0 1 0-4.0 0a2.0 2.0 0 1 0 4.0 0M503.9 513.0a2.0 2.0 0 1 0-4.0 0a2.0 2.0 0 1 0 4.0 0M503.9 515.6a2.0 2.0 0 1 0-4.0 0a2.0 2.0 0 1 0 4.0 0M503.9 519.4a2.0 2.0 0 1 0-4.0 0a2.0 2.0 0 1 0 4.0 0M503.9 521.9a2.0 2.0 0 1 0-4.0 0a2.0 2.0 0 1 0 4.0 0M503.9 523.7a2.0 2.0 0 1 0-4.0 0a2.0 2.0 0 1 0 4.0 0M503.9 525.1a2.0 2.0 0 1 0-4.0 0a2.0 2.0 0 1 0 4.0 0M503.9 609.9a2.0 2.0 0 1 0-4.0 0a2.0 2.0 0 1 0 4.0 0M503.9 611.7a2.0 2.0 0 1 0-4.0 0a2.0 2.0 0 1 0 4.0 0M503.9 613.6a2.0 2.0 0 1 0-4.0 0a2.0 2.0 0 1 0 4.0 0M503.9 615.6a2.0 2.0 0 1 0-4.0 0a2.0 2.0 0 1 0 4.0 0M503.9 617.8a2.0 2.0 0 1 0-4.0 0a2.0 2.0 0 1 0 4.0 0M503.9 620.2a2.0 2.0 0 1 0-4.0 0a2.0 2.0 0 1 0 4.0 0M503.9 622.7a2.0 2.0 0 1 0-4.0 0a2.0 2.0 0 1 0 4.0 0M503.9 625.5a2.0 2.0 0 1 0-4.0 0a2.0 2.0 0 1 0 4.0 0M503.9 628.5a2.0 2.0 0 1 0-4.0 0a2.0 2.0 0 1 0 4.0 0M503.9 631.9a2.0 2.0 0 1 0-4.0 0a2.0 2.0 0 1 0 4.0 0M503.9 635.8a2.0 2.0 0 1 0-4.0 0a2.0 2.0 0 1 0 4.0 0M503.9 640.1a2.0 2.0 0 1 0-4.0 0a2.0 2.0 0 1 0 4.0 0M503.9 645.2a2.0 2.0 0 1 0-4.0 0a2.0 2.0 0 1 0 4.0 0M503.9 651.4a2.0 2.0 0 1 0-4.0 0a2.0 2.0 0 1 0 4.0 0M503.9 659.1a2.0 2.0 0 1 0-4.0 0a2.0 2.0 0 1 0 4.0 0M506.6 494.1a2.0 2.0 0 1 0-4.0 0a2.0 2.0 0 1 0 4.0 0M506.6 506.6a2.0 2.0 0 1 0-4.0 0a2.0 2.0 0 1 0 4.0 0M506.6 516.3a2.0 2.0 0 1 0-4.0 0a2.0 2.0 0 1 0 4.0 0M506.6 517.7a2.0 2.0 0 1 0-4.0 0a2.0 2.0 0 1 0 4.0 0M506.6 609.9a2.0 2.0 0 1 0-4.0 0a2.0 2.0 0 1 0 4.0 0M506.6 611.7a2.0 2.0 0 1 0-4.0 0a2.0 2.0 0 1 0 4.0 0M506.6 615.6a2.0 2.0 0 1 0-4.0 0a2.0 2.0 0 1 0 4.0 0M506.6 617.8a2.0 2.0 0 1 0-4.0 0a2.0 2.0 0 1 0 4.0 0M506.6 620.2a2.0 2.0 0 1 0-4.0 0a2.0 2.0 0 1 0 4.0 0M506.6 622.7a2.0 2.0 0 1 0-4.0 0a2.0 2.0 0 1 0 4.0 0M506.6 625.5a2.0 2.0 0 1 0-4.0 0a2.0 2.0 0 1 0 4.0 0M506.6 628.5a2.0 2.0 0 1 0-4.0 0a2.0 2.0 0 1 0 4.0 0M506.6 631.9a2.0 2.0 0 1 0-4.0 0a2.0 2.0 0 1 0 4.0 0M506.6 635.8a2.0 2.0 0 1 0-4.0 0a2.0 2.0 0 1 0 4.0 0M506.6 640.1a2.0 2.0 0 1 0-4.0 0a2.0 2.0 0 1 0 4.0 0M506.6 645.2a2.0 2.0 0 1 0-4.0 0a2.0 2.0 0 1 0 4.0 0M506.6 651.4a2.0 2.0 0 1 0-4.0 0a2.0 2.0 0 1 0 4.0 0M506.6 659.1a2.0 2.0 0 1 0-4.0 0a2.0 2.0 0 1 0 4.0 0M509.2 506.3a2.0 2.0 0 1 0-4.0 0a2.0 2.0 0 1 0 4.0 0M509.2 506.9a2.0 2.0 0 1 0-4.0 0a2.0 2.0 0 1 0 4.0 0M509.2 509.2a2.0 2.0 0 1 0-4.0 0a2.0 2.0 0 1 0 4.0 0M509.2 513.2a2.0 2.0 0 1 0-4.0 0a2.0 2.0 0 1 0 4.0 0M509.2 514.5a2.0 2.0 0 1 0-4.0 0a2.0 2.0 0 1 0 4.0 0M509.2 517.6a2.0 2.0 0 1 0-4.0 0a2.0 2.0 0 1 0 4.0 0M509.2 611.7a2.0 2.0 0 1 0-4.0 0a2.0 2.0 0 1 0 4.0 0M509.2 613.6a2.0 2.0 0 1 0-4.0 0a2.0 2.0 0 1 0 4.0 0M509.2 615.6a2.0 2.0 0 1 0-4.0 0a2.0 2.0 0 1 0 4.0 0M509.2 617.8a2.0 2.0 0 1 0-4.0 0a2.0 2.0 0 1 0 4.0 0M509.2 625.5a2.0 2.0 0 1 0-4.0 0a2.0 2.0 0 1 0 4.0 0M509.2 628.5a2.0 2.0 0 1 0-4.0 0a2.0 2.0 0 1 0 4.0 0M509.2 631.9a2.0 2.0 0 1 0-4.0 0a2.0 2.0 0 1 0 4.0 0M509.2 635.8a2.0 2.0 0 1 0-4.0 0a2.0 2.0 0 1 0 4.0 0M509.2 640.1a2.0 2.0 0 1 0-4.0 0a2.0 2.0 0 1 0 4.0 0M509.2 645.2a2.0 2.0 0 1 0-4.0 0a2.0 2.0 0 1 0 4.0 0M509.2 651.4a2.0 2.0 0 1 0-4.0 0a2.0 2.0 0 1 0 4.0 0M509.2 659.1a2.0 2.0 0 1 0-4.0 0a2.0 2.0 0 1 0 4.0 0M511.5 492.9a2.0 2.0 0 1 0-4.0 0a2.0 2.0 0 1 0 4.0 0M511.5 506.1a2.0 2.0 0 1 0-4.0 0a2.0 2.0 0 1 0 4.0 0M511.5 611.7a2.0 2.0 0 1 0-4.0 0a2.0 2.0 0 1 0 4.0 0M511.5 617.8a2.0 2.0 0 1 0-4.0 0a2.0 2.0 0 1 0 4.0 0M511.5 622.7a2.0 2.0 0 1 0-4.0 0a2.0 2.0 0 1 0 4.0 0M511.5 625.5a2.0 2.0 0 1 0-4.0 0a2.0 2.0 0 1 0 4.0 0M511.5 635.8a2.0 2.0 0 1 0-4.0 0a2.0 2.0 0 1 0 4.0 0M511.5 640.1a2.0 2.0 0 1 0-4.0 0a2.0 2.0 0 1 0 4.0 0M511.5 645.2a2.0 2.0 0 1 0-4.0 0a2.0 2.0 0 1 0 4.0 0M511.5 651.4a2.0 2.0 0 1 0-4.0 0a2.0 2.0 0 1 0 4.0 0M511.5 659.1a2.0 2.0 0 1 0-4.0 0a2.0 2.0 0 1 0 4.0 0M513.7 476.1a2.0 2.0 0 1 0-4.0 0a2.0 2.0 0 1 0 4.0 0M513.7 502.0a2.0 2.0 0 1 0-4.0 0a2.0 2.0 0 1 0 4.0 0M513.7 503.9a2.0 2.0 0 1 0-4.0 0a2.0 2.0 0 1 0 4.0 0M513.7 516.2a2.0 2.0 0 1 0-4.0 0a2.0 2.0 0 1 0 4.0 0M513.7 611.7a2.0 2.0 0 1 0-4.0 0a2.0 2.0 0 1 0 4.0 0M513.7 613.6a2.0 2.0 0 1 0-4.0 0a2.0 2.0 0 1 0 4.0 0M513.7 617.8a2.0 2.0 0 1 0-4.0 0a2.0 2.0 0 1 0 4.0 0M513.7 620.2a2.0 2.0 0 1 0-4.0 0a2.0 2.0 0 1 0 4.0 0M513.7 631.9a2.0 2.0 0 1 0-4.0 0a2.0 2.0 0 1 0 4.0 0M513.7 635.8a2.0 2.0 0 1 0-4.0 0a2.0 2.0 0 1 0 4.0 0M513.7 640.1a2.0 2.0 0 1 0-4.0 0a2.0 2.0 0 1 0 4.0 0M513.7 645.2a2.0 2.0 0 1 0-4.0 0a2.0 2.0 0 1 0 4.0 0M513.7 651.4a2.0 2.0 0 1 0-4.0 0a2.0 2.0 0 1 0 4.0 0M513.7 659.1a2.0 2.0 0 1 0-4.0 0a2.0 2.0 0 1 0 4.0 0M515.7 493.1a2.0 2.0 0 1 0-4.0 0a2.0 2.0 0 1 0 4.0 0M515.7 498.8a2.0 2.0 0 1 0-4.0 0a2.0 2.0 0 1 0 4.0 0M515.7 511.3a2.0 2.0 0 1 0-4.0 0a2.0 2.0 0 1 0 4.0 0M515.7 511.4a2.0 2.0 0 1 0-4.0 0a2.0 2.0 0 1 0 4.0 0M515.7 609.9a2.0 2.0 0 1 0-4.0 0a2.0 2.0 0 1 0 4.0 0M515.7 611.7a2.0 2.0 0 1 0-4.0 0a2.0 2.0 0 1 0 4.0 0M515.7 617.8a2.0 2.0 0 1 0-4.0 0a2.0 2.0 0 1 0 4.0 0M515.7 622.7a2.0 2.0 0 1 0-4.0 0a2.0 2.0 0 1 0 4.0 0M515.7 625.5a2.0 2.0 0 1 0-4.0 0a2.0 2.0 0 1 0 4.0 0M515.7 640.1a2.0 2.0 0 1 0-4.0 0a2.0 2.0 0 1 0 4.0 0M515.7 645.2a2.0 2.0 0 1 0-4.0 0a2.0 2.0 0 1 0 4.0 0M515.7 651.4a2.0 2.0 0 1 0-4.0 0a2.0 2.0 0 1 0 4.0 0M515.7 659.1a2.0 2.0 0 1 0-4.0 0a2.0 2.0 0 1 0 4.0 0M517.6 494.0a2.0 2.0 0 1 0-4.0 0a2.0 2.0 0 1 0 4.0 0M517.6 500.2a2.0 2.0 0 1 0-4.0 0a2.0 2.0 0 1 0 4.0 0M517.6 502.2a2.0 2.0 0 1 0-4.0 0a2.0 2.0 0 1 0 4.0 0M517.6 503.0a2.0 2.0 0 1 0-4.0 0a2.0 2.0 0 1 0 4.0 0M517.6 507.2a2.0 2.0 0 1 0-4.0 0a2.0 2.0 0 1 0 4.0 0M517.6 512.1a2.0 2.0 0 1 0-4.0 0a2.0 2.0 0 1 0 4.0 0M517.6 606.6a2.0 2.0 0 1 0-4.0 0a2.0 2.0 0 1 0 4.0 0M517.6 611.7a2.0 2.0 0 1 0-4.0 0a2.0 2.0 0 1 0 4.0 0M517.6 620.2a2.0 2.0 0 1 0-4.0 0a2.0 2.0 0 1 0 4.0 0M517.6 640.1a2.0 2.0 0 1 0-4.0 0a2.0 2.0 0 1 0 4.0 0M517.6 645.2a2.0 2.0 0 1 0-4.0 0a2.0 2.0 0 1 0 4.0 0M517.6 651.4a2.0 2.0 0 1 0-4.0 0a2.0 2.0 0 1 0 4.0 0M517.6 659.1a2.0 2.0 0 1 0-4.0 0a2.0 2.0 0 1 0 4.0 0M519.4 502.0a2.0 2.0 0 1 0-4.0 0a2.0 2.0 0 1 0 4.0 0M519.4 502.1a2.0 2.0 0 1 0-4.0 0a2.0 2.0 0 1 0 4.0 0M519.4 507.9a2.0 2.0 0 1 0-4.0 0a2.0 2.0 0 1 0 4.0 0M519.4 510.4a2.0 2.0 0 1 0-4.0 0a2.0 2.0 0 1 0 4.0 0M519.4 608.2a2.0 2.0 0 1 0-4.0 0a2.0 2.0 0 1 0 4.0 0M519.4 609.9a2.0 2.0 0 1 0-4.0 0a2.0 2.0 0 1 0 4.0 0M519.4 628.5a2.0 2.0 0 1 0-4.0 0a2.0 2.0 0 1 0 4.0 0M519.4 640.1a2.0 2.0 0 1 0-4.0 0a2.0 2.0 0 1 0 4.0 0M519.4 645.2a2.0 2.0 0 1 0-4.0 0a2.0 2.0 0 1 0 4.0 0M519.4 651.4a2.0 2.0 0 1 0-4.0 0a2.0 2.0 0 1 0 4.0 0M519.4 659.1a2.0 2.0 0 1 0-4.0 0a2.0 2.0 0 1 0 4.0 0M521.1 484.9a2.0 2.0 0 1 0-4.0 0a2.0 2.0 0 1 0 4.0 0M521.1 494.1a2.0 2.0 0 1 0-4.0 0a2.0 2.0 0 1 0 4.0 0M521.1 495.1a2.0 2.0 0 1 0-4.0 0a2.0 2.0 0 1 0 4.0 0M521.1 504.7a2.0 2.0 0 1 0-4.0 0a2.0 2.0 0 1 0 4.0 0M521.1 508.6a2.0 2.0 0 1 0-4.0 0a2.0 2.0 0 1 0 4.0 0M521.1 602.3a2.0 2.0 0 1 0-4.0 0a2.0 2.0 0 1 0 4.0 0M521.1 608.2a2.0 2.0 0 1 0-4.0 0a2.0 2.0 0 1 0 4.0 0M521.1 609.9a2.0 2.0 0 1 0-4.0 0a2.0 2.0 0 1 0 4.0 0M521.1 640.1a2.0 2.0 0 1 0-4.0 0a2.0 2.0 0 1 0 4.0 0M521.1 645.2a2.0 2.0 0 1 0-4.0 0a2.0 2.0 0 1 0 4.0 0M521.1 651.4a2.0 2.0 0 1 0-4.0 0a2.0 2.0 0 1 0 4.0 0M521.1 659.1a2.0 2.0 0 1 0-4.0 0a2.0 2.0 0 1 0 4.0 0M522.7 473.4a2.0 2.0 0 1 0-4.0 0a2.0 2.0 0 1 0 4.0 0M522.7 496.8a2.0 2.0 0 1 0-4.0 0a2.0 2.0 0 1 0 4.0 0M522.7 599.7a2.0 2.0 0 1 0-4.0 0a2.0 2.0 0 1 0 4.0 0M522.7 606.6a2.0 2.0 0 1 0-4.0 0a2.0 2.0 0 1 0 4.0 0M522.7 608.2a2.0 2.0 0 1 0-4.0 0a2.0 2.0 0 1 0 4.0 0M522.7 613.6a2.0 2.0 0 1 0-4.0 0a2.0 2.0 0 1 0 4.0 0M522.7 620.2a2.0 2.0 0 1 0-4.0 0a2.0 2.0 0 1 0 4.0 0M522.7 625.5a2.0 2.0 0 1 0-4.0 0a2.0 2.0 0 1 0 4.0 0M522.7 645.2a2.0 2.0 0 1 0-4.0 0a2.0 2.0 0 1 0 4.0 0M522.7 651.4a2.0 2.0 0 1 0-4.0 0a2.0 2.0 0 1 0 4.0 0M522.7 659.1a2.0 2.0 0 1 0-4.0 0a2.0 2.0 0 1 0 4.0 0M524.3 480.9a2.0 2.0 0 1 0-4.0 0a2.0 2.0 0 1 0 4.0 0M524.3 498.2a2.0 2.0 0 1 0-4.0 0a2.0 2.0 0 1 0 4.0 0M524.3 498.4a2.0 2.0 0 1 0-4.0 0a2.0 2.0 0 1 0 4.0 0M524.3 500.5a2.0 2.0 0 1 0-4.0 0a2.0 2.0 0 1 0 4.0 0M524.3 506.0a2.0 2.0 0 1 0-4.0 0a2.0 2.0 0 1 0 4.0 0M524.3 509.2a2.0 2.0 0 1 0-4.0 0a2.0 2.0 0 1 0 4.0 0M524.3 600.9a2.0 2.0 0 1 0-4.0 0a2.0 2.0 0 1 0 4.0 0M524.3 605.1a2.0 2.0 0 1 0-4.0 0a2.0 2.0 0 1 0 4.0 0M524.3 645.2a2.0 2.0 0 1 0-4.0 0a2.0 2.0 0 1 0 4.0 0M524.3 651.4a2.0 2.0 0 1 0-4.0 0a2.0 2.0 0 1 0 4.0 0M524.3 659.1a2.0 2.0 0 1 0-4.0 0a2.0 2.0 0 1 0 4.0 0M525.7 492.9a2.0 2.0 0 1 0-4.0 0a2.0 2.0 0 1 0 4.0 0M525.7 500.0a2.0 2.0 0 1 0-4.0 0a2.0 2.0 0 1 0 4.0 0M525.7 502.7a2.0 2.0 0 1 0-4.0 0a2.0 2.0 0 1 0 4.0 0M525.7 507.6a2.0 2.0 0 1 0-4.0 0a2.0 2.0 0 1 0 4.0 0M525.7 597.3a2.0 2.0 0 1 0-4.0 0a2.0 2.0 0 1 0 4.0 0M525.7 603.6a2.0 2.0 0 1 0-4.0 0a2.0 2.0 0 1 0 4.0 0M525.7 622.7a2.0 2.0 0 1 0-4.0 0a2.0 2.0 0 1 0 4.0 0M525.7 645.2a2.0 2.0 0 1 0-4.0 0a2.0 2.0 0 1 0 4.0 0M525.7 651.4a2.0 2.0 0 1 0-4.0 0a2.0 2.0 0 1 0 4.0 0M525.7 659.1a2.0 2.0 0 1 0-4.0 0a2.0 2.0 0 1 0 4.0 0M527.1 498.9a2.0 2.0 0 1 0-4.0 0a2.0 2.0 0 1 0 4.0 0M527.1 502.1a2.0 2.0 0 1 0-4.0 0a2.0 2.0 0 1 0 4.0 0M527.1 509.8a2.0 2.0 0 1 0-4.0 0a2.0 2.0 0 1 0 4.0 0M527.1 605.1a2.0 2.0 0 1 0-4.0 0a2.0 2.0 0 1 0 4.0 0M527.1 613.6a2.0 2.0 0 1 0-4.0 0a2.0 2.0 0 1 0 4.0 0M527.1 615.6a2.0 2.0 0 1 0-4.0 0a2.0 2.0 0 1 0 4.0 0M527.1 617.8a2.0 2.0 0 1 0-4.0 0a2.0 2.0 0 1 0 4.0 0M527.1 620.2a2.0 2.0 0 1 0-4.0 0a2.0 2.0 0 1 0 4.0 0M527.1 640.1a2.0 2.0 0 1 0-4.0 0a2.0 2.0 0 1 0 4.0 0M527.1 645.2a2.0 2.0 0 1 0-4.0 0a2.0 2.0 0 1 0 4.0 0M527.1 651.4a2.0 2.0 0 1 0-4.0 0a2.0 2.0 0 1 0 4.0 0M527.1 659.1a2.0 2.0 0 1 0-4.0 0a2.0 2.0 0 1 0 4.0 0M528.5 500.4a2.0 2.0 0 1 0-4.0 0a2.0 2.0 0 1 0 4.0 0M528.5 603.6a2.0 2.0 0 1 0-4.0 0a2.0 2.0 0 1 0 4.0 0M528.5 608.2a2.0 2.0 0 1 0-4.0 0a2.0 2.0 0 1 0 4.0 0M528.5 611.7a2.0 2.0 0 1 0-4.0 0a2.0 2.0 0 1 0 4.0 0M528.5 613.6a2.0 2.0 0 1 0-4.0 0a2.0 2.0 0 1 0 4.0 0M528.5 645.2a2.0 2.0 0 1 0-4.0 0a2.0 2.0 0 1 0 4.0 0M528.5 651.4a2.0 2.0 0 1 0-4.0 0a2.0 2.0 0 1 0 4.0 0M529.8 486.6a2.0 2.0 0 1 0-4.0 0a2.0 2.0 0 1 0 4.0 0M529.8 495.2a2.0 2.0 0 1 0-4.0 0a2.0 2.0 0 1 0 4.0 0M529.8 496.4a2.0 2.0 0 1 0-4.0 0a2.0 2.0 0 1 0 4.0 0M529.8 506.5a2.0 2.0 0 1 0-4.0 0a2.0 2.0 0 1 0 4.0 0M529.8 508.8a2.0 2.0 0 1 0-4.0 0a2.0 2.0 0 1 0 4.0 0M529.8 598.5a2.0 2.0 0 1 0-4.0 0a2.0 2.0 0 1 0 4.0 0M529.8 599.7a2.0 2.0 0 1 0-4.0 0a2.0 2.0 0 1 0 4.0 0M529.8 600.9a2.0 2.0 0 1 0-4.0 0a2.0 2.0 0 1 0 4.0 0M529.8 645.2a2.0 2.0 0 1 0-4.0 0a2.0 2.0 0 1 0 4.0 0M529.8 651.4a2.0 2.0 0 1 0-4.0 0a2.0 2.0 0 1 0 4.0 0M531.0 491.2a2.0 2.0 0 1 0-4.0 0a2.0 2.0 0 1 0 4.0 0M531.0 495.8a2.0 2.0 0 1 0-4.0 0a2.0 2.0 0 1 0 4.0 0M531.0 502.0a2.0 2.0 0 1 0-4.0 0a2.0 2.0 0 1 0 4.0 0M531.0 504.6a2.0 2.0 0 1 0-4.0 0a2.0 2.0 0 1 0 4.0 0M531.0 506.4a2.0 2.0 0 1 0-4.0 0a2.0 2.0 0 1 0 4.0 0M531.0 598.5a2.0 2.0 0 1 0-4.0 0a2.0 2.0 0 1 0 4.0 0M531.0 603.6a2.0 2.0 0 1 0-4.0 0a2.0 2.0 0 1 0 4.0 0M531.0 605.1a2.0 2.0 0 1 0-4.0 0a2.0 2.0 0 1 0 4.0 0M531.0 625.5a2.0 2.0 0 1 0-4.0 0a2.0 2.0 0 1 0 4.0 0M531.0 651.4a2.0 2.0 0 1 0-4.0 0a2.0 2.0 0 1 0 4.0 0M532.2 485.5a2.0 2.0 0 1 0-4.0 0a2.0 2.0 0 1 0 4.0 0M532.2 501.1a2.0 2.0 0 1 0-4.0 0a2.0 2.0 0 1 0 4.0 0M532.2 597.3a2.0 2.0 0 1 0-4.0 0a2.0 2.0 0 1 0 4.0 0M532.2 602.3a2.0 2.0 0 1 0-4.0 0a2.0 2.0 0 1 0 4.0 0M532.2 615.6a2.0 2.0 0 1 0-4.0 0a2.0 2.0 0 1 0 4.0 0M532.2 617.8a2.0 2.0 0 1 0-4.0 0a2.0 2.0 0 1 0 4.0 0M532.2 651.4a2.0 2.0 0 1 0-4.0 0a2.0 2.0 0 1 0 4.0 0M532.2 659.1a2.0 2.0 0 1 0-4.0 0a2.0 2.0 0 1 0 4.0 0M533.4 467.5a2.0 2.0 0 1 0-4.0 0a2.0 2.0 0 1 0 4.0 0M533.4 478.8a2.0 2.0 0 1 0-4.0 0a2.0 2.0 0 1 0 4.0 0M533.4 489.8a2.0 2.0 0 1 0-4.0 0a2.0 2.0 0 1 0 4.0 0M533.4 499.9a2.0 2.0 0 1 0-4.0 0a2.0 2.0 0 1 0 4.0 0M533.4 500.3a2.0 2.0 0 1 0-4.0 0a2.0 2.0 0 1 0 4.0 0M533.4 505.5a2.0 2.0 0 1 0-4.0 0a2.0 2.0 0 1 0 4.0 0M533.4 507.4a2.0 2.0 0 1 0-4.0 0a2.0 2.0 0 1 0 4.0 0M533.4 594.0a2.0 2.0 0 1 0-4.0 0a2.0 2.0 0 1 0 4.0 0M533.4 600.9a2.0 2.0 0 1 0-4.0 0a2.0 2.0 0 1 0 4.0 0M533.4 605.1a2.0 2.0 0 1 0-4.0 0a2.0 2.0 0 1 0 4.0 0M533.4 606.6a2.0 2.0 0 1 0-4.0 0a2.0 2.0 0 1 0 4.0 0M533.4 611.7a2.0 2.0 0 1 0-4.0 0a2.0 2.0 0 1 0 4.0 0M533.4 635.8a2.0 2.0 0 1 0-4.0 0a2.0 2.0 0 1 0 4.0 0M533.4 651.4a2.0 2.0 0 1 0-4.0 0a2.0 2.0 0 1 0 4.0 0M533.4 659.1a2.0 2.0 0 1 0-4.0 0a2.0 2.0 0 1 0 4.0 0M534.5 478.6a2.0 2.0 0 1 0-4.0 0a2.0 2.0 0 1 0 4.0 0M534.5 497.5a2.0 2.0 0 1 0-4.0 0a2.0 2.0 0 1 0 4.0 0M534.5 501.1a2.0 2.0 0 1 0-4.0 0a2.0 2.0 0 1 0 4.0 0M534.5 501.4a2.0 2.0 0 1 0-4.0 0a2.0 2.0 0 1 0 4.0 0M534.5 505.3a2.0 2.0 0 1 0-4.0 0a2.0 2.0 0 1 0 4.0 0M534.5 611.7a2.0 2.0 0 1 0-4.0 0a2.0 2.0 0 1 0 4.0 0M534.5 631.9a2.0 2.0 0 1 0-4.0 0a2.0 2.0 0 1 0 4.0 0M534.5 659.1a2.0 2.0 0 1 0-4.0 0a2.0 2.0 0 1 0 4.0 0M535.5 484.1a2.0 2.0 0 1 0-4.0 0a2.0 2.0 0 1 0 4.0 0M535.5 507.0a2.0 2.0 0 1 0-4.0 0a2.0 2.0 0 1 0 4.0 0M535.5 599.7a2.0 2.0 0 1 0-4.0 0a2.0 2.0 0 1 0 4.0 0M535.5 606.6a2.0 2.0 0 1 0-4.0 0a2.0 2.0 0 1 0 4.0 0M535.5 609.9a2.0 2.0 0 1 0-4.0 0a2.0 2.0 0 1 0 4.0 0M535.5 640.1a2.0 2.0 0 1 0-4.0 0a2.0 2.0 0 1 0 4.0 0M535.5 651.4a2.0 2.0 0 1 0-4.0 0a2.0 2.0 0 1 0 4.0 0M536.6 489.4a2.0 2.0 0 1 0-4.0 0a2.0 2.0 0 1 0 4.0 0M536.6 497.5a2.0 2.0 0 1 0-4.0 0a2.0 2.0 0 1 0 4.0 0M536.6 608.2a2.0 2.0 0 1 0-4.0 0a2.0 2.0 0 1 0 4.0 0M536.6 635.8a2.0 2.0 0 1 0-4.0 0a2.0 2.0 0 1 0 4.0 0M537.6 503.8a2.0 2.0 0 1 0-4.0 0a2.0 2.0 0 1 0 4.0 0M537.6 507.1a2.0 2.0 0 1 0-4.0 0a2.0 2.0 0 1 0 4.0 0M537.6 597.3a2.0 2.0 0 1 0-4.0 0a2.0 2.0 0 1 0 4.0 0M537.6 625.5a2.0 2.0 0 1 0-4.0 0a2.0 2.0 0 1 0 4.0 0M537.6 628.5a2.0 2.0 0 1 0-4.0 0a2.0 2.0 0 1 0 4.0 0M537.6 651.4a2.0 2.0 0 1 0-4.0 0a2.0 2.0 0 1 0 4.0 0M537.6 659.1a2.0 2.0 0 1 0-4.0 0a2.0 2.0 0 1 0 4.0 0M538.5 485.2a2.0 2.0 0 1 0-4.0 0a2.0 2.0 0 1 0 4.0 0M538.5 485.4a2.0 2.0 0 1 0-4.0 0a2.0 2.0 0 1 0 4.0 0M538.5 491.6a2.0 2.0 0 1 0-4.0 0a2.0 2.0 0 1 0 4.0 0M538.5 492.2a2.0 2.0 0 1 0-4.0 0a2.0 2.0 0 1 0 4.0 0M538.5 493.1a2.0 2.0 0 1 0-4.0 0a2.0 2.0 0 1 0 4.0 0M538.5 493.5a2.0 2.0 0 1 0-4.0 0a2.0 2.0 0 1 0 4.0 0M538.5 495.1a2.0 2.0 0 1 0-4.0 0a2.0 2.0 0 1 0 4.0 0M538.5 498.5a2.0 2.0 0 1 0-4.0 0a2.0 2.0 0 1 0 4.0 0M538.5 595.1a2.0 2.0 0 1 0-4.0 0a2.0 2.0 0 1 0 4.0 0M538.5 596.2a2.0 2.0 0 1 0-4.0 0a2.0 2.0 0 1 0 4.0 0M538.5 600.9a2.0 2.0 0 1 0-4.0 0a2.0 2.0 0 1 0 4.0 0M538.5 613.6a2.0 2.0 0 1 0-4.0 0a2.0 2.0 0 1 0 4.0 0M539.5 493.0a2.0 2.0 0 1 0-4.0 0a2.0 2.0 0 1 0 4.0 0M539.5 505.2a2.0 2.0 0 1 0-4.0 0a2.0 2.0 0 1 0 4.0 0M539.5 589.3a2.0 2.0 0 1 0-4.0 0a2.0 2.0 0 1 0 4.0 0M539.5 596.2a2.0 2.0 0 1 0-4.0 0a2.0 2.0 0 1 0 4.0 0M539.5 617.8a2.0 2.0 0 1 0-4.0 0a2.0 2.0 0 1 0 4.0 0M539.5 625.5a2.0 2.0 0 1 0-4.0 0a2.0 2.0 0 1 0 4.0 0M539.5 651.4a2.0 2.0 0 1 0-4.0 0a2.0 2.0 0 1 0 4.0 0M539.5 659.1a2.0 2.0 0 1 0-4.0 0a2.0 2.0 0 1 0 4.0 0M540.4 488.6a2.0 2.0 0 1 0-4.0 0a2.0 2.0 0 1 0 4.0 0M540.4 497.8a2.0 2.0 0 1 0-4.0 0a2.0 2.0 0 1 0 4.0 0M540.4 598.5a2.0 2.0 0 1 0-4.0 0a2.0 2.0 0 1 0 4.0 0M540.4 603.6a2.0 2.0 0 1 0-4.0 0a2.0 2.0 0 1 0 4.0 0M540.4 615.6a2.0 2.0 0 1 0-4.0 0a2.0 2.0 0 1 0 4.0 0M540.4 651.4a2.0 2.0 0 1 0-4.0 0a2.0 2.0 0 1 0 4.0 0M541.3 486.1a2.0 2.0 0 1 0-4.0 0a2.0 2.0 0 1 0 4.0 0M541.3 590.1a2.0 2.0 0 1 0-4.0 0a2.0 2.0 0 1 0 4.0 0M541.3 592.0a2.0 2.0 0 1 0-4.0 0a2.0 2.0 0 1 0 4.0 0M541.3 606.6a2.0 2.0 0 1 0-4.0 0a2.0 2.0 0 1 0 4.0 0M541.3 609.9a2.0 2.0 0 1 0-4.0 0a2.0 2.0 0 1 0 4.0 0M541.3 622.7a2.0 2.0 0 1 0-4.0 0a2.0 2.0 0 1 0 4.0 0M541.3 645.2a2.0 2.0 0 1 0-4.0 0a2.0 2.0 0 1 0 4.0 0M542.2 493.2a2.0 2.0 0 1 0-4.0 0a2.0 2.0 0 1 0 4.0 0M542.2 496.7a2.0 2.0 0 1 0-4.0 0a2.0 2.0 0 1 0 4.0 0M542.2 498.5a2.0 2.0 0 1 0-4.0 0a2.0 2.0 0 1 0 4.0 0M542.2 594.0a2.0 2.0 0 1 0-4.0 0a2.0 2.0 0 1 0 4.0 0M542.2 595.1a2.0 2.0 0 1 0-4.0 0a2.0 2.0 0 1 0 4.0 0M542.2 645.2a2.0 2.0 0 1 0-4.0 0a2.0 2.0 0 1 0 4.0 0M543.0 468.4a2.0 2.0 0 1 0-4.0 0a2.0 2.0 0 1 0 4.0 0M543.0 488.8a2.0 2.0 0 1 0-4.0 0a2.0 2.0 0 1 0 4.0 0M543.0 586.7a2.0 2.0 0 1 0-4.0 0a2.0 2.0 0 1 0 4.0 0M543.0 588.4a2.0 2.0 0 1 0-4.0 0a2.0 2.0 0 1 0 4.0 0M543.0 594.0a2.0 2.0 0 1 0-4.0 0a2.0 2.0 0 1 0 4.0 0M543.0 628.5a2.0 2.0 0 1 0-4.0 0a2.0 2.0 0 1 0 4.0 0M543.0 659.1a2.0 2.0 0 1 0-4.0 0a2.0 2.0 0 1 0 4.0 0M543.8 482.5a2.0 2.0 0 1 0-4.0 0a2.0 2.0 0 1 0 4.0 0M543.8 485.7a2.0 2.0 0 1 0-4.0 0a2.0 2.0 0 1 0 4.0 0M543.8 490.4a2.0 2.0 0 1 0-4.0 0a2.0 2.0 0 1 0 4.0 0M543.8 496.1a2.0 2.0 0 1 0-4.0 0a2.0 2.0 0 1 0 4.0 0M543.8 589.3a2.0 2.0 0 1 0-4.0 0a2.0 2.0 0 1 0 4.0 0M544.6 479.5a2.0 2.0 0 1 0-4.0 0a2.0 2.0 0 1 0 4.0 0M544.6 593.0a2.0 2.0 0 1 0-4.0 0a2.0 2.0 0 1 0 4.0 0M544.6 635.8a2.0 2.0 0 1 0-4.0 0a2.0 2.0 0 1 0 4.0 0M545.4 488.0a2.0 2.0 0 1 0-4.0 0a2.0 2.0 0 1 0 4.0 0M545.4 622.7a2.0 2.0 0 1 0-4.0 0a2.0 2.0 0 1 0 4.0 0M546.2 487.7a2.0 2.0 0 1 0-4.0 0a2.0 2.0 0 1 0 4.0 0M546.2 489.8a2.0 2.0 0 1 0-4.0 0a2.0 2.0 0 1 0 4.0 0M546.2 581.5a2.0 2.0 0 1 0-4.0 0a2.0 2.0 0 1 0 4.0 0M546.2 585.1a2.0 2.0 0 1 0-4.0 0a2.0 2.0 0 1 0 4.0 0M546.2 588.4a2.0 2.0 0 1 0-4.0 0a2.0 2.0 0 1 0 4.0 0M546.9 494.4a2.0 2.0 0 1 0-4.0 0a2.0 2.0 0 1 0 4.0 0M546.9 495.1a2.0 2.0 0 1 0-4.0 0a2.0 2.0 0 1 0 4.0 0M546.9 659.1a2.0 2.0 0 1 0-4.0 0a2.0 2.0 0 1 0 4.0 0M547.7 485.6a2.0 2.0 0 1 0-4.0 0a2.0 2.0 0 1 0 4.0 0M547.7 585.9a2.0 2.0 0 1 0-4.0 0a2.0 2.0 0 1 0 4.0 0M547.7 602.3a2.0 2.0 0 1 0-4.0 0a2.0 2.0 0 1 0 4.0 0M547.7 613.6a2.0 2.0 0 1 0-4.0 0a2.0 2.0 0 1 0 4.0 0M547.7 640.1a2.0 2.0 0 1 0-4.0 0a2.0 2.0 0 1 0 4.0 0M548.4 478.8a2.0 2.0 0 1 0-4.0 0a2.0 2.0 0 1 0 4.0 0M548.4 494.0a2.0 2.0 0 1 0-4.0 0a2.0 2.0 0 1 0 4.0 0M548.4 587.5a2.0 2.0 0 1 0-4.0 0a2.0 2.0 0 1 0 4.0 0M548.4 591.1a2.0 2.0 0 1 0-4.0 0a2.0 2.0 0 1 0 4.0 0M549.1 495.0a2.0 2.0 0 1 0-4.0 0a2.0 2.0 0 1 0 4.0 0M549.1 589.3a2.0 2.0 0 1 0-4.0 0a2.0 2.0 0 1 0 4.0 0M549.1 645.2a2.0 2.0 0 1 0-4.0 0a2.0 2.0 0 1 0 4.0 0M549.7 480.6a2.0 2.0 0 1 0-4.0 0a2.0 2.0 0 1 0 4.0 0M549.7 580.2a2.0 2.0 0 1 0-4.0 0a2.0 2.0 0 1 0 4.0 0M550.4 580.2a2.0 2.0 0 1 0-4.0 0a2.0 2.0 0 1 0 4.0 0M551.7 485.6a2.0 2.0 0 1 0-4.0 0a2.0 2.0 0 1 0 4.0 0M552.3 493.2a2.0 2.0 0 1 0-4.0 0a2.0 2.0 0 1 0 4.0 0M552.3 593.0a2.0 2.0 0 1 0-4.0 0a2.0 2.0 0 1 0 4.0 0M552.3 597.3a2.0 2.0 0 1 0-4.0 0a2.0 2.0 0 1 0 4.0 0M553.0 453.9a2.0 2.0 0 1 0-4.0 0a2.0 2.0 0 1 0 4.0 0M553.0 580.2a2.0 2.0 0 1 0-4.0 0a2.0 2.0 0 1 0 4.0 0M553.0 581.5a2.0 2.0 0 1 0-4.0 0a2.0 2.0 0 1 0 4.0 0M553.5 489.6a2.0 2.0 0 1 0-4.0 0a2.0 2.0 0 1 0 4.0 0M553.5 490.2a2.0 2.0 0 1 0-4.0 0a2.0 2.0 0 1 0 4.0 0M553.5 492.0a2.0 2.0 0 1 0-4.0 0a2.0 2.0 0 1 0 4.0 0M553.5 588.4a2.0 2.0 0 1 0-4.0 0a2.0 2.0 0 1 0 4.0 0M554.1 470.7a2.0 2.0 0 1 0-4.0 0a2.0 2.0 0 1 0 4.0 0M554.1 574.8a2.0 2.0 0 1 0-4.0 0a2.0 2.0 0 1 0 4.0 0M554.1 575.9a2.0 2.0 0 1 0-4.0 0a2.0 2.0 0 1 0 4.0 0M554.1 659.1a2.0 2.0 0 1 0-4.0 0a2.0 2.0 0 1 0 4.0 0M554.7 490.9a2.0 2.0 0 1 0-4.0 0a2.0 2.0 0 1 0 4.0 0M555.3 488.6a2.0 2.0 0 1 0-4.0 0a2.0 2.0 0 1 0 4.0 0M555.3 489.0a2.0 2.0 0 1 0-4.0 0a2.0 2.0 0 1 0 4.0 0M555.3 573.7a2.0 2.0 0 1 0-4.0 0a2.0 2.0 0 1 0 4.0 0M555.3 578.3a2.0 2.0 0 1 0-4.0 0a2.0 2.0 0 1 0 4.0 0M555.3 651.4a2.0 2.0 0 1 0-4.0 0a2.0 2.0 0 1 0 4.0 0M555.9 484.1a2.0 2.0 0 1 0-4.0 0a2.0 2.0 0 1 0 4.0 0M555.9 570.7a2.0 2.0 0 1 0-4.0 0a2.0 2.0 0 1 0 4.0 0M557.0 468.1a2.0 2.0 0 1 0-4.0 0a2.0 2.0 0 1 0 4.0 0M557.0 475.9a2.0 2.0 0 1 0-4.0 0a2.0 2.0 0 1 0 4.0 0M557.0 493.0a2.0 2.0 0 1 0-4.0 0a2.0 2.0 0 1 0 4.0 0M557.0 568.8a2.0 2.0 0 1 0-4.0 0a2.0 2.0 0 1 0 4.0 0M557.0 651.4a2.0 2.0 0 1 0-4.0 0a2.0 2.0 0 1 0 4.0 0M557.5 479.0a2.0 2.0 0 1 0-4.0 0a2.0 2.0 0 1 0 4.0 0M557.5 481.5a2.0 2.0 0 1 0-4.0 0a2.0 2.0 0 1 0 4.0 0M557.5 483.7a2.0 2.0 0 1 0-4.0 0a2.0 2.0 0 1 0 4.0 0M557.5 568.0a2.0 2.0 0 1 0-4.0 0a2.0 2.0 0 1 0 4.0 0M558.0 484.0a2.0 2.0 0 1 0-4.0 0a2.0 2.0 0 1 0 4.0 0M558.5 568.8a2.0 2.0 0 1 0-4.0 0a2.0 2.0 0 1 0 4.0 0M558.5 640.1a2.0 2.0 0 1 0-4.0 0a2.0 2.0 0 1 0 4.0 0M559.0 485.7a2.0 2.0 0 1 0-4.0 0a2.0 2.0 0 1 0 4.0 0M559.0 489.0a2.0 2.0 0 1 0-4.0 0a2.0 2.0 0 1 0 4.0 0M559.5 448.0a2.0 2.0 0 1 0-4.0 0a2.0 2.0 0 1 0 4.0 0M560.0 486.6a2.0 2.0 0 1 0-4.0 0a2.0 2.0 0 1 0 4.0 0M560.0 489.1a2.0 2.0 0 1 0-4.0 0a2.0 2.0 0 1 0 4.0 0M560.0 490.9a2.0 2.0 0 1 0-4.0 0a2.0 2.0 0 1 0 4.0 0M560.5 465.9a2.0 2.0 0 1 0-4.0 0a2.0 2.0 0 1 0 4.0 0M560.5 605.1a2.0 2.0 0 1 0-4.0 0a2.0 2.0 0 1 0 4.0 0M561.0 479.1a2.0 2.0 0 1 0-4.0 0a2.0 2.0 0 1 0 4.0 0M561.0 480.8a2.0 2.0 0 1 0-4.0 0a2.0 2.0 0 1 0 4.0 0M561.0 484.2a2.0 2.0 0 1 0-4.0 0a2.0 2.0 0 1 0 4.0 0M561.0 559.9a2.0 2.0 0 1 0-4.0 0a2.0 2.0 0 1 0 4.0 0M561.0 564.2a2.0 2.0 0 1 0-4.0 0a2.0 2.0 0 1 0 4.0 0M561.0 659.1a2.0 2.0 0 1 0-4.0 0a2.0 2.0 0 1 0 4.0 0M561.9 452.3a2.0 2.0 0 1 0-4.0 0a2.0 2.0 0 1 0 4.0 0M561.9 557.4a2.0 2.0 0 1 0-4.0 0a2.0 2.0 0 1 0 4.0 0M561.9 567.5a2.0 2.0 0 1 0-4.0 0a2.0 2.0 0 1 0 4.0 0M561.9 590.1a2.0 2.0 0 1 0-4.0 0a2.0 2.0 0 1 0 4.0 0M562.4 562.4a2.0 2.0 0 1 0-4.0 0a2.0 2.0 0 1 0 4.0 0M562.4 566.2a2.0 2.0 0 1 0-4.0 0a2.0 2.0 0 1 0 4.0 0M562.4 573.7a2.0 2.0 0 1 0-4.0 0a2.0 2.0 0 1 0 4.0 0M562.8 479.8a2.0 2.0 0 1 0-4.0 0a2.0 2.0 0 1 0 4.0 0M562.8 483.2a2.0 2.0 0 1 0-4.0 0a2.0 2.0 0 1 0 4.0 0M562.8 487.0a2.0 2.0 0 1 0-4.0 0a2.0 2.0 0 1 0 4.0 0M562.8 561.6a2.0 2.0 0 1 0-4.0 0a2.0 2.0 0 1 0 4.0 0M563.3 598.5a2.0 2.0 0 1 0-4.0 0a2.0 2.0 0 1 0 4.0 0M563.7 469.7a2.0 2.0 0 1 0-4.0 0a2.0 2.0 0 1 0 4.0 0M564.1 474.0a2.0 2.0 0 1 0-4.0 0a2.0 2.0 0 1 0 4.0 0M564.1 568.4a2.0 2.0 0 1 0-4.0 0a2.0 2.0 0 1 0 4.0 0M564.6 474.6a2.0 2.0 0 1 0-4.0 0a2.0 2.0 0 1 0 4.0 0M564.6 475.0a2.0 2.0 0 1 0-4.0 0a2.0 2.0 0 1 0 4.0 0M564.6 558.3a2.0 2.0 0 1 0-4.0 0a2.0 2.0 0 1 0 4.0 0M565.0 479.6a2.0 2.0 0 1 0-4.0 0a2.0 2.0 0 1 0 4.0 0M565.0 554.7a2.0 2.0 0 1 0-4.0 0a2.0 2.0 0 1 0 4.0 0M565.4 484.3a2.0 2.0 0 1 0-4.0 0a2.0 2.0 0 1 0 4.0 0M565.4 485.3a2.0 2.0 0 1 0-4.0 0a2.0 2.0 0 1 0 4.0 0M565.4 486.1a2.0 2.0 0 1 0-4.0 0a2.0 2.0 0 1 0 4.0 0M565.4 588.4a2.0 2.0 0 1 0-4.0 0a2.0 2.0 0 1 0 4.0 0M566.2 552.5a2.0 2.0 0 1 0-4.0 0a2.0 2.0 0 1 0 4.0 0M566.2 568.8a2.0 2.0 0 1 0-4.0 0a2.0 2.0 0 1 0 4.0 0M566.2 573.2a2.0 2.0 0 1 0-4.0 0a2.0 2.0 0 1 0 4.0 0M566.6 451.8a2.0 2.0 0 1 0-4.0 0a2.0 2.0 0 1 0 4.0 0M566.6 482.4a2.0 2.0 0 1 0-4.0 0a2.0 2.0 0 1 0 4.0 0M566.6 556.4a2.0 2.0 0 1 0-4.0 0a2.0 2.0 0 1 0 4.0 0M567.0 478.8a2.0 2.0 0 1 0-4.0 0a2.0 2.0 0 1 0 4.0 0M567.0 482.0a2.0 2.0 0 1 0-4.0 0a2.0 2.0 0 1 0 4.0 0M567.0 495.0a2.0 2.0 0 1 0-4.0 0a2.0 2.0 0 1 0 4.0 0M567.4 454.2a2.0 2.0 0 1 0-4.0 0a2.0 2.0 0 1 0 4.0 0M567.4 475.0a2.0 2.0 0 1 0-4.0 0a2.0 2.0 0 1 0 4.0 0M567.4 551.5a2.0 2.0 0 1 0-4.0 0a2.0 2.0 0 1 0 4.0 0M567.4 556.4a2.0 2.0 0 1 0-4.0 0a2.0 2.0 0 1 0 4.0 0M567.8 485.7a2.0 2.0 0 1 0-4.0 0a2.0 2.0 0 1 0 4.0 0M567.8 491.8a2.0 2.0 0 1 0-4.0 0a2.0 2.0 0 1 0 4.0 0M567.8 554.7a2.0 2.0 0 1 0-4.0 0a2.0 2.0 0 1 0 4.0 0M567.8 576.5a2.0 2.0 0 1 0-4.0 0a2.0 2.0 0 1 0 4.0 0M568.1 476.4a2.0 2.0 0 1 0-4.0 0a2.0 2.0 0 1 0 4.0 0M568.1 492.1a2.0 2.0 0 1 0-4.0 0a2.0 2.0 0 1 0 4.0 0M568.1 551.0a2.0 2.0 0 1 0-4.0 0a2.0 2.0 0 1 0 4.0 0M568.1 568.8a2.0 2.0 0 1 0-4.0 0a2.0 2.0 0 1 0 4.0 0M568.1 588.4a2.0 2.0 0 1 0-4.0 0a2.0 2.0 0 1 0 4.0 0M568.5 471.0a2.0 2.0 0 1 0-4.0 0a2.0 2.0 0 1 0 4.0 0M568.5 547.4a2.0 2.0 0 1 0-4.0 0a2.0 2.0 0 1 0 4.0 0M568.5 551.5a2.0 2.0 0 1 0-4.0 0a2.0 2.0 0 1 0 4.0 0M569.3 485.4a2.0 2.0 0 1 0-4.0 0a2.0 2.0 0 1 0 4.0 0M569.3 546.1a2.0 2.0 0 1 0-4.0 0a2.0 2.0 0 1 0 4.0 0M569.6 608.2a2.0 2.0 0 1 0-4.0 0a2.0 2.0 0 1 0 4.0 0M570.0 486.9a2.0 2.0 0 1 0-4.0 0a2.0 2.0 0 1 0 4.0 0M570.0 491.1a2.0 2.0 0 1 0-4.0 0a2.0 2.0 0 1 0 4.0 0M570.0 544.3a2.0 2.0 0 1 0-4.0 0a2.0 2.0 0 1 0 4.0 0M570.3 491.2a2.0 2.0 0 1 0-4.0 0a2.0 2.0 0 1 0 4.0 0M570.3 549.5a2.0 2.0 0 1 0-4.0 0a2.0 2.0 0 1 0 4.0 0M571.0 483.0a2.0 2.0 0 1 0-4.0 0a2.0 2.0 0 1 0 4.0 0M571.0 485.5a2.0 2.0 0 1 0-4.0 0a2.0 2.0 0 1 0 4.0 0M571.4 466.1a2.0 2.0 0 1 0-4.0 0a2.0 2.0 0 1 0 4.0 0M571.4 482.5a2.0 2.0 0 1 0-4.0 0a2.0 2.0 0 1 0 4.0 0M571.4 549.3a2.0 2.0 0 1 0-4.0 0a2.0 2.0 0 1 0 4.0 0M571.7 542.9a2.0 2.0 0 1 0-4.0 0a2.0 2.0 0 1 0 4.0 0M572.0 487.0a2.0 2.0 0 1 0-4.0 0a2.0 2.0 0 1 0 4.0 0M572.7 490.9a2.0 2.0 0 1 0-4.0 0a2.0 2.0 0 1 0 4.0 0M572.7 558.3a2.0 2.0 0 1 0-4.0 0a2.0 2.0 0 1 0 4.0 0M573.0 541.0a2.0 2.0 0 1 0-4.0 0a2.0 2.0 0 1 0 4.0 0M573.7 474.9a2.0 2.0 0 1 0-4.0 0a2.0 2.0 0 1 0 4.0 0M573.7 539.8a2.0 2.0 0 1 0-4.0 0a2.0 2.0 0 1 0 4.0 0M573.7 578.9a2.0 2.0 0 1 0-4.0 0a2.0 2.0 0 1 0 4.0 0M574.0 485.6a2.0 2.0 0 1 0-4.0 0a2.0 2.0 0 1 0 4.0 0M574.0 550.0a2.0 2.0 0 1 0-4.0 0a2.0 2.0 0 1 0 4.0 0M574.0 563.1a2.0 2.0 0 1 0-4.0 0a2.0 2.0 0 1 0 4.0 0M574.3 481.0a2.0 2.0 0 1 0-4.0 0a2.0 2.0 0 1 0 4.0 0M574.3 550.2a2.0 2.0 0 1 0-4.0 0a2.0 2.0 0 1 0 4.0 0M574.6 583.6a2.0 2.0 0 1 0-4.0 0a2.0 2.0 0 1 0 4.0 0M575.5 483.0a2.0 2.0 0 1 0-4.0 0a2.0 2.0 0 1 0 4.0 0M575.5 536.4a2.0 2.0 0 1 0-4.0 0a2.0 2.0 0 1 0 4.0 0M575.8 485.3a2.0 2.0 0 1 0-4.0 0a2.0 2.0 0 1 0 4.0 0M575.8 491.2a2.0 2.0 0 1 0-4.0 0a2.0 2.0 0 1 0 4.0 0M575.8 539.8a2.0 2.0 0 1 0-4.0 0a2.0 2.0 0 1 0 4.0 0M576.4 578.3a2.0 2.0 0 1 0-4.0 0a2.0 2.0 0 1 0 4.0 0M576.7 489.4a2.0 2.0 0 1 0-4.0 0a2.0 2.0 0 1 0 4.0 0M576.7 499.1a2.0 2.0 0 1 0-4.0 0a2.0 2.0 0 1 0 4.0 0M577.0 479.3a2.0 2.0 0 1 0-4.0 0a2.0 2.0 0 1 0 4.0 0M577.0 488.7a2.0 2.0 0 1 0-4.0 0a2.0 2.0 0 1 0 4.0 0M577.0 538.4a2.0 2.0 0 1 0-4.0 0a2.0 2.0 0 1 0 4.0 0M577.3 498.1a2.0 2.0 0 1 0-4.0 0a2.0 2.0 0 1 0 4.0 0M577.6 471.2a2.0 2.0 0 1 0-4.0 0a2.0 2.0 0 1 0 4.0 0M577.6 478.1a2.0 2.0 0 1 0-4.0 0a2.0 2.0 0 1 0 4.0 0M577.6 483.1a2.0 2.0 0 1 0-4.0 0a2.0 2.0 0 1 0 4.0 0M577.8 488.7a2.0 2.0 0 1 0-4.0 0a2.0 2.0 0 1 0 4.0 0M577.8 533.3a2.0 2.0 0 1 0-4.0 0a2.0 2.0 0 1 0 4.0 0M578.1 499.9a2.0 2.0 0 1 0-4.0 0a2.0 2.0 0 1 0 4.0 0M578.4 470.1a2.0 2.0 0 1 0-4.0 0a2.0 2.0 0 1 0 4.0 0M578.7 500.3a2.0 2.0 0 1 0-4.0 0a2.0 2.0 0 1 0 4.0 0M578.7 503.1a2.0 2.0 0 1 0-4.0 0a2.0 2.0 0 1 0 4.0 0M578.9 483.1a2.0 2.0 0 1 0-4.0 0a2.0 2.0 0 1 0 4.0 0M579.2 458.1a2.0 2.0 0 1 0-4.0 0a2.0 2.0 0 1 0 4.0 0M579.2 463.4a2.0 2.0 0 1 0-4.0 0a2.0 2.0 0 1 0 4.0 0M579.2 491.5a2.0 2.0 0 1 0-4.0 0a2.0 2.0 0 1 0 4.0 0M579.5 535.9a2.0 2.0 0 1 0-4.0 0a2.0 2.0 0 1 0 4.0 0M579.7 491.2a2.0 2.0 0 1 0-4.0 0a2.0 2.0 0 1 0 4.0 0M580.0 531.0a2.0 2.0 0 1 0-4.0 0a2.0 2.0 0 1 0 4.0 0M580.2 488.7a2.0 2.0 0 1 0-4.0 0a2.0 2.0 0 1 0 4.0 0M580.2 512.1a2.0 2.0 0 1 0-4.0 0a2.0 2.0 0 1 0 4.0 0M580.5 502.4a2.0 2.0 0 1 0-4.0 0a2.0 2.0 0 1 0 4.0 0M580.8 477.9a2.0 2.0 0 1 0-4.0 0a2.0 2.0 0 1 0 4.0 0M580.8 530.3a2.0 2.0 0 1 0-4.0 0a2.0 2.0 0 1 0 4.0 0M580.8 535.3a2.0 2.0 0 1 0-4.0 0a2.0 2.0 0 1 0 4.0 0M581.0 481.2a2.0 2.0 0 1 0-4.0 0a2.0 2.0 0 1 0 4.0 0M581.0 484.6a2.0 2.0 0 1 0-4.0 0a2.0 2.0 0 1 0 4.0 0M581.3 502.2a2.0 2.0 0 1 0-4.0 0a2.0 2.0 0 1 0 4.0 0M581.3 522.1a2.0 2.0 0 1 0-4.0 0a2.0 2.0 0 1 0 4.0 0M581.3 528.7a2.0 2.0 0 1 0-4.0 0a2.0 2.0 0 1 0 4.0 0M581.5 484.3a2.0 2.0 0 1 0-4.0 0a2.0 2.0 0 1 0 4.0 0M581.8 491.1a2.0 2.0 0 1 0-4.0 0a2.0 2.0 0 1 0 4.0 0M581.8 508.8a2.0 2.0 0 1 0-4.0 0a2.0 2.0 0 1 0 4.0 0M581.8 519.5a2.0 2.0 0 1 0-4.0 0a2.0 2.0 0 1 0 4.0 0M582.0 550.0a2.0 2.0 0 1 0-4.0 0a2.0 2.0 0 1 0 4.0 0M582.5 458.6a2.0 2.0 0 1 0-4.0 0a2.0 2.0 0 1 0 4.0 0M582.5 483.2a2.0 2.0 0 1 0-4.0 0a2.0 2.0 0 1 0 4.0 0M582.5 498.1a2.0 2.0 0 1 0-4.0 0a2.0 2.0 0 1 0 4.0 0M582.7 503.1a2.0 2.0 0 1 0-4.0 0a2.0 2.0 0 1 0 4.0 0M582.7 526.7a2.0 2.0 0 1 0-4.0 0a2.0 2.0 0 1 0 4.0 0M583.2 489.9a2.0 2.0 0 1 0-4.0 0a2.0 2.0 0 1 0 4.0 0M583.2 494.1a2.0 2.0 0 1 0-4.0 0a2.0 2.0 0 1 0 4.0 0M583.2 511.9a2.0 2.0 0 1 0-4.0 0a2.0 2.0 0 1 0 4.0 0M583.2 522.2a2.0 2.0 0 1 0-4.0 0a2.0 2.0 0 1 0 4.0 0M583.2 524.8a2.0 2.0 0 1 0-4.0 0a2.0 2.0 0 1 0 4.0 0M583.4 501.7a2.0 2.0 0 1 0-4.0 0a2.0 2.0 0 1 0 4.0 0M583.7 474.2a2.0 2.0 0 1 0-4.0 0a2.0 2.0 0 1 0 4.0 0M583.7 513.8a2.0 2.0 0 1 0-4.0 0a2.0 2.0 0 1 0 4.0 0M584.1 482.6a2.0 2.0 0 1 0-4.0 0a2.0 2.0 0 1 0 4.0 0M584.1 490.4a2.0 2.0 0 1 0-4.0 0a2.0 2.0 0 1 0 4.0 0M584.1 497.0a2.0 2.0 0 1 0-4.0 0a2.0 2.0 0 1 0 4.0 0M584.4 487.0a2.0 2.0 0 1 0-4.0 0a2.0 2.0 0 1 0 4.0 0M584.8 484.4a2.0 2.0 0 1 0-4.0 0a2.0 2.0 0 1 0 4.0 0M584.8 504.9a2.0 2.0 0 1 0-4.0 0a2.0 2.0 0 1 0 4.0 0M585.0 467.3a2.0 2.0 0 1 0-4.0 0a2.0 2.0 0 1 0 4.0 0M585.0 495.7a2.0 2.0 0 1 0-4.0 0a2.0 2.0 0 1 0 4.0 0M585.0 504.1a2.0 2.0 0 1 0-4.0 0a2.0 2.0 0 1 0 4.0 0M585.0 513.0a2.0 2.0 0 1 0-4.0 0a2.0 2.0 0 1 0 4.0 0M585.0 528.7a2.0 2.0 0 1 0-4.0 0a2.0 2.0 0 1 0 4.0 0M585.2 527.7a2.0 2.0 0 1 0-4.0 0a2.0 2.0 0 1 0 4.0 0M585.2 531.2a2.0 2.0 0 1 0-4.0 0a2.0 2.0 0 1 0 4.0 0M585.5 515.9a2.0 2.0 0 1 0-4.0 0a2.0 2.0 0 1 0 4.0 0M585.5 529.2a2.0 2.0 0 1 0-4.0 0a2.0 2.0 0 1 0 4.0 0M585.7 491.7a2.0 2.0 0 1 0-4.0 0a2.0 2.0 0 1 0 4.0 0M585.7 534.2a2.0 2.0 0 1 0-4.0 0a2.0 2.0 0 1 0 4.0 0M585.9 488.0a2.0 2.0 0 1 0-4.0 0a2.0 2.0 0 1 0 4.0 0M586.3 487.6a2.0 2.0 0 1 0-4.0 0a2.0 2.0 0 1 0 4.0 0M586.3 511.4a2.0 2.0 0 1 0-4.0 0a2.0 2.0 0 1 0 4.0 0M586.8 498.8a2.0 2.0 0 1 0-4.0 0a2.0 2.0 0 1 0 4.0 0M586.8 518.7a2.0 2.0 0 1 0-4.0 0a2.0 2.0 0 1 0 4.0 0M586.8 529.7a2.0 2.0 0 1 0-4.0 0a2.0 2.0 0 1 0 4.0 0M586.8 530.3a2.0 2.0 0 1 0-4.0 0a2.0 2.0 0 1 0 4.0 0M587.0 494.7a2.0 2.0 0 1 0-4.0 0a2.0 2.0 0 1 0 4.0 0M587.0 511.2a2.0 2.0 0 1 0-4.0 0a2.0 2.0 0 1 0 4.0 0M587.0 516.9a2.0 2.0 0 1 0-4.0 0a2.0 2.0 0 1 0 4.0 0M587.0 518.1a2.0 2.0 0 1 0-4.0 0a2.0 2.0 0 1 0 4.0 0M587.4 517.6a2.0 2.0 0 1 0-4.0 0a2.0 2.0 0 1 0 4.0 0M587.6 499.8a2.0 2.0 0 1 0-4.0 0a2.0 2.0 0 1 0 4.0 0M587.8 512.1a2.0 2.0 0 1 0-4.0 0a2.0 2.0 0 1 0 4.0 0M587.9 651.9a2.0 2.0 0 1 0-4.0 0a2.0 2.0 0 1 0 4.0 0M588.0 496.0a2.0 2.0 0 1 0-4.0 0a2.0 2.0 0 1 0 4.0 0M588.4 507.7a2.0 2.0 0 1 0-4.0 0a2.0 2.0 0 1 0 4.0 0M588.6 511.1a2.0 2.0 0 1 0-4.0 0a2.0 2.0 0 1 0 4.0 0M588.6 521.0a2.0 2.0 0 1 0-4.0 0a2.0 2.0 0 1 0 4.0 0M588.8 488.7a2.0 2.0 0 1 0-4.0 0a2.0 2.0 0 1 0 4.0 0M588.8 501.6a2.0 2.0 0 1 0-4.0 0a2.0 2.0 0 1 0 4.0 0M589.4 490.9a2.0 2.0 0 1 0-4.0 0a2.0 2.0 0 1 0 4.0 0M589.8 492.4a2.0 2.0 0 1 0-4.0 0a2.0 2.0 0 1 0 4.0 0M589.8 540.1a2.0 2.0 0 1 0-4.0 0a2.0 2.0 0 1 0 4.0 0M590.5 476.3a2.0 2.0 0 1 0-4.0 0a2.0 2.0 0 1 0 4.0 0M590.9 492.3a2.0 2.0 0 1 0-4.0 0a2.0 2.0 0 1 0 4.0 0M591.1 454.4a2.0 2.0 0 1 0-4.0 0a2.0 2.0 0 1 0 4.0 0M591.1 504.8a2.0 2.0 0 1 0-4.0 0a2.0 2.0 0 1 0 4.0 0M591.4 497.2a2.0 2.0 0 1 0-4.0 0a2.0 2.0 0 1 0 4.0 0M592.5 464.7a2.0 2.0 0 1 0-4.0 0a2.0 2.0 0 1 0 4.0 0M593.7 535.9a2.0 2.0 0 1 0-4.0 0a2.0 2.0 0 1 0 4.0 0M594.9 461.0a2.0 2.0 0 1 0-4.0 0a2.0 2.0 0 1 0 4.0 0M596.8 555.0a2.0 2.0 0 1 0-4.0 0a2.0 2.0 0 1 0 4.0 0M596.9 449.0a2.0 2.0 0 1 0-4.0 0a2.0 2.0 0 1 0 4.0 0M597.1 446.8a2.0 2.0 0 1 0-4.0 0a2.0 2.0 0 1 0 4.0 0M597.2 511.5a2.0 2.0 0 1 0-4.0 0a2.0 2.0 0 1 0 4.0 0M597.4 519.4a2.0 2.0 0 1 0-4.0 0a2.0 2.0 0 1 0 4.0 0M599.4 457.9a2.0 2.0 0 1 0-4.0 0a2.0 2.0 0 1 0 4.0 0M599.6 551.8a2.0 2.0 0 1 0-4.0 0a2.0 2.0 0 1 0 4.0 0M600.7 513.5a2.0 2.0 0 1 0-4.0 0a2.0 2.0 0 1 0 4.0 0M603.0 449.3a2.0 2.0 0 1 0-4.0 0a2.0 2.0 0 1 0 4.0 0M603.5 479.3a2.0 2.0 0 1 0-4.0 0a2.0 2.0 0 1 0 4.0 0M604.2 462.3a2.0 2.0 0 1 0-4.0 0a2.0 2.0 0 1 0 4.0 0M604.4 469.9a2.0 2.0 0 1 0-4.0 0a2.0 2.0 0 1 0 4.0 0M607.0 658.9a2.0 2.0 0 1 0-4.0 0a2.0 2.0 0 1 0 4.0 0M608.9 489.3a2.0 2.0 0 1 0-4.0 0a2.0 2.0 0 1 0 4.0 0M609.3 489.9a2.0 2.0 0 1 0-4.0 0a2.0 2.0 0 1 0 4.0 0M610.0 467.9a2.0 2.0 0 1 0-4.0 0a2.0 2.0 0 1 0 4.0 0M611.9 492.2a2.0 2.0 0 1 0-4.0 0a2.0 2.0 0 1 0 4.0 0M614.4 450.0a2.0 2.0 0 1 0-4.0 0a2.0 2.0 0 1 0 4.0 0M617.5 510.8a2.0 2.0 0 1 0-4.0 0a2.0 2.0 0 1 0 4.0 0M621.6 611.3a2.0 2.0 0 1 0-4.0 0a2.0 2.0 0 1 0 4.0 0M623.8 518.9a2.0 2.0 0 1 0-4.0 0a2.0 2.0 0 1 0 4.0 0M623.8 563.7a2.0 2.0 0 1 0-4.0 0a2.0 2.0 0 1 0 4.0 0M628.9 576.3a2.0 2.0 0 1 0-4.0 0a2.0 2.0 0 1 0 4.0 0M631.1 439.1a2.0 2.0 0 1 0-4.0 0a2.0 2.0 0 1 0 4.0 0M637.7 445.4a2.0 2.0 0 1 0-4.0 0a2.0 2.0 0 1 0 4.0 0M639.9 456.6a2.0 2.0 0 1 0-4.0 0a2.0 2.0 0 1 0 4.0 0M642.8 528.0a2.0 2.0 0 1 0-4.0 0a2.0 2.0 0 1 0 4.0 0M645.0 397.8a2.0 2.0 0 1 0-4.0 0a2.0 2.0 0 1 0 4.0 0M650.9 586.1a2.0 2.0 0 1 0-4.0 0a2.0 2.0 0 1 0 4.0 0M652.3 517.5a2.0 2.0 0 1 0-4.0 0a2.0 2.0 0 1 0 4.0 0M676.5 582.6a2.0 2.0 0 1 0-4.0 0a2.0 2.0 0 1 0 4.0 0M713.0 483.9a2.0 2.0 0 1 0-4.0 0a2.0 2.0 0 1 0 4.0 0" fill="none" stroke="#231f20" stroke-width="0.95"/>
<line x1="59.5" y1="385.5" x2="59.5" y2="672.6" stroke="#8a8a8a" stroke-width="1"/>
<line x1="59.0" y1="672.1" x2="346.2" y2="672.1" stroke="#8a8a8a" stroke-width="1"/>
<line x1="54.6" y1="592.6999999999999" x2="59.5" y2="592.6999999999999" stroke="#8a8a8a" stroke-width="1"/>
<text x="49.00" y="597.35" font-size="13" text-anchor="end">1</text>
<line x1="54.6" y1="507.84999999999997" x2="59.5" y2="507.84999999999997" stroke="#8a8a8a" stroke-width="1"/>
<text x="49.00" y="512.50" font-size="13" text-anchor="end">2</text>
<line x1="54.6" y1="423.0" x2="59.5" y2="423.0" stroke="#8a8a8a" stroke-width="1"/>
<text x="49.00" y="427.65" font-size="13" text-anchor="end">3</text>
<line x1="62.2" y1="672.1" x2="62.2" y2="676.9" stroke="#8a8a8a" stroke-width="1"/>
<text x="62.20" y="693.40" font-size="13" text-anchor="middle">0</text>
<line x1="132.0" y1="672.1" x2="132.0" y2="676.9" stroke="#8a8a8a" stroke-width="1"/>
<text x="132.00" y="693.40" font-size="13" text-anchor="middle">1</text>
<line x1="201.8" y1="672.1" x2="201.8" y2="676.9" stroke="#8a8a8a" stroke-width="1"/>
<text x="201.80" y="693.40" font-size="13" text-anchor="middle">2</text>
<line x1="271.59999999999997" y1="672.1" x2="271.59999999999997" y2="676.9" stroke="#8a8a8a" stroke-width="1"/>
<text x="271.60" y="693.40" font-size="13" text-anchor="middle">3</text>
<line x1="341.4" y1="672.1" x2="341.4" y2="676.9" stroke="#8a8a8a" stroke-width="1"/>
<text x="341.40" y="693.40" font-size="13" text-anchor="middle">4</text>
<text x="89.9" y="397.7" font-size="13"><tspan font-style="italic">r</tspan> = 0.947</text>
<text x="202.50" y="716.00" font-size="13.6" text-anchor="middle">Gene expression (Cortex1)</text>
<text x="202.5" y="731.6" font-size="13.6" text-anchor="middle">log<tspan font-size="9.5" dy="3.9">10</tspan><tspan dy="-3.9">(TPM + 1)</tspan></text>
<text transform="translate(9.9,529.3) rotate(-90)" font-size="13.6" text-anchor="middle">Gene expression (Cortex2)</text>
<text transform="translate(26.1,530.3) rotate(-90)" font-size="13.6" text-anchor="middle">log<tspan font-size="9.5" dy="3.9">10</tspan><tspan dy="-3.9">(TPM + 1)</tspan></text>
<line x1="436.5" y1="384.9" x2="436.5" y2="672.7" stroke="#8a8a8a" stroke-width="1"/>
<line x1="436.0" y1="672.2" x2="722.9" y2="672.2" stroke="#8a8a8a" stroke-width="1"/>
<line x1="431.5" y1="669.4" x2="436.5" y2="669.4" stroke="#8a8a8a" stroke-width="1"/>
<text x="425.40" y="674.05" font-size="13" text-anchor="end">0</text>
<line x1="431.5" y1="599.4" x2="436.5" y2="599.4" stroke="#8a8a8a" stroke-width="1"/>
<text x="425.40" y="604.05" font-size="13" text-anchor="end">1</text>
<line x1="431.5" y1="529.4" x2="436.5" y2="529.4" stroke="#8a8a8a" stroke-width="1"/>
<text x="425.40" y="534.05" font-size="13" text-anchor="end">2</text>
<line x1="431.5" y1="459.4" x2="436.5" y2="459.4" stroke="#8a8a8a" stroke-width="1"/>
<text x="425.40" y="464.05" font-size="13" text-anchor="end">3</text>
<line x1="431.5" y1="389.4" x2="436.5" y2="389.4" stroke="#8a8a8a" stroke-width="1"/>
<text x="425.40" y="394.05" font-size="13" text-anchor="end">4</text>
<line x1="502.54999999999995" y1="672.2" x2="502.54999999999995" y2="676.9" stroke="#8a8a8a" stroke-width="1"/>
<text x="502.55" y="693.40" font-size="13" text-anchor="middle">1</text>
<line x1="575.7" y1="672.2" x2="575.7" y2="676.9" stroke="#8a8a8a" stroke-width="1"/>
<text x="575.70" y="693.40" font-size="13" text-anchor="middle">2</text>
<line x1="648.85" y1="672.2" x2="648.85" y2="676.9" stroke="#8a8a8a" stroke-width="1"/>
<text x="648.85" y="693.40" font-size="13" text-anchor="middle">3</text>
<line x1="722.0" y1="672.2" x2="722.0" y2="676.9" stroke="#8a8a8a" stroke-width="1"/>
<text x="722.00" y="693.40" font-size="13" text-anchor="middle">4</text>
<text x="459.3" y="403.7" font-size="13"><tspan font-style="italic">r</tspan> = 0.881</text>
<text x="576.50" y="716.00" font-size="13.6" text-anchor="middle">Gene expression (pre-LAP-CAP)</text>
<text x="576.2" y="731.6" font-size="13.6" text-anchor="middle">log<tspan font-size="9.5" dy="3.9">10</tspan><tspan dy="-3.9">(TPM + 1)</tspan></text>
<text transform="translate(382.6,529.1) rotate(-90)" font-size="13.6" text-anchor="middle">Gene expression (post-LAP-CAP)</text>
<text transform="translate(400.4,529.1) rotate(-90)" font-size="13.6" text-anchor="middle">log<tspan font-size="9.5" dy="3.9">10</tspan><tspan dy="-3.9">(TPM + 1)</tspan></text>
</svg></body></html>
